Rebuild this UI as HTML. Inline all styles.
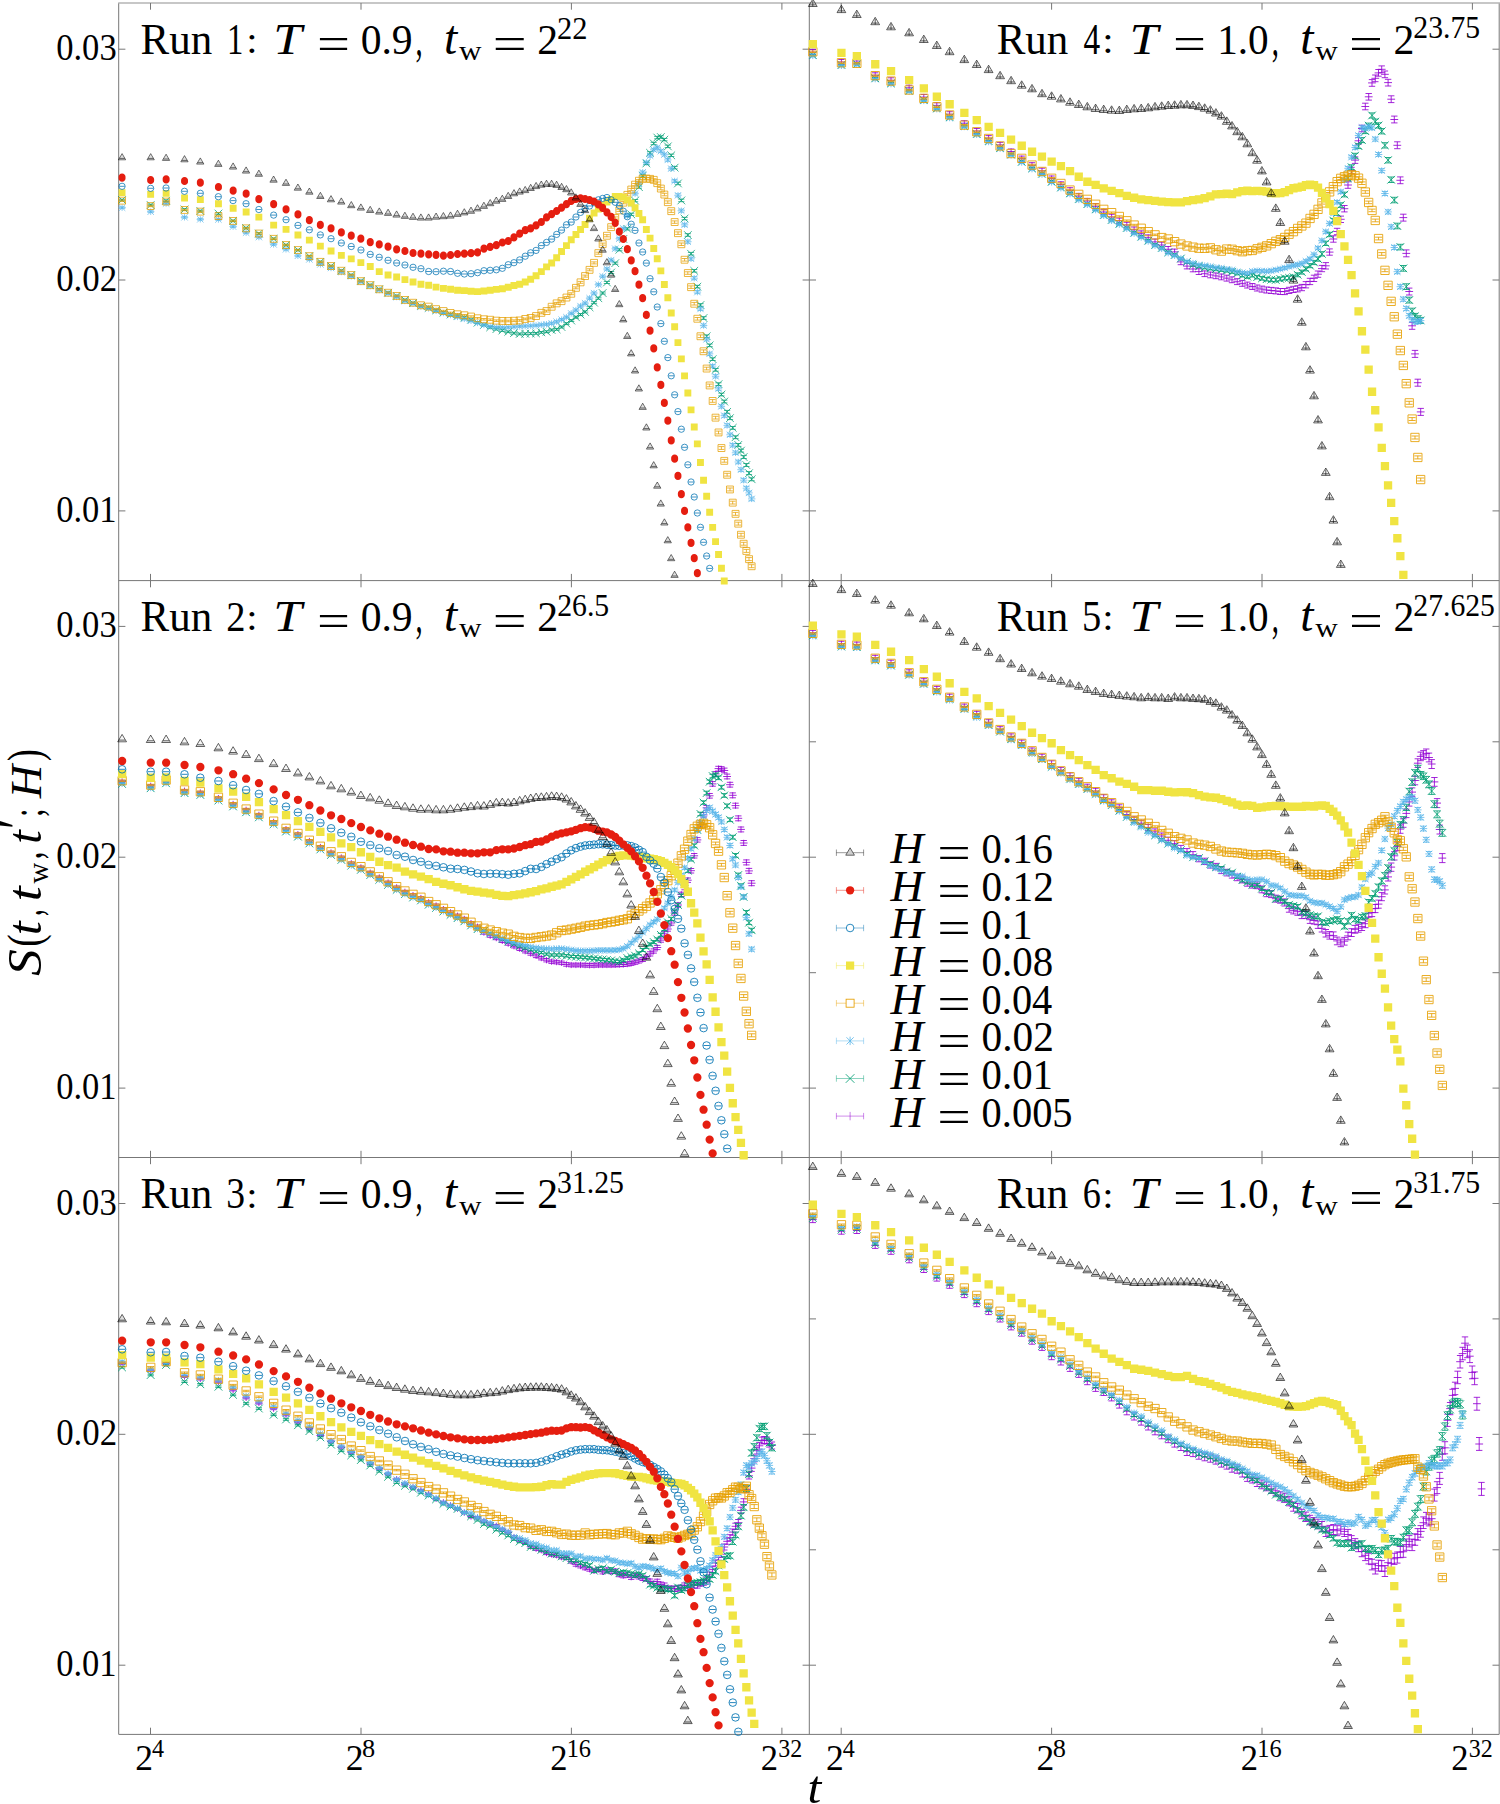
<!DOCTYPE html>
<html><head><meta charset="utf-8"><title>S(t,tw,t';H)</title>
<style>html,body{margin:0;padding:0;background:#fff}body{width:1500px;height:1804px;overflow:hidden}</style></head>
<body>
<svg width="1500" height="1804" viewBox="0 0 1500 1804" style="display:block" font-family="'Liberation Serif', serif" fill="#000">
<rect width="1500" height="1804" fill="#fff"/>
<g stroke="#777" stroke-width="1" fill="none">
<path d="M118.7 3.0V1734.4H1499.2V3.0M809.3 3.0V1734.4M118.7 580.6H1499.2M118.7 1157.5H1499.2"/>
<path d="M118.2 3.0H1500.0" stroke="#b4b4b4" stroke-width="1.7"/>
<path d="M150.5 3.0v6.7M150.5 573.9v13.4M150.5 1150.8v13.4M150.5 1734.4v-6.7M361.0 3.0v6.7M361.0 573.9v13.4M361.0 1150.8v13.4M361.0 1734.4v-6.7M571.4 3.0v6.7M571.4 573.9v13.4M571.4 1150.8v13.4M571.4 1734.4v-6.7M781.9 3.0v6.7M781.9 573.9v13.4M781.9 1150.8v13.4M781.9 1734.4v-6.7M841.2 3.0v6.7M841.2 573.9v13.4M841.2 1150.8v13.4M841.2 1734.4v-6.7M1051.6 3.0v6.7M1051.6 573.9v13.4M1051.6 1150.8v13.4M1051.6 1734.4v-6.7M1262.0 3.0v6.7M1262.0 573.9v13.4M1262.0 1150.8v13.4M1262.0 1734.4v-6.7M1472.4 3.0v6.7M1472.4 573.9v13.4M1472.4 1150.8v13.4M1472.4 1734.4v-6.7M118.7 49.2h6.7M802.5999999999999 49.2h13.4M1499.2 49.2h-6.7M118.7 280.0h6.7M802.5999999999999 280.0h13.4M1499.2 280.0h-6.7M118.7 510.9h6.7M802.5999999999999 510.9h13.4M1499.2 510.9h-6.7M118.7 626.4h6.7M802.5999999999999 626.4h13.4M1499.2 626.4h-6.7M118.7 857.2h6.7M802.5999999999999 857.2h13.4M1499.2 857.2h-6.7M118.7 1088.1h6.7M802.5999999999999 1088.1h13.4M1499.2 1088.1h-6.7M809.3 741.8h6.7M1499.2 741.8h-6.7M809.3 972.7h6.7M1499.2 972.7h-6.7M118.7 1203.5h6.7M802.5999999999999 1203.5h13.4M1499.2 1203.5h-6.7M118.7 1434.3h6.7M802.5999999999999 1434.3h13.4M1499.2 1434.3h-6.7M118.7 1665.2h6.7M802.5999999999999 1665.2h13.4M1499.2 1665.2h-6.7M809.3 1318.9h6.7M1499.2 1318.9h-6.7M809.3 1549.8h6.7M1499.2 1549.8h-6.7"/>
</g>
<g>
<path d="M118.2 196.2l7.7 7.7m0 -7.7l-7.7 7.7M122.1 199.2v1.6M119 199.2h6.2M119 200.8h6.2M146.8 201.2l7.7 7.7m0 -7.7l-7.7 7.7M150.7 204.2v1.6M147.6 204.2h6.2M147.6 205.8h6.2M162.2 196.9l7.7 7.7m0 -7.7l-7.7 7.7M166.1 199.9v1.6M163 199.9h6.2M163 201.5h6.2M180.7 205.6l7.7 7.7m0 -7.7l-7.7 7.7M184.5 208.7v1.6M181.4 208.7h6.2M181.4 210.3h6.2M196.5 207.2l7.7 7.7m0 -7.7l-7.7 7.7M200.3 210.2v1.6M197.2 210.2h6.2M197.2 211.8h6.2M214.6 209.7l7.7 7.7m0 -7.7l-7.7 7.7M218.4 212.7v1.6M215.3 212.7h6.2M215.3 214.3h6.2M229.2 217l7.7 7.7m0 -7.7l-7.7 7.7M233.1 220.1v1.6M230 220.1h6.2M230 221.7h6.2M242.2 224.2l7.7 7.7m0 -7.7l-7.7 7.7M246.1 227.2v1.6M243 227.2h6.2M243 228.8h6.2M255 229.7l7.7 7.7m0 -7.7l-7.7 7.7M258.9 232.7v1.6M255.8 232.7h6.2M255.8 234.3h6.2M269.8 235l7.7 7.7m0 -7.7l-7.7 7.7M273.6 238v1.6M270.5 238h6.2M270.5 239.6h6.2M282.2 241.2l7.7 7.7m0 -7.7l-7.7 7.7M286 244.2v1.6M282.9 244.2h6.2M282.9 245.8h6.2M294.1 246.2l7.7 7.7m0 -7.7l-7.7 7.7M297.9 249.3v1.6M294.8 249.3h6.2M294.8 250.9h6.2M305.5 252.3l7.7 7.7m0 -7.7l-7.7 7.7M309.4 255.4v1.6M306.3 255.4h6.2M306.3 257h6.2M316.5 258l7.7 7.7m0 -7.7l-7.7 7.7M320.4 261.1v1.6M317.3 261.1h6.2M317.3 262.7h6.2M327.2 262.2l7.7 7.7m0 -7.7l-7.7 7.7M331 265.2v1.6M327.9 265.2h6.2M327.9 266.8h6.2M337.5 266.9l7.7 7.7m0 -7.7l-7.7 7.7M341.3 269.9v1.6M338.2 269.9h6.2M338.2 271.5h6.2M347.4 271.2l7.7 7.7m0 -7.7l-7.7 7.7M351.3 274.3v1.6M348.2 274.3h6.2M348.2 275.9h6.2M357 277.1l7.7 7.7m0 -7.7l-7.7 7.7M360.9 280.1v1.6M357.8 280.1h6.2M357.8 281.7h6.2M366.4 281.3l7.7 7.7m0 -7.7l-7.7 7.7M370.2 284.3v1.6M367.1 284.3h6.2M367.1 285.9h6.2M375.4 285.4l7.7 7.7m0 -7.7l-7.7 7.7M379.3 288.5v1.6M376.2 288.5h6.2M376.2 290.1h6.2M384.2 288.9l7.7 7.7m0 -7.7l-7.7 7.7M388.1 291.9v1.6M385 291.9h6.2M385 293.5h6.2M392.8 292.1l7.7 7.7m0 -7.7l-7.7 7.7M396.6 295.2v1.6M393.5 295.2h6.2M393.5 296.8h6.2M401.1 296.1l7.7 7.7m0 -7.7l-7.7 7.7M404.9 299.2v1.6M401.8 299.2h6.2M401.8 300.8h6.2M409.2 299.2l7.7 7.7m0 -7.7l-7.7 7.7M413 302.2v1.6M409.9 302.2h6.2M409.9 303.8h6.2M417.1 302.1l7.7 7.7m0 -7.7l-7.7 7.7M420.9 305.2v1.6M417.8 305.2h6.2M417.8 306.8h6.2M424.8 304l7.7 7.7m0 -7.7l-7.7 7.7M428.6 307.1v1.6M425.5 307.1h6.2M425.5 308.7h6.2M432.2 306.5l7.7 7.7m0 -7.7l-7.7 7.7M436.1 309.5v1.6M433 309.5h6.2M433 311.1h6.2M439.6 308.7l7.7 7.7m0 -7.7l-7.7 7.7M443.4 311.7v1.6M440.3 311.7h6.2M440.3 313.3h6.2M446.7 310.6l7.7 7.7m0 -7.7l-7.7 7.7M450.5 313.7v1.6M447.4 313.7h6.2M447.4 315.3h6.2M453.7 312.1l7.7 7.7m0 -7.7l-7.7 7.7M457.5 315.2v1.6M454.4 315.2h6.2M454.4 316.8h6.2M460.5 313.7l7.7 7.7m0 -7.7l-7.7 7.7M464.3 316.8v1.6M461.2 316.8h6.2M461.2 318.4h6.2M467.2 315.9l7.7 7.7m0 -7.7l-7.7 7.7M471 318.9v1.6M467.9 318.9h6.2M467.9 320.5h6.2M473.7 318.8l7.7 7.7m0 -7.7l-7.7 7.7M477.5 321.8v1.6M474.4 321.8h6.2M474.4 323.4h6.2M480.1 321.1l7.7 7.7m0 -7.7l-7.7 7.7M483.9 324.2v1.6M480.8 324.2h6.2M480.8 325.8h6.2M486.3 323.5l7.7 7.7m0 -7.7l-7.7 7.7M490.2 326.6v1.6M487.1 326.6h6.2M487.1 328.2h6.2M492.5 325.3l7.7 7.7m0 -7.7l-7.7 7.7M496.3 328.4v1.6M493.2 328.4h6.2M493.2 330h6.2M498.5 326.7l7.7 7.7m0 -7.7l-7.7 7.7M502.3 329.7v1.6M499.2 329.7h6.2M499.2 331.4h6.2M504.4 328l7.7 7.7m0 -7.7l-7.7 7.7M508.2 331v1.6M505.1 331h6.2M505.1 332.6h6.2M510.1 329.3l7.7 7.7m0 -7.7l-7.7 7.7M514 332.3v1.7M510.9 332.3h6.2M510.9 334h6.2M515.8 330.1l7.7 7.7m0 -7.7l-7.7 7.7M519.7 333.1v1.7M516.6 333.1h6.2M516.6 334.8h6.2M521.4 329.9l7.7 7.7m0 -7.7l-7.7 7.7M525.2 332.9v1.7M522.1 332.9h6.2M522.1 334.6h6.2M526.8 329.7l7.7 7.7m0 -7.7l-7.7 7.7M530.7 332.7v1.7M527.6 332.7h6.2M527.6 334.4h6.2M532.2 329.5l7.7 7.7m0 -7.7l-7.7 7.7M536.1 332.5v1.8M533 332.5h6.2M533 334.2h6.2M537.5 328.5l7.7 7.7m0 -7.7l-7.7 7.7M541.3 331.5v1.8M538.2 331.5h6.2M538.2 333.2h6.2M542.7 327.9l7.7 7.7m0 -7.7l-7.7 7.7M546.5 330.8v1.8M543.4 330.8h6.2M543.4 332.6h6.2M547.8 326.2l7.7 7.7m0 -7.7l-7.7 7.7M551.6 329.1v1.8M548.5 329.1h6.2M548.5 330.9h6.2M552.8 325.5l7.7 7.7m0 -7.7l-7.7 7.7M556.6 328.4v1.8M553.5 328.4h6.2M553.5 330.2h6.2M557.7 323.2l7.7 7.7m0 -7.7l-7.7 7.7M561.6 326.1v1.9M558.5 326.1h6.2M558.5 328h6.2M562.6 319.8l7.7 7.7m0 -7.7l-7.7 7.7M566.4 322.7v1.9M563.3 322.7h6.2M563.3 324.6h6.2M567.4 316.7l7.7 7.7m0 -7.7l-7.7 7.7M571.2 319.6v1.9M568.1 319.6h6.2M568.1 321.5h6.2M572.1 313.4l7.7 7.7m0 -7.7l-7.7 7.7M575.9 316.2v1.9M572.8 316.2h6.2M572.8 318.2h6.2M576.7 310.7l7.7 7.7m0 -7.7l-7.7 7.7M580.5 313.6v2M577.4 313.6h6.2M577.4 315.6h6.2M581.2 308.1l7.7 7.7m0 -7.7l-7.7 7.7M585.1 310.9v2M582 310.9h6.2M582 312.9h6.2M585.7 303.5l7.7 7.7m0 -7.7l-7.7 7.7M589.6 306.3v2M586.5 306.3h6.2M586.5 308.3h6.2M590.2 298.8l7.7 7.7m0 -7.7l-7.7 7.7M594 301.7v2M590.9 301.7h6.2M590.9 303.7h6.2M594.5 294.4l7.7 7.7m0 -7.7l-7.7 7.7M598.4 297.2v2M595.3 297.2h6.2M595.3 299.2h6.2M598.8 289.2l7.7 7.7m0 -7.7l-7.7 7.7M602.7 292v2.1M599.6 292h6.2M599.6 294h6.2M603.1 278.6l7.7 7.7m0 -7.7l-7.7 7.7M606.9 281.4v2.1M603.8 281.4h6.2M603.8 283.5h6.2M607.3 268.7l7.7 7.7m0 -7.7l-7.7 7.7M611.1 271.5v2.1M608 271.5h6.2M608 273.6h6.2M611.4 259.3l7.7 7.7m0 -7.7l-7.7 7.7M615.2 262.1v2.1M612.1 262.1h6.2M612.1 264.2h6.2M615.5 245.9l7.7 7.7m0 -7.7l-7.7 7.7M619.3 248.7v2.2M616.2 248.7h6.2M616.2 250.8h6.2M619.5 235.1l7.7 7.7m0 -7.7l-7.7 7.7M623.3 237.8v2.2M620.2 237.8h6.2M620.2 240h6.2M623.5 225l7.7 7.7m0 -7.7l-7.7 7.7M627.3 227.8v2.2M624.2 227.8h6.2M624.2 230h6.2M627.4 210.5l7.7 7.7m0 -7.7l-7.7 7.7M631.2 213.2v2.2M628.1 213.2h6.2M628.1 215.4h6.2M631.2 196.8l7.7 7.7m0 -7.7l-7.7 7.7M635.1 199.5v2.2M632 199.5h6.2M632 201.8h6.2M635.1 183.3l7.7 7.7m0 -7.7l-7.7 7.7M638.9 186v2.3M635.8 186h6.2M635.8 188.2h6.2M638.8 172l7.7 7.7m0 -7.7l-7.7 7.7M642.7 174.7v2.3M639.6 174.7h6.2M639.6 177h6.2M642.5 159.6l7.7 7.7m0 -7.7l-7.7 7.7M646.4 162.3v2.3M643.3 162.3h6.2M643.3 164.6h6.2M646.2 149l7.7 7.7m0 -7.7l-7.7 7.7M650.1 151.7v2.3M647 151.7h6.2M647 154h6.2M649.9 139.6l7.7 7.7m0 -7.7l-7.7 7.7M653.7 142.3v2.4M650.6 142.3h6.2M650.6 144.7h6.2M653.4 133.7l7.7 7.7m0 -7.7l-7.7 7.7M657.3 136.4v2.4M654.2 136.4h6.2M654.2 138.8h6.2M657 133.2l7.7 7.7m0 -7.7l-7.7 7.7M660.8 135.8v2.4M657.7 135.8h6.2M657.7 138.2h6.2M660.5 135.8l7.7 7.7m0 -7.7l-7.7 7.7M664.4 138.4v2.4M661.3 138.4h6.2M661.3 140.8h6.2M664 142.5l7.7 7.7m0 -7.7l-7.7 7.7M667.8 145.1v2.4M664.7 145.1h6.2M664.7 147.6h6.2M667.4 151.5l7.7 7.7m0 -7.7l-7.7 7.7M671.2 154.1v2.5M668.1 154.1h6.2M668.1 156.5h6.2M670.8 163.8l7.7 7.7m0 -7.7l-7.7 7.7M674.6 166.4v2.5M671.5 166.4h6.2M671.5 168.9h6.2M674.1 179.6l7.7 7.7m0 -7.7l-7.7 7.7M678 182.2v2.5M674.9 182.2h6.2M674.9 184.7h6.2M677.5 196.6l7.7 7.7m0 -7.7l-7.7 7.7M681.3 199.1v2.5M678.2 199.1h6.2M678.2 201.7h6.2M680.7 214.7l7.7 7.7m0 -7.7l-7.7 7.7M684.6 217.3v2.5M681.5 217.3h6.2M681.5 219.8h6.2M684 231.2l7.7 7.7m0 -7.7l-7.7 7.7M687.8 233.7v2.6M684.7 233.7h6.2M684.7 236.3h6.2M687.2 249.9l7.7 7.7m0 -7.7l-7.7 7.7M691 252.4v2.6M687.9 252.4h6.2M687.9 255h6.2M690.4 267l7.7 7.7m0 -7.7l-7.7 7.7M694.2 269.5v2.6M691.1 269.5h6.2M691.1 272.1h6.2M693.5 282.8l7.7 7.7m0 -7.7l-7.7 7.7M697.4 285.3v2.6M694.3 285.3h6.2M694.3 287.9h6.2M696.6 301.2l7.7 7.7m0 -7.7l-7.7 7.7M700.5 303.7v2.6M697.4 303.7h6.2M697.4 306.3h6.2M699.7 314.2l7.7 7.7m0 -7.7l-7.7 7.7M703.6 316.7v2.7M700.5 316.7h6.2M700.5 319.4h6.2M702.8 332.4l7.7 7.7m0 -7.7l-7.7 7.7M706.6 334.9v2.7M703.5 334.9h6.2M703.5 337.6h6.2M705.8 341.5l7.7 7.7m0 -7.7l-7.7 7.7M709.6 344v2.7M706.5 344h6.2M706.5 346.7h6.2M708.8 355.3l7.7 7.7m0 -7.7l-7.7 7.7M712.6 357.8v2.7M709.5 357.8h6.2M709.5 360.5h6.2M711.7 366l7.7 7.7m0 -7.7l-7.7 7.7M715.6 368.5v2.7M712.5 368.5h6.2M712.5 371.2h6.2M714.7 380.3l7.7 7.7m0 -7.7l-7.7 7.7M718.5 382.8v2.8M715.4 382.8h6.2M715.4 385.5h6.2M717.6 390.7l7.7 7.7m0 -7.7l-7.7 7.7M721.4 393.1v2.8M718.3 393.1h6.2M718.3 395.9h6.2M720.4 397.7l7.7 7.7m0 -7.7l-7.7 7.7M724.3 400.1v2.8M721.2 400.1h6.2M721.2 402.9h6.2M723.3 408l7.7 7.7m0 -7.7l-7.7 7.7M727.1 410.4v2.8M724 410.4h6.2M724 413.3h6.2M726.1 414.3l7.7 7.7m0 -7.7l-7.7 7.7M730 416.8v2.8M726.9 416.8h6.2M726.9 419.6h6.2M728.9 424l7.7 7.7m0 -7.7l-7.7 7.7M732.7 426.5v2.9M729.6 426.5h6.2M729.6 429.3h6.2M731.7 433.4l7.7 7.7m0 -7.7l-7.7 7.7M735.5 435.8v2.9M732.4 435.8h6.2M732.4 438.7h6.2M734.4 441.1l7.7 7.7m0 -7.7l-7.7 7.7M738.3 443.5v2.9M735.2 443.5h6.2M735.2 446.4h6.2M737.1 446.8l7.7 7.7m0 -7.7l-7.7 7.7M741 449.2v2.9M737.9 449.2h6.2M737.9 452.1h6.2M739.8 453.2l7.7 7.7m0 -7.7l-7.7 7.7M743.7 455.6v2.9M740.6 455.6h6.2M740.6 458.5h6.2M742.5 461.2l7.7 7.7m0 -7.7l-7.7 7.7M746.4 463.5v3M743.3 463.5h6.2M743.3 466.5h6.2M745.2 469.3l7.7 7.7m0 -7.7l-7.7 7.7M749 471.6v3M745.9 471.6h6.2M745.9 474.6h6.2M747.8 475.4l7.7 7.7m0 -7.7l-7.7 7.7M751.6 477.8v3M748.5 477.8h6.2M748.5 480.8h6.2" fill="none" stroke="#009e73" stroke-width="0.75"/>
<path d="M118.9 204.5l6.4 6.4m0 -6.4l-6.4 6.4M118.4 207.7h7.4M122.1 204.5v6.4M119 206.8h6.2M119 208.6h6.2M147.5 208.5l6.4 6.4m0 -6.4l-6.4 6.4M147 211.7h7.4M150.7 208.5v6.4M147.6 210.8h6.2M147.6 212.6h6.2M162.9 200.3l6.4 6.4m0 -6.4l-6.4 6.4M162.4 203.5h7.4M166.1 200.3v6.4M163 202.6h6.2M163 204.4h6.2M181.3 214.1l6.4 6.4m0 -6.4l-6.4 6.4M180.8 217.3h7.4M184.5 214.1v6.4M181.4 216.4h6.2M181.4 218.2h6.2M197.1 216.1l6.4 6.4m0 -6.4l-6.4 6.4M196.6 219.3h7.4M200.3 216.1v6.4M197.2 218.4h6.2M197.2 220.2h6.2M215.2 216.3l6.4 6.4m0 -6.4l-6.4 6.4M214.7 219.5h7.4M218.4 216.3v6.4M215.3 218.6h6.2M215.3 220.4h6.2M229.9 223.4l6.4 6.4m0 -6.4l-6.4 6.4M229.4 226.6h7.4M233.1 223.4v6.4M230 225.7h6.2M230 227.5h6.2M242.9 229.5l6.4 6.4m0 -6.4l-6.4 6.4M242.4 232.7h7.4M246.1 229.5v6.4M243 231.8h6.2M243 233.6h6.2M255.7 233.9l6.4 6.4m0 -6.4l-6.4 6.4M255.2 237.1h7.4M258.9 233.9v6.4M255.8 236.2h6.2M255.8 238h6.2M270.4 241.2l6.4 6.4m0 -6.4l-6.4 6.4M269.9 244.4h7.4M273.6 241.2v6.4M270.5 243.5h6.2M270.5 245.3h6.2M282.8 246.1l6.4 6.4m0 -6.4l-6.4 6.4M282.3 249.3h7.4M286 246.1v6.4M282.9 248.4h6.2M282.9 250.2h6.2M294.7 252.6l6.4 6.4m0 -6.4l-6.4 6.4M294.2 255.8h7.4M297.9 252.6v6.4M294.8 254.9h6.2M294.8 256.7h6.2M306.2 256.2l6.4 6.4m0 -6.4l-6.4 6.4M305.7 259.4h7.4M309.4 256.2v6.4M306.3 258.5h6.2M306.3 260.3h6.2M317.2 261.2l6.4 6.4m0 -6.4l-6.4 6.4M316.7 264.4h7.4M320.4 261.2v6.4M317.3 263.5h6.2M317.3 265.3h6.2M327.8 264.8l6.4 6.4m0 -6.4l-6.4 6.4M327.4 268h7.4M331 264.8v6.4M327.9 267.1h6.2M327.9 268.9h6.2M338.1 268.8l6.4 6.4m0 -6.4l-6.4 6.4M337.6 272h7.4M341.3 268.8v6.4M338.2 271.1h6.2M338.2 272.9h6.2M348.1 273.1l6.4 6.4m0 -6.4l-6.4 6.4M347.6 276.3h7.4M351.3 273.1v6.4M348.2 275.4h6.2M348.2 277.2h6.2M357.7 278.7l6.4 6.4m0 -6.4l-6.4 6.4M357.2 281.9h7.4M360.9 278.7v6.4M357.8 281h6.2M357.8 282.8h6.2M367 282.9l6.4 6.4m0 -6.4l-6.4 6.4M366.6 286.1h7.4M370.2 282.9v6.4M367.1 285.2h6.2M367.1 287h6.2M376.1 286.8l6.4 6.4m0 -6.4l-6.4 6.4M375.6 290h7.4M379.3 286.8v6.4M376.2 289.1h6.2M376.2 290.9h6.2M384.9 290.3l6.4 6.4m0 -6.4l-6.4 6.4M384.4 293.5h7.4M388.1 290.3v6.4M385 292.6h6.2M385 294.4h6.2M393.4 293.8l6.4 6.4m0 -6.4l-6.4 6.4M393 297h7.4M396.6 293.8v6.4M393.5 296.1h6.2M393.5 297.9h6.2M401.7 297.8l6.4 6.4m0 -6.4l-6.4 6.4M401.3 301h7.4M404.9 297.8v6.4M401.8 300.1h6.2M401.8 301.9h6.2M409.8 300.5l6.4 6.4m0 -6.4l-6.4 6.4M409.4 303.7h7.4M413 300.5v6.4M409.9 302.8h6.2M409.9 304.6h6.2M417.7 303.3l6.4 6.4m0 -6.4l-6.4 6.4M417.2 306.5h7.4M420.9 303.3v6.4M417.8 305.6h6.2M417.8 307.4h6.2M425.4 305.2l6.4 6.4m0 -6.4l-6.4 6.4M424.9 308.4h7.4M428.6 305.2v6.4M425.5 307.5h6.2M425.5 309.3h6.2M432.9 307.6l6.4 6.4m0 -6.4l-6.4 6.4M432.4 310.8h7.4M436.1 307.6v6.4M433 309.9h6.2M433 311.7h6.2M440.2 309.8l6.4 6.4m0 -6.4l-6.4 6.4M439.7 313h7.4M443.4 309.8v6.4M440.3 312.1h6.2M440.3 313.9h6.2M447.3 311.8l6.4 6.4m0 -6.4l-6.4 6.4M446.9 315h7.4M450.5 311.8v6.4M447.4 314.1h6.2M447.4 315.9h6.2M454.3 313.7l6.4 6.4m0 -6.4l-6.4 6.4M453.8 316.9h7.4M457.5 313.7v6.4M454.4 316h6.2M454.4 317.8h6.2M461.1 315.7l6.4 6.4m0 -6.4l-6.4 6.4M460.7 318.9h7.4M464.3 315.7v6.4M461.2 318h6.2M461.2 319.8h6.2M467.8 317.6l6.4 6.4m0 -6.4l-6.4 6.4M467.3 320.8h7.4M471 317.6v6.4M467.9 319.9h6.2M467.9 321.7h6.2M474.3 319.7l6.4 6.4m0 -6.4l-6.4 6.4M473.9 322.9h7.4M477.5 319.7v6.4M474.4 322h6.2M474.4 323.8h6.2M480.7 321.8l6.4 6.4m0 -6.4l-6.4 6.4M480.2 325h7.4M483.9 321.8v6.4M480.8 324.1h6.2M480.8 325.9h6.2M487 323.3l6.4 6.4m0 -6.4l-6.4 6.4M486.5 326.5h7.4M490.2 323.3v6.4M487.1 325.6h6.2M487.1 327.4h6.2M493.1 324.1l6.4 6.4m0 -6.4l-6.4 6.4M492.6 327.3h7.4M496.3 324.1v6.4M493.2 326.4h6.2M493.2 328.2h6.2M499.1 324.3l6.4 6.4m0 -6.4l-6.4 6.4M498.6 327.5h7.4M502.3 324.3v6.4M499.2 326.6h6.2M499.2 328.4h6.2M505 324.1l6.4 6.4m0 -6.4l-6.4 6.4M504.5 327.3h7.4M508.2 324.1v6.4M505.1 326.4h6.2M505.1 328.3h6.2M510.8 323.6l6.4 6.4m0 -6.4l-6.4 6.4M510.3 326.8h7.4M514 323.6v6.4M510.9 325.9h6.2M510.9 327.7h6.2M516.5 323.2l6.4 6.4m0 -6.4l-6.4 6.4M516 326.4h7.4M519.7 323.2v6.4M516.6 325.4h6.2M516.6 327.3h6.2M522 322.8l6.4 6.4m0 -6.4l-6.4 6.4M521.5 326h7.4M525.2 322.8v6.4M522.1 325.1h6.2M522.1 327h6.2M527.5 322.6l6.4 6.4m0 -6.4l-6.4 6.4M527 325.8h7.4M530.7 322.6v6.4M527.6 324.8h6.2M527.6 326.7h6.2M532.9 322.2l6.4 6.4m0 -6.4l-6.4 6.4M532.4 325.4h7.4M536.1 322.2v6.4M533 324.4h6.2M533 326.3h6.2M538.1 321.6l6.4 6.4m0 -6.4l-6.4 6.4M537.7 324.8h7.4M541.3 321.6v6.4M538.2 323.8h6.2M538.2 325.8h6.2M543.3 321.1l6.4 6.4m0 -6.4l-6.4 6.4M542.8 324.3h7.4M546.5 321.1v6.4M543.4 323.3h6.2M543.4 325.3h6.2M548.4 320.1l6.4 6.4m0 -6.4l-6.4 6.4M547.9 323.3h7.4M551.6 320.1v6.4M548.5 322.3h6.2M548.5 324.4h6.2M553.4 318.5l6.4 6.4m0 -6.4l-6.4 6.4M553 321.7h7.4M556.6 318.5v6.4M553.5 320.7h6.2M553.5 322.8h6.2M558.4 316.4l6.4 6.4m0 -6.4l-6.4 6.4M557.9 319.6h7.4M561.6 316.4v6.4M558.5 318.5h6.2M558.5 320.6h6.2M563.2 314l6.4 6.4m0 -6.4l-6.4 6.4M562.7 317.2h7.4M566.4 314v6.4M563.3 316.1h6.2M563.3 318.2h6.2M568 310.2l6.4 6.4m0 -6.4l-6.4 6.4M567.5 313.4h7.4M571.2 310.2v6.4M568.1 312.3h6.2M568.1 314.4h6.2M572.7 306.9l6.4 6.4m0 -6.4l-6.4 6.4M572.2 310.1h7.4M575.9 306.9v6.4M572.8 309h6.2M572.8 311.2h6.2M577.3 302.9l6.4 6.4m0 -6.4l-6.4 6.4M576.9 306.1h7.4M580.5 302.9v6.4M577.4 305h6.2M577.4 307.2h6.2M581.9 300l6.4 6.4m0 -6.4l-6.4 6.4M581.4 303.2h7.4M585.1 300v6.4M582 302.1h6.2M582 304.4h6.2M586.4 295l6.4 6.4m0 -6.4l-6.4 6.4M585.9 298.2h7.4M589.6 295v6.4M586.5 297h6.2M586.5 299.3h6.2M590.8 289.9l6.4 6.4m0 -6.4l-6.4 6.4M590.3 293.1h7.4M594 289.9v6.4M590.9 292h6.2M590.9 294.3h6.2M595.2 281.4l6.4 6.4m0 -6.4l-6.4 6.4M594.7 284.6h7.4M598.4 281.4v6.4M595.3 283.4h6.2M595.3 285.8h6.2M599.5 273.2l6.4 6.4m0 -6.4l-6.4 6.4M599 276.4h7.4M602.7 273.2v6.4M599.6 275.2h6.2M599.6 277.6h6.2M603.7 265.8l6.4 6.4m0 -6.4l-6.4 6.4M603.3 269h7.4M606.9 265.8v6.4M603.8 267.8h6.2M603.8 270.2h6.2M607.9 256.9l6.4 6.4m0 -6.4l-6.4 6.4M607.4 260.1h7.4M611.1 256.9v6.4M608 258.9h6.2M608 261.3h6.2M612 245.5l6.4 6.4m0 -6.4l-6.4 6.4M611.6 248.7h7.4M615.2 245.5v6.4M612.1 247.4h6.2M612.1 249.9h6.2M616.1 235.5l6.4 6.4m0 -6.4l-6.4 6.4M615.6 238.7h7.4M619.3 235.5v6.4M616.2 237.5h6.2M616.2 240h6.2M620.1 225.3l6.4 6.4m0 -6.4l-6.4 6.4M619.7 228.5h7.4M623.3 225.3v6.4M620.2 227.3h6.2M620.2 229.8h6.2M624.1 212.4l6.4 6.4m0 -6.4l-6.4 6.4M623.6 215.6h7.4M627.3 212.4v6.4M624.2 214.3h6.2M624.2 216.9h6.2M628 200.9l6.4 6.4m0 -6.4l-6.4 6.4M627.5 204.1h7.4M631.2 200.9v6.4M628.1 202.8h6.2M628.1 205.4h6.2M631.9 190.4l6.4 6.4m0 -6.4l-6.4 6.4M631.4 193.6h7.4M635.1 190.4v6.4M632 192.3h6.2M632 194.9h6.2M635.7 180.4l6.4 6.4m0 -6.4l-6.4 6.4M635.2 183.6h7.4M638.9 180.4v6.4M635.8 182.3h6.2M635.8 184.9h6.2M639.5 169.1l6.4 6.4m0 -6.4l-6.4 6.4M639 172.3h7.4M642.7 169.1v6.4M639.6 171h6.2M639.6 173.7h6.2M643.2 159.2l6.4 6.4m0 -6.4l-6.4 6.4M642.7 162.4h7.4M646.4 159.2v6.4M643.3 161h6.2M643.3 163.7h6.2M646.9 152.5l6.4 6.4m0 -6.4l-6.4 6.4M646.4 155.7h7.4M650.1 152.5v6.4M647 154.3h6.2M647 157.1h6.2M650.5 146.5l6.4 6.4m0 -6.4l-6.4 6.4M650 149.7h7.4M653.7 146.5v6.4M650.6 148.4h6.2M650.6 151.1h6.2M654.1 144.4l6.4 6.4m0 -6.4l-6.4 6.4M653.6 147.6h7.4M657.3 144.4v6.4M654.2 146.2h6.2M654.2 149h6.2M657.6 148l6.4 6.4m0 -6.4l-6.4 6.4M657.2 151.2h7.4M660.8 148v6.4M657.7 149.8h6.2M657.7 152.6h6.2M661.2 151.4l6.4 6.4m0 -6.4l-6.4 6.4M660.7 154.6h7.4M664.4 151.4v6.4M661.3 153.2h6.2M661.3 156h6.2M664.6 156.7l6.4 6.4m0 -6.4l-6.4 6.4M664.1 159.9h7.4M667.8 156.7v6.4M664.7 158.4h6.2M664.7 161.3h6.2M668 165.4l6.4 6.4m0 -6.4l-6.4 6.4M667.6 168.6h7.4M671.2 165.4v6.4M668.1 167.1h6.2M668.1 170h6.2M671.4 177.8l6.4 6.4m0 -6.4l-6.4 6.4M671 181h7.4M674.6 177.8v6.4M671.5 179.6h6.2M671.5 182.5h6.2M674.8 192.1l6.4 6.4m0 -6.4l-6.4 6.4M674.3 195.3h7.4M678 192.1v6.4M674.9 193.8h6.2M674.9 196.8h6.2M678.1 207.5l6.4 6.4m0 -6.4l-6.4 6.4M677.6 210.7h7.4M681.3 207.5v6.4M678.2 209.2h6.2M678.2 212.2h6.2M681.4 221.6l6.4 6.4m0 -6.4l-6.4 6.4M680.9 224.8h7.4M684.6 221.6v6.4M681.5 223.3h6.2M681.5 226.3h6.2M684.6 238.5l6.4 6.4m0 -6.4l-6.4 6.4M684.2 241.7h7.4M687.8 238.5v6.4M684.7 240.1h6.2M684.7 243.2h6.2M687.8 255.6l6.4 6.4m0 -6.4l-6.4 6.4M687.4 258.8h7.4M691 255.6v6.4M687.9 257.3h6.2M687.9 260.3h6.2M691 275l6.4 6.4m0 -6.4l-6.4 6.4M690.5 278.2h7.4M694.2 275v6.4M691.1 276.6h6.2M691.1 279.7h6.2M694.2 288.9l6.4 6.4m0 -6.4l-6.4 6.4M693.7 292.1h7.4M697.4 288.9v6.4M694.3 290.5h6.2M694.3 293.6h6.2M697.3 305.8l6.4 6.4m0 -6.4l-6.4 6.4M696.8 309h7.4M700.5 305.8v6.4M697.4 307.4h6.2M697.4 310.5h6.2M700.4 322.3l6.4 6.4m0 -6.4l-6.4 6.4M699.9 325.5h7.4M703.6 322.3v6.4M700.5 323.9h6.2M700.5 327.1h6.2M703.4 336.1l6.4 6.4m0 -6.4l-6.4 6.4M702.9 339.3h7.4M706.6 336.1v6.4M703.5 337.7h6.2M703.5 340.9h6.2M706.4 350.6l6.4 6.4m0 -6.4l-6.4 6.4M705.9 353.8h7.4M709.6 350.6v6.4M706.5 352.2h6.2M706.5 355.4h6.2M709.4 362.9l6.4 6.4m0 -6.4l-6.4 6.4M708.9 366.1h7.4M712.6 362.9v6.4M709.5 364.5h6.2M709.5 367.7h6.2M712.4 373.1l6.4 6.4m0 -6.4l-6.4 6.4M711.9 376.3h7.4M715.6 373.1v6.4M712.5 374.6h6.2M712.5 377.9h6.2M715.3 385.6l6.4 6.4m0 -6.4l-6.4 6.4M714.8 388.8h7.4M718.5 385.6v6.4M715.4 387.1h6.2M715.4 390.4h6.2M718.2 403.2l6.4 6.4m0 -6.4l-6.4 6.4M717.7 406.4h7.4M721.4 403.2v6.4M718.3 404.8h6.2M718.3 408.1h6.2M721.1 412.4l6.4 6.4m0 -6.4l-6.4 6.4M720.6 415.6h7.4M724.3 412.4v6.4M721.2 414h6.2M721.2 417.3h6.2M723.9 422.2l6.4 6.4m0 -6.4l-6.4 6.4M723.5 425.4h7.4M727.1 422.2v6.4M724 423.7h6.2M724 427.1h6.2M726.8 431.6l6.4 6.4m0 -6.4l-6.4 6.4M726.3 434.8h7.4M730 431.6v6.4M726.9 433.1h6.2M726.9 436.5h6.2M729.5 442l6.4 6.4m0 -6.4l-6.4 6.4M729.1 445.2h7.4M732.7 442v6.4M729.6 443.5h6.2M729.6 446.9h6.2M732.3 449.6l6.4 6.4m0 -6.4l-6.4 6.4M731.8 452.8h7.4M735.5 449.6v6.4M732.4 451h6.2M732.4 454.5h6.2M735.1 458.8l6.4 6.4m0 -6.4l-6.4 6.4M734.6 462h7.4M738.3 458.8v6.4M735.2 460.2h6.2M735.2 463.7h6.2M737.8 466.5l6.4 6.4m0 -6.4l-6.4 6.4M737.3 469.7h7.4M741 466.5v6.4M737.9 467.9h6.2M737.9 471.4h6.2M740.5 477l6.4 6.4m0 -6.4l-6.4 6.4M740 480.2h7.4M743.7 477v6.4M740.6 478.4h6.2M740.6 482h6.2M743.2 485l6.4 6.4m0 -6.4l-6.4 6.4M742.7 488.2h7.4M746.4 485v6.4M743.3 486.4h6.2M743.3 490h6.2M745.8 489.7l6.4 6.4m0 -6.4l-6.4 6.4M745.3 492.9h7.4M749 489.7v6.4M745.9 491.1h6.2M745.9 494.7h6.2M748.4 495.7l6.4 6.4m0 -6.4l-6.4 6.4M748 498.9h7.4M751.6 495.7v6.4M748.5 497.1h6.2M748.5 500.7h6.2" fill="none" stroke="#56b4e9" stroke-width="0.68"/>
<path d="M118.6 197.2h6.9v6.9h-6.9zM119.2 200h5.8M119.2 201.4h5.8M122.1 200v1.4M147.2 202.6h6.9v6.9h-6.9zM147.8 205.3h5.8M147.8 206.7h5.8M150.7 205.3v1.4M162.7 198.1h6.9v6.9h-6.9zM163.2 200.8h5.8M163.2 202.2h5.8M166.1 200.8v1.4M181.1 206.5h6.9v6.9h-6.9zM181.6 209.3h5.8M181.6 210.7h5.8M184.5 209.3v1.4M196.9 208.2h6.9v6.9h-6.9zM197.4 211h5.8M197.4 212.4h5.8M200.3 211v1.4M215 212.6h6.9v6.9h-6.9zM215.5 215.3h5.8M215.5 216.7h5.8M218.4 215.3v1.4M229.7 217.5h6.9v6.9h-6.9zM230.2 220.2h5.8M230.2 221.6h5.8M233.1 220.2v1.4M242.7 224.9h6.9v6.9h-6.9zM243.2 227.6h5.8M243.2 229h5.8M246.1 227.6v1.4M255.4 230.1h6.9v6.9h-6.9zM256 232.8h5.8M256 234.2h5.8M258.9 232.8v1.4M270.2 235.4h6.9v6.9h-6.9zM270.7 238.1h5.8M270.7 239.5h5.8M273.6 238.1v1.4M282.6 241.6h6.9v6.9h-6.9zM283.1 244.3h5.8M283.1 245.7h5.8M286 244.3v1.4M294.5 246.6h6.9v6.9h-6.9zM295 249.4h5.8M295 250.8h5.8M297.9 249.4v1.4M305.9 252.7h6.9v6.9h-6.9zM306.5 255.5h5.8M306.5 256.9h5.8M309.4 255.5v1.4M316.9 258.4h6.9v6.9h-6.9zM317.5 261.2h5.8M317.5 262.6h5.8M320.4 261.2v1.4M327.6 262.6h6.9v6.9h-6.9zM328.1 265.3h5.8M328.1 266.7h5.8M331 265.3v1.4M337.9 267.3h6.9v6.9h-6.9zM338.4 270h5.8M338.4 271.4h5.8M341.3 270v1.4M347.8 271.6h6.9v6.9h-6.9zM348.4 274.4h5.8M348.4 275.8h5.8M351.3 274.4v1.4M357.4 277.7h6.9v6.9h-6.9zM358 280.4h5.8M358 281.8h5.8M360.9 280.4v1.4M366.8 281.7h6.9v6.9h-6.9zM367.3 284.4h5.8M367.3 285.8h5.8M370.2 284.4v1.4M375.8 285.8h6.9v6.9h-6.9zM376.4 288.6h5.8M376.4 290h5.8M379.3 288.6v1.4M384.6 289.3h6.9v6.9h-6.9zM385.2 292h5.8M385.2 293.4h5.8M388.1 292v1.4M393.2 292.5h6.9v6.9h-6.9zM393.7 295.3h5.8M393.7 296.7h5.8M396.6 295.3v1.4M401.5 296.5h6.9v6.9h-6.9zM402 299.3h5.8M402 300.7h5.8M404.9 299.3v1.4M409.6 299.3h6.9v6.9h-6.9zM410.1 302h5.8M410.1 303.4h5.8M413 302v1.4M417.5 301.8h6.9v6.9h-6.9zM418 304.6h5.8M418 306h5.8M420.9 304.6v1.4M425.2 303.2h6.9v6.9h-6.9zM425.7 305.9h5.8M425.7 307.3h5.8M428.6 305.9v1.4M432.6 305.7h6.9v6.9h-6.9zM433.2 308.4h5.8M433.2 309.8h5.8M436.1 308.4v1.4M440 307.6h6.9v6.9h-6.9zM440.5 310.3h5.8M440.5 311.7h5.8M443.4 310.3v1.4M447.1 309.5h6.9v6.9h-6.9zM447.6 312.2h5.8M447.6 313.7h5.8M450.5 312.2v1.4M454.1 310.8h6.9v6.9h-6.9zM454.6 313.5h5.8M454.6 315h5.8M457.5 313.5v1.5M460.9 311.8h6.9v6.9h-6.9zM461.4 314.5h5.8M461.4 316h5.8M464.3 314.5v1.5M467.6 313.1h6.9v6.9h-6.9zM468.1 315.8h5.8M468.1 317.3h5.8M471 315.8v1.5M474.1 314.8h6.9v6.9h-6.9zM474.6 317.5h5.8M474.6 319h5.8M477.5 317.5v1.5M480.5 315.8h6.9v6.9h-6.9zM481 318.5h5.8M481 320.1h5.8M483.9 318.5v1.5M486.7 316.3h6.9v6.9h-6.9zM487.3 318.9h5.8M487.3 320.5h5.8M490.2 318.9v1.6M492.9 317.2h6.9v6.9h-6.9zM493.4 319.9h5.8M493.4 321.5h5.8M496.3 319.9v1.6M498.9 317.5h6.9v6.9h-6.9zM499.4 320.2h5.8M499.4 321.8h5.8M502.3 320.2v1.6M504.8 317.6h6.9v6.9h-6.9zM505.3 320.2h5.8M505.3 321.8h5.8M508.2 320.2v1.6M510.5 317.3h6.9v6.9h-6.9zM511.1 319.9h5.8M511.1 321.6h5.8M514 319.9v1.7M516.2 317h6.9v6.9h-6.9zM516.8 319.6h5.8M516.8 321.2h5.8M519.7 319.6v1.7M521.8 315.5h6.9v6.9h-6.9zM522.3 318.1h5.8M522.3 319.8h5.8M525.2 318.1v1.7M527.2 314.5h6.9v6.9h-6.9zM527.8 317.1h5.8M527.8 318.8h5.8M530.7 317.1v1.7M532.6 312.6h6.9v6.9h-6.9zM533.2 315.1h5.8M533.2 316.9h5.8M536.1 315.1v1.8M537.9 309.4h6.9v6.9h-6.9zM538.4 312h5.8M538.4 313.8h5.8M541.3 312v1.8M543.1 307.6h6.9v6.9h-6.9zM543.6 310.2h5.8M543.6 312h5.8M546.5 310.2v1.8M548.2 303.3h6.9v6.9h-6.9zM548.7 305.9h5.8M548.7 307.7h5.8M551.6 305.9v1.8M553.2 299.9h6.9v6.9h-6.9zM553.7 302.4h5.8M553.7 304.3h5.8M556.6 302.4v1.8M558.1 297.7h6.9v6.9h-6.9zM558.7 300.2h5.8M558.7 302.1h5.8M561.6 300.2v1.9M563 294.1h6.9v6.9h-6.9zM563.5 296.6h5.8M563.5 298.5h5.8M566.4 296.6v1.9M567.8 290.3h6.9v6.9h-6.9zM568.3 292.8h5.8M568.3 294.7h5.8M571.2 292.8v1.9M572.5 284.4h6.9v6.9h-6.9zM573 286.9h5.8M573 288.8h5.8M575.9 286.9v1.9M577.1 278.9h6.9v6.9h-6.9zM577.6 281.4h5.8M577.6 283.3h5.8M580.5 281.4v2M581.6 272.6h6.9v6.9h-6.9zM582.2 275.1h5.8M582.2 277.1h5.8M585.1 275.1v2M586.1 266.4h6.9v6.9h-6.9zM586.7 268.8h5.8M586.7 270.8h5.8M589.6 268.8v2M590.6 259.4h6.9v6.9h-6.9zM591.1 261.9h5.8M591.1 263.9h5.8M594 261.9v2M594.9 249.7h6.9v6.9h-6.9zM595.5 252.2h5.8M595.5 254.2h5.8M598.4 252.2v2M599.2 240.7h6.9v6.9h-6.9zM599.8 243.1h5.8M599.8 245.2h5.8M602.7 243.1v2.1M603.5 232.3h6.9v6.9h-6.9zM604 234.7h5.8M604 236.8h5.8M606.9 234.7v2.1M607.7 223.7h6.9v6.9h-6.9zM608.2 226.1h5.8M608.2 228.2h5.8M611.1 226.1v2.1M611.8 214.6h6.9v6.9h-6.9zM612.3 216.9h5.8M612.3 219.1h5.8M615.2 216.9v2.1M615.9 206.9h6.9v6.9h-6.9zM616.4 209.3h5.8M616.4 211.4h5.8M619.3 209.3v2.2M619.9 199.2h6.9v6.9h-6.9zM620.4 201.6h5.8M620.4 203.8h5.8M623.3 201.6v2.2M623.9 191.4h6.9v6.9h-6.9zM624.4 193.7h5.8M624.4 195.9h5.8M627.3 193.7v2.2M627.8 186.1h6.9v6.9h-6.9zM628.3 188.4h5.8M628.3 190.7h5.8M631.2 188.4v2.2M631.6 181.2h6.9v6.9h-6.9zM632.2 183.5h5.8M632.2 185.8h5.8M635.1 183.5v2.2M635.5 177.3h6.9v6.9h-6.9zM636 179.6h5.8M636 181.9h5.8M638.9 179.6v2.3M639.2 175.3h6.9v6.9h-6.9zM639.8 177.6h5.8M639.8 179.9h5.8M642.7 177.6v2.3M642.9 175.1h6.9v6.9h-6.9zM643.5 177.4h5.8M643.5 179.7h5.8M646.4 177.4v2.3M646.6 175.4h6.9v6.9h-6.9zM647.2 177.7h5.8M647.2 180h5.8M650.1 177.7v2.3M650.3 176.4h6.9v6.9h-6.9zM650.8 178.7h5.8M650.8 181h5.8M653.7 178.7v2.4M653.8 179.7h6.9v6.9h-6.9zM654.4 182h5.8M654.4 184.4h5.8M657.3 182v2.4M657.4 185.1h6.9v6.9h-6.9zM657.9 187.4h5.8M657.9 189.8h5.8M660.8 187.4v2.4M660.9 191.1h6.9v6.9h-6.9zM661.5 193.3h5.8M661.5 195.8h5.8M664.4 193.3v2.4M664.4 198.7h6.9v6.9h-6.9zM664.9 200.9h5.8M664.9 203.3h5.8M667.8 200.9v2.4M667.8 207.7h6.9v6.9h-6.9zM668.3 209.9h5.8M668.3 212.4h5.8M671.2 209.9v2.5M671.2 218.6h6.9v6.9h-6.9zM671.7 220.9h5.8M671.7 223.3h5.8M674.6 220.9v2.5M674.5 229.7h6.9v6.9h-6.9zM675.1 231.9h5.8M675.1 234.4h5.8M678 231.9v2.5M677.9 240.8h6.9v6.9h-6.9zM678.4 243h5.8M678.4 245.5h5.8M681.3 243v2.5M681.1 256.3h6.9v6.9h-6.9zM681.7 258.5h5.8M681.7 261.1h5.8M684.6 258.5v2.5M684.4 269.6h6.9v6.9h-6.9zM684.9 271.8h5.8M684.9 274.3h5.8M687.8 271.8v2.6M687.6 283.7h6.9v6.9h-6.9zM688.1 285.9h5.8M688.1 288.4h5.8M691 285.9v2.6M690.8 300.3h6.9v6.9h-6.9zM691.3 302.4h5.8M691.3 305h5.8M694.2 302.4v2.6M693.9 315.3h6.9v6.9h-6.9zM694.5 317.5h5.8M694.5 320.1h5.8M697.4 317.5v2.6M697 332.8h6.9v6.9h-6.9zM697.6 334.9h5.8M697.6 337.6h5.8M700.5 334.9v2.6M700.1 347.8h6.9v6.9h-6.9zM700.7 349.9h5.8M700.7 352.6h5.8M703.6 349.9v2.7M703.2 365.1h6.9v6.9h-6.9zM703.7 367.2h5.8M703.7 369.9h5.8M706.6 367.2v2.7M706.2 382h6.9v6.9h-6.9zM706.7 384.1h5.8M706.7 386.8h5.8M709.6 384.1v2.7M709.2 397.5h6.9v6.9h-6.9zM709.7 399.6h5.8M709.7 402.3h5.8M712.6 399.6v2.7M712.1 414.2h6.9v6.9h-6.9zM712.7 416.3h5.8M712.7 419h5.8M715.6 416.3v2.7M715.1 429h6.9v6.9h-6.9zM715.6 431.1h5.8M715.6 433.9h5.8M718.5 431.1v2.8M718 444.6h6.9v6.9h-6.9zM718.5 446.6h5.8M718.5 449.4h5.8M721.4 446.6v2.8M720.8 457.4h6.9v6.9h-6.9zM721.4 459.4h5.8M721.4 462.2h5.8M724.3 459.4v2.8M723.7 471.3h6.9v6.9h-6.9zM724.2 473.3h5.8M724.2 476.1h5.8M727.1 473.3v2.8M726.5 486h6.9v6.9h-6.9zM727.1 488h5.8M727.1 490.9h5.8M730 488v2.8M729.3 499.2h6.9v6.9h-6.9zM729.8 501.2h5.8M729.8 504h5.8M732.7 501.2v2.9M732.1 510.4h6.9v6.9h-6.9zM732.6 512.4h5.8M732.6 515.3h5.8M735.5 512.4v2.9M734.8 520.2h6.9v6.9h-6.9zM735.4 522.2h5.8M735.4 525.1h5.8M738.3 522.2v2.9M737.5 531.3h6.9v6.9h-6.9zM738.1 533.3h5.8M738.1 536.2h5.8M741 533.3v2.9M740.2 540.3h6.9v6.9h-6.9zM740.8 542.3h5.8M740.8 545.2h5.8M743.7 542.3v2.9M742.9 547.5h6.9v6.9h-6.9zM743.5 549.4h5.8M743.5 552.4h5.8M746.4 549.4v3M745.6 555.7h6.9v6.9h-6.9zM746.1 557.6h5.8M746.1 560.6h5.8M749 557.6v3M748.2 562.8h6.9v6.9h-6.9zM748.7 564.7h5.8M748.7 567.7h5.8M751.6 564.7v3" fill="none" stroke="#e69f00" stroke-width="0.75"/>
<path d="M118.6 189.2h6.9v6.9h-6.9zM147.2 190.9h6.9v6.9h-6.9zM162.7 189.9h6.9v6.9h-6.9zM181.1 194.5h6.9v6.9h-6.9zM196.9 196.2h6.9v6.9h-6.9zM215 200.3h6.9v6.9h-6.9zM229.7 204.8h6.9v6.9h-6.9zM242.7 208.6h6.9v6.9h-6.9zM255.4 213.7h6.9v6.9h-6.9zM270.2 221.7h6.9v6.9h-6.9zM282.6 225.9h6.9v6.9h-6.9zM294.5 231.6h6.9v6.9h-6.9zM305.9 236.7h6.9v6.9h-6.9zM316.9 242.7h6.9v6.9h-6.9zM327.6 247.6h6.9v6.9h-6.9zM337.9 251.9h6.9v6.9h-6.9zM347.8 255.4h6.9v6.9h-6.9zM357.4 259.2h6.9v6.9h-6.9zM366.8 263h6.9v6.9h-6.9zM375.8 268.2h6.9v6.9h-6.9zM384.6 271.6h6.9v6.9h-6.9zM393.2 273.5h6.9v6.9h-6.9zM401.5 276.2h6.9v6.9h-6.9zM409.6 278.6h6.9v6.9h-6.9zM417.5 280.8h6.9v6.9h-6.9zM425.2 281.8h6.9v6.9h-6.9zM432.6 283.7h6.9v6.9h-6.9zM440 284.9h6.9v6.9h-6.9zM447.1 285.8h6.9v6.9h-6.9zM454.1 286.8h6.9v6.9h-6.9zM460.9 287.2h6.9v6.9h-6.9zM467.6 287.8h6.9v6.9h-6.9zM474.1 288.2h6.9v6.9h-6.9zM480.5 287.6h6.9v6.9h-6.9zM486.7 286.8h6.9v6.9h-6.9zM492.9 285.9h6.9v6.9h-6.9zM498.9 285.3h6.9v6.9h-6.9zM504.8 283.8h6.9v6.9h-6.9zM510.5 282.1h6.9v6.9h-6.9zM516.2 280.8h6.9v6.9h-6.9zM521.8 278.6h6.9v6.9h-6.9zM527.2 275.8h6.9v6.9h-6.9zM532.6 272.3h6.9v6.9h-6.9zM537.9 268.2h6.9v6.9h-6.9zM543.1 263.4h6.9v6.9h-6.9zM548.2 259.6h6.9v6.9h-6.9zM553.2 254.3h6.9v6.9h-6.9zM558.1 248h6.9v6.9h-6.9zM563 242.2h6.9v6.9h-6.9zM567.8 236.3h6.9v6.9h-6.9zM572.5 231.1h6.9v6.9h-6.9zM577.1 226h6.9v6.9h-6.9zM581.6 221h6.9v6.9h-6.9zM586.1 214.8h6.9v6.9h-6.9zM590.6 209.5h6.9v6.9h-6.9zM594.9 205.5h6.9v6.9h-6.9zM599.2 201.8h6.9v6.9h-6.9zM603.5 198.5h6.9v6.9h-6.9zM607.7 196h6.9v6.9h-6.9zM611.8 193.1h6.9v6.9h-6.9zM615.9 192.9h6.9v6.9h-6.9zM619.9 193.9h6.9v6.9h-6.9zM623.9 196.4h6.9v6.9h-6.9zM627.8 199.6h6.9v6.9h-6.9zM631.6 204.3h6.9v6.9h-6.9zM635.5 210.1h6.9v6.9h-6.9zM639.2 216.3h6.9v6.9h-6.9zM642.9 226h6.9v6.9h-6.9zM646.6 234.7h6.9v6.9h-6.9zM650.3 245.1h6.9v6.9h-6.9zM653.8 255.3h6.9v6.9h-6.9zM657.4 267.4h6.9v6.9h-6.9zM660.9 281h6.9v6.9h-6.9zM664.4 294.3h6.9v6.9h-6.9zM667.8 309.6h6.9v6.9h-6.9zM671.2 323.3h6.9v6.9h-6.9zM674.5 339.2h6.9v6.9h-6.9zM677.9 355.4h6.9v6.9h-6.9zM681.1 372.4h6.9v6.9h-6.9zM684.4 389.6h6.9v6.9h-6.9zM687.6 406.4h6.9v6.9h-6.9zM690.8 423.5h6.9v6.9h-6.9zM693.9 440.4h6.9v6.9h-6.9zM697 459h6.9v6.9h-6.9zM700.1 476.8h6.9v6.9h-6.9zM703.2 492.8h6.9v6.9h-6.9zM706.2 508.8h6.9v6.9h-6.9zM709.2 523.9h6.9v6.9h-6.9zM712.1 538.2h6.9v6.9h-6.9zM715.1 551h6.9v6.9h-6.9zM718 564.8h6.9v6.9h-6.9zM720.8 577.6h6.9v6.9h-6.9z" fill="#f0e442"/>
<path d="M118.9 186.3a3.1 3.1 0 1 0 6.3 0a3.1 3.1 0 1 0 -6.3 0zM119.4 186.3h5.4M147.5 188.3a3.1 3.1 0 1 0 6.3 0a3.1 3.1 0 1 0 -6.3 0zM148 188.3h5.4M162.9 188a3.1 3.1 0 1 0 6.3 0a3.1 3.1 0 1 0 -6.3 0zM163.4 188h5.4M181.3 191.3a3.1 3.1 0 1 0 6.3 0a3.1 3.1 0 1 0 -6.3 0zM181.8 191.3h5.4M197.2 193.3a3.1 3.1 0 1 0 6.3 0a3.1 3.1 0 1 0 -6.3 0zM197.6 193.3h5.4M215.2 196.7a3.1 3.1 0 1 0 6.3 0a3.1 3.1 0 1 0 -6.3 0zM215.7 196.7h5.4M229.9 200.6a3.1 3.1 0 1 0 6.3 0a3.1 3.1 0 1 0 -6.3 0zM230.4 200.6h5.4M242.9 203.7a3.1 3.1 0 1 0 6.3 0a3.1 3.1 0 1 0 -6.3 0zM243.4 203.7h5.4M255.7 209.5a3.1 3.1 0 1 0 6.3 0a3.1 3.1 0 1 0 -6.3 0zM256.2 209.5h5.4M270.5 215.1a3.1 3.1 0 1 0 6.3 0a3.1 3.1 0 1 0 -6.3 0zM270.9 215.1h5.4M282.9 219.7a3.1 3.1 0 1 0 6.3 0a3.1 3.1 0 1 0 -6.3 0zM283.3 219.7h5.4M294.8 225.4a3.1 3.1 0 1 0 6.3 0a3.1 3.1 0 1 0 -6.3 0zM295.2 225.4h5.4M306.2 229.8a3.1 3.1 0 1 0 6.3 0a3.1 3.1 0 1 0 -6.3 0zM306.7 229.8h5.4M317.2 234.9a3.1 3.1 0 1 0 6.3 0a3.1 3.1 0 1 0 -6.3 0zM317.7 234.9h5.4M327.9 238.7a3.1 3.1 0 1 0 6.3 0a3.1 3.1 0 1 0 -6.3 0zM328.4 238.7h5.4M338.2 243a3.1 3.1 0 1 0 6.3 0a3.1 3.1 0 1 0 -6.3 0zM338.6 243h5.4M348.1 246.5a3.1 3.1 0 1 0 6.3 0a3.1 3.1 0 1 0 -6.3 0zM348.6 246.5h5.4M357.8 250a3.1 3.1 0 1 0 6.3 0a3.1 3.1 0 1 0 -6.3 0zM358.2 250h5.4M367.1 254.4a3.1 3.1 0 1 0 6.3 0a3.1 3.1 0 1 0 -6.3 0zM367.6 254.4h5.4M376.1 257.3a3.1 3.1 0 1 0 6.3 0a3.1 3.1 0 1 0 -6.3 0zM376.6 257.3h5.4M384.9 260.3a3.1 3.1 0 1 0 6.3 0a3.1 3.1 0 1 0 -6.3 0zM385.4 260.3h5.4M393.5 263a3.1 3.1 0 1 0 6.3 0a3.1 3.1 0 1 0 -6.3 0zM394 263h5.4M401.8 265a3.1 3.1 0 1 0 6.3 0a3.1 3.1 0 1 0 -6.3 0zM402.3 265h5.4M409.9 267.3a3.1 3.1 0 1 0 6.3 0a3.1 3.1 0 1 0 -6.3 0zM410.4 267.3h5.4M417.8 268.7a3.1 3.1 0 1 0 6.3 0a3.1 3.1 0 1 0 -6.3 0zM418.2 268.7h5.4M425.5 271.5a3.1 3.1 0 1 0 6.3 0a3.1 3.1 0 1 0 -6.3 0zM425.9 271.5h5.4M432.9 271.7a3.1 3.1 0 1 0 6.3 0a3.1 3.1 0 1 0 -6.3 0zM433.4 271.7h5.4M440.3 271.2a3.1 3.1 0 1 0 6.3 0a3.1 3.1 0 1 0 -6.3 0zM440.7 271.2h5.4M447.4 271.5a3.1 3.1 0 1 0 6.3 0a3.1 3.1 0 1 0 -6.3 0zM447.9 271.5h5.4M454.4 273.3a3.1 3.1 0 1 0 6.3 0a3.1 3.1 0 1 0 -6.3 0zM454.8 273.3h5.4M461.2 274a3.1 3.1 0 1 0 6.3 0a3.1 3.1 0 1 0 -6.3 0zM461.7 274h5.4M467.9 273.7a3.1 3.1 0 1 0 6.3 0a3.1 3.1 0 1 0 -6.3 0zM468.3 273.7h5.4M474.4 272.7a3.1 3.1 0 1 0 6.3 0a3.1 3.1 0 1 0 -6.3 0zM474.9 272.7h5.4M480.8 270.7a3.1 3.1 0 1 0 6.3 0a3.1 3.1 0 1 0 -6.3 0zM481.2 270.7h5.4M487 270.3a3.1 3.1 0 1 0 6.3 0a3.1 3.1 0 1 0 -6.3 0zM487.5 270.3h5.4M493.2 269.8a3.1 3.1 0 1 0 6.3 0a3.1 3.1 0 1 0 -6.3 0zM493.6 269.8h5.4M499.2 268.3a3.1 3.1 0 1 0 6.3 0a3.1 3.1 0 1 0 -6.3 0zM499.6 268.3h5.4M505.1 264.7a3.1 3.1 0 1 0 6.3 0a3.1 3.1 0 1 0 -6.3 0zM505.5 264.7h5.4M510.8 262.7a3.1 3.1 0 1 0 6.3 0a3.1 3.1 0 1 0 -6.3 0zM511.3 262.7h5.4M516.5 259.9a3.1 3.1 0 1 0 6.3 0a3.1 3.1 0 1 0 -6.3 0zM517 259.9h5.4M522.1 256.2a3.1 3.1 0 1 0 6.3 0a3.1 3.1 0 1 0 -6.3 0zM522.5 256.2h5.4M527.5 252.8a3.1 3.1 0 1 0 6.3 0a3.1 3.1 0 1 0 -6.3 0zM528 252.8h5.4M532.9 250.4a3.1 3.1 0 1 0 6.3 0a3.1 3.1 0 1 0 -6.3 0zM533.4 250.4h5.4M538.2 245.6a3.1 3.1 0 1 0 6.3 0a3.1 3.1 0 1 0 -6.3 0zM538.7 245.6h5.4M543.4 242.4a3.1 3.1 0 1 0 6.3 0a3.1 3.1 0 1 0 -6.3 0zM543.8 242.4h5.4M548.5 239.1a3.1 3.1 0 1 0 6.3 0a3.1 3.1 0 1 0 -6.3 0zM548.9 239.1h5.4M553.5 234.4a3.1 3.1 0 1 0 6.3 0a3.1 3.1 0 1 0 -6.3 0zM554 234.4h5.4M558.4 230.1a3.1 3.1 0 1 0 6.3 0a3.1 3.1 0 1 0 -6.3 0zM558.9 230.1h5.4M563.3 224.8a3.1 3.1 0 1 0 6.3 0a3.1 3.1 0 1 0 -6.3 0zM563.7 224.8h5.4M568.1 222.1a3.1 3.1 0 1 0 6.3 0a3.1 3.1 0 1 0 -6.3 0zM568.5 222.1h5.4M572.8 217a3.1 3.1 0 1 0 6.3 0a3.1 3.1 0 1 0 -6.3 0zM573.2 217h5.4M577.4 212.4a3.1 3.1 0 1 0 6.3 0a3.1 3.1 0 1 0 -6.3 0zM577.9 212.4h5.4M581.9 208.4a3.1 3.1 0 1 0 6.3 0a3.1 3.1 0 1 0 -6.3 0zM582.4 208.4h5.4M586.4 206a3.1 3.1 0 1 0 6.3 0a3.1 3.1 0 1 0 -6.3 0zM586.9 206h5.4M590.9 202.8a3.1 3.1 0 1 0 6.3 0a3.1 3.1 0 1 0 -6.3 0zM591.3 202.8h5.4M595.2 199.8a3.1 3.1 0 1 0 6.3 0a3.1 3.1 0 1 0 -6.3 0zM595.7 199.8h5.4M599.5 198.4a3.1 3.1 0 1 0 6.3 0a3.1 3.1 0 1 0 -6.3 0zM600 198.4h5.4M603.8 197.5a3.1 3.1 0 1 0 6.3 0a3.1 3.1 0 1 0 -6.3 0zM604.3 197.5h5.4M608 199.8a3.1 3.1 0 1 0 6.3 0a3.1 3.1 0 1 0 -6.3 0zM608.4 199.8h5.4M612.1 202.3a3.1 3.1 0 1 0 6.3 0a3.1 3.1 0 1 0 -6.3 0zM612.6 202.3h5.4M616.2 205.6a3.1 3.1 0 1 0 6.3 0a3.1 3.1 0 1 0 -6.3 0zM616.6 205.6h5.4M620.2 211.2a3.1 3.1 0 1 0 6.3 0a3.1 3.1 0 1 0 -6.3 0zM620.7 211.2h5.4M624.2 216.7a3.1 3.1 0 1 0 6.3 0a3.1 3.1 0 1 0 -6.3 0zM624.6 216.7h5.4M628.1 224.2a3.1 3.1 0 1 0 6.3 0a3.1 3.1 0 1 0 -6.3 0zM628.5 224.2h5.4M631.9 230.4a3.1 3.1 0 1 0 6.3 0a3.1 3.1 0 1 0 -6.3 0zM632.4 230.4h5.4M635.8 243a3.1 3.1 0 1 0 6.3 0a3.1 3.1 0 1 0 -6.3 0zM636.2 243h5.4M639.5 252a3.1 3.1 0 1 0 6.3 0a3.1 3.1 0 1 0 -6.3 0zM640 252h5.4M643.2 263.1a3.1 3.1 0 1 0 6.3 0a3.1 3.1 0 1 0 -6.3 0zM643.7 263.1h5.4M646.9 278.7a3.1 3.1 0 1 0 6.3 0a3.1 3.1 0 1 0 -6.3 0zM647.4 278.7h5.4M650.6 291.8a3.1 3.1 0 1 0 6.3 0a3.1 3.1 0 1 0 -6.3 0zM651 291.8h5.4M654.1 307a3.1 3.1 0 1 0 6.3 0a3.1 3.1 0 1 0 -6.3 0zM654.6 307h5.4M657.7 323.6a3.1 3.1 0 1 0 6.3 0a3.1 3.1 0 1 0 -6.3 0zM658.2 323.6h5.4M661.2 341.3a3.1 3.1 0 1 0 6.3 0a3.1 3.1 0 1 0 -6.3 0zM661.7 341.3h5.4M664.7 357.6a3.1 3.1 0 1 0 6.3 0a3.1 3.1 0 1 0 -6.3 0zM665.1 357.6h5.4M668.1 375.8a3.1 3.1 0 1 0 6.3 0a3.1 3.1 0 1 0 -6.3 0zM668.6 375.8h5.4M671.5 394.8a3.1 3.1 0 1 0 6.3 0a3.1 3.1 0 1 0 -6.3 0zM672 394.8h5.4M674.8 411.6a3.1 3.1 0 1 0 6.3 0a3.1 3.1 0 1 0 -6.3 0zM675.3 411.6h5.4M678.2 429.2a3.1 3.1 0 1 0 6.3 0a3.1 3.1 0 1 0 -6.3 0zM678.6 429.2h5.4M681.4 447.3a3.1 3.1 0 1 0 6.3 0a3.1 3.1 0 1 0 -6.3 0zM681.9 447.3h5.4M684.7 464.8a3.1 3.1 0 1 0 6.3 0a3.1 3.1 0 1 0 -6.3 0zM685.2 464.8h5.4M687.9 482a3.1 3.1 0 1 0 6.3 0a3.1 3.1 0 1 0 -6.3 0zM688.4 482h5.4M691.1 497a3.1 3.1 0 1 0 6.3 0a3.1 3.1 0 1 0 -6.3 0zM691.5 497h5.4M694.2 513a3.1 3.1 0 1 0 6.3 0a3.1 3.1 0 1 0 -6.3 0zM694.7 513h5.4M697.3 527.3a3.1 3.1 0 1 0 6.3 0a3.1 3.1 0 1 0 -6.3 0zM697.8 527.3h5.4M700.4 542.3a3.1 3.1 0 1 0 6.3 0a3.1 3.1 0 1 0 -6.3 0zM700.9 542.3h5.4M703.5 556a3.1 3.1 0 1 0 6.3 0a3.1 3.1 0 1 0 -6.3 0zM703.9 556h5.4M706.5 568.4a3.1 3.1 0 1 0 6.3 0a3.1 3.1 0 1 0 -6.3 0zM706.9 568.4h5.4" fill="none" stroke="#0072b2" stroke-width="0.75"/>
<path d="M118.6 177.7a3.5 3.5 0 1 0 6.9 0a3.5 3.5 0 1 0 -6.9 0zM147.2 180a3.5 3.5 0 1 0 6.9 0a3.5 3.5 0 1 0 -6.9 0zM162.7 179.3a3.5 3.5 0 1 0 6.9 0a3.5 3.5 0 1 0 -6.9 0zM181.1 181a3.5 3.5 0 1 0 6.9 0a3.5 3.5 0 1 0 -6.9 0zM196.9 182.7a3.5 3.5 0 1 0 6.9 0a3.5 3.5 0 1 0 -6.9 0zM215 187a3.5 3.5 0 1 0 6.9 0a3.5 3.5 0 1 0 -6.9 0zM229.7 190.7a3.5 3.5 0 1 0 6.9 0a3.5 3.5 0 1 0 -6.9 0zM242.7 193.7a3.5 3.5 0 1 0 6.9 0a3.5 3.5 0 1 0 -6.9 0zM255.4 199.1a3.5 3.5 0 1 0 6.9 0a3.5 3.5 0 1 0 -6.9 0zM270.2 204.1a3.5 3.5 0 1 0 6.9 0a3.5 3.5 0 1 0 -6.9 0zM282.6 209.3a3.5 3.5 0 1 0 6.9 0a3.5 3.5 0 1 0 -6.9 0zM294.5 214.4a3.5 3.5 0 1 0 6.9 0a3.5 3.5 0 1 0 -6.9 0zM305.9 220.2a3.5 3.5 0 1 0 6.9 0a3.5 3.5 0 1 0 -6.9 0zM316.9 224.8a3.5 3.5 0 1 0 6.9 0a3.5 3.5 0 1 0 -6.9 0zM327.6 228.3a3.5 3.5 0 1 0 6.9 0a3.5 3.5 0 1 0 -6.9 0zM337.9 232.3a3.5 3.5 0 1 0 6.9 0a3.5 3.5 0 1 0 -6.9 0zM347.8 235.6a3.5 3.5 0 1 0 6.9 0a3.5 3.5 0 1 0 -6.9 0zM357.4 238.7a3.5 3.5 0 1 0 6.9 0a3.5 3.5 0 1 0 -6.9 0zM366.8 242.1a3.5 3.5 0 1 0 6.9 0a3.5 3.5 0 1 0 -6.9 0zM375.8 244.3a3.5 3.5 0 1 0 6.9 0a3.5 3.5 0 1 0 -6.9 0zM384.6 246.7a3.5 3.5 0 1 0 6.9 0a3.5 3.5 0 1 0 -6.9 0zM393.2 249.3a3.5 3.5 0 1 0 6.9 0a3.5 3.5 0 1 0 -6.9 0zM401.5 251a3.5 3.5 0 1 0 6.9 0a3.5 3.5 0 1 0 -6.9 0zM409.6 253a3.5 3.5 0 1 0 6.9 0a3.5 3.5 0 1 0 -6.9 0zM417.5 253.7a3.5 3.5 0 1 0 6.9 0a3.5 3.5 0 1 0 -6.9 0zM425.2 254.3a3.5 3.5 0 1 0 6.9 0a3.5 3.5 0 1 0 -6.9 0zM432.6 254.9a3.5 3.5 0 1 0 6.9 0a3.5 3.5 0 1 0 -6.9 0zM440 255.7a3.5 3.5 0 1 0 6.9 0a3.5 3.5 0 1 0 -6.9 0zM447.1 255a3.5 3.5 0 1 0 6.9 0a3.5 3.5 0 1 0 -6.9 0zM454.1 254a3.5 3.5 0 1 0 6.9 0a3.5 3.5 0 1 0 -6.9 0zM460.9 253.7a3.5 3.5 0 1 0 6.9 0a3.5 3.5 0 1 0 -6.9 0zM467.6 253.1a3.5 3.5 0 1 0 6.9 0a3.5 3.5 0 1 0 -6.9 0zM474.1 252.3a3.5 3.5 0 1 0 6.9 0a3.5 3.5 0 1 0 -6.9 0zM480.5 248.7a3.5 3.5 0 1 0 6.9 0a3.5 3.5 0 1 0 -6.9 0zM486.7 246.9a3.5 3.5 0 1 0 6.9 0a3.5 3.5 0 1 0 -6.9 0zM492.9 245.1a3.5 3.5 0 1 0 6.9 0a3.5 3.5 0 1 0 -6.9 0zM498.9 242.5a3.5 3.5 0 1 0 6.9 0a3.5 3.5 0 1 0 -6.9 0zM504.8 241a3.5 3.5 0 1 0 6.9 0a3.5 3.5 0 1 0 -6.9 0zM510.5 237.4a3.5 3.5 0 1 0 6.9 0a3.5 3.5 0 1 0 -6.9 0zM516.2 233.7a3.5 3.5 0 1 0 6.9 0a3.5 3.5 0 1 0 -6.9 0zM521.8 230.1a3.5 3.5 0 1 0 6.9 0a3.5 3.5 0 1 0 -6.9 0zM527.2 228.4a3.5 3.5 0 1 0 6.9 0a3.5 3.5 0 1 0 -6.9 0zM532.6 225.4a3.5 3.5 0 1 0 6.9 0a3.5 3.5 0 1 0 -6.9 0zM537.9 222a3.5 3.5 0 1 0 6.9 0a3.5 3.5 0 1 0 -6.9 0zM543.1 217.4a3.5 3.5 0 1 0 6.9 0a3.5 3.5 0 1 0 -6.9 0zM548.2 214.1a3.5 3.5 0 1 0 6.9 0a3.5 3.5 0 1 0 -6.9 0zM553.2 211a3.5 3.5 0 1 0 6.9 0a3.5 3.5 0 1 0 -6.9 0zM558.1 207.6a3.5 3.5 0 1 0 6.9 0a3.5 3.5 0 1 0 -6.9 0zM563 204.2a3.5 3.5 0 1 0 6.9 0a3.5 3.5 0 1 0 -6.9 0zM567.8 200.9a3.5 3.5 0 1 0 6.9 0a3.5 3.5 0 1 0 -6.9 0zM572.5 199a3.5 3.5 0 1 0 6.9 0a3.5 3.5 0 1 0 -6.9 0zM577.1 198.3a3.5 3.5 0 1 0 6.9 0a3.5 3.5 0 1 0 -6.9 0zM581.6 199a3.5 3.5 0 1 0 6.9 0a3.5 3.5 0 1 0 -6.9 0zM586.1 200a3.5 3.5 0 1 0 6.9 0a3.5 3.5 0 1 0 -6.9 0zM590.6 201.5a3.5 3.5 0 1 0 6.9 0a3.5 3.5 0 1 0 -6.9 0zM594.9 204.3a3.5 3.5 0 1 0 6.9 0a3.5 3.5 0 1 0 -6.9 0zM599.2 207.8a3.5 3.5 0 1 0 6.9 0a3.5 3.5 0 1 0 -6.9 0zM603.5 212.4a3.5 3.5 0 1 0 6.9 0a3.5 3.5 0 1 0 -6.9 0zM607.7 216.8a3.5 3.5 0 1 0 6.9 0a3.5 3.5 0 1 0 -6.9 0zM611.8 222.8a3.5 3.5 0 1 0 6.9 0a3.5 3.5 0 1 0 -6.9 0zM615.9 231.7a3.5 3.5 0 1 0 6.9 0a3.5 3.5 0 1 0 -6.9 0zM619.9 239a3.5 3.5 0 1 0 6.9 0a3.5 3.5 0 1 0 -6.9 0zM623.9 249.2a3.5 3.5 0 1 0 6.9 0a3.5 3.5 0 1 0 -6.9 0zM627.8 260.3a3.5 3.5 0 1 0 6.9 0a3.5 3.5 0 1 0 -6.9 0zM631.6 271.2a3.5 3.5 0 1 0 6.9 0a3.5 3.5 0 1 0 -6.9 0zM635.5 284.7a3.5 3.5 0 1 0 6.9 0a3.5 3.5 0 1 0 -6.9 0zM639.2 298.2a3.5 3.5 0 1 0 6.9 0a3.5 3.5 0 1 0 -6.9 0zM642.9 314.9a3.5 3.5 0 1 0 6.9 0a3.5 3.5 0 1 0 -6.9 0zM646.6 330.6a3.5 3.5 0 1 0 6.9 0a3.5 3.5 0 1 0 -6.9 0zM650.3 348.3a3.5 3.5 0 1 0 6.9 0a3.5 3.5 0 1 0 -6.9 0zM653.8 367.4a3.5 3.5 0 1 0 6.9 0a3.5 3.5 0 1 0 -6.9 0zM657.4 384.9a3.5 3.5 0 1 0 6.9 0a3.5 3.5 0 1 0 -6.9 0zM660.9 402.8a3.5 3.5 0 1 0 6.9 0a3.5 3.5 0 1 0 -6.9 0zM664.4 420.7a3.5 3.5 0 1 0 6.9 0a3.5 3.5 0 1 0 -6.9 0zM667.8 440.3a3.5 3.5 0 1 0 6.9 0a3.5 3.5 0 1 0 -6.9 0zM671.2 458.7a3.5 3.5 0 1 0 6.9 0a3.5 3.5 0 1 0 -6.9 0zM674.5 475.8a3.5 3.5 0 1 0 6.9 0a3.5 3.5 0 1 0 -6.9 0zM677.9 494.2a3.5 3.5 0 1 0 6.9 0a3.5 3.5 0 1 0 -6.9 0zM681.1 510.9a3.5 3.5 0 1 0 6.9 0a3.5 3.5 0 1 0 -6.9 0zM684.4 527.3a3.5 3.5 0 1 0 6.9 0a3.5 3.5 0 1 0 -6.9 0zM687.6 542.8a3.5 3.5 0 1 0 6.9 0a3.5 3.5 0 1 0 -6.9 0zM690.8 558.1a3.5 3.5 0 1 0 6.9 0a3.5 3.5 0 1 0 -6.9 0zM693.9 573.1a3.5 3.5 0 1 0 6.9 0a3.5 3.5 0 1 0 -6.9 0z" fill="#e51e10"/>
<path d="M122.1 153.6l3.6 6.2h-7.3zM150.7 153.6l3.6 6.2h-7.3zM166.1 154.2l3.6 6.2h-7.3zM184.5 155.6l3.6 6.2h-7.3zM200.3 157.9l3.6 6.2h-7.3zM218.4 160.2l3.6 6.2h-7.3zM233.1 162.9l3.6 6.2h-7.3zM246.1 166.9l3.6 6.2h-7.3zM258.9 170.1l3.6 6.2h-7.3zM273.6 176l3.6 6.2h-7.3zM286 179.2l3.6 6.2h-7.3zM297.9 184l3.6 6.2h-7.3zM309.4 188l3.6 6.2h-7.3zM320.4 192.3l3.6 6.2h-7.3zM331 195.6l3.6 6.2h-7.3zM341.3 197.9l3.6 6.2h-7.3zM351.3 201.5l3.6 6.2h-7.3zM360.9 203.9l3.6 6.2h-7.3zM370.2 206.3l3.6 6.2h-7.3zM379.3 207.9l3.6 6.2h-7.3zM388.1 209.2l3.6 6.2h-7.3zM396.6 210.9l3.6 6.2h-7.3zM404.9 212.2l3.6 6.2h-7.3zM413 213.2l3.6 6.2h-7.3zM420.9 213.9l3.6 6.2h-7.3zM428.6 213.9l3.6 6.2h-7.3zM436.1 213l3.6 6.2h-7.3zM443.4 212.5l3.6 6.2h-7.3zM450.5 211.9l3.6 6.2h-7.3zM457.5 210.2l3.6 6.2h-7.3zM464.3 208.7l3.6 6.2h-7.3zM471 207.1l3.6 6.2h-7.3zM477.5 204.7l3.6 6.2h-7.3zM483.9 202.2l3.6 6.2h-7.3zM490.2 199.5l3.6 6.2h-7.3zM496.3 197l3.6 6.2h-7.3zM502.3 195.2l3.6 6.2h-7.3zM508.2 192.3l3.6 6.2h-7.3zM514 189.6l3.6 6.2h-7.3zM519.7 187.9l3.6 6.2h-7.3zM525.2 186.4l3.6 6.2h-7.3zM530.7 184.3l3.6 6.2h-7.3zM536.1 182.4l3.6 6.2h-7.3zM541.3 181l3.6 6.2h-7.3zM546.5 180.2l3.6 6.2h-7.3zM551.6 180.2l3.6 6.2h-7.3zM556.6 181.2l3.6 6.2h-7.3zM561.6 183.3l3.6 6.2h-7.3zM566.4 185.5l3.6 6.2h-7.3zM571.2 188.8l3.6 6.2h-7.3zM575.9 193.8l3.6 6.2h-7.3zM580.5 200.2l3.6 6.2h-7.3zM585.1 206.4l3.6 6.2h-7.3zM589.6 215.6l3.6 6.2h-7.3zM594 224.4l3.6 6.2h-7.3zM598.4 234.8l3.6 6.2h-7.3zM602.7 246l3.6 6.2h-7.3zM606.9 258.6l3.6 6.2h-7.3zM611.1 271l3.6 6.2h-7.3zM615.2 285.3l3.6 6.2h-7.3zM619.3 300.5l3.6 6.2h-7.3zM623.3 315.7l3.6 6.2h-7.3zM627.3 332.3l3.6 6.2h-7.3zM631.2 349.7l3.6 6.2h-7.3zM635.1 366.8l3.6 6.2h-7.3zM638.9 384.8l3.6 6.2h-7.3zM642.7 403.2l3.6 6.2h-7.3zM646.4 423.8l3.6 6.2h-7.3zM650.1 442.9l3.6 6.2h-7.3zM653.7 461.6l3.6 6.2h-7.3zM657.3 482l3.6 6.2h-7.3zM660.8 499.9l3.6 6.2h-7.3zM664.4 518.8l3.6 6.2h-7.3zM667.8 536.6l3.6 6.2h-7.3zM671.2 554.5l3.6 6.2h-7.3zM674.6 571.2l3.6 6.2h-7.3z" fill="#000" fill-opacity=".13" stroke="#000" stroke-width="0.54"/>
<path d="M119.5 158.4h5.3M148.1 158.4h5.3M163.5 159h5.3M181.9 160.4h5.3M197.7 162.7h5.3M215.8 165h5.3M230.5 167.7h5.3M243.5 171.7h5.3M256.3 174.9h5.3M271 180.8h5.3M283.4 184h5.3M295.3 188.8h5.3M306.7 192.8h5.3M317.8 197.1h5.3M328.4 200.4h5.3M338.7 202.7h5.3M348.6 206.3h5.3M358.3 208.7h5.3M367.6 211.1h5.3M376.7 212.7h5.3M385.5 214h5.3M394 215.7h5.3M402.3 217h5.3M410.4 218h5.3M418.3 218.7h5.3M426 218.7h5.3M433.5 217.8h5.3M440.8 217.3h5.3M447.9 216.7h5.3M454.9 215h5.3M461.7 213.5h5.3M468.4 211.9h5.3M474.9 209.5h5.3M481.3 207h5.3M487.5 204.3h5.3M493.7 201.8h5.3M499.7 200h5.3M505.6 197.1h5.3M511.4 194.4h5.3M517 192.7h5.3M522.6 191.2h5.3M528.1 189.1h5.3M533.4 187.2h5.3M538.7 185.8h5.3M543.9 185h5.3M549 185h5.3M554 186h5.3M558.9 188.1h5.3M563.8 190.3h5.3M568.6 193.6h5.3M573.3 198.6h5.3M577.9 205h5.3M582.5 211.2h5.3M587 220.4h5.3M591.4 229.2h5.3M595.8 239.6h5.3M600.1 250.8h5.3M604.3 263.4h5.3M608.5 275.8h5.3M612.6 290.1h5.3M616.7 305.3h5.3M620.7 320.5h5.3M624.7 337.1h5.3M628.6 354.5h5.3M632.5 371.6h5.3M636.3 389.6h5.3M640 408h5.3M643.8 428.6h5.3M647.4 447.7h5.3M651.1 466.4h5.3M654.7 486.8h5.3M658.2 504.7h5.3M661.7 523.6h5.3M665.2 541.4h5.3M668.6 559.3h5.3M672 576h5.3" fill="none" stroke="#000" stroke-width="0.56"/>
</g>
<g>
<path d="M118.2 781.5h7.8M122.1 778.4v6.2M118.9 780.3h6.4M118.9 782.7h6.4M146.8 785.8h7.8M150.7 782.7v6.2M147.5 784.6h6.4M147.5 787h6.4M162.2 780.8h7.8M166.1 777.7v6.2M162.9 779.6h6.4M162.9 782h6.4M180.6 790.8h7.8M184.5 787.6v6.2M181.3 789.6h6.4M181.3 792h6.4M196.4 792.5h7.8M200.3 789.4v6.2M197.1 791.3h6.4M197.1 793.7h6.4M214.5 798.1h7.8M218.4 795v6.2M215.2 796.9h6.4M215.2 799.3h6.4M229.2 804h7.8M233.1 800.9v6.2M229.9 802.8h6.4M229.9 805.2h6.4M242.2 809.8h7.8M246.1 806.7v6.2M242.9 808.6h6.4M242.9 811.1h6.4M255 814.9h7.8M258.9 811.8v6.2M255.7 813.7h6.4M255.7 816.2h6.4M269.7 822h7.8M273.6 818.8v6.2M270.4 820.7h6.4M270.4 823.2h6.4M282.1 829.1h7.8M286 826v6.2M282.8 827.9h6.4M282.8 830.4h6.4M294 834.2h7.8M297.9 831.1v6.2M294.7 832.9h6.4M294.7 835.5h6.4M305.5 841h7.8M309.4 837.9v6.2M306.2 839.7h6.4M306.2 842.3h6.4M316.5 847h7.8M320.4 843.9v6.2M317.2 845.7h6.4M317.2 848.3h6.4M327.1 852.5h7.8M331 849.4v6.2M327.8 851.2h6.4M327.8 853.8h6.4M337.4 857.5h7.8M341.3 854.4v6.2M338.1 856.2h6.4M338.1 858.8h6.4M347.4 863.3h7.8M351.3 860.2v6.2M348.1 862h6.4M348.1 864.6h6.4M357 867.5h7.8M360.9 864.3v6.2M357.7 866.1h6.4M357.7 868.8h6.4M366.3 872.6h7.8M370.2 869.5v6.2M367 871.3h6.4M367 874h6.4M375.4 877.5h7.8M379.3 874.4v6.2M376.1 876.1h6.4M376.1 878.9h6.4M384.2 882.6h7.8M388.1 879.4v6.2M384.9 881.2h6.4M384.9 883.9h6.4M392.7 887.5h7.8M396.6 884.3v6.2M393.4 886.1h6.4M393.4 888.8h6.4M401 891.8h7.8M404.9 888.7v6.2M401.7 890.4h6.4M401.7 893.2h6.4M409.1 895.1h7.8M413 892v6.2M409.8 893.7h6.4M409.8 896.5h6.4M417 898.1h7.8M420.9 894.9v6.2M417.7 896.6h6.4M417.7 899.5h6.4M424.7 902.3h7.8M428.6 899.2v6.2M425.4 900.9h6.4M425.4 903.7h6.4M432.2 905.5h7.8M436.1 902.4v6.2M432.9 904.1h6.4M432.9 907h6.4M439.5 909.1h7.8M443.4 906v6.2M440.2 907.7h6.4M440.2 910.6h6.4M446.6 912.4h7.8M450.5 909.3v6.2M447.3 910.9h6.4M447.3 913.9h6.4M453.6 915.7h7.8M457.5 912.6v6.2M454.3 914.2h6.4M454.3 917.2h6.4M460.4 918.9h7.8M464.3 915.8v6.2M461.1 917.4h6.4M461.1 920.4h6.4M467.1 923.1h7.8M471 920v6.2M467.8 921.6h6.4M467.8 924.6h6.4M473.6 926.7h7.8M477.5 923.6v6.2M474.3 925.1h6.4M474.3 928.2h6.4M480 932.6h7.8M483.9 929.5v6.2M480.7 931.1h6.4M480.7 934.2h6.4M486.3 935.7h7.8M490.2 932.6v6.2M487 934.1h6.4M487 937.3h6.4M492.4 938.1h7.8M496.3 935v6.2M493.1 936.5h6.4M493.1 939.7h6.4M498.4 940.9h7.8M502.3 937.8v6.2M499.1 939.3h6.4M499.1 942.5h6.4M504.3 943.6h7.8M508.2 940.5v6.2M505 942h6.4M505 945.2h6.4M510.1 946.3h7.8M514 943.2v6.2M510.8 944.7h6.4M510.8 947.9h6.4M515.8 948.8h7.8M519.7 945.7v6.2M516.5 947.2h6.4M516.5 950.5h6.4M521.3 951.2h7.8M525.2 948.1v6.2M522 949.6h6.4M522 952.9h6.4M526.8 953.6h7.8M530.7 950.4v6.2M527.5 951.9h6.4M527.5 955.2h6.4M532.2 955.9h7.8M536.1 952.8v6.2M532.9 954.2h6.4M532.9 957.6h6.4M537.4 958.2h7.8M541.3 955v6.2M538.1 956.5h6.4M538.1 959.9h6.4M542.6 960.2h7.8M546.5 957.1v6.2M543.3 958.5h6.4M543.3 961.9h6.4M547.7 961.7h7.8M551.6 958.6v6.2M548.4 960h6.4M548.4 963.4h6.4M552.7 962.2h7.8M556.6 959v6.2M553.4 960.4h6.4M553.4 963.9h6.4M557.7 962.8h7.8M561.6 959.7v6.2M558.4 961.1h6.4M558.4 964.6h6.4M562.5 964.4h7.8M566.4 961.3v6.2M563.2 962.6h6.4M563.2 966.2h6.4M567.3 965h7.8M571.2 961.9v6.2M568 963.2h6.4M568 966.8h6.4M572 965h7.8M575.9 961.9v6.2M572.7 963.2h6.4M572.7 966.8h6.4M576.6 965h7.8M580.5 961.9v6.2M577.3 963.2h6.4M577.3 966.8h6.4M581.2 965.2h7.8M585.1 962v6.2M581.9 963.3h6.4M581.9 967h6.4M585.7 965.3h7.8M589.6 962.2v6.2M586.4 963.4h6.4M586.4 967.1h6.4M590.1 965.2h7.8M594 962.1v6.2M590.8 963.3h6.4M590.8 967.1h6.4M594.5 965h7.8M598.4 961.9v6.2M595.2 963.1h6.4M595.2 966.9h6.4M598.8 965h7.8M602.7 961.9v6.2M599.5 963.1h6.4M599.5 966.9h6.4M603 965h7.8M606.9 961.9v6.2M603.7 963.1h6.4M603.7 966.9h6.4M607.2 965h7.8M611.1 961.9v6.2M607.9 963.1h6.4M607.9 966.9h6.4M611.3 964.9h7.8M615.2 961.8v6.2M612 962.9h6.4M612 966.8h6.4M615.4 964.7h7.8M619.3 961.6v6.2M616.1 962.8h6.4M616.1 966.7h6.4M619.4 964.5h7.8M623.3 961.4v6.2M620.1 962.5h6.4M620.1 966.5h6.4M623.4 964.1h7.8M627.3 961v6.2M624.1 962.1h6.4M624.1 966.1h6.4M627.3 963.4h7.8M631.2 960.3v6.2M628 961.4h6.4M628 965.4h6.4M631.2 962.3h7.8M635.1 959.1v6.2M631.9 960.2h6.4M631.9 964.3h6.4M635 961h7.8M638.9 957.9v6.2M635.7 959h6.4M635.7 963h6.4M638.8 959.5h7.8M642.7 956.4v6.2M639.5 957.5h6.4M639.5 961.5h6.4M642.5 956.9h7.8M646.4 953.8v6.2M643.2 954.9h6.4M643.2 959h6.4M646.2 953.9h7.8M650.1 950.8v6.2M646.9 951.8h6.4M646.9 956h6.4M649.8 951h7.8M653.7 947.9v6.2M650.5 948.9h6.4M650.5 953.1h6.4M653.4 947.5h7.8M657.3 944.4v6.2M654.1 945.4h6.4M654.1 949.6h6.4M656.9 940.1h7.8M660.8 937v6.2M657.6 938h6.4M657.6 942.2h6.4M660.5 933.8h7.8M664.4 930.7v6.2M661.2 931.7h6.4M661.2 936h6.4M663.9 929h7.8M667.8 925.9v6.2M664.6 926.9h6.4M664.6 931.2h6.4M667.3 923h7.8M671.2 919.9v6.2M668 920.9h6.4M668 925.2h6.4M670.7 913h7.8M674.6 909.9v6.2M671.4 910.9h6.4M671.4 915.2h6.4M674.1 905h7.8M678 901.9v6.2M674.8 902.8h6.4M674.8 907.2h6.4M677.4 894.4h7.8M681.3 891.2v6.2M678.1 892.2h6.4M678.1 896.5h6.4M680.7 887.6h7.8M684.6 884.4v6.2M681.4 885.4h6.4M681.4 889.8h6.4M683.9 880.2h7.8M687.8 877.1v6.2M684.6 878h6.4M684.6 882.4h6.4M687.1 870.7h7.8M691 867.6v6.2M687.8 868.5h6.4M687.8 873h6.4M690.3 855.8h7.8M694.2 852.7v6.2M691 853.5h6.4M691 858h6.4M693.5 839.9h7.8M697.4 836.7v6.2M694.2 837.6h6.4M694.2 842.1h6.4M696.6 824.6h7.8M700.5 821.5v6.2M697.3 822.3h6.4M697.3 826.9h6.4M699.7 814.9h7.8M703.6 811.7v6.2M700.4 812.6h6.4M700.4 817.1h6.4M702.7 807.8h7.8M706.6 804.7v6.2M703.4 805.5h6.4M703.4 810.1h6.4M705.7 795.8h7.8M709.6 792.7v6.2M706.4 793.5h6.4M706.4 798.1h6.4M708.7 783.9h7.8M712.6 780.8v6.2M709.4 781.6h6.4M709.4 786.2h6.4M711.7 773.9h7.8M715.6 770.8v6.2M712.4 771.6h6.4M712.4 776.3h6.4M714.6 768.6h7.8M718.5 765.5v6.2M715.3 766.3h6.4M715.3 771h6.4M717.5 769.1h7.8M721.4 765.9v6.2M718.2 766.7h6.4M718.2 771.4h6.4M720.4 770.5h7.8M724.3 767.3v6.2M721.1 768.1h6.4M721.1 772.8h6.4M723.2 776.5h7.8M727.1 773.4v6.2M723.9 774.1h6.4M723.9 778.9h6.4M726.1 784.7h7.8M730 781.5v6.2M726.8 782.3h6.4M726.8 787.1h6.4M728.8 795.3h7.8M732.7 792.2v6.2M729.5 792.9h6.4M729.5 797.8h6.4M731.6 805.6h7.8M735.5 802.5v6.2M732.3 803.2h6.4M732.3 808h6.4M734.4 818.3h7.8M738.3 815.2v6.2M735.1 815.9h6.4M735.1 820.8h6.4M737.1 829.4h7.8M741 826.3v6.2M737.8 827h6.4M737.8 831.9h6.4M739.8 843h7.8M743.7 839.8v6.2M740.5 840.5h6.4M740.5 845.4h6.4M742.5 862.4h7.8M746.4 859.3v6.2M743.2 859.9h6.4M743.2 864.9h6.4M745.1 870.9h7.8M749 867.7v6.2M745.8 868.4h6.4M745.8 873.3h6.4M747.7 883.2h7.8M751.6 880.1v6.2M748.4 880.7h6.4M748.4 885.7h6.4" fill="none" stroke="#9400d3" stroke-width="0.85"/>
<path d="M118.2 780.1l7.7 7.7m0 -7.7l-7.7 7.7M122.1 783.1v1.6M119 783.1h6.2M119 784.7h6.2M146.8 784.4l7.7 7.7m0 -7.7l-7.7 7.7M150.7 787.4v1.6M147.6 787.4h6.2M147.6 789h6.2M162.2 779.4l7.7 7.7m0 -7.7l-7.7 7.7M166.1 782.4v1.6M163 782.4h6.2M163 784h6.2M180.7 789.3l7.7 7.7m0 -7.7l-7.7 7.7M184.5 792.4v1.6M181.4 792.4h6.2M181.4 794h6.2M196.5 791.1l7.7 7.7m0 -7.7l-7.7 7.7M200.3 794.1v1.6M197.2 794.1h6.2M197.2 795.7h6.2M214.6 796.7l7.7 7.7m0 -7.7l-7.7 7.7M218.4 799.7v1.6M215.3 799.7h6.2M215.3 801.3h6.2M229.2 802.6l7.7 7.7m0 -7.7l-7.7 7.7M233.1 805.6v1.6M230 805.6h6.2M230 807.2h6.2M242.2 808.4l7.7 7.7m0 -7.7l-7.7 7.7M246.1 811.4v1.6M243 811.4h6.2M243 813h6.2M255 813.5l7.7 7.7m0 -7.7l-7.7 7.7M258.9 816.5v1.6M255.8 816.5h6.2M255.8 818.1h6.2M269.8 820.5l7.7 7.7m0 -7.7l-7.7 7.7M273.6 823.6v1.6M270.5 823.6h6.2M270.5 825.2h6.2M282.2 827.7l7.7 7.7m0 -7.7l-7.7 7.7M286 830.7v1.6M282.9 830.7h6.2M282.9 832.3h6.2M294.1 832.8l7.7 7.7m0 -7.7l-7.7 7.7M297.9 835.8v1.6M294.8 835.8h6.2M294.8 837.4h6.2M305.5 839.6l7.7 7.7m0 -7.7l-7.7 7.7M309.4 842.6v1.6M306.3 842.6h6.2M306.3 844.2h6.2M316.5 845.6l7.7 7.7m0 -7.7l-7.7 7.7M320.4 848.6v1.6M317.3 848.6h6.2M317.3 850.2h6.2M327.2 851.1l7.7 7.7m0 -7.7l-7.7 7.7M331 854.1v1.6M327.9 854.1h6.2M327.9 855.7h6.2M337.5 856.1l7.7 7.7m0 -7.7l-7.7 7.7M341.3 859.1v1.6M338.2 859.1h6.2M338.2 860.7h6.2M347.4 861.8l7.7 7.7m0 -7.7l-7.7 7.7M351.3 864.9v1.6M348.2 864.9h6.2M348.2 866.5h6.2M357 866l7.7 7.7m0 -7.7l-7.7 7.7M360.9 869.1v1.6M357.8 869.1h6.2M357.8 870.7h6.2M366.4 871.2l7.7 7.7m0 -7.7l-7.7 7.7M370.2 874.2v1.6M367.1 874.2h6.2M367.1 875.8h6.2M375.4 876l7.7 7.7m0 -7.7l-7.7 7.7M379.3 879.1v1.6M376.2 879.1h6.2M376.2 880.7h6.2M384.2 881.1l7.7 7.7m0 -7.7l-7.7 7.7M388.1 884.2v1.6M385 884.2h6.2M385 885.8h6.2M392.8 886l7.7 7.7m0 -7.7l-7.7 7.7M396.6 889.1v1.6M393.5 889.1h6.2M393.5 890.7h6.2M401.1 890.3l7.7 7.7m0 -7.7l-7.7 7.7M404.9 893.4v1.6M401.8 893.4h6.2M401.8 895h6.2M409.2 893.7l7.7 7.7m0 -7.7l-7.7 7.7M413 896.7v1.6M409.9 896.7h6.2M409.9 898.3h6.2M417.1 896.6l7.7 7.7m0 -7.7l-7.7 7.7M420.9 899.7v1.6M417.8 899.7h6.2M417.8 901.3h6.2M424.8 900.9l7.7 7.7m0 -7.7l-7.7 7.7M428.6 903.9v1.6M425.5 903.9h6.2M425.5 905.5h6.2M432.2 904.1l7.7 7.7m0 -7.7l-7.7 7.7M436.1 907.1v1.6M433 907.1h6.2M433 908.7h6.2M439.6 907.7l7.7 7.7m0 -7.7l-7.7 7.7M443.4 910.7v1.6M440.3 910.7h6.2M440.3 912.4h6.2M446.7 911l7.7 7.7m0 -7.7l-7.7 7.7M450.5 914v1.6M447.4 914h6.2M447.4 915.7h6.2M453.7 914.3l7.7 7.7m0 -7.7l-7.7 7.7M457.5 917.3v1.7M454.4 917.3h6.2M454.4 919h6.2M460.5 917.5l7.7 7.7m0 -7.7l-7.7 7.7M464.3 920.4v1.7M461.2 920.4h6.2M461.2 922.2h6.2M467.2 921.6l7.7 7.7m0 -7.7l-7.7 7.7M471 924.6v1.8M467.9 924.6h6.2M467.9 926.4h6.2M473.7 925.3l7.7 7.7m0 -7.7l-7.7 7.7M477.5 928.2v1.8M474.4 928.2h6.2M474.4 930h6.2M480.1 927.1l7.7 7.7m0 -7.7l-7.7 7.7M483.9 930.1v1.8M480.8 930.1h6.2M480.8 931.9h6.2M486.3 929.7l7.7 7.7m0 -7.7l-7.7 7.7M490.2 932.6v1.9M487.1 932.6h6.2M487.1 934.4h6.2M492.5 932.5l7.7 7.7m0 -7.7l-7.7 7.7M496.3 935.4v1.9M493.2 935.4h6.2M493.2 937.3h6.2M498.5 935.2l7.7 7.7m0 -7.7l-7.7 7.7M502.3 938.1v1.9M499.2 938.1h6.2M499.2 940h6.2M504.4 937.8l7.7 7.7m0 -7.7l-7.7 7.7M508.2 940.7v2M505.1 940.7h6.2M505.1 942.6h6.2M510.1 940.2l7.7 7.7m0 -7.7l-7.7 7.7M514 943v2M510.9 943h6.2M510.9 945h6.2M515.8 942.3l7.7 7.7m0 -7.7l-7.7 7.7M519.7 945.1v2M516.6 945.1h6.2M516.6 947.1h6.2M521.4 944.2l7.7 7.7m0 -7.7l-7.7 7.7M525.2 947v2.1M522.1 947h6.2M522.1 949h6.2M526.8 945.9l7.7 7.7m0 -7.7l-7.7 7.7M530.7 948.7v2.1M527.6 948.7h6.2M527.6 950.7h6.2M532.2 947.4l7.7 7.7m0 -7.7l-7.7 7.7M536.1 950.2v2.1M533 950.2h6.2M533 952.3h6.2M537.5 948.8l7.7 7.7m0 -7.7l-7.7 7.7M541.3 951.5v2.2M538.2 951.5h6.2M538.2 953.7h6.2M542.7 950.3l7.7 7.7m0 -7.7l-7.7 7.7M546.5 953v2.2M543.4 953h6.2M543.4 955.2h6.2M547.8 951.1l7.7 7.7m0 -7.7l-7.7 7.7M551.6 953.9v2.2M548.5 953.9h6.2M548.5 956.1h6.2M552.8 951.1l7.7 7.7m0 -7.7l-7.7 7.7M556.6 953.9v2.3M553.5 953.9h6.2M553.5 956.1h6.2M557.7 951.2l7.7 7.7m0 -7.7l-7.7 7.7M561.6 953.9v2.3M558.5 953.9h6.2M558.5 956.2h6.2M562.6 951.9l7.7 7.7m0 -7.7l-7.7 7.7M566.4 954.6v2.3M563.3 954.6h6.2M563.3 957h6.2M567.4 952.6l7.7 7.7m0 -7.7l-7.7 7.7M571.2 955.2v2.4M568.1 955.2h6.2M568.1 957.6h6.2M572.1 952.9l7.7 7.7m0 -7.7l-7.7 7.7M575.9 955.5v2.4M572.8 955.5h6.2M572.8 957.9h6.2M576.7 953.2l7.7 7.7m0 -7.7l-7.7 7.7M580.5 955.8v2.4M577.4 955.8h6.2M577.4 958.3h6.2M581.2 953.6l7.7 7.7m0 -7.7l-7.7 7.7M585.1 956.2v2.5M582 956.2h6.2M582 958.7h6.2M585.7 954.1l7.7 7.7m0 -7.7l-7.7 7.7M589.6 956.7v2.5M586.5 956.7h6.2M586.5 959.2h6.2M590.2 954.6l7.7 7.7m0 -7.7l-7.7 7.7M594 957.2v2.5M590.9 957.2h6.2M590.9 959.7h6.2M594.5 955.2l7.7 7.7m0 -7.7l-7.7 7.7M598.4 957.7v2.6M595.3 957.7h6.2M595.3 960.3h6.2M598.8 955.6l7.7 7.7m0 -7.7l-7.7 7.7M602.7 958.2v2.6M599.6 958.2h6.2M599.6 960.8h6.2M603.1 956.1l7.7 7.7m0 -7.7l-7.7 7.7M606.9 958.6v2.6M603.8 958.6h6.2M603.8 961.3h6.2M607.3 956.6l7.7 7.7m0 -7.7l-7.7 7.7M611.1 959.1v2.7M608 959.1h6.2M608 961.8h6.2M611.4 957.4l7.7 7.7m0 -7.7l-7.7 7.7M615.2 959.9v2.7M612.1 959.9h6.2M612.1 962.6h6.2M615.5 957.8l7.7 7.7m0 -7.7l-7.7 7.7M619.3 960.3v2.7M616.2 960.3h6.2M616.2 963.1h6.2M619.5 956.3l7.7 7.7m0 -7.7l-7.7 7.7M623.3 958.8v2.8M620.2 958.8h6.2M620.2 961.6h6.2M623.5 954.2l7.7 7.7m0 -7.7l-7.7 7.7M627.3 956.7v2.8M624.2 956.7h6.2M624.2 959.5h6.2M627.4 953l7.7 7.7m0 -7.7l-7.7 7.7M631.2 955.4v2.8M628.1 955.4h6.2M628.1 958.3h6.2M631.2 951.8l7.7 7.7m0 -7.7l-7.7 7.7M635.1 954.2v2.9M632 954.2h6.2M632 957.1h6.2M635.1 949.5l7.7 7.7m0 -7.7l-7.7 7.7M638.9 951.9v2.9M635.8 951.9h6.2M635.8 954.8h6.2M638.8 946.1l7.7 7.7m0 -7.7l-7.7 7.7M642.7 948.5v2.9M639.6 948.5h6.2M639.6 951.5h6.2M642.5 943.1l7.7 7.7m0 -7.7l-7.7 7.7M646.4 945.4v3M643.3 945.4h6.2M643.3 948.4h6.2M646.2 940.5l7.7 7.7m0 -7.7l-7.7 7.7M650.1 942.9v3M647 942.9h6.2M647 945.9h6.2M649.9 938.2l7.7 7.7m0 -7.7l-7.7 7.7M653.7 940.6v3M650.6 940.6h6.2M650.6 943.6h6.2M653.4 935.6l7.7 7.7m0 -7.7l-7.7 7.7M657.3 937.9v3.1M654.2 937.9h6.2M654.2 941h6.2M657 931l7.7 7.7m0 -7.7l-7.7 7.7M660.8 933.3v3.1M657.7 933.3h6.2M657.7 936.4h6.2M660.5 925.1l7.7 7.7m0 -7.7l-7.7 7.7M664.4 927.4v3.1M661.3 927.4h6.2M661.3 930.5h6.2M664 918.5l7.7 7.7m0 -7.7l-7.7 7.7M667.8 920.8v3.2M664.7 920.8h6.2M664.7 924h6.2M667.4 915l7.7 7.7m0 -7.7l-7.7 7.7M671.2 917.3v3.2M668.1 917.3h6.2M668.1 920.5h6.2M670.8 907.8l7.7 7.7m0 -7.7l-7.7 7.7M674.6 910v3.2M671.5 910h6.2M671.5 913.2h6.2M674.1 901.1l7.7 7.7m0 -7.7l-7.7 7.7M678 903.3v3.3M674.9 903.3h6.2M674.9 906.5h6.2M677.5 891.7l7.7 7.7m0 -7.7l-7.7 7.7M681.3 893.9v3.3M678.2 893.9h6.2M678.2 897.2h6.2M680.7 877.8l7.7 7.7m0 -7.7l-7.7 7.7M684.6 880v3.3M681.5 880h6.2M681.5 883.3h6.2M684 866.9l7.7 7.7m0 -7.7l-7.7 7.7M687.8 869.1v3.3M684.7 869.1h6.2M684.7 872.4h6.2M687.2 855.5l7.7 7.7m0 -7.7l-7.7 7.7M691 857.6v3.4M687.9 857.6h6.2M687.9 861h6.2M690.4 841.7l7.7 7.7m0 -7.7l-7.7 7.7M694.2 843.9v3.4M691.1 843.9h6.2M691.1 847.3h6.2M693.5 826.1l7.7 7.7m0 -7.7l-7.7 7.7M697.4 828.2v3.4M694.3 828.2h6.2M694.3 831.7h6.2M696.6 810.1l7.7 7.7m0 -7.7l-7.7 7.7M700.5 812.2v3.5M697.4 812.2h6.2M697.4 815.7h6.2M699.7 798.7l7.7 7.7m0 -7.7l-7.7 7.7M703.6 800.8v3.5M700.5 800.8h6.2M700.5 804.3h6.2M702.8 789.2l7.7 7.7m0 -7.7l-7.7 7.7M706.6 791.2v3.5M703.5 791.2h6.2M703.5 794.8h6.2M705.8 777.9l7.7 7.7m0 -7.7l-7.7 7.7M709.6 780v3.6M706.5 780h6.2M706.5 783.6h6.2M708.8 772.2l7.7 7.7m0 -7.7l-7.7 7.7M712.6 774.3v3.6M709.5 774.3h6.2M709.5 777.9h6.2M711.7 771.2l7.7 7.7m0 -7.7l-7.7 7.7M715.6 773.2v3.6M712.5 773.2h6.2M712.5 776.8h6.2M714.7 773.9l7.7 7.7m0 -7.7l-7.7 7.7M718.5 776v3.6M715.4 776h6.2M715.4 779.6h6.2M717.6 783.4l7.7 7.7m0 -7.7l-7.7 7.7M721.4 785.4v3.7M718.3 785.4h6.2M718.3 789.1h6.2M720.4 791.6l7.7 7.7m0 -7.7l-7.7 7.7M724.3 793.6v3.7M721.2 793.6h6.2M721.2 797.3h6.2M723.3 802.1l7.7 7.7m0 -7.7l-7.7 7.7M727.1 804v3.7M724 804h6.2M724 807.8h6.2M726.1 815.9l7.7 7.7m0 -7.7l-7.7 7.7M730 817.9v3.8M726.9 817.9h6.2M726.9 821.6h6.2M728.9 833.3l7.7 7.7m0 -7.7l-7.7 7.7M732.7 835.3v3.8M729.6 835.3h6.2M729.6 839.1h6.2M731.7 851.6l7.7 7.7m0 -7.7l-7.7 7.7M735.5 853.5v3.8M732.4 853.5h6.2M732.4 857.3h6.2M734.4 871.2l7.7 7.7m0 -7.7l-7.7 7.7M738.3 873.1v3.9M735.2 873.1h6.2M735.2 877h6.2M737.1 881.9l7.7 7.7m0 -7.7l-7.7 7.7M741 883.8v3.9M737.9 883.8h6.2M737.9 887.7h6.2M739.8 893.1l7.7 7.7m0 -7.7l-7.7 7.7M743.7 895v3.9M740.6 895h6.2M740.6 898.9h6.2M742.5 908.6l7.7 7.7m0 -7.7l-7.7 7.7M746.4 910.5v3.9M743.3 910.5h6.2M743.3 914.5h6.2M745.2 918.8l7.7 7.7m0 -7.7l-7.7 7.7M749 920.7v4M745.9 920.7h6.2M745.9 924.6h6.2M747.8 926.4l7.7 7.7m0 -7.7l-7.7 7.7M751.6 928.3v4M748.5 928.3h6.2M748.5 932.3h6.2" fill="none" stroke="#009e73" stroke-width="0.85"/>
<path d="M118.9 780.5l6.4 6.4m0 -6.4l-6.4 6.4M118.4 783.7h7.4M122.1 780.5v6.4M119 782.8h6.2M119 784.6h6.2M147.5 784.8l6.4 6.4m0 -6.4l-6.4 6.4M147 788h7.4M150.7 784.8v6.4M147.6 787.1h6.2M147.6 788.9h6.2M162.9 779.8l6.4 6.4m0 -6.4l-6.4 6.4M162.4 783h7.4M166.1 779.8v6.4M163 782.1h6.2M163 783.9h6.2M181.3 789.8l6.4 6.4m0 -6.4l-6.4 6.4M180.8 793h7.4M184.5 789.8v6.4M181.4 792.1h6.2M181.4 793.9h6.2M197.1 791.5l6.4 6.4m0 -6.4l-6.4 6.4M196.6 794.7h7.4M200.3 791.5v6.4M197.2 793.8h6.2M197.2 795.6h6.2M215.2 797.1l6.4 6.4m0 -6.4l-6.4 6.4M214.7 800.3h7.4M218.4 797.1v6.4M215.3 799.4h6.2M215.3 801.2h6.2M229.9 803l6.4 6.4m0 -6.4l-6.4 6.4M229.4 806.2h7.4M233.1 803v6.4M230 805.3h6.2M230 807.1h6.2M242.9 808.8l6.4 6.4m0 -6.4l-6.4 6.4M242.4 812h7.4M246.1 808.8v6.4M243 811.1h6.2M243 812.9h6.2M255.7 813.9l6.4 6.4m0 -6.4l-6.4 6.4M255.2 817.1h7.4M258.9 813.9v6.4M255.8 816.2h6.2M255.8 818h6.2M270.4 821l6.4 6.4m0 -6.4l-6.4 6.4M269.9 824.2h7.4M273.6 821v6.4M270.5 823.3h6.2M270.5 825.1h6.2M282.8 828.1l6.4 6.4m0 -6.4l-6.4 6.4M282.3 831.3h7.4M286 828.1v6.4M282.9 830.4h6.2M282.9 832.2h6.2M294.7 833.2l6.4 6.4m0 -6.4l-6.4 6.4M294.2 836.4h7.4M297.9 833.2v6.4M294.8 835.5h6.2M294.8 837.3h6.2M306.2 840l6.4 6.4m0 -6.4l-6.4 6.4M305.7 843.2h7.4M309.4 840v6.4M306.3 842.3h6.2M306.3 844.1h6.2M317.2 846l6.4 6.4m0 -6.4l-6.4 6.4M316.7 849.2h7.4M320.4 846v6.4M317.3 848.3h6.2M317.3 850.1h6.2M327.8 851.5l6.4 6.4m0 -6.4l-6.4 6.4M327.4 854.7h7.4M331 851.5v6.4M327.9 853.8h6.2M327.9 855.6h6.2M338.1 856.5l6.4 6.4m0 -6.4l-6.4 6.4M337.6 859.7h7.4M341.3 856.5v6.4M338.2 858.8h6.2M338.2 860.6h6.2M348.1 862.3l6.4 6.4m0 -6.4l-6.4 6.4M347.6 865.5h7.4M351.3 862.3v6.4M348.2 864.6h6.2M348.2 866.4h6.2M357.7 866.5l6.4 6.4m0 -6.4l-6.4 6.4M357.2 869.7h7.4M360.9 866.5v6.4M357.8 868.8h6.2M357.8 870.6h6.2M367 871.6l6.4 6.4m0 -6.4l-6.4 6.4M366.6 874.8h7.4M370.2 871.6v6.4M367.1 873.9h6.2M367.1 875.7h6.2M376.1 876.5l6.4 6.4m0 -6.4l-6.4 6.4M375.6 879.7h7.4M379.3 876.5v6.4M376.2 878.8h6.2M376.2 880.6h6.2M384.9 881.6l6.4 6.4m0 -6.4l-6.4 6.4M384.4 884.8h7.4M388.1 881.6v6.4M385 883.9h6.2M385 885.7h6.2M393.4 886.5l6.4 6.4m0 -6.4l-6.4 6.4M393 889.7h7.4M396.6 886.5v6.4M393.5 888.8h6.2M393.5 890.6h6.2M401.7 890.8l6.4 6.4m0 -6.4l-6.4 6.4M401.3 894h7.4M404.9 890.8v6.4M401.8 893.1h6.2M401.8 894.9h6.2M409.8 894.1l6.4 6.4m0 -6.4l-6.4 6.4M409.4 897.3h7.4M413 894.1v6.4M409.9 896.4h6.2M409.9 898.2h6.2M417.7 897.1l6.4 6.4m0 -6.4l-6.4 6.4M417.2 900.3h7.4M420.9 897.1v6.4M417.8 899.4h6.2M417.8 901.2h6.2M425.4 901.3l6.4 6.4m0 -6.4l-6.4 6.4M424.9 904.5h7.4M428.6 901.3v6.4M425.5 903.6h6.2M425.5 905.4h6.2M432.9 904.5l6.4 6.4m0 -6.4l-6.4 6.4M432.4 907.7h7.4M436.1 904.5v6.4M433 906.8h6.2M433 908.6h6.2M440.2 908.1l6.4 6.4m0 -6.4l-6.4 6.4M439.7 911.3h7.4M443.4 908.1v6.4M440.3 910.4h6.2M440.3 912.2h6.2M447.3 911.4l6.4 6.4m0 -6.4l-6.4 6.4M446.9 914.6h7.4M450.5 911.4v6.4M447.4 913.7h6.2M447.4 915.5h6.2M454.3 914.7l6.4 6.4m0 -6.4l-6.4 6.4M453.8 917.9h7.4M457.5 914.7v6.4M454.4 917h6.2M454.4 918.8h6.2M461.1 917.9l6.4 6.4m0 -6.4l-6.4 6.4M460.7 921.1h7.4M464.3 917.9v6.4M461.2 920.2h6.2M461.2 922h6.2M467.8 922.1l6.4 6.4m0 -6.4l-6.4 6.4M467.3 925.3h7.4M471 922.1v6.4M467.9 924.4h6.2M467.9 926.2h6.2M474.3 925.7l6.4 6.4m0 -6.4l-6.4 6.4M473.9 928.9h7.4M477.5 925.7v6.4M474.4 928h6.2M474.4 929.8h6.2M480.7 928.3l6.4 6.4m0 -6.4l-6.4 6.4M480.2 931.5h7.4M483.9 928.3v6.4M480.8 930.6h6.2M480.8 932.4h6.2M487 930.5l6.4 6.4m0 -6.4l-6.4 6.4M486.5 933.7h7.4M490.2 930.5v6.4M487.1 932.8h6.2M487.1 934.6h6.2M493.1 932.7l6.4 6.4m0 -6.4l-6.4 6.4M492.6 935.9h7.4M496.3 932.7v6.4M493.2 934.9h6.2M493.2 936.8h6.2M499.1 935.1l6.4 6.4m0 -6.4l-6.4 6.4M498.6 938.3h7.4M502.3 935.1v6.4M499.2 937.4h6.2M499.2 939.3h6.2M505 937.5l6.4 6.4m0 -6.4l-6.4 6.4M504.5 940.7h7.4M508.2 937.5v6.4M505.1 939.7h6.2M505.1 941.7h6.2M510.8 939.3l6.4 6.4m0 -6.4l-6.4 6.4M510.3 942.5h7.4M514 939.3v6.4M510.9 941.5h6.2M510.9 943.5h6.2M516.5 940.8l6.4 6.4m0 -6.4l-6.4 6.4M516 944h7.4M519.7 940.8v6.4M516.6 943h6.2M516.6 945h6.2M522 942.3l6.4 6.4m0 -6.4l-6.4 6.4M521.5 945.5h7.4M525.2 942.3v6.4M522.1 944.5h6.2M522.1 946.5h6.2M527.5 943.6l6.4 6.4m0 -6.4l-6.4 6.4M527 946.8h7.4M530.7 943.6v6.4M527.6 945.8h6.2M527.6 947.9h6.2M532.9 944.5l6.4 6.4m0 -6.4l-6.4 6.4M532.4 947.7h7.4M536.1 944.5v6.4M533 946.6h6.2M533 948.7h6.2M538.1 945.1l6.4 6.4m0 -6.4l-6.4 6.4M537.7 948.3h7.4M541.3 945.1v6.4M538.2 947.2h6.2M538.2 949.3h6.2M543.3 945.5l6.4 6.4m0 -6.4l-6.4 6.4M542.8 948.7h7.4M546.5 945.5v6.4M543.4 947.7h6.2M543.4 949.8h6.2M548.4 945.8l6.4 6.4m0 -6.4l-6.4 6.4M547.9 949h7.4M551.6 945.8v6.4M548.5 947.9h6.2M548.5 950.1h6.2M553.4 945.5l6.4 6.4m0 -6.4l-6.4 6.4M553 948.7h7.4M556.6 945.5v6.4M553.5 947.5h6.2M553.5 949.8h6.2M558.4 945.4l6.4 6.4m0 -6.4l-6.4 6.4M557.9 948.6h7.4M561.6 945.4v6.4M558.5 947.4h6.2M558.5 949.7h6.2M563.2 946l6.4 6.4m0 -6.4l-6.4 6.4M562.7 949.2h7.4M566.4 946v6.4M563.3 948h6.2M563.3 950.3h6.2M568 946.7l6.4 6.4m0 -6.4l-6.4 6.4M567.5 949.9h7.4M571.2 946.7v6.4M568.1 948.7h6.2M568.1 951h6.2M572.7 947.3l6.4 6.4m0 -6.4l-6.4 6.4M572.2 950.5h7.4M575.9 947.3v6.4M572.8 949.3h6.2M572.8 951.7h6.2M577.3 947.6l6.4 6.4m0 -6.4l-6.4 6.4M576.9 950.8h7.4M580.5 947.6v6.4M577.4 949.6h6.2M577.4 952h6.2M581.9 947.6l6.4 6.4m0 -6.4l-6.4 6.4M581.4 950.8h7.4M585.1 947.6v6.4M582 949.6h6.2M582 952h6.2M586.4 947.6l6.4 6.4m0 -6.4l-6.4 6.4M585.9 950.8h7.4M589.6 947.6v6.4M586.5 949.5h6.2M586.5 952.1h6.2M590.8 947.4l6.4 6.4m0 -6.4l-6.4 6.4M590.3 950.6h7.4M594 947.4v6.4M590.9 949.4h6.2M590.9 951.9h6.2M595.2 947.1l6.4 6.4m0 -6.4l-6.4 6.4M594.7 950.3h7.4M598.4 947.1v6.4M595.3 949h6.2M595.3 951.6h6.2M599.5 947.1l6.4 6.4m0 -6.4l-6.4 6.4M599 950.3h7.4M602.7 947.1v6.4M599.6 949h6.2M599.6 951.6h6.2M603.7 947.1l6.4 6.4m0 -6.4l-6.4 6.4M603.3 950.3h7.4M606.9 947.1v6.4M603.8 949h6.2M603.8 951.6h6.2M607.9 947.1l6.4 6.4m0 -6.4l-6.4 6.4M607.4 950.3h7.4M611.1 947.1v6.4M608 949h6.2M608 951.6h6.2M612 946.9l6.4 6.4m0 -6.4l-6.4 6.4M611.6 950.1h7.4M615.2 946.9v6.4M612.1 948.7h6.2M612.1 951.5h6.2M616.1 946.5l6.4 6.4m0 -6.4l-6.4 6.4M615.6 949.7h7.4M619.3 946.5v6.4M616.2 948.4h6.2M616.2 951.1h6.2M620.1 945.3l6.4 6.4m0 -6.4l-6.4 6.4M619.7 948.5h7.4M623.3 945.3v6.4M620.2 947.1h6.2M620.2 949.9h6.2M624.1 943.1l6.4 6.4m0 -6.4l-6.4 6.4M623.6 946.3h7.4M627.3 943.1v6.4M624.2 944.9h6.2M624.2 947.7h6.2M628 939.7l6.4 6.4m0 -6.4l-6.4 6.4M627.5 942.9h7.4M631.2 939.7v6.4M628.1 941.5h6.2M628.1 944.3h6.2M631.9 936.5l6.4 6.4m0 -6.4l-6.4 6.4M631.4 939.7h7.4M635.1 936.5v6.4M632 938.3h6.2M632 941.1h6.2M635.7 933l6.4 6.4m0 -6.4l-6.4 6.4M635.2 936.2h7.4M638.9 933v6.4M635.8 934.7h6.2M635.8 937.6h6.2M639.5 929.1l6.4 6.4m0 -6.4l-6.4 6.4M639 932.3h7.4M642.7 929.1v6.4M639.6 930.9h6.2M639.6 933.8h6.2M643.2 925.4l6.4 6.4m0 -6.4l-6.4 6.4M642.7 928.6h7.4M646.4 925.4v6.4M643.3 927.1h6.2M643.3 930.1h6.2M646.9 921.6l6.4 6.4m0 -6.4l-6.4 6.4M646.4 924.8h7.4M650.1 921.6v6.4M647 923.3h6.2M647 926.3h6.2M650.5 918.8l6.4 6.4m0 -6.4l-6.4 6.4M650 922h7.4M653.7 918.8v6.4M650.6 920.5h6.2M650.6 923.5h6.2M654.1 916.2l6.4 6.4m0 -6.4l-6.4 6.4M653.6 919.4h7.4M657.3 916.2v6.4M654.2 917.9h6.2M654.2 920.9h6.2M657.6 910.8l6.4 6.4m0 -6.4l-6.4 6.4M657.2 914h7.4M660.8 910.8v6.4M657.7 912.5h6.2M657.7 915.6h6.2M661.2 904.9l6.4 6.4m0 -6.4l-6.4 6.4M660.7 908.1h7.4M664.4 904.9v6.4M661.3 906.5h6.2M661.3 909.6h6.2M664.6 900l6.4 6.4m0 -6.4l-6.4 6.4M664.1 903.2h7.4M667.8 900v6.4M664.7 901.7h6.2M664.7 904.8h6.2M668 893.5l6.4 6.4m0 -6.4l-6.4 6.4M667.6 896.7h7.4M671.2 893.5v6.4M668.1 895.1h6.2M668.1 898.3h6.2M671.4 886.8l6.4 6.4m0 -6.4l-6.4 6.4M671 890h7.4M674.6 886.8v6.4M671.5 888.4h6.2M671.5 891.6h6.2M674.8 879.2l6.4 6.4m0 -6.4l-6.4 6.4M674.3 882.4h7.4M678 879.2v6.4M674.9 880.8h6.2M674.9 884h6.2M678.1 871.9l6.4 6.4m0 -6.4l-6.4 6.4M677.6 875.1h7.4M681.3 871.9v6.4M678.2 873.4h6.2M678.2 876.7h6.2M681.4 864.5l6.4 6.4m0 -6.4l-6.4 6.4M680.9 867.7h7.4M684.6 864.5v6.4M681.5 866.1h6.2M681.5 869.4h6.2M684.6 854.9l6.4 6.4m0 -6.4l-6.4 6.4M684.2 858.1h7.4M687.8 854.9v6.4M684.7 856.5h6.2M684.7 859.8h6.2M687.8 845.5l6.4 6.4m0 -6.4l-6.4 6.4M687.4 848.7h7.4M691 845.5v6.4M687.9 847h6.2M687.9 850.3h6.2M691 835.7l6.4 6.4m0 -6.4l-6.4 6.4M690.5 838.9h7.4M694.2 835.7v6.4M691.1 837.2h6.2M691.1 840.6h6.2M694.2 826.8l6.4 6.4m0 -6.4l-6.4 6.4M693.7 830h7.4M697.4 826.8v6.4M694.3 828.2h6.2M694.3 831.7h6.2M697.3 819.2l6.4 6.4m0 -6.4l-6.4 6.4M696.8 822.4h7.4M700.5 819.2v6.4M697.4 820.7h6.2M697.4 824.1h6.2M700.4 813.1l6.4 6.4m0 -6.4l-6.4 6.4M699.9 816.3h7.4M703.6 813.1v6.4M700.5 814.5h6.2M700.5 818h6.2M703.4 807.3l6.4 6.4m0 -6.4l-6.4 6.4M702.9 810.5h7.4M706.6 807.3v6.4M703.5 808.7h6.2M703.5 812.3h6.2M706.4 804.4l6.4 6.4m0 -6.4l-6.4 6.4M705.9 807.6h7.4M709.6 804.4v6.4M706.5 805.8h6.2M706.5 809.3h6.2M709.4 808l6.4 6.4m0 -6.4l-6.4 6.4M708.9 811.2h7.4M712.6 808v6.4M709.5 809.4h6.2M709.5 813h6.2M712.4 811.2l6.4 6.4m0 -6.4l-6.4 6.4M711.9 814.4h7.4M715.6 811.2v6.4M712.5 812.5h6.2M712.5 816.2h6.2M715.3 814.2l6.4 6.4m0 -6.4l-6.4 6.4M714.8 817.4h7.4M718.5 814.2v6.4M715.4 815.6h6.2M715.4 819.3h6.2M718.2 818.7l6.4 6.4m0 -6.4l-6.4 6.4M717.7 821.9h7.4M721.4 818.7v6.4M718.3 820.1h6.2M718.3 823.7h6.2M721.1 826.4l6.4 6.4m0 -6.4l-6.4 6.4M720.6 829.6h7.4M724.3 826.4v6.4M721.2 827.8h6.2M721.2 831.5h6.2M723.9 834.1l6.4 6.4m0 -6.4l-6.4 6.4M723.5 837.3h7.4M727.1 834.1v6.4M724 835.4h6.2M724 839.1h6.2M726.8 842.3l6.4 6.4m0 -6.4l-6.4 6.4M726.3 845.5h7.4M730 842.3v6.4M726.9 843.6h6.2M726.9 847.4h6.2M729.5 855.6l6.4 6.4m0 -6.4l-6.4 6.4M729.1 858.8h7.4M732.7 855.6v6.4M729.6 856.9h6.2M729.6 860.7h6.2M732.3 861.9l6.4 6.4m0 -6.4l-6.4 6.4M731.8 865.1h7.4M735.5 861.9v6.4M732.4 863.1h6.2M732.4 867h6.2M735.1 874.3l6.4 6.4m0 -6.4l-6.4 6.4M734.6 877.5h7.4M738.3 874.3v6.4M735.2 875.5h6.2M735.2 879.4h6.2M737.8 883.7l6.4 6.4m0 -6.4l-6.4 6.4M737.3 886.9h7.4M741 883.7v6.4M737.9 884.9h6.2M737.9 888.8h6.2M740.5 893.7l6.4 6.4m0 -6.4l-6.4 6.4M740 896.9h7.4M743.7 893.7v6.4M740.6 894.9h6.2M740.6 898.8h6.2M743.2 914.2l6.4 6.4m0 -6.4l-6.4 6.4M742.7 917.4h7.4M746.4 914.2v6.4M743.3 915.4h6.2M743.3 919.3h6.2M745.8 930.6l6.4 6.4m0 -6.4l-6.4 6.4M745.3 933.8h7.4M749 930.6v6.4M745.9 931.9h6.2M745.9 935.8h6.2M748.4 946l6.4 6.4m0 -6.4l-6.4 6.4M748 949.2h7.4M751.6 946v6.4M748.5 947.2h6.2M748.5 951.2h6.2" fill="none" stroke="#56b4e9" stroke-width="0.77"/>
<path d="M118 776.6h8.3v8.3h-8.3zM118.6 780h7M118.6 781.4h7M122.1 780v1.4M146.6 780.9h8.3v8.3h-8.3zM147.2 784.3h7M147.2 785.7h7M150.7 784.3v1.4M162 775.9h8.3v8.3h-8.3zM162.6 779.3h7M162.6 780.7h7M166.1 779.3v1.4M180.4 785.8h8.3v8.3h-8.3zM181 789.3h7M181 790.7h7M184.5 789.3v1.4M196.2 787.6h8.3v8.3h-8.3zM196.8 791h7M196.8 792.4h7M200.3 791v1.4M214.3 793.2h8.3v8.3h-8.3zM214.9 796.6h7M214.9 798h7M218.4 796.6v1.4M229 799.1h8.3v8.3h-8.3zM229.6 802.5h7M229.6 803.9h7M233.1 802.5v1.4M242 804.9h8.3v8.3h-8.3zM242.6 808.3h7M242.6 809.7h7M246.1 808.3v1.4M254.8 810h8.3v8.3h-8.3zM255.4 813.4h7M255.4 814.8h7M258.9 813.4v1.4M269.5 817h8.3v8.3h-8.3zM270.1 820.5h7M270.1 821.9h7M273.6 820.5v1.4M281.9 824.2h8.3v8.3h-8.3zM282.5 827.6h7M282.5 829h7M286 827.6v1.4M293.8 829.3h8.3v8.3h-8.3zM294.4 832.7h7M294.4 834.1h7M297.9 832.7v1.4M305.2 836.1h8.3v8.3h-8.3zM305.9 839.5h7M305.9 840.9h7M309.4 839.5v1.4M316.2 842.1h8.3v8.3h-8.3zM316.9 845.5h7M316.9 846.9h7M320.4 845.5v1.4M326.9 847.6h8.3v8.3h-8.3zM327.6 851h7M327.6 852.4h7M331 851v1.4M337.2 852.6h8.3v8.3h-8.3zM337.8 856h7M337.8 857.4h7M341.3 856v1.4M347.1 858.3h8.3v8.3h-8.3zM347.8 861.8h7M347.8 863.2h7M351.3 861.8v1.4M356.8 862.5h8.3v8.3h-8.3zM357.4 866h7M357.4 867.4h7M360.9 866v1.4M366.1 867.7h8.3v8.3h-8.3zM366.8 871.1h7M366.8 872.5h7M370.2 871.1v1.4M375.2 872.6h8.3v8.3h-8.3zM375.8 876h7M375.8 877.4h7M379.3 876v1.4M383.9 877.6h8.3v8.3h-8.3zM384.6 881.1h7M384.6 882.5h7M388.1 881.1v1.4M392.5 882.5h8.3v8.3h-8.3zM393.2 886h7M393.2 887.4h7M396.6 886v1.4M400.8 886.8h8.3v8.3h-8.3zM401.5 890.3h7M401.5 891.7h7M404.9 890.3v1.4M408.9 890.2h8.3v8.3h-8.3zM409.6 893.6h7M409.6 895h7M413 893.6v1.4M416.8 893.1h8.3v8.3h-8.3zM417.4 896.6h7M417.4 898h7M420.9 896.6v1.4M424.5 897.4h8.3v8.3h-8.3zM425.1 900.8h7M425.1 902.2h7M428.6 900.8v1.4M432 900.6h8.3v8.3h-8.3zM432.6 904h7M432.6 905.4h7M436.1 904v1.4M439.3 904.2h8.3v8.3h-8.3zM439.9 907.6h7M439.9 909.1h7M443.4 907.6v1.4M446.4 907.5h8.3v8.3h-8.3zM447.1 910.9h7M447.1 912.3h7M450.5 910.9v1.4M453.4 910.8h8.3v8.3h-8.3zM454 914.2h7M454 915.6h7M457.5 914.2v1.5M460.2 914h8.3v8.3h-8.3zM460.9 917.4h7M460.9 918.8h7M464.3 917.4v1.5M466.9 918.1h8.3v8.3h-8.3zM467.5 921.5h7M467.5 923h7M471 921.5v1.5M473.4 921.8h8.3v8.3h-8.3zM474.1 925.2h7M474.1 926.7h7M477.5 925.2v1.5M479.8 924.1h8.3v8.3h-8.3zM480.4 927.5h7M480.4 929h7M483.9 927.5v1.5M486 925.9h8.3v8.3h-8.3zM486.7 929.3h7M486.7 930.8h7M490.2 929.3v1.6M492.2 927.5h8.3v8.3h-8.3zM492.8 930.8h7M492.8 932.4h7M496.3 930.8v1.6M498.2 929h8.3v8.3h-8.3zM498.8 932.3h7M498.8 934h7M502.3 932.3v1.6M504.1 930h8.3v8.3h-8.3zM504.7 933.3h7M504.7 934.9h7M508.2 933.3v1.6M509.8 932.2h8.3v8.3h-8.3zM510.5 935.5h7M510.5 937.2h7M514 935.5v1.7M515.5 933.4h8.3v8.3h-8.3zM516.2 936.7h7M516.2 938.4h7M519.7 936.7v1.7M521.1 934.1h8.3v8.3h-8.3zM521.7 937.4h7M521.7 939.1h7M525.2 937.4v1.7M526.5 934.2h8.3v8.3h-8.3zM527.2 937.4h7M527.2 939.2h7M530.7 937.4v1.7M531.9 933.3h8.3v8.3h-8.3zM532.6 936.5h7M532.6 938.3h7M536.1 936.5v1.8M537.2 932.6h8.3v8.3h-8.3zM537.9 935.9h7M537.9 937.6h7M541.3 935.9v1.8M542.4 931.9h8.3v8.3h-8.3zM543 935.1h7M543 936.9h7M546.5 935.1v1.8M547.5 930.9h8.3v8.3h-8.3zM548.1 934.1h7M548.1 935.9h7M551.6 934.1v1.8M552.5 928.6h8.3v8.3h-8.3zM553.2 931.8h7M553.2 933.7h7M556.6 931.8v1.8M557.4 926.4h8.3v8.3h-8.3zM558.1 929.6h7M558.1 931.5h7M561.6 929.6v1.9M562.3 925.9h8.3v8.3h-8.3zM562.9 929.1h7M562.9 931h7M566.4 929.1v1.9M567.1 925h8.3v8.3h-8.3zM567.7 928.2h7M567.7 930.1h7M571.2 928.2v1.9M571.8 924.1h8.3v8.3h-8.3zM572.4 927.3h7M572.4 929.2h7M575.9 927.3v1.9M576.4 923.2h8.3v8.3h-8.3zM577.1 926.4h7M577.1 928.4h7M580.5 926.4v2M581 922h8.3v8.3h-8.3zM581.6 925.1h7M581.6 927.1h7M585.1 925.1v2M585.5 921.3h8.3v8.3h-8.3zM586.1 924.4h7M586.1 926.4h7M589.6 924.4v2M589.9 920.8h8.3v8.3h-8.3zM590.5 923.9h7M590.5 925.9h7M594 923.9v2M594.2 920.3h8.3v8.3h-8.3zM594.9 923.4h7M594.9 925.5h7M598.4 923.4v2M598.6 919.5h8.3v8.3h-8.3zM599.2 922.6h7M599.2 924.6h7M602.7 922.6v2.1M602.8 918.4h8.3v8.3h-8.3zM603.5 921.5h7M603.5 923.6h7M606.9 921.5v2.1M607 917.9h8.3v8.3h-8.3zM607.6 920.9h7M607.6 923.1h7M611.1 920.9v2.1M611.1 917.2h8.3v8.3h-8.3zM611.8 920.2h7M611.8 922.4h7M615.2 920.2v2.1M615.2 916.2h8.3v8.3h-8.3zM615.8 919.3h7M615.8 921.4h7M619.3 919.3v2.2M619.2 915.6h8.3v8.3h-8.3zM619.9 918.6h7M619.9 920.8h7M623.3 918.6v2.2M623.2 914.6h8.3v8.3h-8.3zM623.8 917.6h7M623.8 919.8h7M627.3 917.6v2.2M627.1 911.2h8.3v8.3h-8.3zM627.7 914.2h7M627.7 916.4h7M631.2 914.2v2.2M630.9 909.4h8.3v8.3h-8.3zM631.6 912.4h7M631.6 914.6h7M635.1 912.4v2.2M634.8 906.9h8.3v8.3h-8.3zM635.4 909.9h7M635.4 912.2h7M638.9 909.9v2.3M638.5 904.5h8.3v8.3h-8.3zM639.2 907.5h7M639.2 909.8h7M642.7 907.5v2.3M642.3 902.1h8.3v8.3h-8.3zM642.9 905.1h7M642.9 907.4h7M646.4 905.1v2.3M645.9 898.8h8.3v8.3h-8.3zM646.6 901.7h7M646.6 904.1h7M650.1 901.7v2.3M649.6 895.6h8.3v8.3h-8.3zM650.2 898.6h7M650.2 900.9h7M653.7 898.6v2.4M653.2 889.8h8.3v8.3h-8.3zM653.8 892.7h7M653.8 895.1h7M657.3 892.7v2.4M656.7 885.6h8.3v8.3h-8.3zM657.4 888.6h7M657.4 891h7M660.8 888.6v2.4M660.2 880.5h8.3v8.3h-8.3zM660.9 883.5h7M660.9 885.9h7M664.4 883.5v2.4M663.7 876.5h8.3v8.3h-8.3zM664.3 879.4h7M664.3 881.8h7M667.8 879.4v2.4M667.1 871.6h8.3v8.3h-8.3zM667.8 874.5h7M667.8 877h7M671.2 874.5v2.5M670.5 864.9h8.3v8.3h-8.3zM671.2 867.8h7M671.2 870.2h7M674.6 867.8v2.5M673.8 859h8.3v8.3h-8.3zM674.5 861.8h7M674.5 864.3h7M678 861.8v2.5M677.2 851.7h8.3v8.3h-8.3zM677.8 854.6h7M677.8 857.1h7M681.3 854.6v2.5M680.4 845.1h8.3v8.3h-8.3zM681.1 847.9h7M681.1 850.5h7M684.6 847.9v2.5M683.7 837h8.3v8.3h-8.3zM684.4 839.8h7M684.4 842.4h7M687.8 839.8v2.6M686.9 830.4h8.3v8.3h-8.3zM687.6 833.2h7M687.6 835.8h7M691 833.2v2.6M690.1 824.7h8.3v8.3h-8.3zM690.7 827.6h7M690.7 830.2h7M694.2 827.6v2.6M693.2 822.1h8.3v8.3h-8.3zM693.9 824.9h7M693.9 827.5h7M697.4 824.9v2.6M696.3 820.2h8.3v8.3h-8.3zM697 823h7M697 825.7h7M700.5 823v2.6M699.4 819.2h8.3v8.3h-8.3zM700.1 822h7M700.1 824.6h7M703.6 822v2.7M702.5 820.6h8.3v8.3h-8.3zM703.1 823.4h7M703.1 826.1h7M706.6 823.4v2.7M705.5 823.6h8.3v8.3h-8.3zM706.1 826.4h7M706.1 829.1h7M709.6 826.4v2.7M708.5 830.6h8.3v8.3h-8.3zM709.1 833.4h7M709.1 836.1h7M712.6 833.4v2.7M711.4 839.3h8.3v8.3h-8.3zM712.1 842.1h7M712.1 844.8h7M715.6 842.1v2.7M714.4 847h8.3v8.3h-8.3zM715 849.7h7M715 852.5h7M718.5 849.7v2.8M717.3 860.7h8.3v8.3h-8.3zM717.9 863.4h7M717.9 866.2h7M721.4 863.4v2.8M720.1 873.4h8.3v8.3h-8.3zM720.8 876.2h7M720.8 879h7M724.3 876.2v2.8M723 891.5h8.3v8.3h-8.3zM723.7 894.2h7M723.7 897h7M727.1 894.2v2.8M725.8 908.6h8.3v8.3h-8.3zM726.5 911.3h7M726.5 914.1h7M730 911.3v2.8M728.6 924h8.3v8.3h-8.3zM729.3 926.7h7M729.3 929.5h7M732.7 926.7v2.9M731.4 941.4h8.3v8.3h-8.3zM732 944.1h7M732 947h7M735.5 944.1v2.9M734.1 959.3h8.3v8.3h-8.3zM734.8 962h7M734.8 964.9h7M738.3 962v2.9M736.8 974.3h8.3v8.3h-8.3zM737.5 977h7M737.5 979.9h7M741 977v2.9M739.5 991.9h8.3v8.3h-8.3zM740.2 994.6h7M740.2 997.5h7M743.7 994.6v2.9M742.2 1007.2h8.3v8.3h-8.3zM742.9 1009.9h7M742.9 1012.9h7M746.4 1009.9v3M744.9 1019.6h8.3v8.3h-8.3zM745.5 1022.2h7M745.5 1025.2h7M749 1022.2v3M747.5 1031.2h8.3v8.3h-8.3zM748.2 1033.8h7M748.2 1036.8h7M751.6 1033.8v3" fill="none" stroke="#e69f00" stroke-width="0.85"/>
<path d="M118 769.9h8.3v8.3h-8.3zM146.6 773.6h8.3v8.3h-8.3zM162 773.2h8.3v8.3h-8.3zM180.4 776.8h8.3v8.3h-8.3zM196.2 778.4h8.3v8.3h-8.3zM214.3 784.2h8.3v8.3h-8.3zM229 787.5h8.3v8.3h-8.3zM242 792.6h8.3v8.3h-8.3zM254.8 798h8.3v8.3h-8.3zM269.5 805h8.3v8.3h-8.3zM281.9 810.9h8.3v8.3h-8.3zM293.8 817h8.3v8.3h-8.3zM305.2 822.7h8.3v8.3h-8.3zM316.2 827.7h8.3v8.3h-8.3zM326.9 833.2h8.3v8.3h-8.3zM337.2 839.2h8.3v8.3h-8.3zM347.1 843h8.3v8.3h-8.3zM356.8 848.1h8.3v8.3h-8.3zM366.1 852.7h8.3v8.3h-8.3zM375.2 857.6h8.3v8.3h-8.3zM383.9 860.9h8.3v8.3h-8.3zM392.5 863.5h8.3v8.3h-8.3zM400.8 867.5h8.3v8.3h-8.3zM408.9 870.2h8.3v8.3h-8.3zM416.8 872.5h8.3v8.3h-8.3zM424.5 875h8.3v8.3h-8.3zM432 877.7h8.3v8.3h-8.3zM439.3 879.6h8.3v8.3h-8.3zM446.4 881.1h8.3v8.3h-8.3zM453.4 883.1h8.3v8.3h-8.3zM460.2 885.1h8.3v8.3h-8.3zM466.9 886.7h8.3v8.3h-8.3zM473.4 887.5h8.3v8.3h-8.3zM479.8 888.5h8.3v8.3h-8.3zM486 889.2h8.3v8.3h-8.3zM492.2 890.8h8.3v8.3h-8.3zM498.2 891.8h8.3v8.3h-8.3zM504.1 891.9h8.3v8.3h-8.3zM509.8 891h8.3v8.3h-8.3zM515.5 890.3h8.3v8.3h-8.3zM521.1 889.3h8.3v8.3h-8.3zM526.5 888.1h8.3v8.3h-8.3zM531.9 887h8.3v8.3h-8.3zM537.2 885.3h8.3v8.3h-8.3zM542.4 884.2h8.3v8.3h-8.3zM547.5 882.6h8.3v8.3h-8.3zM552.5 881.4h8.3v8.3h-8.3zM557.4 880.3h8.3v8.3h-8.3zM562.3 877.7h8.3v8.3h-8.3zM567.1 875.3h8.3v8.3h-8.3zM571.8 872.8h8.3v8.3h-8.3zM576.4 870.3h8.3v8.3h-8.3zM581 867.6h8.3v8.3h-8.3zM585.5 865.2h8.3v8.3h-8.3zM589.9 863h8.3v8.3h-8.3zM594.2 860.5h8.3v8.3h-8.3zM598.6 858.1h8.3v8.3h-8.3zM602.8 856h8.3v8.3h-8.3zM607 854.2h8.3v8.3h-8.3zM611.1 852.7h8.3v8.3h-8.3zM615.2 851.7h8.3v8.3h-8.3zM619.2 851.3h8.3v8.3h-8.3zM623.2 851.2h8.3v8.3h-8.3zM627.1 851.4h8.3v8.3h-8.3zM630.9 851.9h8.3v8.3h-8.3zM634.8 852.5h8.3v8.3h-8.3zM638.5 853.3h8.3v8.3h-8.3zM642.3 854.1h8.3v8.3h-8.3zM645.9 854.6h8.3v8.3h-8.3zM649.6 855.1h8.3v8.3h-8.3zM653.2 855.9h8.3v8.3h-8.3zM656.7 857h8.3v8.3h-8.3zM660.2 858.7h8.3v8.3h-8.3zM663.7 860.7h8.3v8.3h-8.3zM667.1 863h8.3v8.3h-8.3zM670.5 866.1h8.3v8.3h-8.3zM673.8 870h8.3v8.3h-8.3zM677.2 874.9h8.3v8.3h-8.3zM680.4 879.9h8.3v8.3h-8.3zM683.7 887.6h8.3v8.3h-8.3zM686.9 899.1h8.3v8.3h-8.3zM690.1 908.5h8.3v8.3h-8.3zM693.2 919.2h8.3v8.3h-8.3zM696.3 933.5h8.3v8.3h-8.3zM699.4 947.3h8.3v8.3h-8.3zM702.5 960.3h8.3v8.3h-8.3zM705.5 975.8h8.3v8.3h-8.3zM708.5 993.2h8.3v8.3h-8.3zM711.4 1007.6h8.3v8.3h-8.3zM714.4 1023.3h8.3v8.3h-8.3zM717.3 1037.9h8.3v8.3h-8.3zM720.1 1051.4h8.3v8.3h-8.3zM723 1067.5h8.3v8.3h-8.3zM725.8 1083.7h8.3v8.3h-8.3zM728.6 1099.1h8.3v8.3h-8.3zM731.4 1112.9h8.3v8.3h-8.3zM734.1 1125.7h8.3v8.3h-8.3zM736.8 1138.8h8.3v8.3h-8.3zM739.5 1151.1h8.3v8.3h-8.3z" fill="#f0e442"/>
<path d="M118.3 769.3a3.8 3.8 0 1 0 7.6 0a3.8 3.8 0 1 0 -7.6 0zM118.9 769.3h6.4M146.9 771.7a3.8 3.8 0 1 0 7.6 0a3.8 3.8 0 1 0 -7.6 0zM147.5 771.7h6.4M162.3 771.7a3.8 3.8 0 1 0 7.6 0a3.8 3.8 0 1 0 -7.6 0zM162.9 771.7h6.4M180.7 774.3a3.8 3.8 0 1 0 7.6 0a3.8 3.8 0 1 0 -7.6 0zM181.3 774.3h6.4M196.5 777.7a3.8 3.8 0 1 0 7.6 0a3.8 3.8 0 1 0 -7.6 0zM197.1 777.7h6.4M214.6 781a3.8 3.8 0 1 0 7.6 0a3.8 3.8 0 1 0 -7.6 0zM215.2 781h6.4M229.3 785.2a3.8 3.8 0 1 0 7.6 0a3.8 3.8 0 1 0 -7.6 0zM229.9 785.2h6.4M242.3 790a3.8 3.8 0 1 0 7.6 0a3.8 3.8 0 1 0 -7.6 0zM242.9 790h6.4M255.1 793.9a3.8 3.8 0 1 0 7.6 0a3.8 3.8 0 1 0 -7.6 0zM255.7 793.9h6.4M269.8 801.1a3.8 3.8 0 1 0 7.6 0a3.8 3.8 0 1 0 -7.6 0zM270.4 801.1h6.4M282.2 806.7a3.8 3.8 0 1 0 7.6 0a3.8 3.8 0 1 0 -7.6 0zM282.8 806.7h6.4M294.1 812.4a3.8 3.8 0 1 0 7.6 0a3.8 3.8 0 1 0 -7.6 0zM294.7 812.4h6.4M305.6 817.9a3.8 3.8 0 1 0 7.6 0a3.8 3.8 0 1 0 -7.6 0zM306.1 817.9h6.4M316.6 822.9a3.8 3.8 0 1 0 7.6 0a3.8 3.8 0 1 0 -7.6 0zM317.2 822.9h6.4M327.3 828.3a3.8 3.8 0 1 0 7.6 0a3.8 3.8 0 1 0 -7.6 0zM327.8 828.3h6.4M337.5 832.7a3.8 3.8 0 1 0 7.6 0a3.8 3.8 0 1 0 -7.6 0zM338.1 832.7h6.4M347.5 836.8a3.8 3.8 0 1 0 7.6 0a3.8 3.8 0 1 0 -7.6 0zM348.1 836.8h6.4M357.1 841.7a3.8 3.8 0 1 0 7.6 0a3.8 3.8 0 1 0 -7.6 0zM357.7 841.7h6.4M366.5 845.1a3.8 3.8 0 1 0 7.6 0a3.8 3.8 0 1 0 -7.6 0zM367 845.1h6.4M375.5 848.3a3.8 3.8 0 1 0 7.6 0a3.8 3.8 0 1 0 -7.6 0zM376.1 848.3h6.4M384.3 851a3.8 3.8 0 1 0 7.6 0a3.8 3.8 0 1 0 -7.6 0zM384.9 851h6.4M392.9 855a3.8 3.8 0 1 0 7.6 0a3.8 3.8 0 1 0 -7.6 0zM393.4 855h6.4M401.2 856.7a3.8 3.8 0 1 0 7.6 0a3.8 3.8 0 1 0 -7.6 0zM401.7 856.7h6.4M409.3 860a3.8 3.8 0 1 0 7.6 0a3.8 3.8 0 1 0 -7.6 0zM409.8 860h6.4M417.1 861.7a3.8 3.8 0 1 0 7.6 0a3.8 3.8 0 1 0 -7.6 0zM417.7 861.7h6.4M424.8 864.9a3.8 3.8 0 1 0 7.6 0a3.8 3.8 0 1 0 -7.6 0zM425.4 864.9h6.4M432.3 865.9a3.8 3.8 0 1 0 7.6 0a3.8 3.8 0 1 0 -7.6 0zM432.9 865.9h6.4M439.6 867.3a3.8 3.8 0 1 0 7.6 0a3.8 3.8 0 1 0 -7.6 0zM440.2 867.3h6.4M446.8 868.7a3.8 3.8 0 1 0 7.6 0a3.8 3.8 0 1 0 -7.6 0zM447.3 868.7h6.4M453.7 869a3.8 3.8 0 1 0 7.6 0a3.8 3.8 0 1 0 -7.6 0zM454.3 869h6.4M460.6 869.9a3.8 3.8 0 1 0 7.6 0a3.8 3.8 0 1 0 -7.6 0zM461.1 869.9h6.4M467.2 871.5a3.8 3.8 0 1 0 7.6 0a3.8 3.8 0 1 0 -7.6 0zM467.8 871.5h6.4M473.8 873.3a3.8 3.8 0 1 0 7.6 0a3.8 3.8 0 1 0 -7.6 0zM474.3 873.3h6.4M480.1 874a3.8 3.8 0 1 0 7.6 0a3.8 3.8 0 1 0 -7.6 0zM480.7 874h6.4M486.4 873.7a3.8 3.8 0 1 0 7.6 0a3.8 3.8 0 1 0 -7.6 0zM487 873.7h6.4M492.5 873.7a3.8 3.8 0 1 0 7.6 0a3.8 3.8 0 1 0 -7.6 0zM493.1 873.7h6.4M498.5 874.2a3.8 3.8 0 1 0 7.6 0a3.8 3.8 0 1 0 -7.6 0zM499.1 874.2h6.4M504.4 874.7a3.8 3.8 0 1 0 7.6 0a3.8 3.8 0 1 0 -7.6 0zM505 874.7h6.4M510.2 873.8a3.8 3.8 0 1 0 7.6 0a3.8 3.8 0 1 0 -7.6 0zM510.8 873.8h6.4M515.9 873.4a3.8 3.8 0 1 0 7.6 0a3.8 3.8 0 1 0 -7.6 0zM516.4 873.4h6.4M521.4 871.1a3.8 3.8 0 1 0 7.6 0a3.8 3.8 0 1 0 -7.6 0zM522 871.1h6.4M526.9 868.8a3.8 3.8 0 1 0 7.6 0a3.8 3.8 0 1 0 -7.6 0zM527.5 868.8h6.4M532.3 869a3.8 3.8 0 1 0 7.6 0a3.8 3.8 0 1 0 -7.6 0zM532.8 869h6.4M537.6 866.9a3.8 3.8 0 1 0 7.6 0a3.8 3.8 0 1 0 -7.6 0zM538.1 866.9h6.4M542.7 864.1a3.8 3.8 0 1 0 7.6 0a3.8 3.8 0 1 0 -7.6 0zM543.3 864.1h6.4M547.8 861.7a3.8 3.8 0 1 0 7.6 0a3.8 3.8 0 1 0 -7.6 0zM548.4 861.7h6.4M552.9 859a3.8 3.8 0 1 0 7.6 0a3.8 3.8 0 1 0 -7.6 0zM553.4 859h6.4M557.8 857.2a3.8 3.8 0 1 0 7.6 0a3.8 3.8 0 1 0 -7.6 0zM558.4 857.2h6.4M562.6 853.5a3.8 3.8 0 1 0 7.6 0a3.8 3.8 0 1 0 -7.6 0zM563.2 853.5h6.4M567.4 850.3a3.8 3.8 0 1 0 7.6 0a3.8 3.8 0 1 0 -7.6 0zM568 850.3h6.4M572.1 848.1a3.8 3.8 0 1 0 7.6 0a3.8 3.8 0 1 0 -7.6 0zM572.7 848.1h6.4M576.8 846.6a3.8 3.8 0 1 0 7.6 0a3.8 3.8 0 1 0 -7.6 0zM577.3 846.6h6.4M581.3 845.5a3.8 3.8 0 1 0 7.6 0a3.8 3.8 0 1 0 -7.6 0zM581.9 845.5h6.4M585.8 845a3.8 3.8 0 1 0 7.6 0a3.8 3.8 0 1 0 -7.6 0zM586.4 845h6.4M590.2 844.6a3.8 3.8 0 1 0 7.6 0a3.8 3.8 0 1 0 -7.6 0zM590.8 844.6h6.4M594.6 844.2a3.8 3.8 0 1 0 7.6 0a3.8 3.8 0 1 0 -7.6 0zM595.2 844.2h6.4M598.9 844.3a3.8 3.8 0 1 0 7.6 0a3.8 3.8 0 1 0 -7.6 0zM599.5 844.3h6.4M603.2 844.7a3.8 3.8 0 1 0 7.6 0a3.8 3.8 0 1 0 -7.6 0zM603.7 844.7h6.4M607.3 845.1a3.8 3.8 0 1 0 7.6 0a3.8 3.8 0 1 0 -7.6 0zM607.9 845.1h6.4M611.5 845.5a3.8 3.8 0 1 0 7.6 0a3.8 3.8 0 1 0 -7.6 0zM612 845.5h6.4M615.5 845.8a3.8 3.8 0 1 0 7.6 0a3.8 3.8 0 1 0 -7.6 0zM616.1 845.8h6.4M619.6 845.5a3.8 3.8 0 1 0 7.6 0a3.8 3.8 0 1 0 -7.6 0zM620.1 845.5h6.4M623.5 845.3a3.8 3.8 0 1 0 7.6 0a3.8 3.8 0 1 0 -7.6 0zM624.1 845.3h6.4M627.4 846.1a3.8 3.8 0 1 0 7.6 0a3.8 3.8 0 1 0 -7.6 0zM628 846.1h6.4M631.3 847.5a3.8 3.8 0 1 0 7.6 0a3.8 3.8 0 1 0 -7.6 0zM631.9 847.5h6.4M635.1 849.8a3.8 3.8 0 1 0 7.6 0a3.8 3.8 0 1 0 -7.6 0zM635.7 849.8h6.4M638.9 852.1a3.8 3.8 0 1 0 7.6 0a3.8 3.8 0 1 0 -7.6 0zM639.5 852.1h6.4M642.6 856.8a3.8 3.8 0 1 0 7.6 0a3.8 3.8 0 1 0 -7.6 0zM643.2 856.8h6.4M646.3 860.4a3.8 3.8 0 1 0 7.6 0a3.8 3.8 0 1 0 -7.6 0zM646.9 860.4h6.4M649.9 863.7a3.8 3.8 0 1 0 7.6 0a3.8 3.8 0 1 0 -7.6 0zM650.5 863.7h6.4M653.5 868.5a3.8 3.8 0 1 0 7.6 0a3.8 3.8 0 1 0 -7.6 0zM654.1 868.5h6.4M657.1 877a3.8 3.8 0 1 0 7.6 0a3.8 3.8 0 1 0 -7.6 0zM657.6 877h6.4M660.6 882.6a3.8 3.8 0 1 0 7.6 0a3.8 3.8 0 1 0 -7.6 0zM661.1 882.6h6.4M664 892a3.8 3.8 0 1 0 7.6 0a3.8 3.8 0 1 0 -7.6 0zM664.6 892h6.4M667.5 900.2a3.8 3.8 0 1 0 7.6 0a3.8 3.8 0 1 0 -7.6 0zM668 900.2h6.4M670.9 909a3.8 3.8 0 1 0 7.6 0a3.8 3.8 0 1 0 -7.6 0zM671.4 909h6.4M674.2 918.8a3.8 3.8 0 1 0 7.6 0a3.8 3.8 0 1 0 -7.6 0zM674.8 918.8h6.4M677.5 928.6a3.8 3.8 0 1 0 7.6 0a3.8 3.8 0 1 0 -7.6 0zM678.1 928.6h6.4M680.8 943.3a3.8 3.8 0 1 0 7.6 0a3.8 3.8 0 1 0 -7.6 0zM681.4 943.3h6.4M684.1 954.9a3.8 3.8 0 1 0 7.6 0a3.8 3.8 0 1 0 -7.6 0zM684.6 954.9h6.4M687.3 968.4a3.8 3.8 0 1 0 7.6 0a3.8 3.8 0 1 0 -7.6 0zM687.8 968.4h6.4M690.4 982a3.8 3.8 0 1 0 7.6 0a3.8 3.8 0 1 0 -7.6 0zM691 982h6.4M693.6 997.8a3.8 3.8 0 1 0 7.6 0a3.8 3.8 0 1 0 -7.6 0zM694.1 997.8h6.4M696.7 1012.5a3.8 3.8 0 1 0 7.6 0a3.8 3.8 0 1 0 -7.6 0zM697.3 1012.5h6.4M699.8 1028.1a3.8 3.8 0 1 0 7.6 0a3.8 3.8 0 1 0 -7.6 0zM700.3 1028.1h6.4M702.8 1045.5a3.8 3.8 0 1 0 7.6 0a3.8 3.8 0 1 0 -7.6 0zM703.4 1045.5h6.4M705.8 1059.8a3.8 3.8 0 1 0 7.6 0a3.8 3.8 0 1 0 -7.6 0zM706.4 1059.8h6.4M708.8 1075.8a3.8 3.8 0 1 0 7.6 0a3.8 3.8 0 1 0 -7.6 0zM709.4 1075.8h6.4M711.8 1090.8a3.8 3.8 0 1 0 7.6 0a3.8 3.8 0 1 0 -7.6 0zM712.4 1090.8h6.4M714.7 1105.9a3.8 3.8 0 1 0 7.6 0a3.8 3.8 0 1 0 -7.6 0zM715.3 1105.9h6.4M717.6 1120.3a3.8 3.8 0 1 0 7.6 0a3.8 3.8 0 1 0 -7.6 0zM718.2 1120.3h6.4M720.5 1134.2a3.8 3.8 0 1 0 7.6 0a3.8 3.8 0 1 0 -7.6 0zM721.1 1134.2h6.4M723.4 1148.6a3.8 3.8 0 1 0 7.6 0a3.8 3.8 0 1 0 -7.6 0zM723.9 1148.6h6.4" fill="none" stroke="#0072b2" stroke-width="0.85"/>
<path d="M118 761a4.1 4.1 0 1 0 8.3 0a4.1 4.1 0 1 0 -8.3 0zM146.6 762.7a4.1 4.1 0 1 0 8.3 0a4.1 4.1 0 1 0 -8.3 0zM162 762.7a4.1 4.1 0 1 0 8.3 0a4.1 4.1 0 1 0 -8.3 0zM180.4 765a4.1 4.1 0 1 0 8.3 0a4.1 4.1 0 1 0 -8.3 0zM196.2 767a4.1 4.1 0 1 0 8.3 0a4.1 4.1 0 1 0 -8.3 0zM214.3 770.3a4.1 4.1 0 1 0 8.3 0a4.1 4.1 0 1 0 -8.3 0zM229 774.2a4.1 4.1 0 1 0 8.3 0a4.1 4.1 0 1 0 -8.3 0zM242 778.7a4.1 4.1 0 1 0 8.3 0a4.1 4.1 0 1 0 -8.3 0zM254.8 783.1a4.1 4.1 0 1 0 8.3 0a4.1 4.1 0 1 0 -8.3 0zM269.5 789.4a4.1 4.1 0 1 0 8.3 0a4.1 4.1 0 1 0 -8.3 0zM281.9 795a4.1 4.1 0 1 0 8.3 0a4.1 4.1 0 1 0 -8.3 0zM293.8 799.8a4.1 4.1 0 1 0 8.3 0a4.1 4.1 0 1 0 -8.3 0zM305.2 805.2a4.1 4.1 0 1 0 8.3 0a4.1 4.1 0 1 0 -8.3 0zM316.2 810.5a4.1 4.1 0 1 0 8.3 0a4.1 4.1 0 1 0 -8.3 0zM326.9 815.3a4.1 4.1 0 1 0 8.3 0a4.1 4.1 0 1 0 -8.3 0zM337.2 819a4.1 4.1 0 1 0 8.3 0a4.1 4.1 0 1 0 -8.3 0zM347.1 823.1a4.1 4.1 0 1 0 8.3 0a4.1 4.1 0 1 0 -8.3 0zM356.8 827a4.1 4.1 0 1 0 8.3 0a4.1 4.1 0 1 0 -8.3 0zM366.1 830.4a4.1 4.1 0 1 0 8.3 0a4.1 4.1 0 1 0 -8.3 0zM375.2 833.7a4.1 4.1 0 1 0 8.3 0a4.1 4.1 0 1 0 -8.3 0zM383.9 836.7a4.1 4.1 0 1 0 8.3 0a4.1 4.1 0 1 0 -8.3 0zM392.5 839.7a4.1 4.1 0 1 0 8.3 0a4.1 4.1 0 1 0 -8.3 0zM400.8 842.7a4.1 4.1 0 1 0 8.3 0a4.1 4.1 0 1 0 -8.3 0zM408.9 845a4.1 4.1 0 1 0 8.3 0a4.1 4.1 0 1 0 -8.3 0zM416.8 846.7a4.1 4.1 0 1 0 8.3 0a4.1 4.1 0 1 0 -8.3 0zM424.5 849a4.1 4.1 0 1 0 8.3 0a4.1 4.1 0 1 0 -8.3 0zM432 849.4a4.1 4.1 0 1 0 8.3 0a4.1 4.1 0 1 0 -8.3 0zM439.3 851.3a4.1 4.1 0 1 0 8.3 0a4.1 4.1 0 1 0 -8.3 0zM446.4 851.7a4.1 4.1 0 1 0 8.3 0a4.1 4.1 0 1 0 -8.3 0zM453.4 852.7a4.1 4.1 0 1 0 8.3 0a4.1 4.1 0 1 0 -8.3 0zM460.2 852.7a4.1 4.1 0 1 0 8.3 0a4.1 4.1 0 1 0 -8.3 0zM466.9 853.3a4.1 4.1 0 1 0 8.3 0a4.1 4.1 0 1 0 -8.3 0zM473.4 853.3a4.1 4.1 0 1 0 8.3 0a4.1 4.1 0 1 0 -8.3 0zM479.8 852.3a4.1 4.1 0 1 0 8.3 0a4.1 4.1 0 1 0 -8.3 0zM486 852.3a4.1 4.1 0 1 0 8.3 0a4.1 4.1 0 1 0 -8.3 0zM492.2 850.1a4.1 4.1 0 1 0 8.3 0a4.1 4.1 0 1 0 -8.3 0zM498.2 849.3a4.1 4.1 0 1 0 8.3 0a4.1 4.1 0 1 0 -8.3 0zM504.1 849.3a4.1 4.1 0 1 0 8.3 0a4.1 4.1 0 1 0 -8.3 0zM509.8 848.5a4.1 4.1 0 1 0 8.3 0a4.1 4.1 0 1 0 -8.3 0zM515.5 847a4.1 4.1 0 1 0 8.3 0a4.1 4.1 0 1 0 -8.3 0zM521.1 845.2a4.1 4.1 0 1 0 8.3 0a4.1 4.1 0 1 0 -8.3 0zM526.5 844.2a4.1 4.1 0 1 0 8.3 0a4.1 4.1 0 1 0 -8.3 0zM531.9 841.8a4.1 4.1 0 1 0 8.3 0a4.1 4.1 0 1 0 -8.3 0zM537.2 841.5a4.1 4.1 0 1 0 8.3 0a4.1 4.1 0 1 0 -8.3 0zM542.4 839.4a4.1 4.1 0 1 0 8.3 0a4.1 4.1 0 1 0 -8.3 0zM547.5 836.7a4.1 4.1 0 1 0 8.3 0a4.1 4.1 0 1 0 -8.3 0zM552.5 834.7a4.1 4.1 0 1 0 8.3 0a4.1 4.1 0 1 0 -8.3 0zM557.4 833.3a4.1 4.1 0 1 0 8.3 0a4.1 4.1 0 1 0 -8.3 0zM562.3 832.4a4.1 4.1 0 1 0 8.3 0a4.1 4.1 0 1 0 -8.3 0zM567.1 831.3a4.1 4.1 0 1 0 8.3 0a4.1 4.1 0 1 0 -8.3 0zM571.8 829.8a4.1 4.1 0 1 0 8.3 0a4.1 4.1 0 1 0 -8.3 0zM576.4 828.2a4.1 4.1 0 1 0 8.3 0a4.1 4.1 0 1 0 -8.3 0zM581 827.1a4.1 4.1 0 1 0 8.3 0a4.1 4.1 0 1 0 -8.3 0zM585.5 827.5a4.1 4.1 0 1 0 8.3 0a4.1 4.1 0 1 0 -8.3 0zM589.9 828.9a4.1 4.1 0 1 0 8.3 0a4.1 4.1 0 1 0 -8.3 0zM594.2 830.7a4.1 4.1 0 1 0 8.3 0a4.1 4.1 0 1 0 -8.3 0zM598.6 831.6a4.1 4.1 0 1 0 8.3 0a4.1 4.1 0 1 0 -8.3 0zM602.8 832.4a4.1 4.1 0 1 0 8.3 0a4.1 4.1 0 1 0 -8.3 0zM607 834.5a4.1 4.1 0 1 0 8.3 0a4.1 4.1 0 1 0 -8.3 0zM611.1 837a4.1 4.1 0 1 0 8.3 0a4.1 4.1 0 1 0 -8.3 0zM615.2 840.6a4.1 4.1 0 1 0 8.3 0a4.1 4.1 0 1 0 -8.3 0zM619.2 844.4a4.1 4.1 0 1 0 8.3 0a4.1 4.1 0 1 0 -8.3 0zM623.2 847.8a4.1 4.1 0 1 0 8.3 0a4.1 4.1 0 1 0 -8.3 0zM627.1 851.4a4.1 4.1 0 1 0 8.3 0a4.1 4.1 0 1 0 -8.3 0zM630.9 856.2a4.1 4.1 0 1 0 8.3 0a4.1 4.1 0 1 0 -8.3 0zM634.8 861.4a4.1 4.1 0 1 0 8.3 0a4.1 4.1 0 1 0 -8.3 0zM638.5 867.8a4.1 4.1 0 1 0 8.3 0a4.1 4.1 0 1 0 -8.3 0zM642.3 875.7a4.1 4.1 0 1 0 8.3 0a4.1 4.1 0 1 0 -8.3 0zM645.9 883.3a4.1 4.1 0 1 0 8.3 0a4.1 4.1 0 1 0 -8.3 0zM649.6 892a4.1 4.1 0 1 0 8.3 0a4.1 4.1 0 1 0 -8.3 0zM653.2 901.8a4.1 4.1 0 1 0 8.3 0a4.1 4.1 0 1 0 -8.3 0zM656.7 913.5a4.1 4.1 0 1 0 8.3 0a4.1 4.1 0 1 0 -8.3 0zM660.2 925.1a4.1 4.1 0 1 0 8.3 0a4.1 4.1 0 1 0 -8.3 0zM663.7 938.1a4.1 4.1 0 1 0 8.3 0a4.1 4.1 0 1 0 -8.3 0zM667.1 951.2a4.1 4.1 0 1 0 8.3 0a4.1 4.1 0 1 0 -8.3 0zM670.5 964.7a4.1 4.1 0 1 0 8.3 0a4.1 4.1 0 1 0 -8.3 0zM673.8 982.1a4.1 4.1 0 1 0 8.3 0a4.1 4.1 0 1 0 -8.3 0zM677.2 997.8a4.1 4.1 0 1 0 8.3 0a4.1 4.1 0 1 0 -8.3 0zM680.4 1012.5a4.1 4.1 0 1 0 8.3 0a4.1 4.1 0 1 0 -8.3 0zM683.7 1028.5a4.1 4.1 0 1 0 8.3 0a4.1 4.1 0 1 0 -8.3 0zM686.9 1045a4.1 4.1 0 1 0 8.3 0a4.1 4.1 0 1 0 -8.3 0zM690.1 1060.3a4.1 4.1 0 1 0 8.3 0a4.1 4.1 0 1 0 -8.3 0zM693.2 1077.5a4.1 4.1 0 1 0 8.3 0a4.1 4.1 0 1 0 -8.3 0zM696.3 1094.9a4.1 4.1 0 1 0 8.3 0a4.1 4.1 0 1 0 -8.3 0zM699.4 1109.7a4.1 4.1 0 1 0 8.3 0a4.1 4.1 0 1 0 -8.3 0zM702.5 1124.7a4.1 4.1 0 1 0 8.3 0a4.1 4.1 0 1 0 -8.3 0zM705.5 1139.6a4.1 4.1 0 1 0 8.3 0a4.1 4.1 0 1 0 -8.3 0zM708.5 1153.4a4.1 4.1 0 1 0 8.3 0a4.1 4.1 0 1 0 -8.3 0z" fill="#e51e10"/>
<path d="M122.1 734.4l4.4 7.4h-8.8zM150.7 735.1l4.4 7.4h-8.8zM166.1 735.1l4.4 7.4h-8.8zM184.5 737.4l4.4 7.4h-8.8zM200.3 739.1l4.4 7.4h-8.8zM218.4 743.4l4.4 7.4h-8.8zM233.1 746.7l4.4 7.4h-8.8zM246.1 750.1l4.4 7.4h-8.8zM258.9 754.2l4.4 7.4h-8.8zM273.6 759.2l4.4 7.4h-8.8zM286 764.1l4.4 7.4h-8.8zM297.9 768.5l4.4 7.4h-8.8zM309.4 772.5l4.4 7.4h-8.8zM320.4 776.5l4.4 7.4h-8.8zM331 781.4l4.4 7.4h-8.8zM341.3 784.4l4.4 7.4h-8.8zM351.3 787.6l4.4 7.4h-8.8zM360.9 791.1l4.4 7.4h-8.8zM370.2 793.4l4.4 7.4h-8.8zM379.3 795.8l4.4 7.4h-8.8zM388.1 798.8l4.4 7.4h-8.8zM396.6 801.1l4.4 7.4h-8.8zM404.9 802.4l4.4 7.4h-8.8zM413 803.8l4.4 7.4h-8.8zM420.9 804.8l4.4 7.4h-8.8zM428.6 804.6l4.4 7.4h-8.8zM436.1 805.4l4.4 7.4h-8.8zM443.4 805.4l4.4 7.4h-8.8zM450.5 804.8l4.4 7.4h-8.8zM457.5 803.8l4.4 7.4h-8.8zM464.3 802.8l4.4 7.4h-8.8zM471 802.2l4.4 7.4h-8.8zM477.5 801.4l4.4 7.4h-8.8zM483.9 801.6l4.4 7.4h-8.8zM490.2 800l4.4 7.4h-8.8zM496.3 798.4l4.4 7.4h-8.8zM502.3 798.1l4.4 7.4h-8.8zM508.2 798.6l4.4 7.4h-8.8zM514 798l4.4 7.4h-8.8zM519.7 796.4l4.4 7.4h-8.8zM525.2 795.2l4.4 7.4h-8.8zM530.7 794l4.4 7.4h-8.8zM536.1 793.1l4.4 7.4h-8.8zM541.3 792.8l4.4 7.4h-8.8zM546.5 792.4l4.4 7.4h-8.8zM551.6 791.8l4.4 7.4h-8.8zM556.6 792.1l4.4 7.4h-8.8zM561.6 792.8l4.4 7.4h-8.8zM566.4 794.6l4.4 7.4h-8.8zM571.2 797.5l4.4 7.4h-8.8zM575.9 801.5l4.4 7.4h-8.8zM580.5 804.9l4.4 7.4h-8.8zM585.1 808.6l4.4 7.4h-8.8zM589.6 813l4.4 7.4h-8.8zM594 817.7l4.4 7.4h-8.8zM598.4 825.3l4.4 7.4h-8.8zM602.7 832.1l4.4 7.4h-8.8zM606.9 839.1l4.4 7.4h-8.8zM611.1 848l4.4 7.4h-8.8zM615.2 857.5l4.4 7.4h-8.8zM619.3 867.4l4.4 7.4h-8.8zM623.3 877.4l4.4 7.4h-8.8zM627.3 889.5l4.4 7.4h-8.8zM631.2 900.6l4.4 7.4h-8.8zM635.1 912l4.4 7.4h-8.8zM638.9 926.1l4.4 7.4h-8.8zM642.7 939l4.4 7.4h-8.8zM646.4 952.8l4.4 7.4h-8.8zM650.1 970.5l4.4 7.4h-8.8zM653.7 987l4.4 7.4h-8.8zM657.3 1004.3l4.4 7.4h-8.8zM660.8 1022.1l4.4 7.4h-8.8zM664.4 1041.2l4.4 7.4h-8.8zM667.8 1059.2l4.4 7.4h-8.8zM671.2 1078.8l4.4 7.4h-8.8zM674.6 1097l4.4 7.4h-8.8zM678 1114l4.4 7.4h-8.8zM681.3 1131.7l4.4 7.4h-8.8zM684.6 1149.1l4.4 7.4h-8.8z" fill="#000" fill-opacity=".03" stroke="#000" stroke-width="0.61"/>
<path d="M118.9 740.1h6.3M147.5 740.8h6.3M162.9 740.8h6.3M181.3 743.1h6.3M197.1 744.8h6.3M215.2 749.2h6.3M229.9 752.5h6.3M242.9 755.9h6.3M255.7 760h6.3M270.5 765h6.3M282.8 769.8h6.3M294.7 774.2h6.3M306.2 778.3h6.3M317.2 782.3h6.3M327.9 787.2h6.3M338.2 790.1h6.3M348.1 793.4h6.3M357.7 796.8h6.3M367.1 799.2h6.3M376.1 801.5h6.3M384.9 804.6h6.3M393.5 806.8h6.3M401.8 808.1h6.3M409.9 809.5h6.3M417.8 810.5h6.3M425.4 810.3h6.3M432.9 811.1h6.3M440.3 811.1h6.3M447.4 810.6h6.3M454.4 809.6h6.3M461.2 808.6h6.3M467.9 807.9h6.3M474.4 807.1h6.3M480.8 807.3h6.3M487 805.8h6.3M493.1 804.2h6.3M499.2 803.8h6.3M505 804.3h6.3M510.8 803.7h6.3M516.5 802.1h6.3M522.1 801h6.3M527.5 799.7h6.3M532.9 798.9h6.3M538.2 798.6h6.3M543.4 798.2h6.3M548.5 797.5h6.3M553.5 797.8h6.3M558.4 798.5h6.3M563.3 800.4h6.3M568 803.3h6.3M572.8 807.3h6.3M577.4 810.6h6.3M581.9 814.4h6.3M586.4 818.7h6.3M590.9 823.5h6.3M595.2 831.1h6.3M599.5 837.8h6.3M603.8 844.9h6.3M608 853.8h6.3M612.1 863.2h6.3M616.2 873.2h6.3M620.2 883.2h6.3M624.2 895.3h6.3M628.1 906.3h6.3M631.9 917.8h6.3M635.7 931.9h6.3M639.5 944.8h6.3M643.2 958.6h6.3M646.9 976.3h6.3M650.6 992.8h6.3M654.1 1010h6.3M657.7 1027.8h6.3M661.2 1046.9h6.3M664.7 1064.9h6.3M668.1 1084.6h6.3M671.5 1102.7h6.3M674.8 1119.8h6.3M678.2 1137.4h6.3M681.4 1154.9h6.3" fill="none" stroke="#000" stroke-width="0.64"/>
</g>
<g>
<path d="M118.2 1363.3h7.8M122.1 1360.2v6.2M118.9 1362.3h6.4M118.9 1364.3h6.4M146.8 1370.7h7.8M150.7 1367.5v6.2M147.5 1369.7h6.4M147.5 1371.7h6.4M162.2 1363.7h7.8M166.1 1360.6v6.2M162.9 1362.7h6.4M162.9 1364.7h6.4M180.6 1376.5h7.8M184.5 1373.4v6.2M181.3 1375.5h6.4M181.3 1377.5h6.4M196.4 1379h7.8M200.3 1375.9v6.2M197.1 1378h6.4M197.1 1380h6.4M214.5 1382h7.8M218.4 1378.9v6.2M215.2 1381h6.4M215.2 1383h6.4M229.2 1389.9h7.8M233.1 1386.8v6.2M229.9 1388.9h6.4M229.9 1390.9h6.4M242.2 1397.9h7.8M246.1 1394.8v6.2M242.9 1396.9h6.4M242.9 1398.9h6.4M255 1403.1h7.8M258.9 1400v6.2M255.7 1402.1h6.4M255.7 1404.1h6.4M269.7 1408.7h7.8M273.6 1405.6v6.2M270.4 1407.7h6.4M270.4 1409.7h6.4M282.1 1414.8h7.8M286 1411.7v6.2M282.8 1413.8h6.4M282.8 1415.8h6.4M294 1422h7.8M297.9 1418.9v6.2M294.7 1421h6.4M294.7 1423h6.4M305.5 1428.6h7.8M309.4 1425.5v6.2M306.2 1427.6h6.4M306.2 1429.6h6.4M316.5 1435.5h7.8M320.4 1432.3v6.2M317.2 1434.5h6.4M317.2 1436.5h6.4M327.1 1441.3h7.8M331 1438.2v6.2M327.8 1440.3h6.4M327.8 1442.3h6.4M337.4 1447.2h7.8M341.3 1444.1v6.2M338.1 1446.2h6.4M338.1 1448.2h6.4M347.4 1452.3h7.8M351.3 1449.2v6.2M348.1 1451.3h6.4M348.1 1453.3h6.4M357 1457h7.8M360.9 1453.9v6.2M357.7 1456h6.4M357.7 1458h6.4M366.3 1463.9h7.8M370.2 1460.8v6.2M367 1462.9h6.4M367 1464.9h6.4M375.4 1468.8h7.8M379.3 1465.7v6.2M376.1 1467.8h6.4M376.1 1469.8h6.4M384.2 1474h7.8M388.1 1470.9v6.2M384.9 1473h6.4M384.9 1475h6.4M392.7 1479.2h7.8M396.6 1476.1v6.2M393.4 1478.2h6.4M393.4 1480.2h6.4M401 1484.2h7.8M404.9 1481.1v6.2M401.7 1483.2h6.4M401.7 1485.2h6.4M409.1 1487.5h7.8M413 1484.4v6.2M409.8 1486.5h6.4M409.8 1488.5h6.4M417 1490.4h7.8M420.9 1487.3v6.2M417.7 1489.4h6.4M417.7 1491.4h6.4M424.7 1494.1h7.8M428.6 1491v6.2M425.4 1493.1h6.4M425.4 1495.1h6.4M432.2 1498.8h7.8M436.1 1495.7v6.2M432.9 1497.8h6.4M432.9 1499.9h6.4M439.5 1502.3h7.8M443.4 1499.2v6.2M440.2 1501.2h6.4M440.2 1503.4h6.4M446.6 1505.3h7.8M450.5 1502.2v6.2M447.3 1504.2h6.4M447.3 1506.4h6.4M453.6 1508.8h7.8M457.5 1505.7v6.2M454.3 1507.6h6.4M454.3 1509.9h6.4M460.4 1512.6h7.8M464.3 1509.5v6.2M461.1 1511.4h6.4M461.1 1513.8h6.4M467.1 1516.6h7.8M471 1513.4v6.2M467.8 1515.4h6.4M467.8 1517.8h6.4M473.6 1517.7h7.8M477.5 1514.6v6.2M474.3 1516.5h6.4M474.3 1519h6.4M480 1521.2h7.8M483.9 1518.1v6.2M480.7 1520h6.4M480.7 1522.5h6.4M486.3 1524.1h7.8M490.2 1520.9v6.2M487 1522.8h6.4M487 1525.4h6.4M492.4 1525.9h7.8M496.3 1522.7v6.2M493.1 1524.5h6.4M493.1 1527.2h6.4M498.4 1529.7h7.8M502.3 1526.6v6.2M499.1 1528.3h6.4M499.1 1531.1h6.4M504.3 1532.5h7.8M508.2 1529.4v6.2M505 1531.1h6.4M505 1533.9h6.4M510.1 1537.4h7.8M514 1534.3v6.2M510.8 1535.9h6.4M510.8 1538.8h6.4M515.8 1540h7.8M519.7 1536.8v6.2M516.5 1538.5h6.4M516.5 1541.4h6.4M521.3 1542h7.8M525.2 1538.9v6.2M522 1540.5h6.4M522 1543.5h6.4M526.8 1546.6h7.8M530.7 1543.5v6.2M527.5 1545.1h6.4M527.5 1548.1h6.4M532.2 1548.7h7.8M536.1 1545.6v6.2M532.9 1547.2h6.4M532.9 1550.3h6.4M537.4 1550.2h7.8M541.3 1547.1v6.2M538.1 1548.6h6.4M538.1 1551.8h6.4M542.6 1553h7.8M546.5 1549.9v6.2M543.3 1551.4h6.4M543.3 1554.6h6.4M547.7 1554.5h7.8M551.6 1551.4v6.2M548.4 1552.9h6.4M548.4 1556.2h6.4M552.7 1555.3h7.8M556.6 1552.2v6.2M553.4 1553.6h6.4M553.4 1557h6.4M557.7 1557.2h7.8M561.6 1554.1v6.2M558.4 1555.5h6.4M558.4 1558.9h6.4M562.5 1557.5h7.8M566.4 1554.3v6.2M563.2 1555.7h6.4M563.2 1559.2h6.4M567.3 1561.4h7.8M571.2 1558.3v6.2M568 1559.6h6.4M568 1563.1h6.4M572 1564.4h7.8M575.9 1561.3v6.2M572.7 1562.6h6.4M572.7 1566.2h6.4M576.6 1566.1h7.8M580.5 1563v6.2M577.3 1564.3h6.4M577.3 1567.9h6.4M581.2 1567.9h7.8M585.1 1564.8v6.2M581.9 1566.1h6.4M581.9 1569.8h6.4M585.7 1569.3h7.8M589.6 1566.2v6.2M586.4 1567.4h6.4M586.4 1571.2h6.4M590.1 1570.8h7.8M594 1567.7v6.2M590.8 1568.9h6.4M590.8 1572.7h6.4M594.5 1569.5h7.8M598.4 1566.4v6.2M595.2 1567.6h6.4M595.2 1571.5h6.4M598.8 1571.9h7.8M602.7 1568.8v6.2M599.5 1570h6.4M599.5 1573.9h6.4M603 1570.1h7.8M606.9 1567v6.2M603.7 1568h6.4M603.7 1572.1h6.4M607.2 1571.7h7.8M611.1 1568.5v6.2M607.9 1569.6h6.4M607.9 1573.7h6.4M611.3 1571.1h7.8M615.2 1568v6.2M612 1569h6.4M612 1573.2h6.4M615.4 1574.6h7.8M619.3 1571.4v6.2M616.1 1572.4h6.4M616.1 1576.7h6.4M619.4 1575.6h7.8M623.3 1572.5v6.2M620.1 1573.5h6.4M620.1 1577.8h6.4M623.4 1574.9h7.8M627.3 1571.8v6.2M624.1 1572.7h6.4M624.1 1577.1h6.4M627.3 1577.2h7.8M631.2 1574.1v6.2M628 1575h6.4M628 1579.4h6.4M631.2 1575.4h7.8M635.1 1572.2v6.2M631.9 1573.1h6.4M631.9 1577.6h6.4M635 1576.8h7.8M638.9 1573.6v6.2M635.7 1574.5h6.4M635.7 1579h6.4M638.8 1578.2h7.8M642.7 1575.1v6.2M639.5 1575.9h6.4M639.5 1580.5h6.4M642.5 1578.9h7.8M646.4 1575.8v6.2M643.2 1576.5h6.4M643.2 1581.2h6.4M646.2 1581.4h7.8M650.1 1578.2v6.2M646.9 1579h6.4M646.9 1583.7h6.4M649.8 1583.7h7.8M653.7 1580.6v6.2M650.5 1581.3h6.4M650.5 1586.1h6.4M653.4 1581.6h7.8M657.3 1578.5v6.2M654.1 1579.2h6.4M654.1 1584h6.4M656.9 1584.5h7.8M660.8 1581.4v6.2M657.6 1582.1h6.4M657.6 1587h6.4M660.5 1585.4h7.8M664.4 1582.3v6.2M661.2 1583h6.4M661.2 1587.9h6.4M663.9 1588.8h7.8M667.8 1585.7v6.2M664.6 1586.3h6.4M664.6 1591.3h6.4M667.3 1588.6h7.8M671.2 1585.4v6.2M668 1586h6.4M668 1591.1h6.4M670.7 1588.9h7.8M674.6 1585.8v6.2M671.4 1586.4h6.4M671.4 1591.5h6.4M674.1 1588.4h7.8M678 1585.3v6.2M674.8 1585.9h6.4M674.8 1591h6.4M677.4 1587.6h7.8M681.3 1584.5v6.2M678.1 1585h6.4M678.1 1590.2h6.4M680.7 1585.5h7.8M684.6 1582.4v6.2M681.4 1582.9h6.4M681.4 1588.2h6.4M683.9 1587.9h7.8M687.8 1584.8v6.2M684.6 1585.3h6.4M684.6 1590.6h6.4M687.1 1584.3h7.8M691 1581.2v6.2M687.8 1581.6h6.4M687.8 1587.1h6.4M690.3 1585.3h7.8M694.2 1582.2v6.2M691 1582.6h6.4M691 1588.1h6.4M693.5 1585.3h7.8M697.4 1582.2v6.2M694.2 1582.6h6.4M694.2 1588.1h6.4M696.6 1583.4h7.8M700.5 1580.3v6.2M697.3 1580.6h6.4M697.3 1586.2h6.4M699.7 1582.5h7.8M703.6 1579.3v6.2M700.4 1579.6h6.4M700.4 1585.3h6.4M702.7 1580h7.8M706.6 1576.9v6.2M703.4 1577.2h6.4M703.4 1582.9h6.4M705.7 1574.9h7.8M709.6 1571.8v6.2M706.4 1572h6.4M706.4 1577.8h6.4M708.7 1569.6h7.8M712.6 1566.5v6.2M709.4 1566.7h6.4M709.4 1572.5h6.4M711.7 1563h7.8M715.6 1559.9v6.2M712.4 1560.1h6.4M712.4 1565.9h6.4M714.6 1560.2h7.8M718.5 1557.1v6.2M715.3 1557.3h6.4M715.3 1563.2h6.4M717.5 1554.2h7.8M721.4 1551.1v6.2M718.2 1551.2h6.4M718.2 1557.2h6.4M720.4 1547h7.8M724.3 1543.9v6.2M721.1 1544h6.4M721.1 1550h6.4M723.2 1541.3h7.8M727.1 1538.2v6.2M723.9 1538.2h6.4M723.9 1544.3h6.4M726.1 1537.7h7.8M730 1534.6v6.2M726.8 1534.7h6.4M726.8 1540.8h6.4M728.8 1532.1h7.8M732.7 1528.9v6.2M729.5 1529h6.4M729.5 1535.2h6.4M731.6 1526.3h7.8M735.5 1523.2v6.3M732.3 1523.2h6.4M732.3 1529.5h6.4M734.4 1522.7h7.8M738.3 1519.5v6.3M735.1 1519.5h6.4M735.1 1525.8h6.4M737.1 1510.4h7.8M741 1507.2v6.4M737.8 1507.2h6.4M737.8 1513.6h6.4M739.8 1501.9h7.8M743.7 1498.7v6.4M740.5 1498.7h6.4M740.5 1505.2h6.4M742.5 1489.4h7.8M746.4 1486.2v6.5M743.2 1486.2h6.4M743.2 1492.6h6.4M745.1 1475.8h7.8M749 1472.5v6.5M745.8 1472.5h6.4M745.8 1479h6.4M747.7 1468.1h7.8M751.6 1464.8v6.6M748.4 1464.8h6.4M748.4 1471.4h6.4M750.3 1458.6h7.8M754.2 1455.3v6.6M751 1455.3h6.4M751 1461.9h6.4M752.9 1450.7h7.8M756.8 1447.3v6.7M753.6 1447.3h6.4M753.6 1454h6.4M755.5 1445.8h7.8M759.4 1442.4v6.7M756.2 1442.4h6.4M756.2 1449.2h6.4M758 1440.5h7.8M761.9 1437.1v6.8M758.7 1437.1h6.4M758.7 1443.9h6.4M760.5 1440h7.8M764.4 1436.5v6.8M761.2 1436.5h6.4M761.2 1443.4h6.4M763 1440.6h7.8M766.9 1437.1v6.9M763.7 1437.1h6.4M763.7 1444h6.4M765.5 1443.6h7.8M769.4 1440.2v6.9M766.2 1440.2h6.4M766.2 1447.1h6.4M768 1445.5h7.8M771.9 1442v7M768.7 1442h6.4M768.7 1449h6.4" fill="none" stroke="#9400d3" stroke-width="0.85"/>
<path d="M118.2 1363.5l7.7 7.7m0 -7.7l-7.7 7.7M122.1 1366.5v1.6M119 1366.5h6.2M119 1368.1h6.2M146.8 1371.2l7.7 7.7m0 -7.7l-7.7 7.7M150.7 1374.2v1.6M147.6 1374.2h6.2M147.6 1375.8h6.2M162.2 1361.1l7.7 7.7m0 -7.7l-7.7 7.7M166.1 1364.2v1.6M163 1364.2h6.2M163 1365.8h6.2M180.7 1377.8l7.7 7.7m0 -7.7l-7.7 7.7M184.5 1380.9v1.6M181.4 1380.9h6.2M181.4 1382.5h6.2M196.5 1380.4l7.7 7.7m0 -7.7l-7.7 7.7M200.3 1383.5v1.6M197.2 1383.5h6.2M197.2 1385.1h6.2M214.6 1382.9l7.7 7.7m0 -7.7l-7.7 7.7M218.4 1386v1.6M215.3 1386h6.2M215.3 1387.6h6.2M229.2 1391l7.7 7.7m0 -7.7l-7.7 7.7M233.1 1394.1v1.6M230 1394.1h6.2M230 1395.7h6.2M242.2 1399.6l7.7 7.7m0 -7.7l-7.7 7.7M246.1 1402.7v1.6M243 1402.7h6.2M243 1404.3h6.2M255 1404.7l7.7 7.7m0 -7.7l-7.7 7.7M258.9 1407.8v1.6M255.8 1407.8h6.2M255.8 1409.4h6.2M269.8 1410.9l7.7 7.7m0 -7.7l-7.7 7.7M273.6 1414v1.6M270.5 1414h6.2M270.5 1415.6h6.2M282.2 1415.6l7.7 7.7m0 -7.7l-7.7 7.7M286 1418.7v1.6M282.9 1418.7h6.2M282.9 1420.3h6.2M294.1 1421.4l7.7 7.7m0 -7.7l-7.7 7.7M297.9 1424.4v1.6M294.8 1424.4h6.2M294.8 1426h6.2M305.5 1427.3l7.7 7.7m0 -7.7l-7.7 7.7M309.4 1430.3v1.6M306.3 1430.3h6.2M306.3 1431.9h6.2M316.5 1433.5l7.7 7.7m0 -7.7l-7.7 7.7M320.4 1436.5v1.6M317.3 1436.5h6.2M317.3 1438.1h6.2M327.2 1440.8l7.7 7.7m0 -7.7l-7.7 7.7M331 1443.8v1.6M327.9 1443.8h6.2M327.9 1445.4h6.2M337.5 1446.9l7.7 7.7m0 -7.7l-7.7 7.7M341.3 1450v1.6M338.2 1450h6.2M338.2 1451.6h6.2M347.4 1451.5l7.7 7.7m0 -7.7l-7.7 7.7M351.3 1454.5v1.6M348.2 1454.5h6.2M348.2 1456.1h6.2M357 1456.2l7.7 7.7m0 -7.7l-7.7 7.7M360.9 1459.3v1.6M357.8 1459.3h6.2M357.8 1460.9h6.2M366.4 1461.6l7.7 7.7m0 -7.7l-7.7 7.7M370.2 1464.7v1.6M367.1 1464.7h6.2M367.1 1466.3h6.2M375.4 1467.5l7.7 7.7m0 -7.7l-7.7 7.7M379.3 1470.5v1.6M376.2 1470.5h6.2M376.2 1472.1h6.2M384.2 1473l7.7 7.7m0 -7.7l-7.7 7.7M388.1 1476.1v1.6M385 1476.1h6.2M385 1477.7h6.2M392.8 1478.7l7.7 7.7m0 -7.7l-7.7 7.7M396.6 1481.7v1.7M393.5 1481.7h6.2M393.5 1483.4h6.2M401.1 1482l7.7 7.7m0 -7.7l-7.7 7.7M404.9 1485v1.7M401.8 1485h6.2M401.8 1486.7h6.2M409.2 1484.9l7.7 7.7m0 -7.7l-7.7 7.7M413 1487.9v1.8M409.9 1487.9h6.2M409.9 1489.6h6.2M417.1 1488.8l7.7 7.7m0 -7.7l-7.7 7.7M420.9 1491.8v1.8M417.8 1491.8h6.2M417.8 1493.6h6.2M424.8 1491.7l7.7 7.7m0 -7.7l-7.7 7.7M428.6 1494.6v1.9M425.5 1494.6h6.2M425.5 1496.5h6.2M432.2 1495.5l7.7 7.7m0 -7.7l-7.7 7.7M436.1 1498.4v1.9M433 1498.4h6.2M433 1500.3h6.2M439.6 1500l7.7 7.7m0 -7.7l-7.7 7.7M443.4 1502.9v2M440.3 1502.9h6.2M440.3 1504.8h6.2M446.7 1502.6l7.7 7.7m0 -7.7l-7.7 7.7M450.5 1505.4v2M447.4 1505.4h6.2M447.4 1507.4h6.2M453.7 1505.1l7.7 7.7m0 -7.7l-7.7 7.7M457.5 1507.9v2.1M454.4 1507.9h6.2M454.4 1510h6.2M460.5 1508.7l7.7 7.7m0 -7.7l-7.7 7.7M464.3 1511.5v2.1M461.2 1511.5h6.2M461.2 1513.6h6.2M467.2 1512.5l7.7 7.7m0 -7.7l-7.7 7.7M471 1515.3v2.2M467.9 1515.3h6.2M467.9 1517.5h6.2M473.7 1516.1l7.7 7.7m0 -7.7l-7.7 7.7M477.5 1518.8v2.2M474.4 1518.8h6.2M474.4 1521h6.2M480.1 1520.2l7.7 7.7m0 -7.7l-7.7 7.7M483.9 1523v2.3M480.8 1523h6.2M480.8 1525.2h6.2M486.3 1521.9l7.7 7.7m0 -7.7l-7.7 7.7M490.2 1524.6v2.3M487.1 1524.6h6.2M487.1 1526.9h6.2M492.5 1525.8l7.7 7.7m0 -7.7l-7.7 7.7M496.3 1528.4v2.4M493.2 1528.4h6.2M493.2 1530.8h6.2M498.5 1528.8l7.7 7.7m0 -7.7l-7.7 7.7M502.3 1531.4v2.4M499.2 1531.4h6.2M499.2 1533.9h6.2M504.4 1531.6l7.7 7.7m0 -7.7l-7.7 7.7M508.2 1534.2v2.5M505.1 1534.2h6.2M505.1 1536.7h6.2M510.1 1535.2l7.7 7.7m0 -7.7l-7.7 7.7M514 1537.8v2.5M510.9 1537.8h6.2M510.9 1540.3h6.2M515.8 1537.7l7.7 7.7m0 -7.7l-7.7 7.7M519.7 1540.2v2.6M516.6 1540.2h6.2M516.6 1542.8h6.2M521.4 1539.3l7.7 7.7m0 -7.7l-7.7 7.7M525.2 1541.9v2.6M522.1 1541.9h6.2M522.1 1544.5h6.2M526.8 1543.2l7.7 7.7m0 -7.7l-7.7 7.7M530.7 1545.7v2.7M527.6 1545.7h6.2M527.6 1548.4h6.2M532.2 1543.4l7.7 7.7m0 -7.7l-7.7 7.7M536.1 1545.9v2.7M533 1545.9h6.2M533 1548.7h6.2M537.5 1546.1l7.7 7.7m0 -7.7l-7.7 7.7M541.3 1548.5v2.8M538.2 1548.5h6.2M538.2 1551.3h6.2M542.7 1547.8l7.7 7.7m0 -7.7l-7.7 7.7M546.5 1550.2v2.9M543.4 1550.2h6.2M543.4 1553.1h6.2M547.8 1549.8l7.7 7.7m0 -7.7l-7.7 7.7M551.6 1552.2v2.9M548.5 1552.2h6.2M548.5 1555.1h6.2M552.8 1550.4l7.7 7.7m0 -7.7l-7.7 7.7M556.6 1552.7v3M553.5 1552.7h6.2M553.5 1555.7h6.2M557.7 1552.5l7.7 7.7m0 -7.7l-7.7 7.7M561.6 1554.8v3M558.5 1554.8h6.2M558.5 1557.8h6.2M562.6 1554.3l7.7 7.7m0 -7.7l-7.7 7.7M566.4 1556.6v3.1M563.3 1556.6h6.2M563.3 1559.6h6.2M567.4 1556.4l7.7 7.7m0 -7.7l-7.7 7.7M571.2 1558.7v3.1M568.1 1558.7h6.2M568.1 1561.8h6.2M572.1 1556.4l7.7 7.7m0 -7.7l-7.7 7.7M575.9 1558.7v3.2M572.8 1558.7h6.2M572.8 1561.8h6.2M576.7 1558.9l7.7 7.7m0 -7.7l-7.7 7.7M580.5 1561.1v3.2M577.4 1561.1h6.2M577.4 1564.4h6.2M581.2 1560.3l7.7 7.7m0 -7.7l-7.7 7.7M585.1 1562.5v3.3M582 1562.5h6.2M582 1565.8h6.2M585.7 1561.6l7.7 7.7m0 -7.7l-7.7 7.7M589.6 1563.8v3.3M586.5 1563.8h6.2M586.5 1567.1h6.2M590.2 1566.9l7.7 7.7m0 -7.7l-7.7 7.7M594 1569v3.4M590.9 1569h6.2M590.9 1572.4h6.2M594.5 1565.1l7.7 7.7m0 -7.7l-7.7 7.7M598.4 1567.2v3.4M595.3 1567.2h6.2M595.3 1570.7h6.2M598.8 1564.4l7.7 7.7m0 -7.7l-7.7 7.7M602.7 1566.5v3.5M599.6 1566.5h6.2M599.6 1569.9h6.2M603.1 1567.3l7.7 7.7m0 -7.7l-7.7 7.7M606.9 1569.4v3.5M603.8 1569.4h6.2M603.8 1573h6.2M607.3 1565.7l7.7 7.7m0 -7.7l-7.7 7.7M611.1 1567.7v3.6M608 1567.7h6.2M608 1571.3h6.2M611.4 1567.8l7.7 7.7m0 -7.7l-7.7 7.7M615.2 1569.8v3.6M612.1 1569.8h6.2M612.1 1573.4h6.2M615.5 1569.4l7.7 7.7m0 -7.7l-7.7 7.7M619.3 1571.4v3.7M616.2 1571.4h6.2M616.2 1575.1h6.2M619.5 1568.5l7.7 7.7m0 -7.7l-7.7 7.7M623.3 1570.5v3.7M620.2 1570.5h6.2M620.2 1574.2h6.2M623.5 1569.2l7.7 7.7m0 -7.7l-7.7 7.7M627.3 1571.1v3.8M624.2 1571.1h6.2M624.2 1574.9h6.2M627.4 1570.1l7.7 7.7m0 -7.7l-7.7 7.7M631.2 1572.1v3.8M628.1 1572.1h6.2M628.1 1575.9h6.2M631.2 1571.3l7.7 7.7m0 -7.7l-7.7 7.7M635.1 1573.2v3.9M632 1573.2h6.2M632 1577.1h6.2M635.1 1570.3l7.7 7.7m0 -7.7l-7.7 7.7M638.9 1572.2v3.9M635.8 1572.2h6.2M635.8 1576.2h6.2M638.8 1571.9l7.7 7.7m0 -7.7l-7.7 7.7M642.7 1573.7v4M639.6 1573.7h6.2M639.6 1577.7h6.2M642.5 1575l7.7 7.7m0 -7.7l-7.7 7.7M646.4 1576.8v4M643.3 1576.8h6.2M643.3 1580.9h6.2M646.2 1580.8l7.7 7.7m0 -7.7l-7.7 7.7M650.1 1582.6v4.1M647 1582.6h6.2M647 1586.7h6.2M649.9 1581.8l7.7 7.7m0 -7.7l-7.7 7.7M653.7 1583.6v4.1M650.6 1583.6h6.2M650.6 1587.8h6.2M653.4 1583.9l7.7 7.7m0 -7.7l-7.7 7.7M657.3 1585.6v4.2M654.2 1585.6h6.2M654.2 1589.8h6.2M657 1584.8l7.7 7.7m0 -7.7l-7.7 7.7M660.8 1586.6v4.2M657.7 1586.6h6.2M657.7 1590.8h6.2M660.5 1584.4l7.7 7.7m0 -7.7l-7.7 7.7M664.4 1586.1v4.3M661.3 1586.1h6.2M661.3 1590.4h6.2M664 1585.6l7.7 7.7m0 -7.7l-7.7 7.7M667.8 1587.3v4.3M664.7 1587.3h6.2M664.7 1591.6h6.2M667.4 1585.5l7.7 7.7m0 -7.7l-7.7 7.7M671.2 1587.1v4.4M668.1 1587.1h6.2M668.1 1591.5h6.2M670.8 1591.7l7.7 7.7m0 -7.7l-7.7 7.7M674.6 1593.4v4.4M671.5 1593.4h6.2M671.5 1597.8h6.2M674.1 1583.6l7.7 7.7m0 -7.7l-7.7 7.7M678 1585.2v4.5M674.9 1585.2h6.2M674.9 1589.7h6.2M677.5 1586.4l7.7 7.7m0 -7.7l-7.7 7.7M681.3 1587.9v4.5M678.2 1587.9h6.2M678.2 1592.5h6.2M680.7 1584.6l7.7 7.7m0 -7.7l-7.7 7.7M684.6 1586.2v4.6M681.5 1586.2h6.2M681.5 1590.8h6.2M684 1581.5l7.7 7.7m0 -7.7l-7.7 7.7M687.8 1583.1v4.6M684.7 1583.1h6.2M684.7 1587.7h6.2M687.2 1580.7l7.7 7.7m0 -7.7l-7.7 7.7M691 1582.2v4.7M687.9 1582.2h6.2M687.9 1586.9h6.2M690.4 1578.9l7.7 7.7m0 -7.7l-7.7 7.7M694.2 1580.4v4.7M691.1 1580.4h6.2M691.1 1585.1h6.2M693.5 1578.8l7.7 7.7m0 -7.7l-7.7 7.7M697.4 1580.3v4.8M694.3 1580.3h6.2M694.3 1585h6.2M696.6 1578.2l7.7 7.7m0 -7.7l-7.7 7.7M700.5 1579.7v4.8M697.4 1579.7h6.2M697.4 1584.5h6.2M699.7 1576.8l7.7 7.7m0 -7.7l-7.7 7.7M703.6 1578.2v4.9M700.5 1578.2h6.2M700.5 1583.1h6.2M702.8 1573.8l7.7 7.7m0 -7.7l-7.7 7.7M706.6 1575.2v4.9M703.5 1575.2h6.2M703.5 1580.1h6.2M705.8 1575.3l7.7 7.7m0 -7.7l-7.7 7.7M709.6 1576.6v5M706.5 1576.6h6.2M706.5 1581.6h6.2M708.8 1571.1l7.7 7.7m0 -7.7l-7.7 7.7M712.6 1572.5v5M709.5 1572.5h6.2M709.5 1577.5h6.2M711.7 1567.5l7.7 7.7m0 -7.7l-7.7 7.7M715.6 1568.8v5.1M712.5 1568.8h6.2M712.5 1573.8h6.2M714.7 1561.6l7.7 7.7m0 -7.7l-7.7 7.7M718.5 1562.9v5.1M715.4 1562.9h6.2M715.4 1568h6.2M717.6 1559.3l7.7 7.7m0 -7.7l-7.7 7.7M721.4 1560.6v5.1M718.3 1560.6h6.2M718.3 1565.8h6.2M720.4 1555.2l7.7 7.7m0 -7.7l-7.7 7.7M724.3 1556.4v5.2M721.2 1556.4h6.2M721.2 1561.6h6.2M723.3 1552.1l7.7 7.7m0 -7.7l-7.7 7.7M727.1 1553.3v5.2M724 1553.3h6.2M724 1558.6h6.2M726.1 1551.9l7.7 7.7m0 -7.7l-7.7 7.7M730 1553.1v5.3M726.9 1553.1h6.2M726.9 1558.3h6.2M728.9 1537.9l7.7 7.7m0 -7.7l-7.7 7.7M732.7 1539.1v5.3M729.6 1539.1h6.2M729.6 1544.5h6.2M731.7 1531l7.7 7.7m0 -7.7l-7.7 7.7M735.5 1532.1v5.4M732.4 1532.1h6.2M732.4 1537.5h6.2M734.4 1522.6l7.7 7.7m0 -7.7l-7.7 7.7M738.3 1523.7v5.4M735.2 1523.7h6.2M735.2 1529.1h6.2M737.1 1511.8l7.7 7.7m0 -7.7l-7.7 7.7M741 1512.9v5.5M737.9 1512.9h6.2M737.9 1518.4h6.2M739.8 1503.4l7.7 7.7m0 -7.7l-7.7 7.7M743.7 1504.5v5.5M740.6 1504.5h6.2M740.6 1510h6.2M742.5 1484.7l7.7 7.7m0 -7.7l-7.7 7.7M746.4 1485.8v5.6M743.3 1485.8h6.2M743.3 1491.4h6.2M745.2 1470.2l7.7 7.7m0 -7.7l-7.7 7.7M749 1471.2v5.6M745.9 1471.2h6.2M745.9 1476.8h6.2M747.8 1449.1l7.7 7.7m0 -7.7l-7.7 7.7M751.6 1450.1v5.6M748.5 1450.1h6.2M748.5 1455.8h6.2M750.4 1442.7l7.7 7.7m0 -7.7l-7.7 7.7M754.2 1443.7v5.7M751.1 1443.7h6.2M751.1 1449.4h6.2M753 1433.9l7.7 7.7m0 -7.7l-7.7 7.7M756.8 1434.9v5.7M753.7 1434.9h6.2M753.7 1440.6h6.2M755.5 1424.8l7.7 7.7m0 -7.7l-7.7 7.7M759.4 1425.8v5.8M756.3 1425.8h6.2M756.3 1431.6h6.2M758.1 1422.6l7.7 7.7m0 -7.7l-7.7 7.7M761.9 1423.6v5.8M758.8 1423.6h6.2M758.8 1429.4h6.2M760.6 1422.5l7.7 7.7m0 -7.7l-7.7 7.7M764.4 1423.4v5.9M761.3 1423.4h6.2M761.3 1429.3h6.2M763.1 1431.8l7.7 7.7m0 -7.7l-7.7 7.7M766.9 1432.7v5.9M763.8 1432.7h6.2M763.8 1438.6h6.2M765.6 1438.7l7.7 7.7m0 -7.7l-7.7 7.7M769.4 1439.6v6M766.3 1439.6h6.2M766.3 1445.6h6.2M768 1444l7.7 7.7m0 -7.7l-7.7 7.7M771.9 1444.8v6M768.8 1444.8h6.2M768.8 1450.8h6.2" fill="none" stroke="#009e73" stroke-width="0.85"/>
<path d="M118.9 1358.5l6.4 6.4m0 -6.4l-6.4 6.4M118.4 1361.7h7.4M122.1 1358.5v6.4M119 1360.8h6.2M119 1362.6h6.2M147.5 1366.1l6.4 6.4m0 -6.4l-6.4 6.4M147 1369.3h7.4M150.7 1366.1v6.4M147.6 1368.4h6.2M147.6 1370.2h6.2M162.9 1359.5l6.4 6.4m0 -6.4l-6.4 6.4M162.4 1362.7h7.4M166.1 1359.5v6.4M163 1361.8h6.2M163 1363.6h6.2M181.3 1371.9l6.4 6.4m0 -6.4l-6.4 6.4M180.8 1375.1h7.4M184.5 1371.9v6.4M181.4 1374.2h6.2M181.4 1376h6.2M197.1 1374.1l6.4 6.4m0 -6.4l-6.4 6.4M196.6 1377.3h7.4M200.3 1374.1v6.4M197.2 1376.4h6.2M197.2 1378.2h6.2M215.2 1377l6.4 6.4m0 -6.4l-6.4 6.4M214.7 1380.2h7.4M218.4 1377v6.4M215.3 1379.3h6.2M215.3 1381.1h6.2M229.9 1384.2l6.4 6.4m0 -6.4l-6.4 6.4M229.4 1387.4h7.4M233.1 1384.2v6.4M230 1386.5h6.2M230 1388.3h6.2M242.9 1392.8l6.4 6.4m0 -6.4l-6.4 6.4M242.4 1396h7.4M246.1 1392.8v6.4M243 1395.1h6.2M243 1396.9h6.2M255.7 1398l6.4 6.4m0 -6.4l-6.4 6.4M255.2 1401.2h7.4M258.9 1398v6.4M255.8 1400.3h6.2M255.8 1402.1h6.2M270.4 1403.5l6.4 6.4m0 -6.4l-6.4 6.4M269.9 1406.7h7.4M273.6 1403.5v6.4M270.5 1405.8h6.2M270.5 1407.6h6.2M282.8 1410.4l6.4 6.4m0 -6.4l-6.4 6.4M282.3 1413.6h7.4M286 1410.4v6.4M282.9 1412.7h6.2M282.9 1414.5h6.2M294.7 1417.1l6.4 6.4m0 -6.4l-6.4 6.4M294.2 1420.3h7.4M297.9 1417.1v6.4M294.8 1419.4h6.2M294.8 1421.2h6.2M306.2 1423.6l6.4 6.4m0 -6.4l-6.4 6.4M305.7 1426.8h7.4M309.4 1423.6v6.4M306.3 1425.9h6.2M306.3 1427.7h6.2M317.2 1430.5l6.4 6.4m0 -6.4l-6.4 6.4M316.7 1433.7h7.4M320.4 1430.5v6.4M317.3 1432.8h6.2M317.3 1434.6h6.2M327.8 1437.8l6.4 6.4m0 -6.4l-6.4 6.4M327.4 1441h7.4M331 1437.8v6.4M327.9 1440.1h6.2M327.9 1441.9h6.2M338.1 1442.9l6.4 6.4m0 -6.4l-6.4 6.4M337.6 1446.1h7.4M341.3 1442.9v6.4M338.2 1445.2h6.2M338.2 1447h6.2M348.1 1448.3l6.4 6.4m0 -6.4l-6.4 6.4M347.6 1451.5h7.4M351.3 1448.3v6.4M348.2 1450.6h6.2M348.2 1452.4h6.2M357.7 1453.2l6.4 6.4m0 -6.4l-6.4 6.4M357.2 1456.4h7.4M360.9 1453.2v6.4M357.8 1455.5h6.2M357.8 1457.3h6.2M367 1459.4l6.4 6.4m0 -6.4l-6.4 6.4M366.6 1462.6h7.4M370.2 1459.4v6.4M367.1 1461.7h6.2M367.1 1463.5h6.2M376.1 1464.6l6.4 6.4m0 -6.4l-6.4 6.4M375.6 1467.8h7.4M379.3 1464.6v6.4M376.2 1466.9h6.2M376.2 1468.7h6.2M384.9 1470.2l6.4 6.4m0 -6.4l-6.4 6.4M384.4 1473.4h7.4M388.1 1470.2v6.4M385 1472.5h6.2M385 1474.3h6.2M393.4 1476.3l6.4 6.4m0 -6.4l-6.4 6.4M393 1479.5h7.4M396.6 1476.3v6.4M393.5 1478.6h6.2M393.5 1480.4h6.2M401.7 1480l6.4 6.4m0 -6.4l-6.4 6.4M401.3 1483.2h7.4M404.9 1480v6.4M401.8 1482.3h6.2M401.8 1484.1h6.2M409.8 1483.8l6.4 6.4m0 -6.4l-6.4 6.4M409.4 1487h7.4M413 1483.8v6.4M409.9 1486.1h6.2M409.9 1487.9h6.2M417.7 1487.7l6.4 6.4m0 -6.4l-6.4 6.4M417.2 1490.9h7.4M420.9 1487.7v6.4M417.8 1490h6.2M417.8 1491.8h6.2M425.4 1491.6l6.4 6.4m0 -6.4l-6.4 6.4M424.9 1494.8h7.4M428.6 1491.6v6.4M425.5 1493.9h6.2M425.5 1495.7h6.2M432.9 1494.9l6.4 6.4m0 -6.4l-6.4 6.4M432.4 1498.1h7.4M436.1 1494.9v6.4M433 1497.2h6.2M433 1499h6.2M440.2 1499.7l6.4 6.4m0 -6.4l-6.4 6.4M439.7 1502.9h7.4M443.4 1499.7v6.4M440.3 1502h6.2M440.3 1503.8h6.2M447.3 1502.5l6.4 6.4m0 -6.4l-6.4 6.4M446.9 1505.7h7.4M450.5 1502.5v6.4M447.4 1504.8h6.2M447.4 1506.6h6.2M454.3 1505.1l6.4 6.4m0 -6.4l-6.4 6.4M453.8 1508.3h7.4M457.5 1505.1v6.4M454.4 1507.4h6.2M454.4 1509.3h6.2M461.1 1509.3l6.4 6.4m0 -6.4l-6.4 6.4M460.7 1512.5h7.4M464.3 1509.3v6.4M461.2 1511.6h6.2M461.2 1513.5h6.2M467.8 1510l6.4 6.4m0 -6.4l-6.4 6.4M467.3 1513.2h7.4M471 1510v6.4M467.9 1512.2h6.2M467.9 1514.2h6.2M474.3 1514.1l6.4 6.4m0 -6.4l-6.4 6.4M473.9 1517.3h7.4M477.5 1514.1v6.4M474.4 1516.3h6.2M474.4 1518.3h6.2M480.7 1517.6l6.4 6.4m0 -6.4l-6.4 6.4M480.2 1520.8h7.4M483.9 1517.6v6.4M480.8 1519.8h6.2M480.8 1521.8h6.2M487 1519.8l6.4 6.4m0 -6.4l-6.4 6.4M486.5 1523h7.4M490.2 1519.8v6.4M487.1 1521.9h6.2M487.1 1524h6.2M493.1 1523.2l6.4 6.4m0 -6.4l-6.4 6.4M492.6 1526.4h7.4M496.3 1523.2v6.4M493.2 1525.3h6.2M493.2 1527.4h6.2M499.1 1525.8l6.4 6.4m0 -6.4l-6.4 6.4M498.6 1529h7.4M502.3 1525.8v6.4M499.2 1527.9h6.2M499.2 1530h6.2M505 1528.6l6.4 6.4m0 -6.4l-6.4 6.4M504.5 1531.8h7.4M508.2 1528.6v6.4M505.1 1530.7h6.2M505.1 1532.9h6.2M510.8 1533.8l6.4 6.4m0 -6.4l-6.4 6.4M510.3 1537h7.4M514 1533.8v6.4M510.9 1535.9h6.2M510.9 1538.2h6.2M516.5 1535.1l6.4 6.4m0 -6.4l-6.4 6.4M516 1538.3h7.4M519.7 1535.1v6.4M516.6 1537.2h6.2M516.6 1539.5h6.2M522 1537l6.4 6.4m0 -6.4l-6.4 6.4M521.5 1540.2h7.4M525.2 1537v6.4M522.1 1539h6.2M522.1 1541.3h6.2M527.5 1540.1l6.4 6.4m0 -6.4l-6.4 6.4M527 1543.3h7.4M530.7 1540.1v6.4M527.6 1542.1h6.2M527.6 1544.4h6.2M532.9 1540.8l6.4 6.4m0 -6.4l-6.4 6.4M532.4 1544h7.4M536.1 1540.8v6.4M533 1542.8h6.2M533 1545.2h6.2M538.1 1543.4l6.4 6.4m0 -6.4l-6.4 6.4M537.7 1546.6h7.4M541.3 1543.4v6.4M538.2 1545.3h6.2M538.2 1547.8h6.2M543.3 1544.5l6.4 6.4m0 -6.4l-6.4 6.4M542.8 1547.7h7.4M546.5 1544.5v6.4M543.4 1546.4h6.2M543.4 1548.9h6.2M548.4 1547l6.4 6.4m0 -6.4l-6.4 6.4M547.9 1550.2h7.4M551.6 1547v6.4M548.5 1549h6.2M548.5 1551.5h6.2M553.4 1547l6.4 6.4m0 -6.4l-6.4 6.4M553 1550.2h7.4M556.6 1547v6.4M553.5 1548.9h6.2M553.5 1551.5h6.2M558.4 1550.1l6.4 6.4m0 -6.4l-6.4 6.4M557.9 1553.3h7.4M561.6 1550.1v6.4M558.5 1552h6.2M558.5 1554.6h6.2M563.2 1550.2l6.4 6.4m0 -6.4l-6.4 6.4M562.7 1553.4h7.4M566.4 1550.2v6.4M563.3 1552h6.2M563.3 1554.7h6.2M568 1550.3l6.4 6.4m0 -6.4l-6.4 6.4M567.5 1553.5h7.4M571.2 1550.3v6.4M568.1 1552.1h6.2M568.1 1554.8h6.2M572.7 1553.4l6.4 6.4m0 -6.4l-6.4 6.4M572.2 1556.6h7.4M575.9 1553.4v6.4M572.8 1555.2h6.2M572.8 1558h6.2M577.3 1552.9l6.4 6.4m0 -6.4l-6.4 6.4M576.9 1556.1h7.4M580.5 1552.9v6.4M577.4 1554.7h6.2M577.4 1557.4h6.2M581.9 1555.5l6.4 6.4m0 -6.4l-6.4 6.4M581.4 1558.7h7.4M585.1 1555.5v6.4M582 1557.3h6.2M582 1560.1h6.2M586.4 1555.1l6.4 6.4m0 -6.4l-6.4 6.4M585.9 1558.3h7.4M589.6 1555.1v6.4M586.5 1556.8h6.2M586.5 1559.7h6.2M590.8 1555.8l6.4 6.4m0 -6.4l-6.4 6.4M590.3 1559h7.4M594 1555.8v6.4M590.9 1557.5h6.2M590.9 1560.4h6.2M595.2 1555.9l6.4 6.4m0 -6.4l-6.4 6.4M594.7 1559.1h7.4M598.4 1555.9v6.4M595.3 1557.6h6.2M595.3 1560.6h6.2M599.5 1557l6.4 6.4m0 -6.4l-6.4 6.4M599 1560.2h7.4M602.7 1557v6.4M599.6 1558.7h6.2M599.6 1561.7h6.2M603.7 1554.8l6.4 6.4m0 -6.4l-6.4 6.4M603.3 1558h7.4M606.9 1554.8v6.4M603.8 1556.5h6.2M603.8 1559.5h6.2M607.9 1557.2l6.4 6.4m0 -6.4l-6.4 6.4M607.4 1560.4h7.4M611.1 1557.2v6.4M608 1558.9h6.2M608 1561.9h6.2M612 1557.6l6.4 6.4m0 -6.4l-6.4 6.4M611.6 1560.8h7.4M615.2 1557.6v6.4M612.1 1559.2h6.2M612.1 1562.3h6.2M616.1 1559.5l6.4 6.4m0 -6.4l-6.4 6.4M615.6 1562.7h7.4M619.3 1559.5v6.4M616.2 1561.1h6.2M616.2 1564.3h6.2M620.1 1559.7l6.4 6.4m0 -6.4l-6.4 6.4M619.7 1562.9h7.4M623.3 1559.7v6.4M620.2 1561.3h6.2M620.2 1564.5h6.2M624.1 1560.7l6.4 6.4m0 -6.4l-6.4 6.4M623.6 1563.9h7.4M627.3 1560.7v6.4M624.2 1562.3h6.2M624.2 1565.6h6.2M628 1559.9l6.4 6.4m0 -6.4l-6.4 6.4M627.5 1563.1h7.4M631.2 1559.9v6.4M628.1 1561.5h6.2M628.1 1564.7h6.2M631.9 1563.2l6.4 6.4m0 -6.4l-6.4 6.4M631.4 1566.4h7.4M635.1 1563.2v6.4M632 1564.7h6.2M632 1568h6.2M635.7 1564.7l6.4 6.4m0 -6.4l-6.4 6.4M635.2 1567.9h7.4M638.9 1564.7v6.4M635.8 1566.2h6.2M635.8 1569.6h6.2M639.5 1562.9l6.4 6.4m0 -6.4l-6.4 6.4M639 1566.1h7.4M642.7 1562.9v6.4M639.6 1564.4h6.2M639.6 1567.8h6.2M643.2 1563.4l6.4 6.4m0 -6.4l-6.4 6.4M642.7 1566.6h7.4M646.4 1563.4v6.4M643.3 1564.9h6.2M643.3 1568.4h6.2M646.9 1564.2l6.4 6.4m0 -6.4l-6.4 6.4M646.4 1567.4h7.4M650.1 1564.2v6.4M647 1565.6h6.2M647 1569.1h6.2M650.5 1565.6l6.4 6.4m0 -6.4l-6.4 6.4M650 1568.8h7.4M653.7 1565.6v6.4M650.6 1567h6.2M650.6 1570.6h6.2M654.1 1567l6.4 6.4m0 -6.4l-6.4 6.4M653.6 1570.2h7.4M657.3 1567v6.4M654.2 1568.4h6.2M654.2 1572h6.2M657.6 1565.2l6.4 6.4m0 -6.4l-6.4 6.4M657.2 1568.4h7.4M660.8 1565.2v6.4M657.7 1566.6h6.2M657.7 1570.2h6.2M661.2 1568.2l6.4 6.4m0 -6.4l-6.4 6.4M660.7 1571.4h7.4M664.4 1568.2v6.4M661.3 1569.5h6.2M661.3 1573.2h6.2M664.6 1569.4l6.4 6.4m0 -6.4l-6.4 6.4M664.1 1572.6h7.4M667.8 1569.4v6.4M664.7 1570.8h6.2M664.7 1574.5h6.2M668 1570.3l6.4 6.4m0 -6.4l-6.4 6.4M667.6 1573.5h7.4M671.2 1570.3v6.4M668.1 1571.6h6.2M668.1 1575.3h6.2M671.4 1570.4l6.4 6.4m0 -6.4l-6.4 6.4M671 1573.6h7.4M674.6 1570.4v6.4M671.5 1571.7h6.2M671.5 1575.5h6.2M674.8 1573l6.4 6.4m0 -6.4l-6.4 6.4M674.3 1576.2h7.4M678 1573v6.4M674.9 1574.3h6.2M674.9 1578.1h6.2M678.1 1564.6l6.4 6.4m0 -6.4l-6.4 6.4M677.6 1567.8h7.4M681.3 1564.6v6.4M678.2 1565.9h6.2M678.2 1569.7h6.2M681.4 1569.9l6.4 6.4m0 -6.4l-6.4 6.4M680.9 1573.1h7.4M684.6 1569.9v6.4M681.5 1571.2h6.2M681.5 1575.1h6.2M684.6 1568.7l6.4 6.4m0 -6.4l-6.4 6.4M684.2 1571.9h7.4M687.8 1568.7v6.4M684.7 1569.9h6.2M684.7 1573.8h6.2M687.8 1565.6l6.4 6.4m0 -6.4l-6.4 6.4M687.4 1568.8h7.4M691 1565.6v6.4M687.9 1566.8h6.2M687.9 1570.8h6.2M691 1565l6.4 6.4m0 -6.4l-6.4 6.4M690.5 1568.2h7.4M694.2 1565v6.4M691.1 1566.2h6.2M691.1 1570.2h6.2M694.2 1564.5l6.4 6.4m0 -6.4l-6.4 6.4M693.7 1567.7h7.4M697.4 1564.5v6.4M694.3 1565.7h6.2M694.3 1569.7h6.2M697.3 1567.4l6.4 6.4m0 -6.4l-6.4 6.4M696.8 1570.6h7.4M700.5 1567.4v6.4M697.4 1568.5h6.2M697.4 1572.6h6.2M700.4 1566.7l6.4 6.4m0 -6.4l-6.4 6.4M699.9 1569.9h7.4M703.6 1566.7v6.4M700.5 1567.8h6.2M700.5 1571.9h6.2M703.4 1565.4l6.4 6.4m0 -6.4l-6.4 6.4M702.9 1568.6h7.4M706.6 1565.4v6.4M703.5 1566.5h6.2M703.5 1570.6h6.2M706.4 1562.5l6.4 6.4m0 -6.4l-6.4 6.4M705.9 1565.7h7.4M709.6 1562.5v6.4M706.5 1563.6h6.2M706.5 1567.7h6.2M709.4 1557.1l6.4 6.4m0 -6.4l-6.4 6.4M708.9 1560.3h7.4M712.6 1557.1v6.4M709.5 1558.2h6.2M709.5 1562.4h6.2M712.4 1551.9l6.4 6.4m0 -6.4l-6.4 6.4M711.9 1555.1h7.4M715.6 1551.9v6.4M712.5 1553h6.2M712.5 1557.3h6.2M715.3 1549.8l6.4 6.4m0 -6.4l-6.4 6.4M714.8 1553h7.4M718.5 1549.8v6.4M715.4 1550.8h6.2M715.4 1555.1h6.2M718.2 1543.5l6.4 6.4m0 -6.4l-6.4 6.4M717.7 1546.7h7.4M721.4 1543.5v6.4M718.3 1544.5h6.2M718.3 1548.9h6.2M721.1 1533.6l6.4 6.4m0 -6.4l-6.4 6.4M720.6 1536.8h7.4M724.3 1533.6v6.4M721.2 1534.7h6.2M721.2 1539h6.2M723.9 1525.2l6.4 6.4m0 -6.4l-6.4 6.4M723.5 1528.4h7.4M727.1 1525.2v6.4M724 1526.2h6.2M724 1530.6h6.2M726.8 1513.9l6.4 6.4m0 -6.4l-6.4 6.4M726.3 1517.1h7.4M730 1513.9v6.4M726.9 1514.9h6.2M726.9 1519.3h6.2M729.5 1504.7l6.4 6.4m0 -6.4l-6.4 6.4M729.1 1507.9h7.4M732.7 1504.7v6.4M729.6 1505.7h6.2M729.6 1510.2h6.2M732.3 1496.7l6.4 6.4m0 -6.4l-6.4 6.4M731.8 1499.9h7.4M735.5 1496.7v6.4M732.4 1497.6h6.2M732.4 1502.1h6.2M735.1 1488.9l6.4 6.4m0 -6.4l-6.4 6.4M734.6 1492.1h7.4M738.3 1488.9v6.4M735.2 1489.8h6.2M735.2 1494.4h6.2M737.8 1481.3l6.4 6.4m0 -6.4l-6.4 6.4M737.3 1484.5h7.4M741 1481.3v6.4M737.9 1482.2h6.2M737.9 1486.8h6.2M740.5 1469.4l6.4 6.4m0 -6.4l-6.4 6.4M740 1472.6h7.4M743.7 1469.4v6.4M740.6 1470.3h6.2M740.6 1474.9h6.2M743.2 1462.2l6.4 6.4m0 -6.4l-6.4 6.4M742.7 1465.4h7.4M746.4 1462.2v6.4M743.3 1463h6.2M743.3 1467.7h6.2M745.8 1463.7l6.4 6.4m0 -6.4l-6.4 6.4M745.3 1466.9h7.4M749 1463.7v6.4M745.9 1464.6h6.2M745.9 1469.3h6.2M748.4 1460.1l6.4 6.4m0 -6.4l-6.4 6.4M748 1463.3h7.4M751.6 1460.1v6.4M748.5 1460.9h6.2M748.5 1465.6h6.2M751 1458.3l6.4 6.4m0 -6.4l-6.4 6.4M750.6 1461.5h7.4M754.2 1458.3v6.4M751.1 1459.1h6.2M751.1 1463.9h6.2M753.6 1455.3l6.4 6.4m0 -6.4l-6.4 6.4M753.1 1458.5h7.4M756.8 1455.3v6.4M753.7 1456.1h6.2M753.7 1460.9h6.2M756.2 1450.6l6.4 6.4m0 -6.4l-6.4 6.4M755.7 1453.8h7.4M759.4 1450.6v6.4M756.3 1451.3h6.2M756.3 1456.2h6.2M758.7 1448.4l6.4 6.4m0 -6.4l-6.4 6.4M758.2 1451.6h7.4M761.9 1448.4v6.4M758.8 1449.1h6.2M758.8 1454h6.2M761.2 1452.4l6.4 6.4m0 -6.4l-6.4 6.4M760.8 1455.6h7.4M764.4 1452.4v6.4M761.3 1453.1h6.2M761.3 1458h6.2M763.7 1457.6l6.4 6.4m0 -6.4l-6.4 6.4M763.3 1460.8h7.4M766.9 1457.6v6.4M763.8 1458.3h6.2M763.8 1463.3h6.2M766.2 1462.2l6.4 6.4m0 -6.4l-6.4 6.4M765.7 1465.4h7.4M769.4 1462.2v6.4M766.3 1463h6.2M766.3 1467.9h6.2M768.7 1468.3l6.4 6.4m0 -6.4l-6.4 6.4M768.2 1471.5h7.4M771.9 1468.3v6.4M768.8 1469h6.2M768.8 1474h6.2" fill="none" stroke="#56b4e9" stroke-width="0.77"/>
<path d="M118 1358.5h8.3v8.3h-8.3zM118.6 1362h7M118.6 1363.4h7M122.1 1362v1.4M146.6 1363.2h8.3v8.3h-8.3zM147.2 1366.6h7M147.2 1368h7M150.7 1366.6v1.4M162 1357.5h8.3v8.3h-8.3zM162.6 1361h7M162.6 1362.4h7M166.1 1361v1.4M180.4 1368.6h8.3v8.3h-8.3zM181 1372h7M181 1373.4h7M184.5 1372v1.4M196.2 1370.8h8.3v8.3h-8.3zM196.8 1374.3h7M196.8 1375.7h7M200.3 1374.3v1.4M214.3 1375h8.3v8.3h-8.3zM214.9 1378.4h7M214.9 1379.8h7M218.4 1378.4v1.4M229 1381h8.3v8.3h-8.3zM229.6 1384.4h7M229.6 1385.8h7M233.1 1384.4v1.4M242 1386.8h8.3v8.3h-8.3zM242.6 1390.3h7M242.6 1391.7h7M246.1 1390.3v1.4M254.8 1392.6h8.3v8.3h-8.3zM255.4 1396h7M255.4 1397.4h7M258.9 1396v1.4M269.5 1399.2h8.3v8.3h-8.3zM270.1 1402.6h7M270.1 1404h7M273.6 1402.6v1.4M281.9 1406h8.3v8.3h-8.3zM282.5 1409.5h7M282.5 1410.9h7M286 1409.5v1.4M293.8 1412.1h8.3v8.3h-8.3zM294.4 1415.5h7M294.4 1416.9h7M297.9 1415.5v1.4M305.2 1418.8h8.3v8.3h-8.3zM305.9 1422.3h7M305.9 1423.7h7M309.4 1422.3v1.4M316.2 1424.8h8.3v8.3h-8.3zM316.9 1428.3h7M316.9 1429.7h7M320.4 1428.3v1.4M326.9 1430.5h8.3v8.3h-8.3zM327.6 1434h7M327.6 1435.4h7M331 1434v1.4M337.2 1435.4h8.3v8.3h-8.3zM337.8 1438.8h7M337.8 1440.2h7M341.3 1438.8v1.4M347.1 1441.9h8.3v8.3h-8.3zM347.8 1445.4h7M347.8 1446.8h7M351.3 1445.4v1.4M356.8 1446.5h8.3v8.3h-8.3zM357.4 1449.9h7M357.4 1451.3h7M360.9 1449.9v1.4M366.1 1452.4h8.3v8.3h-8.3zM366.8 1455.9h7M366.8 1457.3h7M370.2 1455.9v1.4M375.2 1456.8h8.3v8.3h-8.3zM375.8 1460.3h7M375.8 1461.7h7M379.3 1460.3v1.4M383.9 1461h8.3v8.3h-8.3zM384.6 1464.5h7M384.6 1465.9h7M388.1 1464.5v1.4M392.5 1466h8.3v8.3h-8.3zM393.2 1469.4h7M393.2 1470.8h7M396.6 1469.4v1.4M400.8 1470.1h8.3v8.3h-8.3zM401.5 1473.6h7M401.5 1475h7M404.9 1473.6v1.4M408.9 1474.6h8.3v8.3h-8.3zM409.6 1478h7M409.6 1479.5h7M413 1478v1.5M416.8 1478.4h8.3v8.3h-8.3zM417.4 1481.8h7M417.4 1483.3h7M420.9 1481.8v1.5M424.5 1482.4h8.3v8.3h-8.3zM425.1 1485.8h7M425.1 1487.3h7M428.6 1485.8v1.5M432 1485h8.3v8.3h-8.3zM432.6 1488.4h7M432.6 1489.9h7M436.1 1488.4v1.5M439.3 1488.7h8.3v8.3h-8.3zM439.9 1492h7M439.9 1493.6h7M443.4 1492v1.6M446.4 1492h8.3v8.3h-8.3zM447.1 1495.4h7M447.1 1497h7M450.5 1495.4v1.6M453.4 1495.3h8.3v8.3h-8.3zM454 1498.6h7M454 1500.2h7M457.5 1498.6v1.6M460.2 1497.8h8.3v8.3h-8.3zM460.9 1501.1h7M460.9 1502.8h7M464.3 1501.1v1.7M466.9 1501.3h8.3v8.3h-8.3zM467.5 1504.6h7M467.5 1506.3h7M471 1504.6v1.7M473.4 1503.6h8.3v8.3h-8.3zM474.1 1506.8h7M474.1 1508.6h7M477.5 1506.8v1.7M479.8 1507.4h8.3v8.3h-8.3zM480.4 1510.6h7M480.4 1512.4h7M483.9 1510.6v1.8M486 1510.2h8.3v8.3h-8.3zM486.7 1513.4h7M486.7 1515.2h7M490.2 1513.4v1.8M492.2 1512.2h8.3v8.3h-8.3zM492.8 1515.5h7M492.8 1517.3h7M496.3 1515.5v1.8M498.2 1515.5h8.3v8.3h-8.3zM498.8 1518.7h7M498.8 1520.5h7M502.3 1518.7v1.9M504.1 1517.6h8.3v8.3h-8.3zM504.7 1520.8h7M504.7 1522.6h7M508.2 1520.8v1.9M509.8 1520.8h8.3v8.3h-8.3zM510.5 1523.9h7M510.5 1525.9h7M514 1523.9v1.9M515.5 1521.4h8.3v8.3h-8.3zM516.2 1524.6h7M516.2 1526.5h7M519.7 1524.6v2M521.1 1523.5h8.3v8.3h-8.3zM521.7 1526.7h7M521.7 1528.7h7M525.2 1526.7v2M526.5 1524h8.3v8.3h-8.3zM527.2 1527.1h7M527.2 1529.1h7M530.7 1527.1v2M531.9 1526.2h8.3v8.3h-8.3zM532.6 1529.3h7M532.6 1531.4h7M536.1 1529.3v2M537.2 1525.6h8.3v8.3h-8.3zM537.9 1528.7h7M537.9 1530.8h7M541.3 1528.7v2.1M542.4 1527.3h8.3v8.3h-8.3zM543 1530.4h7M543 1532.5h7M546.5 1530.4v2.1M547.5 1527.2h8.3v8.3h-8.3zM548.1 1530.3h7M548.1 1532.4h7M551.6 1530.3v2.1M552.5 1528.6h8.3v8.3h-8.3zM553.2 1531.6h7M553.2 1533.8h7M556.6 1531.6v2.2M557.4 1530.3h8.3v8.3h-8.3zM558.1 1533.4h7M558.1 1535.6h7M561.6 1533.4v2.2M562.3 1530h8.3v8.3h-8.3zM562.9 1533.1h7M562.9 1535.3h7M566.4 1533.1v2.2M567.1 1531.1h8.3v8.3h-8.3zM567.7 1534.1h7M567.7 1536.3h7M571.2 1534.1v2.3M571.8 1531.1h8.3v8.3h-8.3zM572.4 1534.1h7M572.4 1536.4h7M575.9 1534.1v2.3M576.4 1531h8.3v8.3h-8.3zM577.1 1533.9h7M577.1 1536.3h7M580.5 1533.9v2.3M581 1528.8h8.3v8.3h-8.3zM581.6 1531.8h7M581.6 1534.1h7M585.1 1531.8v2.4M585.5 1530.6h8.3v8.3h-8.3zM586.1 1533.5h7M586.1 1535.9h7M589.6 1533.5v2.4M589.9 1530.2h8.3v8.3h-8.3zM590.5 1533.2h7M590.5 1535.6h7M594 1533.2v2.4M594.2 1529.9h8.3v8.3h-8.3zM594.9 1532.8h7M594.9 1535.3h7M598.4 1532.8v2.5M598.6 1529.7h8.3v8.3h-8.3zM599.2 1532.6h7M599.2 1535.1h7M602.7 1532.6v2.5M602.8 1529.4h8.3v8.3h-8.3zM603.5 1532.3h7M603.5 1534.8h7M606.9 1532.3v2.5M607 1530.4h8.3v8.3h-8.3zM607.6 1533.3h7M607.6 1535.9h7M611.1 1533.3v2.6M611.1 1530.6h8.3v8.3h-8.3zM611.8 1533.5h7M611.8 1536.1h7M615.2 1533.5v2.6M615.2 1528.8h8.3v8.3h-8.3zM615.8 1531.7h7M615.8 1534.3h7M619.3 1531.7v2.6M619.2 1528.8h8.3v8.3h-8.3zM619.9 1531.6h7M619.9 1534.2h7M623.3 1531.6v2.6M623.2 1527.2h8.3v8.3h-8.3zM623.8 1530h7M623.8 1532.6h7M627.3 1530v2.7M627.1 1529.7h8.3v8.3h-8.3zM627.7 1532.5h7M627.7 1535.2h7M631.2 1532.5v2.7M630.9 1531.2h8.3v8.3h-8.3zM631.6 1534h7M631.6 1536.7h7M635.1 1534v2.7M634.8 1533.3h8.3v8.3h-8.3zM635.4 1536.1h7M635.4 1538.8h7M638.9 1536.1v2.8M638.5 1535h8.3v8.3h-8.3zM639.2 1537.7h7M639.2 1540.5h7M642.7 1537.7v2.8M642.3 1534.6h8.3v8.3h-8.3zM642.9 1537.4h7M642.9 1540.2h7M646.4 1537.4v2.8M645.9 1535.1h8.3v8.3h-8.3zM646.6 1537.8h7M646.6 1540.7h7M650.1 1537.8v2.9M649.6 1534.8h8.3v8.3h-8.3zM650.2 1537.5h7M650.2 1540.4h7M653.7 1537.5v2.9M653.2 1535.4h8.3v8.3h-8.3zM653.8 1538.1h7M653.8 1541h7M657.3 1538.1v2.9M656.7 1535.5h8.3v8.3h-8.3zM657.4 1538.2h7M657.4 1541.1h7M660.8 1538.2v2.9M660.2 1534.2h8.3v8.3h-8.3zM660.9 1536.9h7M660.9 1539.9h7M664.4 1536.9v3M663.7 1531.8h8.3v8.3h-8.3zM664.3 1534.5h7M664.3 1537.5h7M667.8 1534.5v3M667.1 1532.8h8.3v8.3h-8.3zM667.8 1535.4h7M667.8 1538.4h7M671.2 1535.4v3M670.5 1533.2h8.3v8.3h-8.3zM671.2 1535.9h7M671.2 1538.9h7M674.6 1535.9v3.1M673.8 1534.1h8.3v8.3h-8.3zM674.5 1536.7h7M674.5 1539.8h7M678 1536.7v3.1M677.2 1532.7h8.3v8.3h-8.3zM677.8 1535.3h7M677.8 1538.4h7M681.3 1535.3v3.1M680.4 1531.3h8.3v8.3h-8.3zM681.1 1533.9h7M681.1 1537h7M684.6 1533.9v3.2M683.7 1530.2h8.3v8.3h-8.3zM684.4 1532.8h7M684.4 1536h7M687.8 1532.8v3.2M686.9 1529.2h8.3v8.3h-8.3zM687.6 1531.8h7M687.6 1535h7M691 1531.8v3.2M690.1 1525.9h8.3v8.3h-8.3zM690.7 1528.4h7M690.7 1531.7h7M694.2 1528.4v3.2M693.2 1522.6h8.3v8.3h-8.3zM693.9 1525.1h7M693.9 1528.4h7M697.4 1525.1v3.3M696.3 1517.4h8.3v8.3h-8.3zM697 1519.9h7M697 1523.2h7M700.5 1519.9v3.3M699.4 1511.9h8.3v8.3h-8.3zM700.1 1514.4h7M700.1 1517.7h7M703.6 1514.4v3.3M702.5 1507.6h8.3v8.3h-8.3zM703.1 1510.1h7M703.1 1513.4h7M706.6 1510.1v3.3M705.5 1500.3h8.3v8.3h-8.3zM706.1 1502.8h7M706.1 1506.1h7M709.6 1502.8v3.4M708.5 1496.6h8.3v8.3h-8.3zM709.1 1499h7M709.1 1502.4h7M712.6 1499v3.4M711.4 1494h8.3v8.3h-8.3zM712.1 1496.5h7M712.1 1499.9h7M715.6 1496.5v3.4M714.4 1493.6h8.3v8.3h-8.3zM715 1496h7M715 1499.5h7M718.5 1496v3.5M717.3 1493.8h8.3v8.3h-8.3zM717.9 1496.2h7M717.9 1499.7h7M721.4 1496.2v3.5M720.1 1491.8h8.3v8.3h-8.3zM720.8 1494.2h7M720.8 1497.7h7M724.3 1494.2v3.5M723 1488.6h8.3v8.3h-8.3zM723.7 1490.9h7M723.7 1494.5h7M727.1 1490.9v3.5M725.8 1488.4h8.3v8.3h-8.3zM726.5 1490.7h7M726.5 1494.3h7M730 1490.7v3.6M728.6 1485.6h8.3v8.3h-8.3zM729.3 1487.9h7M729.3 1491.5h7M732.7 1487.9v3.6M731.4 1483h8.3v8.3h-8.3zM732 1485.3h7M732 1488.9h7M735.5 1485.3v3.6M734.1 1483.2h8.3v8.3h-8.3zM734.8 1485.5h7M734.8 1489.1h7M738.3 1485.5v3.7M736.8 1484.4h8.3v8.3h-8.3zM737.5 1486.7h7M737.5 1490.4h7M741 1486.7v3.7M739.5 1484.6h8.3v8.3h-8.3zM740.2 1486.9h7M740.2 1490.6h7M743.7 1486.9v3.7M742.2 1482.1h8.3v8.3h-8.3zM742.9 1484.4h7M742.9 1488.1h7M746.4 1484.4v3.7M744.9 1490.6h8.3v8.3h-8.3zM745.5 1492.8h7M745.5 1496.6h7M749 1492.8v3.8M747.5 1494.4h8.3v8.3h-8.3zM748.2 1496.6h7M748.2 1500.4h7M751.6 1496.6v3.8M750.1 1502.4h8.3v8.3h-8.3zM750.8 1504.6h7M750.8 1508.5h7M754.2 1504.6v3.8M752.7 1515.6h8.3v8.3h-8.3zM753.3 1517.9h7M753.3 1521.7h7M756.8 1517.9v3.8M755.2 1524h8.3v8.3h-8.3zM755.9 1526.2h7M755.9 1530.1h7M759.4 1526.2v3.9M757.8 1531.6h8.3v8.3h-8.3zM758.4 1533.8h7M758.4 1537.7h7M761.9 1533.8v3.9M760.3 1540.1h8.3v8.3h-8.3zM761 1542.2h7M761 1546.2h7M764.4 1542.2v3.9M762.8 1552.5h8.3v8.3h-8.3zM763.5 1554.7h7M763.5 1558.6h7M766.9 1554.7v3.9M765.3 1561.8h8.3v8.3h-8.3zM765.9 1563.9h7M765.9 1567.9h7M769.4 1563.9v4M767.7 1570.8h8.3v8.3h-8.3zM768.4 1572.9h7M768.4 1576.9h7M771.9 1572.9v4" fill="none" stroke="#e69f00" stroke-width="0.85"/>
<path d="M118 1350.9h8.3v8.3h-8.3zM146.6 1353.5h8.3v8.3h-8.3zM162 1353.5h8.3v8.3h-8.3zM180.4 1358.2h8.3v8.3h-8.3zM196.2 1359.9h8.3v8.3h-8.3zM214.3 1365.2h8.3v8.3h-8.3zM229 1369.7h8.3v8.3h-8.3zM242 1374.2h8.3v8.3h-8.3zM254.8 1380.2h8.3v8.3h-8.3zM269.5 1387.7h8.3v8.3h-8.3zM281.9 1393.5h8.3v8.3h-8.3zM293.8 1399.3h8.3v8.3h-8.3zM305.2 1405.7h8.3v8.3h-8.3zM316.2 1412.1h8.3v8.3h-8.3zM326.9 1417.9h8.3v8.3h-8.3zM337.2 1423.2h8.3v8.3h-8.3zM347.1 1427.7h8.3v8.3h-8.3zM356.8 1431.8h8.3v8.3h-8.3zM366.1 1435.9h8.3v8.3h-8.3zM375.2 1439.9h8.3v8.3h-8.3zM383.9 1443.8h8.3v8.3h-8.3zM392.5 1447.5h8.3v8.3h-8.3zM400.8 1450.6h8.3v8.3h-8.3zM408.9 1453.5h8.3v8.3h-8.3zM416.8 1456.4h8.3v8.3h-8.3zM424.5 1459.1h8.3v8.3h-8.3zM432 1461.7h8.3v8.3h-8.3zM439.3 1464.2h8.3v8.3h-8.3zM446.4 1466.7h8.3v8.3h-8.3zM453.4 1469.1h8.3v8.3h-8.3zM460.2 1471.3h8.3v8.3h-8.3zM466.9 1473.3h8.3v8.3h-8.3zM473.4 1475h8.3v8.3h-8.3zM479.8 1476.5h8.3v8.3h-8.3zM486 1477.8h8.3v8.3h-8.3zM492.2 1479.1h8.3v8.3h-8.3zM498.2 1480.5h8.3v8.3h-8.3zM504.1 1481.7h8.3v8.3h-8.3zM509.8 1482.6h8.3v8.3h-8.3zM515.5 1483.2h8.3v8.3h-8.3zM521.1 1483.2h8.3v8.3h-8.3zM526.5 1483.2h8.3v8.3h-8.3zM531.9 1483h8.3v8.3h-8.3zM537.2 1482.6h8.3v8.3h-8.3zM542.4 1481.1h8.3v8.3h-8.3zM547.5 1479.9h8.3v8.3h-8.3zM552.5 1480.5h8.3v8.3h-8.3zM557.4 1480.5h8.3v8.3h-8.3zM562.3 1477.7h8.3v8.3h-8.3zM567.1 1475.8h8.3v8.3h-8.3zM571.8 1474.4h8.3v8.3h-8.3zM576.4 1473.2h8.3v8.3h-8.3zM581 1471.6h8.3v8.3h-8.3zM585.5 1470.6h8.3v8.3h-8.3zM589.9 1469.9h8.3v8.3h-8.3zM594.2 1469.3h8.3v8.3h-8.3zM598.6 1469h8.3v8.3h-8.3zM602.8 1468.9h8.3v8.3h-8.3zM607 1468.9h8.3v8.3h-8.3zM611.1 1469.1h8.3v8.3h-8.3zM615.2 1470h8.3v8.3h-8.3zM619.2 1471h8.3v8.3h-8.3zM623.2 1471.8h8.3v8.3h-8.3zM627.1 1472.4h8.3v8.3h-8.3zM630.9 1472.7h8.3v8.3h-8.3zM634.8 1472.8h8.3v8.3h-8.3zM638.5 1473.3h8.3v8.3h-8.3zM642.3 1474.1h8.3v8.3h-8.3zM645.9 1475.1h8.3v8.3h-8.3zM649.6 1475.9h8.3v8.3h-8.3zM653.2 1476.4h8.3v8.3h-8.3zM656.7 1476.8h8.3v8.3h-8.3zM660.2 1477.2h8.3v8.3h-8.3zM663.7 1477.8h8.3v8.3h-8.3zM667.1 1478.5h8.3v8.3h-8.3zM670.5 1479h8.3v8.3h-8.3zM673.8 1479.3h8.3v8.3h-8.3zM677.2 1479.8h8.3v8.3h-8.3zM680.4 1481.1h8.3v8.3h-8.3zM683.7 1483.8h8.3v8.3h-8.3zM686.9 1486.1h8.3v8.3h-8.3zM690.1 1489.5h8.3v8.3h-8.3zM693.2 1493.3h8.3v8.3h-8.3zM696.3 1498.6h8.3v8.3h-8.3zM699.4 1503.7h8.3v8.3h-8.3zM702.5 1510h8.3v8.3h-8.3zM705.5 1517.3h8.3v8.3h-8.3zM708.5 1526.3h8.3v8.3h-8.3zM711.4 1537.3h8.3v8.3h-8.3zM714.4 1546.7h8.3v8.3h-8.3zM717.3 1560.3h8.3v8.3h-8.3zM720.1 1571h8.3v8.3h-8.3zM723 1583.3h8.3v8.3h-8.3zM725.8 1597.1h8.3v8.3h-8.3zM728.6 1611.5h8.3v8.3h-8.3zM731.4 1625.7h8.3v8.3h-8.3zM734.1 1639.3h8.3v8.3h-8.3zM736.8 1654.8h8.3v8.3h-8.3zM739.5 1669.2h8.3v8.3h-8.3zM742.2 1683.1h8.3v8.3h-8.3zM744.9 1696.2h8.3v8.3h-8.3zM747.5 1708.5h8.3v8.3h-8.3zM750.1 1719.8h8.3v8.3h-8.3z" fill="#f0e442"/>
<path d="M118.3 1349.3a3.8 3.8 0 1 0 7.6 0a3.8 3.8 0 1 0 -7.6 0zM118.9 1349.3h6.4M146.9 1352.3a3.8 3.8 0 1 0 7.6 0a3.8 3.8 0 1 0 -7.6 0zM147.5 1352.3h6.4M162.3 1352a3.8 3.8 0 1 0 7.6 0a3.8 3.8 0 1 0 -7.6 0zM162.9 1352h6.4M180.7 1356a3.8 3.8 0 1 0 7.6 0a3.8 3.8 0 1 0 -7.6 0zM181.3 1356h6.4M196.5 1357.7a3.8 3.8 0 1 0 7.6 0a3.8 3.8 0 1 0 -7.6 0zM197.1 1357.7h6.4M214.6 1361.7a3.8 3.8 0 1 0 7.6 0a3.8 3.8 0 1 0 -7.6 0zM215.2 1361.7h6.4M229.3 1366.2a3.8 3.8 0 1 0 7.6 0a3.8 3.8 0 1 0 -7.6 0zM229.9 1366.2h6.4M242.3 1370.7a3.8 3.8 0 1 0 7.6 0a3.8 3.8 0 1 0 -7.6 0zM242.9 1370.7h6.4M255.1 1375.4a3.8 3.8 0 1 0 7.6 0a3.8 3.8 0 1 0 -7.6 0zM255.7 1375.4h6.4M269.8 1381.1a3.8 3.8 0 1 0 7.6 0a3.8 3.8 0 1 0 -7.6 0zM270.4 1381.1h6.4M282.2 1386.3a3.8 3.8 0 1 0 7.6 0a3.8 3.8 0 1 0 -7.6 0zM282.8 1386.3h6.4M294.1 1391.8a3.8 3.8 0 1 0 7.6 0a3.8 3.8 0 1 0 -7.6 0zM294.7 1391.8h6.4M305.6 1397.8a3.8 3.8 0 1 0 7.6 0a3.8 3.8 0 1 0 -7.6 0zM306.1 1397.8h6.4M316.6 1403.5a3.8 3.8 0 1 0 7.6 0a3.8 3.8 0 1 0 -7.6 0zM317.2 1403.5h6.4M327.3 1408.2a3.8 3.8 0 1 0 7.6 0a3.8 3.8 0 1 0 -7.6 0zM327.8 1408.2h6.4M337.5 1412.7a3.8 3.8 0 1 0 7.6 0a3.8 3.8 0 1 0 -7.6 0zM338.1 1412.7h6.4M347.5 1417.6a3.8 3.8 0 1 0 7.6 0a3.8 3.8 0 1 0 -7.6 0zM348.1 1417.6h6.4M357.1 1422.3a3.8 3.8 0 1 0 7.6 0a3.8 3.8 0 1 0 -7.6 0zM357.7 1422.3h6.4M366.5 1426.3a3.8 3.8 0 1 0 7.6 0a3.8 3.8 0 1 0 -7.6 0zM367 1426.3h6.4M375.5 1430a3.8 3.8 0 1 0 7.6 0a3.8 3.8 0 1 0 -7.6 0zM376.1 1430h6.4M384.3 1433.7a3.8 3.8 0 1 0 7.6 0a3.8 3.8 0 1 0 -7.6 0zM384.9 1433.7h6.4M392.9 1437.3a3.8 3.8 0 1 0 7.6 0a3.8 3.8 0 1 0 -7.6 0zM393.4 1437.3h6.4M401.2 1441a3.8 3.8 0 1 0 7.6 0a3.8 3.8 0 1 0 -7.6 0zM401.7 1441h6.4M409.3 1444.3a3.8 3.8 0 1 0 7.6 0a3.8 3.8 0 1 0 -7.6 0zM409.8 1444.3h6.4M417.1 1446.9a3.8 3.8 0 1 0 7.6 0a3.8 3.8 0 1 0 -7.6 0zM417.7 1446.9h6.4M424.8 1449.2a3.8 3.8 0 1 0 7.6 0a3.8 3.8 0 1 0 -7.6 0zM425.4 1449.2h6.4M432.3 1451.8a3.8 3.8 0 1 0 7.6 0a3.8 3.8 0 1 0 -7.6 0zM432.9 1451.8h6.4M439.6 1454a3.8 3.8 0 1 0 7.6 0a3.8 3.8 0 1 0 -7.6 0zM440.2 1454h6.4M446.8 1455.4a3.8 3.8 0 1 0 7.6 0a3.8 3.8 0 1 0 -7.6 0zM447.3 1455.4h6.4M453.7 1456.6a3.8 3.8 0 1 0 7.6 0a3.8 3.8 0 1 0 -7.6 0zM454.3 1456.6h6.4M460.6 1458a3.8 3.8 0 1 0 7.6 0a3.8 3.8 0 1 0 -7.6 0zM461.1 1458h6.4M467.2 1459.2a3.8 3.8 0 1 0 7.6 0a3.8 3.8 0 1 0 -7.6 0zM467.8 1459.2h6.4M473.8 1460.2a3.8 3.8 0 1 0 7.6 0a3.8 3.8 0 1 0 -7.6 0zM474.3 1460.2h6.4M480.1 1461a3.8 3.8 0 1 0 7.6 0a3.8 3.8 0 1 0 -7.6 0zM480.7 1461h6.4M486.4 1461.7a3.8 3.8 0 1 0 7.6 0a3.8 3.8 0 1 0 -7.6 0zM487 1461.7h6.4M492.5 1462.3a3.8 3.8 0 1 0 7.6 0a3.8 3.8 0 1 0 -7.6 0zM493.1 1462.3h6.4M498.5 1462.9a3.8 3.8 0 1 0 7.6 0a3.8 3.8 0 1 0 -7.6 0zM499.1 1462.9h6.4M504.4 1463.3a3.8 3.8 0 1 0 7.6 0a3.8 3.8 0 1 0 -7.6 0zM505 1463.3h6.4M510.2 1463.3a3.8 3.8 0 1 0 7.6 0a3.8 3.8 0 1 0 -7.6 0zM510.8 1463.3h6.4M515.9 1463.3a3.8 3.8 0 1 0 7.6 0a3.8 3.8 0 1 0 -7.6 0zM516.4 1463.3h6.4M521.4 1463.3a3.8 3.8 0 1 0 7.6 0a3.8 3.8 0 1 0 -7.6 0zM522 1463.3h6.4M526.9 1463.3a3.8 3.8 0 1 0 7.6 0a3.8 3.8 0 1 0 -7.6 0zM527.5 1463.3h6.4M532.3 1462.9a3.8 3.8 0 1 0 7.6 0a3.8 3.8 0 1 0 -7.6 0zM532.8 1462.9h6.4M537.6 1461.7a3.8 3.8 0 1 0 7.6 0a3.8 3.8 0 1 0 -7.6 0zM538.1 1461.7h6.4M542.7 1460.2a3.8 3.8 0 1 0 7.6 0a3.8 3.8 0 1 0 -7.6 0zM543.3 1460.2h6.4M547.8 1458.4a3.8 3.8 0 1 0 7.6 0a3.8 3.8 0 1 0 -7.6 0zM548.4 1458.4h6.4M552.9 1456.3a3.8 3.8 0 1 0 7.6 0a3.8 3.8 0 1 0 -7.6 0zM553.4 1456.3h6.4M557.8 1454.6a3.8 3.8 0 1 0 7.6 0a3.8 3.8 0 1 0 -7.6 0zM558.4 1454.6h6.4M562.6 1453.4a3.8 3.8 0 1 0 7.6 0a3.8 3.8 0 1 0 -7.6 0zM563.2 1453.4h6.4M567.4 1451.5a3.8 3.8 0 1 0 7.6 0a3.8 3.8 0 1 0 -7.6 0zM568 1451.5h6.4M572.1 1450.3a3.8 3.8 0 1 0 7.6 0a3.8 3.8 0 1 0 -7.6 0zM572.7 1450.3h6.4M576.8 1449.6a3.8 3.8 0 1 0 7.6 0a3.8 3.8 0 1 0 -7.6 0zM577.3 1449.6h6.4M581.3 1449.2a3.8 3.8 0 1 0 7.6 0a3.8 3.8 0 1 0 -7.6 0zM581.9 1449.2h6.4M585.8 1449.2a3.8 3.8 0 1 0 7.6 0a3.8 3.8 0 1 0 -7.6 0zM586.4 1449.2h6.4M590.2 1449.2a3.8 3.8 0 1 0 7.6 0a3.8 3.8 0 1 0 -7.6 0zM590.8 1449.2h6.4M594.6 1449.8a3.8 3.8 0 1 0 7.6 0a3.8 3.8 0 1 0 -7.6 0zM595.2 1449.8h6.4M598.9 1450.1a3.8 3.8 0 1 0 7.6 0a3.8 3.8 0 1 0 -7.6 0zM599.5 1450.1h6.4M603.2 1450.3a3.8 3.8 0 1 0 7.6 0a3.8 3.8 0 1 0 -7.6 0zM603.7 1450.3h6.4M607.3 1450.9a3.8 3.8 0 1 0 7.6 0a3.8 3.8 0 1 0 -7.6 0zM607.9 1450.9h6.4M611.5 1451.7a3.8 3.8 0 1 0 7.6 0a3.8 3.8 0 1 0 -7.6 0zM612 1451.7h6.4M615.5 1452.5a3.8 3.8 0 1 0 7.6 0a3.8 3.8 0 1 0 -7.6 0zM616.1 1452.5h6.4M619.6 1453.3a3.8 3.8 0 1 0 7.6 0a3.8 3.8 0 1 0 -7.6 0zM620.1 1453.3h6.4M623.5 1454.4a3.8 3.8 0 1 0 7.6 0a3.8 3.8 0 1 0 -7.6 0zM624.1 1454.4h6.4M627.4 1456.4a3.8 3.8 0 1 0 7.6 0a3.8 3.8 0 1 0 -7.6 0zM628 1456.4h6.4M631.3 1458.5a3.8 3.8 0 1 0 7.6 0a3.8 3.8 0 1 0 -7.6 0zM631.9 1458.5h6.4M635.1 1460.6a3.8 3.8 0 1 0 7.6 0a3.8 3.8 0 1 0 -7.6 0zM635.7 1460.6h6.4M638.9 1462a3.8 3.8 0 1 0 7.6 0a3.8 3.8 0 1 0 -7.6 0zM639.5 1462h6.4M642.6 1463.2a3.8 3.8 0 1 0 7.6 0a3.8 3.8 0 1 0 -7.6 0zM643.2 1463.2h6.4M646.3 1464.9a3.8 3.8 0 1 0 7.6 0a3.8 3.8 0 1 0 -7.6 0zM646.9 1464.9h6.4M649.9 1466.9a3.8 3.8 0 1 0 7.6 0a3.8 3.8 0 1 0 -7.6 0zM650.5 1466.9h6.4M653.5 1469a3.8 3.8 0 1 0 7.6 0a3.8 3.8 0 1 0 -7.6 0zM654.1 1469h6.4M657.1 1471.4a3.8 3.8 0 1 0 7.6 0a3.8 3.8 0 1 0 -7.6 0zM657.6 1471.4h6.4M660.6 1474.6a3.8 3.8 0 1 0 7.6 0a3.8 3.8 0 1 0 -7.6 0zM661.1 1474.6h6.4M664 1478.2a3.8 3.8 0 1 0 7.6 0a3.8 3.8 0 1 0 -7.6 0zM664.6 1478.2h6.4M667.5 1482.3a3.8 3.8 0 1 0 7.6 0a3.8 3.8 0 1 0 -7.6 0zM668 1482.3h6.4M670.9 1489.2a3.8 3.8 0 1 0 7.6 0a3.8 3.8 0 1 0 -7.6 0zM671.4 1489.2h6.4M674.2 1496a3.8 3.8 0 1 0 7.6 0a3.8 3.8 0 1 0 -7.6 0zM674.8 1496h6.4M677.5 1503.4a3.8 3.8 0 1 0 7.6 0a3.8 3.8 0 1 0 -7.6 0zM678.1 1503.4h6.4M680.8 1509.8a3.8 3.8 0 1 0 7.6 0a3.8 3.8 0 1 0 -7.6 0zM681.4 1509.8h6.4M684.1 1520.2a3.8 3.8 0 1 0 7.6 0a3.8 3.8 0 1 0 -7.6 0zM684.6 1520.2h6.4M687.3 1529.7a3.8 3.8 0 1 0 7.6 0a3.8 3.8 0 1 0 -7.6 0zM687.8 1529.7h6.4M690.4 1539.8a3.8 3.8 0 1 0 7.6 0a3.8 3.8 0 1 0 -7.6 0zM691 1539.8h6.4M693.6 1549.6a3.8 3.8 0 1 0 7.6 0a3.8 3.8 0 1 0 -7.6 0zM694.1 1549.6h6.4M696.7 1561.3a3.8 3.8 0 1 0 7.6 0a3.8 3.8 0 1 0 -7.6 0zM697.3 1561.3h6.4M699.8 1572.4a3.8 3.8 0 1 0 7.6 0a3.8 3.8 0 1 0 -7.6 0zM700.3 1572.4h6.4M702.8 1584.2a3.8 3.8 0 1 0 7.6 0a3.8 3.8 0 1 0 -7.6 0zM703.4 1584.2h6.4M705.8 1597.6a3.8 3.8 0 1 0 7.6 0a3.8 3.8 0 1 0 -7.6 0zM706.4 1597.6h6.4M708.8 1609.5a3.8 3.8 0 1 0 7.6 0a3.8 3.8 0 1 0 -7.6 0zM709.4 1609.5h6.4M711.8 1621.5a3.8 3.8 0 1 0 7.6 0a3.8 3.8 0 1 0 -7.6 0zM712.4 1621.5h6.4M714.7 1633.8a3.8 3.8 0 1 0 7.6 0a3.8 3.8 0 1 0 -7.6 0zM715.3 1633.8h6.4M717.6 1647.9a3.8 3.8 0 1 0 7.6 0a3.8 3.8 0 1 0 -7.6 0zM718.2 1647.9h6.4M720.5 1661.3a3.8 3.8 0 1 0 7.6 0a3.8 3.8 0 1 0 -7.6 0zM721.1 1661.3h6.4M723.4 1674.9a3.8 3.8 0 1 0 7.6 0a3.8 3.8 0 1 0 -7.6 0zM723.9 1674.9h6.4M726.2 1689.3a3.8 3.8 0 1 0 7.6 0a3.8 3.8 0 1 0 -7.6 0zM726.7 1689.3h6.4M729 1702.6a3.8 3.8 0 1 0 7.6 0a3.8 3.8 0 1 0 -7.6 0zM729.5 1702.6h6.4M731.7 1717.4a3.8 3.8 0 1 0 7.6 0a3.8 3.8 0 1 0 -7.6 0zM732.3 1717.4h6.4M734.5 1731.8a3.8 3.8 0 1 0 7.6 0a3.8 3.8 0 1 0 -7.6 0zM735.1 1731.8h6.4" fill="none" stroke="#0072b2" stroke-width="0.85"/>
<path d="M118 1340.7a4.1 4.1 0 1 0 8.3 0a4.1 4.1 0 1 0 -8.3 0zM146.6 1342.3a4.1 4.1 0 1 0 8.3 0a4.1 4.1 0 1 0 -8.3 0zM162 1342.3a4.1 4.1 0 1 0 8.3 0a4.1 4.1 0 1 0 -8.3 0zM180.4 1345a4.1 4.1 0 1 0 8.3 0a4.1 4.1 0 1 0 -8.3 0zM196.2 1347.3a4.1 4.1 0 1 0 8.3 0a4.1 4.1 0 1 0 -8.3 0zM214.3 1351.7a4.1 4.1 0 1 0 8.3 0a4.1 4.1 0 1 0 -8.3 0zM229 1355.5a4.1 4.1 0 1 0 8.3 0a4.1 4.1 0 1 0 -8.3 0zM242 1359.4a4.1 4.1 0 1 0 8.3 0a4.1 4.1 0 1 0 -8.3 0zM254.8 1364.5a4.1 4.1 0 1 0 8.3 0a4.1 4.1 0 1 0 -8.3 0zM269.5 1371.1a4.1 4.1 0 1 0 8.3 0a4.1 4.1 0 1 0 -8.3 0zM281.9 1376.4a4.1 4.1 0 1 0 8.3 0a4.1 4.1 0 1 0 -8.3 0zM293.8 1381.8a4.1 4.1 0 1 0 8.3 0a4.1 4.1 0 1 0 -8.3 0zM305.2 1387.7a4.1 4.1 0 1 0 8.3 0a4.1 4.1 0 1 0 -8.3 0zM316.2 1393.5a4.1 4.1 0 1 0 8.3 0a4.1 4.1 0 1 0 -8.3 0zM326.9 1398.7a4.1 4.1 0 1 0 8.3 0a4.1 4.1 0 1 0 -8.3 0zM337.2 1403.3a4.1 4.1 0 1 0 8.3 0a4.1 4.1 0 1 0 -8.3 0zM347.1 1407.3a4.1 4.1 0 1 0 8.3 0a4.1 4.1 0 1 0 -8.3 0zM356.8 1411a4.1 4.1 0 1 0 8.3 0a4.1 4.1 0 1 0 -8.3 0zM366.1 1414.8a4.1 4.1 0 1 0 8.3 0a4.1 4.1 0 1 0 -8.3 0zM375.2 1418.3a4.1 4.1 0 1 0 8.3 0a4.1 4.1 0 1 0 -8.3 0zM383.9 1421.5a4.1 4.1 0 1 0 8.3 0a4.1 4.1 0 1 0 -8.3 0zM392.5 1424.3a4.1 4.1 0 1 0 8.3 0a4.1 4.1 0 1 0 -8.3 0zM400.8 1426.4a4.1 4.1 0 1 0 8.3 0a4.1 4.1 0 1 0 -8.3 0zM408.9 1428.3a4.1 4.1 0 1 0 8.3 0a4.1 4.1 0 1 0 -8.3 0zM416.8 1430.5a4.1 4.1 0 1 0 8.3 0a4.1 4.1 0 1 0 -8.3 0zM424.5 1432.6a4.1 4.1 0 1 0 8.3 0a4.1 4.1 0 1 0 -8.3 0zM432 1434.4a4.1 4.1 0 1 0 8.3 0a4.1 4.1 0 1 0 -8.3 0zM439.3 1436a4.1 4.1 0 1 0 8.3 0a4.1 4.1 0 1 0 -8.3 0zM446.4 1437.3a4.1 4.1 0 1 0 8.3 0a4.1 4.1 0 1 0 -8.3 0zM453.4 1438.3a4.1 4.1 0 1 0 8.3 0a4.1 4.1 0 1 0 -8.3 0zM460.2 1439.4a4.1 4.1 0 1 0 8.3 0a4.1 4.1 0 1 0 -8.3 0zM466.9 1440a4.1 4.1 0 1 0 8.3 0a4.1 4.1 0 1 0 -8.3 0zM473.4 1440a4.1 4.1 0 1 0 8.3 0a4.1 4.1 0 1 0 -8.3 0zM479.8 1440a4.1 4.1 0 1 0 8.3 0a4.1 4.1 0 1 0 -8.3 0zM486 1439.7a4.1 4.1 0 1 0 8.3 0a4.1 4.1 0 1 0 -8.3 0zM492.2 1439a4.1 4.1 0 1 0 8.3 0a4.1 4.1 0 1 0 -8.3 0zM498.2 1438.3a4.1 4.1 0 1 0 8.3 0a4.1 4.1 0 1 0 -8.3 0zM504.1 1437.4a4.1 4.1 0 1 0 8.3 0a4.1 4.1 0 1 0 -8.3 0zM509.8 1436.6a4.1 4.1 0 1 0 8.3 0a4.1 4.1 0 1 0 -8.3 0zM515.5 1435.8a4.1 4.1 0 1 0 8.3 0a4.1 4.1 0 1 0 -8.3 0zM521.1 1435a4.1 4.1 0 1 0 8.3 0a4.1 4.1 0 1 0 -8.3 0zM526.5 1434.1a4.1 4.1 0 1 0 8.3 0a4.1 4.1 0 1 0 -8.3 0zM531.9 1433.4a4.1 4.1 0 1 0 8.3 0a4.1 4.1 0 1 0 -8.3 0zM537.2 1432.7a4.1 4.1 0 1 0 8.3 0a4.1 4.1 0 1 0 -8.3 0zM542.4 1431.5a4.1 4.1 0 1 0 8.3 0a4.1 4.1 0 1 0 -8.3 0zM547.5 1430.7a4.1 4.1 0 1 0 8.3 0a4.1 4.1 0 1 0 -8.3 0zM552.5 1430.8a4.1 4.1 0 1 0 8.3 0a4.1 4.1 0 1 0 -8.3 0zM557.4 1430.5a4.1 4.1 0 1 0 8.3 0a4.1 4.1 0 1 0 -8.3 0zM562.3 1428.4a4.1 4.1 0 1 0 8.3 0a4.1 4.1 0 1 0 -8.3 0zM567.1 1427.2a4.1 4.1 0 1 0 8.3 0a4.1 4.1 0 1 0 -8.3 0zM571.8 1427.2a4.1 4.1 0 1 0 8.3 0a4.1 4.1 0 1 0 -8.3 0zM576.4 1427.5a4.1 4.1 0 1 0 8.3 0a4.1 4.1 0 1 0 -8.3 0zM581 1427.1a4.1 4.1 0 1 0 8.3 0a4.1 4.1 0 1 0 -8.3 0zM585.5 1427.9a4.1 4.1 0 1 0 8.3 0a4.1 4.1 0 1 0 -8.3 0zM589.9 1430.3a4.1 4.1 0 1 0 8.3 0a4.1 4.1 0 1 0 -8.3 0zM594.2 1432.5a4.1 4.1 0 1 0 8.3 0a4.1 4.1 0 1 0 -8.3 0zM598.6 1434.8a4.1 4.1 0 1 0 8.3 0a4.1 4.1 0 1 0 -8.3 0zM602.8 1437.3a4.1 4.1 0 1 0 8.3 0a4.1 4.1 0 1 0 -8.3 0zM607 1439.4a4.1 4.1 0 1 0 8.3 0a4.1 4.1 0 1 0 -8.3 0zM611.1 1441a4.1 4.1 0 1 0 8.3 0a4.1 4.1 0 1 0 -8.3 0zM615.2 1442.4a4.1 4.1 0 1 0 8.3 0a4.1 4.1 0 1 0 -8.3 0zM619.2 1444.2a4.1 4.1 0 1 0 8.3 0a4.1 4.1 0 1 0 -8.3 0zM623.2 1446.1a4.1 4.1 0 1 0 8.3 0a4.1 4.1 0 1 0 -8.3 0zM627.1 1448a4.1 4.1 0 1 0 8.3 0a4.1 4.1 0 1 0 -8.3 0zM630.9 1450.5a4.1 4.1 0 1 0 8.3 0a4.1 4.1 0 1 0 -8.3 0zM634.8 1453.8a4.1 4.1 0 1 0 8.3 0a4.1 4.1 0 1 0 -8.3 0zM638.5 1457.6a4.1 4.1 0 1 0 8.3 0a4.1 4.1 0 1 0 -8.3 0zM642.3 1461.8a4.1 4.1 0 1 0 8.3 0a4.1 4.1 0 1 0 -8.3 0zM645.9 1466.9a4.1 4.1 0 1 0 8.3 0a4.1 4.1 0 1 0 -8.3 0zM649.6 1471.7a4.1 4.1 0 1 0 8.3 0a4.1 4.1 0 1 0 -8.3 0zM653.2 1478.3a4.1 4.1 0 1 0 8.3 0a4.1 4.1 0 1 0 -8.3 0zM656.7 1486.9a4.1 4.1 0 1 0 8.3 0a4.1 4.1 0 1 0 -8.3 0zM660.2 1494.2a4.1 4.1 0 1 0 8.3 0a4.1 4.1 0 1 0 -8.3 0zM663.7 1503.5a4.1 4.1 0 1 0 8.3 0a4.1 4.1 0 1 0 -8.3 0zM667.1 1514.7a4.1 4.1 0 1 0 8.3 0a4.1 4.1 0 1 0 -8.3 0zM670.5 1526.7a4.1 4.1 0 1 0 8.3 0a4.1 4.1 0 1 0 -8.3 0zM673.8 1538.8a4.1 4.1 0 1 0 8.3 0a4.1 4.1 0 1 0 -8.3 0zM677.2 1551.4a4.1 4.1 0 1 0 8.3 0a4.1 4.1 0 1 0 -8.3 0zM680.4 1565a4.1 4.1 0 1 0 8.3 0a4.1 4.1 0 1 0 -8.3 0zM683.7 1578.5a4.1 4.1 0 1 0 8.3 0a4.1 4.1 0 1 0 -8.3 0zM686.9 1592.1a4.1 4.1 0 1 0 8.3 0a4.1 4.1 0 1 0 -8.3 0zM690.1 1606.2a4.1 4.1 0 1 0 8.3 0a4.1 4.1 0 1 0 -8.3 0zM693.2 1623.2a4.1 4.1 0 1 0 8.3 0a4.1 4.1 0 1 0 -8.3 0zM696.3 1638.9a4.1 4.1 0 1 0 8.3 0a4.1 4.1 0 1 0 -8.3 0zM699.4 1652.2a4.1 4.1 0 1 0 8.3 0a4.1 4.1 0 1 0 -8.3 0zM702.5 1667.9a4.1 4.1 0 1 0 8.3 0a4.1 4.1 0 1 0 -8.3 0zM705.5 1683.1a4.1 4.1 0 1 0 8.3 0a4.1 4.1 0 1 0 -8.3 0zM708.5 1697.4a4.1 4.1 0 1 0 8.3 0a4.1 4.1 0 1 0 -8.3 0zM711.4 1712.2a4.1 4.1 0 1 0 8.3 0a4.1 4.1 0 1 0 -8.3 0zM714.4 1725.4a4.1 4.1 0 1 0 8.3 0a4.1 4.1 0 1 0 -8.3 0z" fill="#e51e10"/>
<path d="M122.1 1314.4l4.4 7.4h-8.8zM150.7 1316.7l4.4 7.4h-8.8zM166.1 1317.4l4.4 7.4h-8.8zM184.5 1319.1l4.4 7.4h-8.8zM200.3 1320.7l4.4 7.4h-8.8zM218.4 1323.4l4.4 7.4h-8.8zM233.1 1327.5l4.4 7.4h-8.8zM246.1 1331.8l4.4 7.4h-8.8zM258.9 1335.6l4.4 7.4h-8.8zM273.6 1340.2l4.4 7.4h-8.8zM286 1344.7l4.4 7.4h-8.8zM297.9 1349.5l4.4 7.4h-8.8zM309.4 1354.5l4.4 7.4h-8.8zM320.4 1359.2l4.4 7.4h-8.8zM331 1362.9l4.4 7.4h-8.8zM341.3 1366.4l4.4 7.4h-8.8zM351.3 1370.4l4.4 7.4h-8.8zM360.9 1374l4.4 7.4h-8.8zM370.2 1376.8l4.4 7.4h-8.8zM379.3 1379.1l4.4 7.4h-8.8zM388.1 1381.2l4.4 7.4h-8.8zM396.6 1383.1l4.4 7.4h-8.8zM404.9 1384.8l4.4 7.4h-8.8zM413 1386.1l4.4 7.4h-8.8zM420.9 1386.8l4.4 7.4h-8.8zM428.6 1387.4l4.4 7.4h-8.8zM436.1 1388.2l4.4 7.4h-8.8zM443.4 1389.1l4.4 7.4h-8.8zM450.5 1389.9l4.4 7.4h-8.8zM457.5 1390.4l4.4 7.4h-8.8zM464.3 1390.4l4.4 7.4h-8.8zM471 1390.4l4.4 7.4h-8.8zM477.5 1389.8l4.4 7.4h-8.8zM483.9 1388.8l4.4 7.4h-8.8zM490.2 1388.3l4.4 7.4h-8.8zM496.3 1387.8l4.4 7.4h-8.8zM502.3 1386.6l4.4 7.4h-8.8zM508.2 1385.2l4.4 7.4h-8.8zM514 1384.3l4.4 7.4h-8.8zM519.7 1383.5l4.4 7.4h-8.8zM525.2 1383l4.4 7.4h-8.8zM530.7 1382.8l4.4 7.4h-8.8zM536.1 1382.7l4.4 7.4h-8.8zM541.3 1382.7l4.4 7.4h-8.8zM546.5 1383l4.4 7.4h-8.8zM551.6 1383.4l4.4 7.4h-8.8zM556.6 1383.9l4.4 7.4h-8.8zM561.6 1384.7l4.4 7.4h-8.8zM566.4 1387.4l4.4 7.4h-8.8zM571.2 1390.8l4.4 7.4h-8.8zM575.9 1393.6l4.4 7.4h-8.8zM580.5 1397.3l4.4 7.4h-8.8zM585.1 1402.4l4.4 7.4h-8.8zM589.6 1407.2l4.4 7.4h-8.8zM594 1411.7l4.4 7.4h-8.8zM598.4 1417.2l4.4 7.4h-8.8zM602.7 1421.5l4.4 7.4h-8.8zM606.9 1425.5l4.4 7.4h-8.8zM611.1 1431.5l4.4 7.4h-8.8zM615.2 1438.8l4.4 7.4h-8.8zM619.3 1445.6l4.4 7.4h-8.8zM623.3 1451.9l4.4 7.4h-8.8zM627.3 1461.3l4.4 7.4h-8.8zM631.2 1471.4l4.4 7.4h-8.8zM635.1 1481.4l4.4 7.4h-8.8zM638.9 1494.5l4.4 7.4h-8.8zM642.7 1507l4.4 7.4h-8.8zM646.4 1520l4.4 7.4h-8.8zM650.1 1535.6l4.4 7.4h-8.8zM653.7 1552.5l4.4 7.4h-8.8zM657.3 1569l4.4 7.4h-8.8zM660.8 1586.1l4.4 7.4h-8.8zM664.4 1603.9l4.4 7.4h-8.8zM667.8 1619.4l4.4 7.4h-8.8zM671.2 1636.1l4.4 7.4h-8.8zM674.6 1653.3l4.4 7.4h-8.8zM678 1669.6l4.4 7.4h-8.8zM681.3 1685.5l4.4 7.4h-8.8zM684.6 1701.4l4.4 7.4h-8.8zM687.8 1716.2l4.4 7.4h-8.8z" fill="#000" fill-opacity=".13" stroke="#000" stroke-width="0.61"/>
<path d="M118.9 1320.2h6.3M147.5 1322.5h6.3M162.9 1323.2h6.3M181.3 1324.8h6.3M197.1 1326.5h6.3M215.2 1329.2h6.3M229.9 1333.3h6.3M242.9 1337.5h6.3M255.7 1341.3h6.3M270.5 1345.9h6.3M282.8 1350.5h6.3M294.7 1355.3h6.3M306.2 1360.3h6.3M317.2 1365h6.3M327.9 1368.7h6.3M338.2 1372.2h6.3M348.1 1376.2h6.3M357.7 1379.8h6.3M367.1 1382.5h6.3M376.1 1384.8h6.3M384.9 1387h6.3M393.5 1388.8h6.3M401.8 1390.5h6.3M409.9 1391.8h6.3M417.8 1392.5h6.3M425.4 1393.1h6.3M432.9 1394h6.3M440.3 1394.9h6.3M447.4 1395.7h6.3M454.4 1396.2h6.3M461.2 1396.2h6.3M467.9 1396.2h6.3M474.4 1395.5h6.3M480.8 1394.5h6.3M487 1394h6.3M493.1 1393.6h6.3M499.2 1392.4h6.3M505 1391h6.3M510.8 1390h6.3M516.5 1389.3h6.3M522.1 1388.8h6.3M527.5 1388.5h6.3M532.9 1388.5h6.3M538.2 1388.5h6.3M543.4 1388.7h6.3M548.5 1389.2h6.3M553.5 1389.7h6.3M558.4 1390.5h6.3M563.3 1393.2h6.3M568 1396.6h6.3M572.8 1399.3h6.3M577.4 1403.1h6.3M581.9 1408.1h6.3M586.4 1412.9h6.3M590.9 1417.5h6.3M595.2 1423h6.3M599.5 1427.2h6.3M603.8 1431.2h6.3M608 1437.2h6.3M612.1 1444.6h6.3M616.2 1451.3h6.3M620.2 1457.7h6.3M624.2 1467.1h6.3M628.1 1477.1h6.3M631.9 1487.1h6.3M635.7 1500.3h6.3M639.5 1512.7h6.3M643.2 1525.7h6.3M646.9 1541.4h6.3M650.6 1558.2h6.3M654.1 1574.7h6.3M657.7 1591.9h6.3M661.2 1609.6h6.3M664.7 1625.1h6.3M668.1 1641.9h6.3M671.5 1659h6.3M674.8 1675.3h6.3M678.2 1691.2h6.3M681.4 1707.2h6.3M684.7 1722h6.3" fill="none" stroke="#000" stroke-width="0.64"/>
</g>
<g>
<path d="M808.9 52.1h7.8M812.8 48.9v6.2M809.6 49.6h6.4M809.6 54.6h6.4M837.5 62h7.8M841.4 58.9v6.2M838.2 59.5h6.4M838.2 64.5h6.4M852.9 61h7.8M856.8 57.9v6.2M853.6 58.5h6.4M853.6 63.5h6.4M871.3 75.3h7.8M875.2 72.1v6.2M872 72.8h6.4M872 77.8h6.4M887.1 80.3h7.8M891 77.2v6.2M887.8 77.8h6.4M887.8 82.8h6.4M905.2 87.8h7.8M909.1 84.6v6.2M905.9 85.2h6.4M905.9 90.3h6.4M919.9 97.1h7.8M923.8 93.9v6.2M920.6 94.5h6.4M920.6 99.6h6.4M932.9 105.4h7.8M936.8 102.2v6.2M933.6 102.8h6.4M933.6 107.9h6.4M945.7 114.2h7.8M949.6 111.1v6.2M946.4 111.7h6.4M946.4 116.8h6.4M960.4 123.2h7.8M964.3 120.1v6.2M961.1 120.7h6.4M961.1 125.7h6.4M972.8 131h7.8M976.7 127.9v6.2M973.5 128.5h6.4M973.5 133.5h6.4M984.7 138.2h7.8M988.6 135.1v6.2M985.4 135.6h6.4M985.4 140.7h6.4M996.2 144.9h7.8M1000.1 141.8v6.2M996.9 142.4h6.4M996.9 147.5h6.4M1007.2 151.5h7.8M1011.1 148.4v6.2M1007.9 149h6.4M1007.9 154.1h6.4M1017.8 158.7h7.8M1021.7 155.6v6.2M1018.5 156.1h6.4M1018.5 161.3h6.4M1028.1 165.3h7.8M1032 162.2v6.2M1028.8 162.7h6.4M1028.8 167.9h6.4M1038.1 170.8h7.8M1042 167.7v6.2M1038.8 168.2h6.4M1038.8 173.4h6.4M1047.7 178.6h7.8M1051.6 175.5v6.2M1048.4 176h6.4M1048.4 181.2h6.4M1057 184.4h7.8M1060.9 181.3v6.2M1057.7 181.8h6.4M1057.7 187.1h6.4M1066.1 190.3h7.8M1070 187.2v6.2M1066.8 187.7h6.4M1066.8 192.9h6.4M1074.9 196.1h7.8M1078.8 192.9v6.2M1075.6 193.4h6.4M1075.6 198.7h6.4M1083.4 201h7.8M1087.3 197.9v6.2M1084.1 198.4h6.4M1084.1 203.7h6.4M1091.7 206.3h7.8M1095.6 203.1v6.2M1092.4 203.6h6.4M1092.4 208.9h6.4M1099.8 212h7.8M1103.7 208.9v6.2M1100.5 209.4h6.4M1100.5 214.7h6.4M1107.7 217h7.8M1111.6 213.8v6.2M1108.4 214.3h6.4M1108.4 219.6h6.4M1115.4 220.8h7.8M1119.3 217.7v6.2M1116.1 218.1h6.4M1116.1 223.5h6.4M1122.9 225h7.8M1126.8 221.9v6.2M1123.6 222.3h6.4M1123.6 227.7h6.4M1130.2 229.8h7.8M1134.1 226.6v6.2M1130.9 227h6.4M1130.9 232.5h6.4M1137.3 233.7h7.8M1141.2 230.5v6.2M1138 230.9h6.4M1138 236.4h6.4M1144.3 237.7h7.8M1148.2 234.5v6.2M1145 234.9h6.4M1145 240.4h6.4M1151.1 241.9h7.8M1155 238.7v6.2M1151.8 239.1h6.4M1151.8 244.6h6.4M1157.8 245h7.8M1161.7 241.9v6.2M1158.5 242.2h6.4M1158.5 247.8h6.4M1164.3 249.3h7.8M1168.2 246.1v6.2M1165 246.5h6.4M1165 252h6.4M1170.7 251.9h7.8M1174.6 248.8v6.2M1171.4 249.1h6.4M1171.4 254.7h6.4M1177 261.9h7.8M1180.9 258.7v6.2M1177.7 259h6.4M1177.7 264.7h6.4M1183.1 266.1h7.8M1187 263v6.2M1183.8 263.3h6.4M1183.8 268.9h6.4M1189.1 269h7.8M1193 265.9v6.2M1189.8 266.1h6.4M1189.8 271.8h6.4M1195 271.6h7.8M1198.9 268.5v6.2M1195.7 268.8h6.4M1195.7 274.5h6.4M1200.8 273.7h7.8M1204.7 270.6v6.2M1201.5 270.9h6.4M1201.5 276.6h6.4M1206.5 274.9h7.8M1210.4 271.8v6.2M1207.2 272.1h6.4M1207.2 277.8h6.4M1212 275.9h7.8M1215.9 272.7v6.2M1212.7 273h6.4M1212.7 278.7h6.4M1217.5 276.9h7.8M1221.4 273.8v6.2M1218.2 274h6.4M1218.2 279.8h6.4M1222.9 278.2h7.8M1226.8 275v6.2M1223.6 275.2h6.4M1223.6 281.1h6.4M1228.1 279.8h7.8M1232 276.7v6.2M1228.8 276.9h6.4M1228.8 282.7h6.4M1233.3 281.7h7.8M1237.2 278.6v6.2M1234 278.7h6.4M1234 284.6h6.4M1238.4 283.4h7.8M1242.3 280.3v6.2M1239.1 280.4h6.4M1239.1 286.3h6.4M1243.4 285h7.8M1247.3 281.9v6.2M1244.1 282.1h6.4M1244.1 288h6.4M1248.4 286.5h7.8M1252.3 283.4v6.2M1249.1 283.5h6.4M1249.1 289.5h6.4M1253.2 288h7.8M1257.1 284.9v6.2M1253.9 285h6.4M1253.9 291h6.4M1258 289.1h7.8M1261.9 286v6.2M1258.7 286.1h6.4M1258.7 292.1h6.4M1262.7 290h7.8M1266.6 286.9v6.2M1263.4 287h6.4M1263.4 293h6.4M1267.3 290.5h7.8M1271.2 287.3v6.2M1268 287.4h6.4M1268 293.5h6.4M1271.9 290.9h7.8M1275.8 287.8v6.2M1272.6 287.9h6.4M1272.6 293.9h6.4M1276.4 291.5h7.8M1280.3 288.4v6.2M1277.1 288.5h6.4M1277.1 294.5h6.4M1280.8 291.6h7.8M1284.7 288.5v6.2M1281.5 288.5h6.4M1281.5 294.6h6.4M1285.2 290.4h7.8M1289.1 287.3v6.2M1285.9 287.3h6.4M1285.9 293.5h6.4M1289.5 289.4h7.8M1293.4 286.3v6.2M1290.2 286.3h6.4M1290.2 292.5h6.4M1293.7 288.8h7.8M1297.6 285.7v6.2M1294.4 285.7h6.4M1294.4 291.9h6.4M1297.9 287.6h7.8M1301.8 284.4v6.2M1298.6 284.4h6.4M1298.6 290.7h6.4M1302 284.7h7.8M1305.9 281.6v6.2M1302.7 281.6h6.4M1302.7 287.9h6.4M1306.1 281.4h7.8M1310 278.3v6.3M1306.8 278.3h6.4M1306.8 284.6h6.4M1310.1 278.3h7.8M1314 275.2v6.3M1310.8 275.2h6.4M1310.8 281.5h6.4M1314.1 274.2h7.8M1318 271v6.3M1314.8 271h6.4M1314.8 277.3h6.4M1318 268.6h7.8M1321.9 265.4v6.3M1318.7 265.4h6.4M1318.7 271.7h6.4M1321.9 265.8h7.8M1325.8 262.6v6.3M1322.6 262.6h6.4M1322.6 269h6.4M1325.7 252.1h7.8M1329.6 248.9v6.4M1326.4 248.9h6.4M1326.4 255.2h6.4M1329.5 239h7.8M1333.4 235.8v6.4M1330.2 235.8h6.4M1330.2 242.2h6.4M1333.2 231.5h7.8M1337.1 228.3v6.4M1333.9 228.3h6.4M1333.9 234.7h6.4M1336.9 219.3h7.8M1340.8 216.1v6.4M1337.6 216.1h6.4M1337.6 222.5h6.4M1340.5 208.7h7.8M1344.4 205.5v6.5M1341.2 205.5h6.4M1341.2 211.9h6.4M1344.1 185h7.8M1348 181.8v6.5M1344.8 181.8h6.4M1344.8 188.3h6.4M1347.6 170.5h7.8M1351.5 167.3v6.5M1348.3 167.3h6.4M1348.3 173.8h6.4M1351.2 160.1h7.8M1355.1 156.9v6.5M1351.9 156.9h6.4M1351.9 163.4h6.4M1354.6 140.8h7.8M1358.5 137.6v6.6M1355.3 137.6h6.4M1355.3 144.1h6.4M1358 128.5h7.8M1361.9 125.2v6.6M1358.7 125.2h6.4M1358.7 131.8h6.4M1361.4 106.5h7.8M1365.3 103.2v6.6M1362.1 103.2h6.4M1362.1 109.8h6.4M1364.8 96.8h7.8M1368.7 93.5v6.6M1365.5 93.5h6.4M1365.5 100.1h6.4M1368.1 82.9h7.8M1372 79.6v6.6M1368.8 79.6h6.4M1368.8 86.3h6.4M1371.4 78.3h7.8M1375.3 75v6.7M1372.1 75h6.4M1372.1 81.7h6.4M1374.6 72.9h7.8M1378.5 69.5v6.7M1375.3 69.5h6.4M1375.3 76.2h6.4M1377.8 69.3h7.8M1381.7 65.9v6.7M1378.5 65.9h6.4M1378.5 72.7h6.4M1381 74.3h7.8M1384.9 71v6.7M1381.7 71h6.4M1381.7 77.7h6.4M1384.2 82.6h7.8M1388.1 79.3v6.8M1384.9 79.3h6.4M1384.9 86h6.4M1387.3 99.2h7.8M1391.2 95.8v6.8M1388 95.8h6.4M1388 102.6h6.4M1390.4 119.5h7.8M1394.3 116.1v6.8M1391.1 116.1h6.4M1391.1 122.9h6.4M1393.4 145.3h7.8M1397.3 141.8v6.8M1394.1 141.8h6.4M1394.1 148.7h6.4M1396.4 180.3h7.8M1400.3 176.9v6.8M1397.1 176.9h6.4M1397.1 183.7h6.4M1399.4 217.6h7.8M1403.3 214.2v6.9M1400.1 214.2h6.4M1400.1 221.1h6.4M1402.4 253.4h7.8M1406.3 249.9v6.9M1403.1 249.9h6.4M1403.1 256.8h6.4M1405.3 291.5h7.8M1409.2 288.1v6.9M1406 288.1h6.4M1406 295h6.4M1408.2 325.8h7.8M1412.1 322.3v6.9M1408.9 322.3h6.4M1408.9 329.3h6.4M1411.1 353.9h7.8M1415 350.4v7M1411.8 350.4h6.4M1411.8 357.4h6.4M1413.9 382.7h7.8M1417.8 379.2v7M1414.6 379.2h6.4M1414.6 386.2h6.4M1416.8 411.9h7.8M1420.7 408.4v7M1417.5 408.4h6.4M1417.5 415.4h6.4" fill="none" stroke="#9400d3" stroke-width="0.85"/>
<path d="M809 51.2l7.7 7.7m0 -7.7l-7.7 7.7M812.8 54.3v1.6M809.7 54.3h6.2M809.7 55.9h6.2M837.6 61.1l7.7 7.7m0 -7.7l-7.7 7.7M841.4 64.2v1.6M838.3 64.2h6.2M838.3 65.8h6.2M853 60.2l7.7 7.7m0 -7.7l-7.7 7.7M856.8 63.2v1.6M853.7 63.2h6.2M853.7 64.8h6.2M871.4 74.4l7.7 7.7m0 -7.7l-7.7 7.7M875.2 77.5v1.6M872.1 77.5h6.2M872.1 79.1h6.2M887.1 79.5l7.7 7.7m0 -7.7l-7.7 7.7M891 82.5v1.6M887.9 82.5h6.2M887.9 84.1h6.2M905.2 86.9l7.7 7.7m0 -7.7l-7.7 7.7M909.1 90v1.6M906 90h6.2M906 91.6h6.2M920 96.2l7.7 7.7m0 -7.7l-7.7 7.7M923.8 99.3v1.6M920.7 99.3h6.2M920.7 100.9h6.2M933 104.5l7.7 7.7m0 -7.7l-7.7 7.7M936.8 107.6v1.6M933.7 107.6h6.2M933.7 109.2h6.2M945.8 113.4l7.7 7.7m0 -7.7l-7.7 7.7M949.6 116.4v1.6M946.5 116.4h6.2M946.5 118h6.2M960.5 122.3l7.7 7.7m0 -7.7l-7.7 7.7M964.3 125.4v1.6M961.2 125.4h6.2M961.2 127h6.2M972.9 130.2l7.7 7.7m0 -7.7l-7.7 7.7M976.7 133.2v1.6M973.6 133.2h6.2M973.6 134.8h6.2M984.8 137.3l7.7 7.7m0 -7.7l-7.7 7.7M988.6 140.4v1.6M985.5 140.4h6.2M985.5 142h6.2M996.2 144.1l7.7 7.7m0 -7.7l-7.7 7.7M1000.1 147.1v1.6M997 147.1h6.2M997 148.7h6.2M1007.2 150.7l7.7 7.7m0 -7.7l-7.7 7.7M1011.1 153.7v1.6M1008 153.7h6.2M1008 155.3h6.2M1017.9 157.9l7.7 7.7m0 -7.7l-7.7 7.7M1021.7 160.9v1.6M1018.6 160.9h6.2M1018.6 162.5h6.2M1028.2 164.5l7.7 7.7m0 -7.7l-7.7 7.7M1032 167.5v1.6M1028.9 167.5h6.2M1028.9 169.1h6.2M1038.1 169.9l7.7 7.7m0 -7.7l-7.7 7.7M1042 173v1.6M1038.9 173h6.2M1038.9 174.6h6.2M1047.8 177.8l7.7 7.7m0 -7.7l-7.7 7.7M1051.6 180.8v1.6M1048.5 180.8h6.2M1048.5 182.4h6.2M1057.1 183.6l7.7 7.7m0 -7.7l-7.7 7.7M1060.9 186.6v1.6M1057.8 186.6h6.2M1057.8 188.2h6.2M1066.1 189.4l7.7 7.7m0 -7.7l-7.7 7.7M1070 192.5v1.6M1066.9 192.5h6.2M1066.9 194.1h6.2M1074.9 195.2l7.7 7.7m0 -7.7l-7.7 7.7M1078.8 198.2v1.7M1075.7 198.2h6.2M1075.7 199.9h6.2M1083.5 200.2l7.7 7.7m0 -7.7l-7.7 7.7M1087.3 203.1v1.8M1084.2 203.1h6.2M1084.2 204.9h6.2M1091.8 205.4l7.7 7.7m0 -7.7l-7.7 7.7M1095.6 208.4v1.8M1092.5 208.4h6.2M1092.5 210.2h6.2M1099.9 211.2l7.7 7.7m0 -7.7l-7.7 7.7M1103.7 214.1v1.9M1100.6 214.1h6.2M1100.6 216h6.2M1107.8 216.1l7.7 7.7m0 -7.7l-7.7 7.7M1111.6 219v1.9M1108.5 219h6.2M1108.5 220.9h6.2M1115.5 219.9l7.7 7.7m0 -7.7l-7.7 7.7M1119.3 222.8v2M1116.2 222.8h6.2M1116.2 224.8h6.2M1122.9 224.1l7.7 7.7m0 -7.7l-7.7 7.7M1126.8 227v2.1M1123.7 227h6.2M1123.7 229h6.2M1130.3 228.9l7.7 7.7m0 -7.7l-7.7 7.7M1134.1 231.7v2.1M1131 231.7h6.2M1131 233.8h6.2M1137.4 232.8l7.7 7.7m0 -7.7l-7.7 7.7M1141.2 235.6v2.2M1138.1 235.6h6.2M1138.1 237.8h6.2M1144.4 236.8l7.7 7.7m0 -7.7l-7.7 7.7M1148.2 239.5v2.2M1145.1 239.5h6.2M1145.1 241.8h6.2M1151.2 241l7.7 7.7m0 -7.7l-7.7 7.7M1155 243.7v2.3M1151.9 243.7h6.2M1151.9 246h6.2M1157.9 244.1l7.7 7.7m0 -7.7l-7.7 7.7M1161.7 246.8v2.4M1158.6 246.8h6.2M1158.6 249.2h6.2M1164.4 248.4l7.7 7.7m0 -7.7l-7.7 7.7M1168.2 251.1v2.4M1165.1 251.1h6.2M1165.1 253.5h6.2M1170.8 251.1l7.7 7.7m0 -7.7l-7.7 7.7M1174.6 253.7v2.5M1171.5 253.7h6.2M1171.5 256.2h6.2M1177 254.7l7.7 7.7m0 -7.7l-7.7 7.7M1180.9 257.3v2.5M1177.8 257.3h6.2M1177.8 259.9h6.2M1183.2 258l7.7 7.7m0 -7.7l-7.7 7.7M1187 260.5v2.6M1183.9 260.5h6.2M1183.9 263.2h6.2M1189.2 260.9l7.7 7.7m0 -7.7l-7.7 7.7M1193 263.4v2.7M1189.9 263.4h6.2M1189.9 266.1h6.2M1195.1 262.5l7.7 7.7m0 -7.7l-7.7 7.7M1198.9 265v2.7M1195.8 265h6.2M1195.8 267.7h6.2M1200.8 263.7l7.7 7.7m0 -7.7l-7.7 7.7M1204.7 266.1v2.8M1201.6 266.1h6.2M1201.6 268.9h6.2M1206.5 264.6l7.7 7.7m0 -7.7l-7.7 7.7M1210.4 267v2.9M1207.3 267h6.2M1207.3 269.9h6.2M1212.1 265.3l7.7 7.7m0 -7.7l-7.7 7.7M1215.9 267.7v2.9M1212.8 267.7h6.2M1212.8 270.7h6.2M1217.5 266l7.7 7.7m0 -7.7l-7.7 7.7M1221.4 268.4v3M1218.3 268.4h6.2M1218.3 271.4h6.2M1222.9 266.8l7.7 7.7m0 -7.7l-7.7 7.7M1226.8 269.1v3M1223.7 269.1h6.2M1223.7 272.1h6.2M1228.2 267.9l7.7 7.7m0 -7.7l-7.7 7.7M1232 270.2v3.1M1228.9 270.2h6.2M1228.9 273.3h6.2M1233.4 269.4l7.7 7.7m0 -7.7l-7.7 7.7M1237.2 271.7v3.2M1234.1 271.7h6.2M1234.1 274.9h6.2M1238.5 271.5l7.7 7.7m0 -7.7l-7.7 7.7M1242.3 273.8v3.2M1239.2 273.8h6.2M1239.2 277h6.2M1243.5 272.8l7.7 7.7m0 -7.7l-7.7 7.7M1247.3 275.1v3.3M1244.2 275.1h6.2M1244.2 278.3h6.2M1248.4 271.5l7.7 7.7m0 -7.7l-7.7 7.7M1252.3 273.7v3.3M1249.2 273.7h6.2M1249.2 277h6.2M1253.3 273.3l7.7 7.7m0 -7.7l-7.7 7.7M1257.1 275.4v3.4M1254 275.4h6.2M1254 278.9h6.2M1258.1 274.5l7.7 7.7m0 -7.7l-7.7 7.7M1261.9 276.6v3.5M1258.8 276.6h6.2M1258.8 280.1h6.2M1262.8 275.3l7.7 7.7m0 -7.7l-7.7 7.7M1266.6 277.4v3.5M1263.5 277.4h6.2M1263.5 281h6.2M1267.4 275.9l7.7 7.7m0 -7.7l-7.7 7.7M1271.2 278v3.6M1268.1 278h6.2M1268.1 281.6h6.2M1271.9 276.1l7.7 7.7m0 -7.7l-7.7 7.7M1275.8 278.1v3.7M1272.7 278.1h6.2M1272.7 281.8h6.2M1276.4 275.1l7.7 7.7m0 -7.7l-7.7 7.7M1280.3 277.1v3.7M1277.2 277.1h6.2M1277.2 280.8h6.2M1280.9 274.3l7.7 7.7m0 -7.7l-7.7 7.7M1284.7 276.3v3.8M1281.6 276.3h6.2M1281.6 280h6.2M1285.2 274l7.7 7.7m0 -7.7l-7.7 7.7M1289.1 275.9v3.8M1286 275.9h6.2M1286 279.7h6.2M1289.5 273.2l7.7 7.7m0 -7.7l-7.7 7.7M1293.4 275.1v3.9M1290.3 275.1h6.2M1290.3 279h6.2M1293.8 270.9l7.7 7.7m0 -7.7l-7.7 7.7M1297.6 272.8v4M1294.5 272.8h6.2M1294.5 276.8h6.2M1298 268.2l7.7 7.7m0 -7.7l-7.7 7.7M1301.8 270.1v4M1298.7 270.1h6.2M1298.7 274.1h6.2M1302.1 265l7.7 7.7m0 -7.7l-7.7 7.7M1305.9 266.9v4.1M1302.8 266.9h6.2M1302.8 270.9h6.2M1306.2 261.8l7.7 7.7m0 -7.7l-7.7 7.7M1310 263.6v4.1M1306.9 263.6h6.2M1306.9 267.7h6.2M1310.2 258.6l7.7 7.7m0 -7.7l-7.7 7.7M1314 260.4v4.2M1310.9 260.4h6.2M1310.9 264.6h6.2M1314.2 255.2l7.7 7.7m0 -7.7l-7.7 7.7M1318 256.9v4.3M1314.9 256.9h6.2M1314.9 261.2h6.2M1318.1 250l7.7 7.7m0 -7.7l-7.7 7.7M1321.9 251.7v4.3M1318.8 251.7h6.2M1318.8 256h6.2M1321.9 239.5l7.7 7.7m0 -7.7l-7.7 7.7M1325.8 241.2v4.4M1322.7 241.2h6.2M1322.7 245.5h6.2M1325.8 230.6l7.7 7.7m0 -7.7l-7.7 7.7M1329.6 232.3v4.4M1326.5 232.3h6.2M1326.5 236.7h6.2M1329.5 216.8l7.7 7.7m0 -7.7l-7.7 7.7M1333.4 218.4v4.5M1330.3 218.4h6.2M1330.3 222.9h6.2M1333.2 209.3l7.7 7.7m0 -7.7l-7.7 7.7M1337.1 210.8v4.5M1334 210.8h6.2M1334 215.4h6.2M1336.9 201.2l7.7 7.7m0 -7.7l-7.7 7.7M1340.8 202.8v4.6M1337.7 202.8h6.2M1337.7 207.4h6.2M1340.6 190.7l7.7 7.7m0 -7.7l-7.7 7.7M1344.4 192.2v4.7M1341.3 192.2h6.2M1341.3 196.9h6.2M1344.1 174.5l7.7 7.7m0 -7.7l-7.7 7.7M1348 176v4.7M1344.9 176h6.2M1344.9 180.7h6.2M1347.7 163.3l7.7 7.7m0 -7.7l-7.7 7.7M1351.5 164.8v4.8M1348.4 164.8h6.2M1348.4 169.6h6.2M1351.2 151.9l7.7 7.7m0 -7.7l-7.7 7.7M1355.1 153.3v4.8M1352 153.3h6.2M1352 158.2h6.2M1354.7 142.3l7.7 7.7m0 -7.7l-7.7 7.7M1358.5 143.7v4.9M1355.4 143.7h6.2M1355.4 148.6h6.2M1358.1 136.3l7.7 7.7m0 -7.7l-7.7 7.7M1361.9 137.6v5M1358.8 137.6h6.2M1358.8 142.6h6.2M1361.5 127.3l7.7 7.7m0 -7.7l-7.7 7.7M1365.3 128.6v5M1362.2 128.6h6.2M1362.2 133.6h6.2M1364.8 121.8l7.7 7.7m0 -7.7l-7.7 7.7M1368.7 123.1v5.1M1365.6 123.1h6.2M1365.6 128.2h6.2M1368.2 111.6l7.7 7.7m0 -7.7l-7.7 7.7M1372 112.9v5.1M1368.9 112.9h6.2M1368.9 118h6.2M1371.4 117.8l7.7 7.7m0 -7.7l-7.7 7.7M1375.3 119.1v5.2M1372.2 119.1h6.2M1372.2 124.3h6.2M1374.7 121.6l7.7 7.7m0 -7.7l-7.7 7.7M1378.5 122.8v5.2M1375.4 122.8h6.2M1375.4 128h6.2M1377.9 127.4l7.7 7.7m0 -7.7l-7.7 7.7M1381.7 128.6v5.3M1378.6 128.6h6.2M1378.6 133.9h6.2M1381.1 141.5l7.7 7.7m0 -7.7l-7.7 7.7M1384.9 142.7v5.3M1381.8 142.7h6.2M1381.8 148h6.2M1384.2 156.3l7.7 7.7m0 -7.7l-7.7 7.7M1388.1 157.5v5.4M1385 157.5h6.2M1385 162.9h6.2M1387.3 175.9l7.7 7.7m0 -7.7l-7.7 7.7M1391.2 177v5.5M1388.1 177h6.2M1388.1 182.5h6.2M1390.4 196.2l7.7 7.7m0 -7.7l-7.7 7.7M1394.3 197.3v5.5M1391.2 197.3h6.2M1391.2 202.8h6.2M1393.5 222.2l7.7 7.7m0 -7.7l-7.7 7.7M1397.3 223.2v5.6M1394.2 223.2h6.2M1394.2 228.8h6.2M1396.5 243.2l7.7 7.7m0 -7.7l-7.7 7.7M1400.3 244.3v5.6M1397.2 244.3h6.2M1397.2 249.9h6.2M1399.5 264.5l7.7 7.7m0 -7.7l-7.7 7.7M1403.3 265.5v5.7M1400.2 265.5h6.2M1400.2 271.2h6.2M1402.4 282.8l7.7 7.7m0 -7.7l-7.7 7.7M1406.3 283.8v5.7M1403.2 283.8h6.2M1403.2 289.5h6.2M1405.4 296.2l7.7 7.7m0 -7.7l-7.7 7.7M1409.2 297.2v5.8M1406.1 297.2h6.2M1406.1 303h6.2M1408.3 307.2l7.7 7.7m0 -7.7l-7.7 7.7M1412.1 308.2v5.8M1409 308.2h6.2M1409 314h6.2M1411.1 312.5l7.7 7.7m0 -7.7l-7.7 7.7M1415 313.4v5.9M1411.9 313.4h6.2M1411.9 319.3h6.2M1414 314.9l7.7 7.7m0 -7.7l-7.7 7.7M1417.8 315.8v5.9M1414.7 315.8h6.2M1414.7 321.7h6.2M1416.8 316.6l7.7 7.7m0 -7.7l-7.7 7.7M1420.7 317.4v6M1417.6 317.4h6.2M1417.6 323.4h6.2" fill="none" stroke="#009e73" stroke-width="0.85"/>
<path d="M809.6 52.7l6.4 6.4m0 -6.4l-6.4 6.4M809.1 55.9h7.4M812.8 52.7v6.4M809.7 55h6.2M809.7 56.8h6.2M838.2 62.6l6.4 6.4m0 -6.4l-6.4 6.4M837.7 65.8h7.4M841.4 62.6v6.4M838.3 64.9h6.2M838.3 66.7h6.2M853.6 61.6l6.4 6.4m0 -6.4l-6.4 6.4M853.1 64.8h7.4M856.8 61.6v6.4M853.7 63.9h6.2M853.7 65.7h6.2M872 75.9l6.4 6.4m0 -6.4l-6.4 6.4M871.5 79.1h7.4M875.2 75.9v6.4M872.1 78.2h6.2M872.1 80h6.2M887.8 80.9l6.4 6.4m0 -6.4l-6.4 6.4M887.3 84.1h7.4M891 80.9v6.4M887.9 83.2h6.2M887.9 85h6.2M905.9 88.4l6.4 6.4m0 -6.4l-6.4 6.4M905.4 91.6h7.4M909.1 88.4v6.4M906 90.7h6.2M906 92.5h6.2M920.6 97.7l6.4 6.4m0 -6.4l-6.4 6.4M920.1 100.9h7.4M923.8 97.7v6.4M920.7 100h6.2M920.7 101.8h6.2M933.6 106l6.4 6.4m0 -6.4l-6.4 6.4M933.1 109.2h7.4M936.8 106v6.4M933.7 108.3h6.2M933.7 110.1h6.2M946.4 114.8l6.4 6.4m0 -6.4l-6.4 6.4M945.9 118h7.4M949.6 114.8v6.4M946.5 117.1h6.2M946.5 118.9h6.2M961.1 123.8l6.4 6.4m0 -6.4l-6.4 6.4M960.6 127h7.4M964.3 123.8v6.4M961.2 126.1h6.2M961.2 127.9h6.2M973.5 131.6l6.4 6.4m0 -6.4l-6.4 6.4M973 134.8h7.4M976.7 131.6v6.4M973.6 133.9h6.2M973.6 135.7h6.2M985.4 138.8l6.4 6.4m0 -6.4l-6.4 6.4M984.9 142h7.4M988.6 138.8v6.4M985.5 141.1h6.2M985.5 142.9h6.2M996.9 145.5l6.4 6.4m0 -6.4l-6.4 6.4M996.4 148.7h7.4M1000.1 145.5v6.4M997 147.8h6.2M997 149.6h6.2M1007.9 152.1l6.4 6.4m0 -6.4l-6.4 6.4M1007.4 155.3h7.4M1011.1 152.1v6.4M1008 154.4h6.2M1008 156.2h6.2M1018.5 159.3l6.4 6.4m0 -6.4l-6.4 6.4M1018.1 162.5h7.4M1021.7 159.3v6.4M1018.6 161.6h6.2M1018.6 163.4h6.2M1028.8 165.9l6.4 6.4m0 -6.4l-6.4 6.4M1028.3 169.1h7.4M1032 165.9v6.4M1028.9 168.2h6.2M1028.9 170h6.2M1038.8 171.4l6.4 6.4m0 -6.4l-6.4 6.4M1038.3 174.6h7.4M1042 171.4v6.4M1038.9 173.7h6.2M1038.9 175.5h6.2M1048.4 179.2l6.4 6.4m0 -6.4l-6.4 6.4M1047.9 182.4h7.4M1051.6 179.2v6.4M1048.5 181.5h6.2M1048.5 183.3h6.2M1057.7 185l6.4 6.4m0 -6.4l-6.4 6.4M1057.3 188.2h7.4M1060.9 185v6.4M1057.8 187.3h6.2M1057.8 189.1h6.2M1066.8 190.9l6.4 6.4m0 -6.4l-6.4 6.4M1066.3 194.1h7.4M1070 190.9v6.4M1066.9 193.2h6.2M1066.9 195h6.2M1075.6 196.7l6.4 6.4m0 -6.4l-6.4 6.4M1075.1 199.9h7.4M1078.8 196.7v6.4M1075.7 199h6.2M1075.7 200.8h6.2M1084.1 201.6l6.4 6.4m0 -6.4l-6.4 6.4M1083.7 204.8h7.4M1087.3 201.6v6.4M1084.2 203.9h6.2M1084.2 205.7h6.2M1092.4 206.9l6.4 6.4m0 -6.4l-6.4 6.4M1092 210.1h7.4M1095.6 206.9v6.4M1092.5 209.2h6.2M1092.5 211h6.2M1100.5 212.6l6.4 6.4m0 -6.4l-6.4 6.4M1100.1 215.8h7.4M1103.7 212.6v6.4M1100.6 214.9h6.2M1100.6 216.7h6.2M1108.4 217.6l6.4 6.4m0 -6.4l-6.4 6.4M1107.9 220.8h7.4M1111.6 217.6v6.4M1108.5 219.9h6.2M1108.5 221.7h6.2M1116.1 221.4l6.4 6.4m0 -6.4l-6.4 6.4M1115.6 224.6h7.4M1119.3 221.4v6.4M1116.2 223.7h6.2M1116.2 225.5h6.2M1123.6 225.6l6.4 6.4m0 -6.4l-6.4 6.4M1123.1 228.8h7.4M1126.8 225.6v6.4M1123.7 227.9h6.2M1123.7 229.7h6.2M1130.9 230.4l6.4 6.4m0 -6.4l-6.4 6.4M1130.4 233.6h7.4M1134.1 230.4v6.4M1131 232.7h6.2M1131 234.5h6.2M1138 234.3l6.4 6.4m0 -6.4l-6.4 6.4M1137.6 237.5h7.4M1141.2 234.3v6.4M1138.1 236.6h6.2M1138.1 238.4h6.2M1145 238.3l6.4 6.4m0 -6.4l-6.4 6.4M1144.5 241.5h7.4M1148.2 238.3v6.4M1145.1 240.5h6.2M1145.1 242.4h6.2M1151.8 242.5l6.4 6.4m0 -6.4l-6.4 6.4M1151.4 245.7h7.4M1155 242.5v6.4M1151.9 244.7h6.2M1151.9 246.6h6.2M1158.5 245.6l6.4 6.4m0 -6.4l-6.4 6.4M1158 248.8h7.4M1161.7 245.6v6.4M1158.6 247.8h6.2M1158.6 249.7h6.2M1165 249.9l6.4 6.4m0 -6.4l-6.4 6.4M1164.6 253.1h7.4M1168.2 249.9v6.4M1165.1 252.1h6.2M1165.1 254h6.2M1171.4 252.6l6.4 6.4m0 -6.4l-6.4 6.4M1170.9 255.8h7.4M1174.6 252.6v6.4M1171.5 254.8h6.2M1171.5 256.8h6.2M1177.7 255.2l6.4 6.4m0 -6.4l-6.4 6.4M1177.2 258.4h7.4M1180.9 255.2v6.4M1177.8 257.4h6.2M1177.8 259.4h6.2M1183.8 258.4l6.4 6.4m0 -6.4l-6.4 6.4M1183.3 261.6h7.4M1187 258.4v6.4M1183.9 260.5h6.2M1183.9 262.6h6.2M1189.8 259.9l6.4 6.4m0 -6.4l-6.4 6.4M1189.3 263.1h7.4M1193 259.9v6.4M1189.9 262.1h6.2M1189.9 264.2h6.2M1195.7 261.6l6.4 6.4m0 -6.4l-6.4 6.4M1195.2 264.8h7.4M1198.9 261.6v6.4M1195.8 263.8h6.2M1195.8 265.9h6.2M1201.5 262.4l6.4 6.4m0 -6.4l-6.4 6.4M1201 265.6h7.4M1204.7 262.4v6.4M1201.6 264.5h6.2M1201.6 266.7h6.2M1207.2 263.3l6.4 6.4m0 -6.4l-6.4 6.4M1206.7 266.5h7.4M1210.4 263.3v6.4M1207.3 265.4h6.2M1207.3 267.7h6.2M1212.7 264.4l6.4 6.4m0 -6.4l-6.4 6.4M1212.2 267.6h7.4M1215.9 264.4v6.4M1212.8 266.4h6.2M1212.8 268.7h6.2M1218.2 265l6.4 6.4m0 -6.4l-6.4 6.4M1217.7 268.2h7.4M1221.4 265v6.4M1218.3 267h6.2M1218.3 269.4h6.2M1223.6 266l6.4 6.4m0 -6.4l-6.4 6.4M1223.1 269.2h7.4M1226.8 266v6.4M1223.7 268h6.2M1223.7 270.4h6.2M1228.8 266.7l6.4 6.4m0 -6.4l-6.4 6.4M1228.4 269.9h7.4M1232 266.7v6.4M1228.9 268.7h6.2M1228.9 271.2h6.2M1234 268.5l6.4 6.4m0 -6.4l-6.4 6.4M1233.5 271.7h7.4M1237.2 268.5v6.4M1234.1 270.4h6.2M1234.1 272.9h6.2M1239.1 269.5l6.4 6.4m0 -6.4l-6.4 6.4M1238.6 272.7h7.4M1242.3 269.5v6.4M1239.2 271.4h6.2M1239.2 274h6.2M1244.1 270.1l6.4 6.4m0 -6.4l-6.4 6.4M1243.7 273.3h7.4M1247.3 270.1v6.4M1244.2 272h6.2M1244.2 274.6h6.2M1249.1 268.1l6.4 6.4m0 -6.4l-6.4 6.4M1248.6 271.3h7.4M1252.3 268.1v6.4M1249.2 270h6.2M1249.2 272.6h6.2M1253.9 267.6l6.4 6.4m0 -6.4l-6.4 6.4M1253.4 270.8h7.4M1257.1 267.6v6.4M1254 269.5h6.2M1254 272.1h6.2M1258.7 267.8l6.4 6.4m0 -6.4l-6.4 6.4M1258.2 271h7.4M1261.9 267.8v6.4M1258.8 269.7h6.2M1258.8 272.3h6.2M1263.4 268.1l6.4 6.4m0 -6.4l-6.4 6.4M1262.9 271.3h7.4M1266.6 268.1v6.4M1263.5 269.9h6.2M1263.5 272.7h6.2M1268 267.6l6.4 6.4m0 -6.4l-6.4 6.4M1267.6 270.8h7.4M1271.2 267.6v6.4M1268.1 269.4h6.2M1268.1 272.1h6.2M1272.6 266.7l6.4 6.4m0 -6.4l-6.4 6.4M1272.1 269.9h7.4M1275.8 266.7v6.4M1272.7 268.5h6.2M1272.7 271.3h6.2M1277.1 265.8l6.4 6.4m0 -6.4l-6.4 6.4M1276.6 269h7.4M1280.3 265.8v6.4M1277.2 267.6h6.2M1277.2 270.4h6.2M1281.5 264.7l6.4 6.4m0 -6.4l-6.4 6.4M1281 267.9h7.4M1284.7 264.7v6.4M1281.6 266.5h6.2M1281.6 269.4h6.2M1285.9 263.3l6.4 6.4m0 -6.4l-6.4 6.4M1285.4 266.5h7.4M1289.1 263.3v6.4M1286 265.1h6.2M1286 268h6.2M1290.2 262.3l6.4 6.4m0 -6.4l-6.4 6.4M1289.7 265.5h7.4M1293.4 262.3v6.4M1290.3 264h6.2M1290.3 266.9h6.2M1294.4 261.5l6.4 6.4m0 -6.4l-6.4 6.4M1294 264.7h7.4M1297.6 261.5v6.4M1294.5 263.2h6.2M1294.5 266.3h6.2M1298.6 260.3l6.4 6.4m0 -6.4l-6.4 6.4M1298.1 263.5h7.4M1301.8 260.3v6.4M1298.7 262h6.2M1298.7 265h6.2M1302.7 258l6.4 6.4m0 -6.4l-6.4 6.4M1302.3 261.2h7.4M1305.9 258v6.4M1302.8 259.7h6.2M1302.8 262.8h6.2M1306.8 255.7l6.4 6.4m0 -6.4l-6.4 6.4M1306.3 258.9h7.4M1310 255.7v6.4M1306.9 257.3h6.2M1306.9 260.4h6.2M1310.8 251.4l6.4 6.4m0 -6.4l-6.4 6.4M1310.4 254.6h7.4M1314 251.4v6.4M1310.9 253.1h6.2M1310.9 256.2h6.2M1314.8 244.8l6.4 6.4m0 -6.4l-6.4 6.4M1314.3 248h7.4M1318 244.8v6.4M1314.9 246.4h6.2M1314.9 249.6h6.2M1318.7 237.4l6.4 6.4m0 -6.4l-6.4 6.4M1318.2 240.6h7.4M1321.9 237.4v6.4M1318.8 239h6.2M1318.8 242.2h6.2M1322.6 228.5l6.4 6.4m0 -6.4l-6.4 6.4M1322.1 231.7h7.4M1325.8 228.5v6.4M1322.7 230.1h6.2M1322.7 233.4h6.2M1326.4 220.3l6.4 6.4m0 -6.4l-6.4 6.4M1325.9 223.5h7.4M1329.6 220.3v6.4M1326.5 221.9h6.2M1326.5 225.2h6.2M1330.2 209.9l6.4 6.4m0 -6.4l-6.4 6.4M1329.7 213.1h7.4M1333.4 209.9v6.4M1330.3 211.4h6.2M1330.3 214.8h6.2M1333.9 199l6.4 6.4m0 -6.4l-6.4 6.4M1333.4 202.2h7.4M1337.1 199v6.4M1334 200.5h6.2M1334 203.9h6.2M1337.6 188.6l6.4 6.4m0 -6.4l-6.4 6.4M1337.1 191.8h7.4M1340.8 188.6v6.4M1337.7 190.1h6.2M1337.7 193.5h6.2M1341.2 177.1l6.4 6.4m0 -6.4l-6.4 6.4M1340.7 180.3h7.4M1344.4 177.1v6.4M1341.3 178.6h6.2M1341.3 182.1h6.2M1344.8 165.1l6.4 6.4m0 -6.4l-6.4 6.4M1344.3 168.3h7.4M1348 165.1v6.4M1344.9 166.6h6.2M1344.9 170.1h6.2M1348.3 154l6.4 6.4m0 -6.4l-6.4 6.4M1347.9 157.2h7.4M1351.5 154v6.4M1348.4 155.4h6.2M1348.4 158.9h6.2M1351.9 144.3l6.4 6.4m0 -6.4l-6.4 6.4M1351.4 147.5h7.4M1355.1 144.3v6.4M1352 145.6h6.2M1352 149.3h6.2M1355.3 132.3l6.4 6.4m0 -6.4l-6.4 6.4M1354.8 135.5h7.4M1358.5 132.3v6.4M1355.4 133.7h6.2M1355.4 137.3h6.2M1358.7 124.3l6.4 6.4m0 -6.4l-6.4 6.4M1358.3 127.5h7.4M1361.9 124.3v6.4M1358.8 125.7h6.2M1358.8 129.3h6.2M1362.1 125.1l6.4 6.4m0 -6.4l-6.4 6.4M1361.7 128.3h7.4M1365.3 125.1v6.4M1362.2 126.4h6.2M1362.2 130.2h6.2M1365.5 123.5l6.4 6.4m0 -6.4l-6.4 6.4M1365 126.7h7.4M1368.7 123.5v6.4M1365.6 124.9h6.2M1365.6 128.6h6.2M1368.8 124.7l6.4 6.4m0 -6.4l-6.4 6.4M1368.3 127.9h7.4M1372 124.7v6.4M1368.9 126h6.2M1368.9 129.8h6.2M1372.1 135.9l6.4 6.4m0 -6.4l-6.4 6.4M1371.6 139.1h7.4M1375.3 135.9v6.4M1372.2 137.2h6.2M1372.2 141.1h6.2M1375.3 151.3l6.4 6.4m0 -6.4l-6.4 6.4M1374.9 154.5h7.4M1378.5 151.3v6.4M1375.4 152.5h6.2M1375.4 156.4h6.2M1378.5 167.4l6.4 6.4m0 -6.4l-6.4 6.4M1378.1 170.6h7.4M1381.7 167.4v6.4M1378.6 168.7h6.2M1378.6 172.6h6.2M1381.7 190.3l6.4 6.4m0 -6.4l-6.4 6.4M1381.2 193.5h7.4M1384.9 190.3v6.4M1381.8 191.5h6.2M1381.8 195.5h6.2M1384.9 208.7l6.4 6.4m0 -6.4l-6.4 6.4M1384.4 211.9h7.4M1388.1 208.7v6.4M1385 209.9h6.2M1385 213.9h6.2M1388 223.6l6.4 6.4m0 -6.4l-6.4 6.4M1387.5 226.8h7.4M1391.2 223.6v6.4M1388.1 224.8h6.2M1388.1 228.9h6.2M1391.1 244.3l6.4 6.4m0 -6.4l-6.4 6.4M1390.6 247.5h7.4M1394.3 244.3v6.4M1391.2 245.4h6.2M1391.2 249.5h6.2M1394.1 268.5l6.4 6.4m0 -6.4l-6.4 6.4M1393.6 271.7h7.4M1397.3 268.5v6.4M1394.2 269.6h6.2M1394.2 273.7h6.2M1397.1 283.5l6.4 6.4m0 -6.4l-6.4 6.4M1396.6 286.7h7.4M1400.3 283.5v6.4M1397.2 284.6h6.2M1397.2 288.8h6.2M1400.1 296l6.4 6.4m0 -6.4l-6.4 6.4M1399.6 299.2h7.4M1403.3 296v6.4M1400.2 297.1h6.2M1400.2 301.3h6.2M1403.1 305.3l6.4 6.4m0 -6.4l-6.4 6.4M1402.6 308.5h7.4M1406.3 305.3v6.4M1403.2 306.4h6.2M1403.2 310.6h6.2M1406 312.5l6.4 6.4m0 -6.4l-6.4 6.4M1405.5 315.7h7.4M1409.2 312.5v6.4M1406.1 313.6h6.2M1406.1 317.9h6.2M1408.9 316.5l6.4 6.4m0 -6.4l-6.4 6.4M1408.4 319.7h7.4M1412.1 316.5v6.4M1409 317.5h6.2M1409 321.8h6.2M1411.8 318.5l6.4 6.4m0 -6.4l-6.4 6.4M1411.3 321.7h7.4M1415 318.5v6.4M1411.9 319.5h6.2M1411.9 323.9h6.2M1414.6 318.4l6.4 6.4m0 -6.4l-6.4 6.4M1414.2 321.6h7.4M1417.8 318.4v6.4M1414.7 319.4h6.2M1414.7 323.8h6.2M1417.5 317.4l6.4 6.4m0 -6.4l-6.4 6.4M1417 320.6h7.4M1420.7 317.4v6.4M1417.6 318.4h6.2M1417.6 322.8h6.2" fill="none" stroke="#56b4e9" stroke-width="0.77"/>
<path d="M808.7 47.6h8.3v8.3h-8.3zM809.3 51.1h7M809.3 52.5h7M812.8 51.1v1.4M837.3 58.6h8.3v8.3h-8.3zM837.9 62h7M837.9 63.4h7M841.4 62v1.4M852.7 59.2h8.3v8.3h-8.3zM853.3 62.6h7M853.3 64h7M856.8 62.6v1.4M871.1 71.5h8.3v8.3h-8.3zM871.7 75h7M871.7 76.4h7M875.2 75v1.4M886.9 76.9h8.3v8.3h-8.3zM887.5 80.3h7M887.5 81.7h7M891 80.3v1.4M905 85.9h8.3v8.3h-8.3zM905.6 89.4h7M905.6 90.8h7M909.1 89.4v1.4M919.7 94.2h8.3v8.3h-8.3zM920.3 97.7h7M920.3 99.1h7M923.8 97.7v1.4M932.7 102.6h8.3v8.3h-8.3zM933.3 106.1h7M933.3 107.5h7M936.8 106.1v1.4M945.5 110.8h8.3v8.3h-8.3zM946.1 114.2h7M946.1 115.6h7M949.6 114.2v1.4M960.2 121h8.3v8.3h-8.3zM960.8 124.5h7M960.8 125.9h7M964.3 124.5v1.4M972.6 127.6h8.3v8.3h-8.3zM973.2 131h7M973.2 132.4h7M976.7 131v1.4M984.5 134.3h8.3v8.3h-8.3zM985.1 137.8h7M985.1 139.2h7M988.6 137.8v1.4M995.9 141.8h8.3v8.3h-8.3zM996.6 145.2h7M996.6 146.6h7M1000.1 145.2v1.4M1006.9 149.4h8.3v8.3h-8.3zM1007.6 152.8h7M1007.6 154.2h7M1011.1 152.8v1.4M1017.6 154.2h8.3v8.3h-8.3zM1018.3 157.6h7M1018.3 159h7M1021.7 157.6v1.4M1027.9 160.9h8.3v8.3h-8.3zM1028.5 164.3h7M1028.5 165.7h7M1032 164.3v1.4M1037.8 167.3h8.3v8.3h-8.3zM1038.5 170.8h7M1038.5 172.2h7M1042 170.8v1.4M1047.5 174.1h8.3v8.3h-8.3zM1048.1 177.5h7M1048.1 178.9h7M1051.6 177.5v1.4M1056.8 179.3h8.3v8.3h-8.3zM1057.5 182.7h7M1057.5 184.1h7M1060.9 182.7v1.4M1065.9 185.9h8.3v8.3h-8.3zM1066.5 189.3h7M1066.5 190.7h7M1070 189.3v1.4M1074.6 190.2h8.3v8.3h-8.3zM1075.3 193.6h7M1075.3 195h7M1078.8 193.6v1.4M1083.2 195.2h8.3v8.3h-8.3zM1083.9 198.6h7M1083.9 200h7M1087.3 198.6v1.4M1091.5 200.1h8.3v8.3h-8.3zM1092.2 203.6h7M1092.2 205h7M1095.6 203.6v1.4M1099.6 205.2h8.3v8.3h-8.3zM1100.3 208.6h7M1100.3 210h7M1103.7 208.6v1.4M1107.5 208.5h8.3v8.3h-8.3zM1108.1 212h7M1108.1 213.4h7M1111.6 212v1.4M1115.2 212.3h8.3v8.3h-8.3zM1115.8 215.8h7M1115.8 217.2h7M1119.3 215.8v1.4M1122.7 216.6h8.3v8.3h-8.3zM1123.3 220h7M1123.3 221.4h7M1126.8 220v1.4M1130 220.9h8.3v8.3h-8.3zM1130.6 224.3h7M1130.6 225.8h7M1134.1 224.3v1.4M1137.1 224.1h8.3v8.3h-8.3zM1137.8 227.5h7M1137.8 229h7M1141.2 227.5v1.5M1144.1 227.5h8.3v8.3h-8.3zM1144.7 230.9h7M1144.7 232.4h7M1148.2 230.9v1.5M1150.9 230.7h8.3v8.3h-8.3zM1151.6 234.1h7M1151.6 235.6h7M1155 234.1v1.5M1157.6 233.4h8.3v8.3h-8.3zM1158.2 236.8h7M1158.2 238.3h7M1161.7 236.8v1.5M1164.1 234.8h8.3v8.3h-8.3zM1164.8 238.2h7M1164.8 239.8h7M1168.2 238.2v1.6M1170.5 237.5h8.3v8.3h-8.3zM1171.1 240.9h7M1171.1 242.5h7M1174.6 240.9v1.6M1176.7 239.9h8.3v8.3h-8.3zM1177.4 243.3h7M1177.4 244.9h7M1180.9 243.3v1.6M1182.9 241.8h8.3v8.3h-8.3zM1183.5 245.1h7M1183.5 246.7h7M1187 245.1v1.6M1188.9 243h8.3v8.3h-8.3zM1189.5 246.3h7M1189.5 248h7M1193 246.3v1.7M1194.8 244.1h8.3v8.3h-8.3zM1195.4 247.4h7M1195.4 249.1h7M1198.9 247.4v1.7M1200.5 244.2h8.3v8.3h-8.3zM1201.2 247.4h7M1201.2 249.2h7M1204.7 247.4v1.7M1206.2 243.7h8.3v8.3h-8.3zM1206.9 247h7M1206.9 248.7h7M1210.4 247v1.7M1211.8 245.6h8.3v8.3h-8.3zM1212.4 248.8h7M1212.4 250.6h7M1215.9 248.8v1.8M1217.2 247h8.3v8.3h-8.3zM1217.9 250.3h7M1217.9 252h7M1221.4 250.3v1.8M1222.6 244.9h8.3v8.3h-8.3zM1223.3 248.2h7M1223.3 250h7M1226.8 248.2v1.8M1227.9 245.1h8.3v8.3h-8.3zM1228.6 248.4h7M1228.6 250.2h7M1232 248.4v1.8M1233.1 246.5h8.3v8.3h-8.3zM1233.7 249.7h7M1233.7 251.6h7M1237.2 249.7v1.9M1238.2 247.6h8.3v8.3h-8.3zM1238.8 250.8h7M1238.8 252.6h7M1242.3 250.8v1.9M1243.2 246.6h8.3v8.3h-8.3zM1243.9 249.7h7M1243.9 251.7h7M1247.3 249.7v1.9M1248.1 246.3h8.3v8.3h-8.3zM1248.8 249.5h7M1248.8 251.4h7M1252.3 249.5v1.9M1253 244.6h8.3v8.3h-8.3zM1253.6 247.7h7M1253.6 249.7h7M1257.1 247.7v2M1257.8 243.2h8.3v8.3h-8.3zM1258.4 246.3h7M1258.4 248.3h7M1261.9 246.3v2M1262.5 241.7h8.3v8.3h-8.3zM1263.1 244.8h7M1263.1 246.8h7M1266.6 244.8v2M1267.1 239.5h8.3v8.3h-8.3zM1267.8 242.6h7M1267.8 244.6h7M1271.2 242.6v2M1271.7 237.2h8.3v8.3h-8.3zM1272.3 240.3h7M1272.3 242.4h7M1275.8 240.3v2.1M1276.2 235.5h8.3v8.3h-8.3zM1276.8 238.6h7M1276.8 240.7h7M1280.3 238.6v2.1M1280.6 233.3h8.3v8.3h-8.3zM1281.2 236.4h7M1281.2 238.5h7M1284.7 236.4v2.1M1284.9 230.1h8.3v8.3h-8.3zM1285.6 233.2h7M1285.6 235.3h7M1289.1 233.2v2.1M1289.3 227.5h8.3v8.3h-8.3zM1289.9 230.6h7M1289.9 232.7h7M1293.4 230.6v2.2M1293.5 224.3h8.3v8.3h-8.3zM1294.2 227.3h7M1294.2 229.5h7M1297.6 227.3v2.2M1297.7 221.8h8.3v8.3h-8.3zM1298.3 224.8h7M1298.3 227h7M1301.8 224.8v2.2M1301.8 219h8.3v8.3h-8.3zM1302.5 222h7M1302.5 224.3h7M1305.9 222v2.2M1305.9 214.3h8.3v8.3h-8.3zM1306.5 217.3h7M1306.5 219.6h7M1310 217.3v2.3M1309.9 210.2h8.3v8.3h-8.3zM1310.6 213.2h7M1310.6 215.5h7M1314 213.2v2.3M1313.9 205.2h8.3v8.3h-8.3zM1314.5 208.2h7M1314.5 210.5h7M1318 208.2v2.3M1317.8 198.8h8.3v8.3h-8.3zM1318.4 201.8h7M1318.4 204.1h7M1321.9 201.8v2.3M1321.6 192.6h8.3v8.3h-8.3zM1322.3 195.5h7M1322.3 197.9h7M1325.8 195.5v2.3M1325.5 187.7h8.3v8.3h-8.3zM1326.1 190.6h7M1326.1 193h7M1329.6 190.6v2.4M1329.2 182.5h8.3v8.3h-8.3zM1329.9 185.4h7M1329.9 187.8h7M1333.4 185.4v2.4M1333 177.5h8.3v8.3h-8.3zM1333.6 180.4h7M1333.6 182.8h7M1337.1 180.4v2.4M1336.6 174.2h8.3v8.3h-8.3zM1337.3 177.1h7M1337.3 179.5h7M1340.8 177.1v2.4M1340.3 172.6h8.3v8.3h-8.3zM1340.9 175.5h7M1340.9 178h7M1344.4 175.5v2.5M1343.9 171.2h8.3v8.3h-8.3zM1344.5 174.1h7M1344.5 176.5h7M1348 174.1v2.5M1347.4 170.6h8.3v8.3h-8.3zM1348.1 173.4h7M1348.1 176h7M1351.5 173.4v2.5M1350.9 171.6h8.3v8.3h-8.3zM1351.6 174.4h7M1351.6 177h7M1355.1 174.4v2.5M1354.4 174h8.3v8.3h-8.3zM1355 176.8h7M1355 179.4h7M1358.5 176.8v2.6M1357.8 179.1h8.3v8.3h-8.3zM1358.5 181.9h7M1358.5 184.5h7M1361.9 181.9v2.6M1361.2 187.9h8.3v8.3h-8.3zM1361.9 190.7h7M1361.9 193.3h7M1365.3 190.7v2.6M1364.5 198.3h8.3v8.3h-8.3zM1365.2 201.1h7M1365.2 203.7h7M1368.7 201.1v2.6M1367.9 206.3h8.3v8.3h-8.3zM1368.5 209.1h7M1368.5 211.7h7M1372 209.1v2.6M1371.1 216.3h8.3v8.3h-8.3zM1371.8 219.1h7M1371.8 221.8h7M1375.3 219.1v2.7M1374.4 234.4h8.3v8.3h-8.3zM1375.1 237.2h7M1375.1 239.9h7M1378.5 237.2v2.7M1377.6 249.8h8.3v8.3h-8.3zM1378.3 252.6h7M1378.3 255.3h7M1381.7 252.6v2.7M1380.8 266.2h8.3v8.3h-8.3zM1381.4 269h7M1381.4 271.7h7M1384.9 269v2.7M1383.9 281.2h8.3v8.3h-8.3zM1384.6 284h7M1384.6 286.7h7M1388.1 284v2.8M1387 297.2h8.3v8.3h-8.3zM1387.7 299.9h7M1387.7 302.7h7M1391.2 299.9v2.8M1390.1 312.6h8.3v8.3h-8.3zM1390.8 315.3h7M1390.8 318.1h7M1394.3 315.3v2.8M1393.2 330h8.3v8.3h-8.3zM1393.8 332.7h7M1393.8 335.5h7M1397.3 332.7v2.8M1396.2 346.4h8.3v8.3h-8.3zM1396.8 349.1h7M1396.8 352h7M1400.3 349.1v2.8M1399.2 361.3h8.3v8.3h-8.3zM1399.8 364h7M1399.8 366.9h7M1403.3 364v2.9M1402.1 379.5h8.3v8.3h-8.3zM1402.8 382.2h7M1402.8 385.1h7M1406.3 382.2v2.9M1405.1 398.7h8.3v8.3h-8.3zM1405.7 401.3h7M1405.7 404.3h7M1409.2 401.3v2.9M1408 414.9h8.3v8.3h-8.3zM1408.6 417.6h7M1408.6 420.5h7M1412.1 417.6v2.9M1410.8 433.3h8.3v8.3h-8.3zM1411.5 436h7M1411.5 439h7M1415 436v3M1413.7 453.3h8.3v8.3h-8.3zM1414.4 455.9h7M1414.4 458.9h7M1417.8 455.9v3M1416.5 475.4h8.3v8.3h-8.3zM1417.2 478h7M1417.2 481h7M1420.7 478v3" fill="none" stroke="#e69f00" stroke-width="0.85"/>
<path d="M808.7 39.9h8.3v8.3h-8.3zM837.3 48.7h8.3v8.3h-8.3zM852.7 51.9h8.3v8.3h-8.3zM871.1 60.1h8.3v8.3h-8.3zM886.9 66.9h8.3v8.3h-8.3zM905 75.9h8.3v8.3h-8.3zM919.7 84.2h8.3v8.3h-8.3zM932.7 92.6h8.3v8.3h-8.3zM945.5 100.1h8.3v8.3h-8.3zM960.2 108.7h8.3v8.3h-8.3zM972.6 115.9h8.3v8.3h-8.3zM984.5 122.7h8.3v8.3h-8.3zM995.9 128.8h8.3v8.3h-8.3zM1006.9 135.4h8.3v8.3h-8.3zM1017.6 141.6h8.3v8.3h-8.3zM1027.9 147.6h8.3v8.3h-8.3zM1037.8 152.4h8.3v8.3h-8.3zM1047.5 157.5h8.3v8.3h-8.3zM1056.8 162h8.3v8.3h-8.3zM1065.9 166.9h8.3v8.3h-8.3zM1074.6 172.6h8.3v8.3h-8.3zM1083.2 177.6h8.3v8.3h-8.3zM1091.5 180.8h8.3v8.3h-8.3zM1099.6 184.2h8.3v8.3h-8.3zM1107.5 186.8h8.3v8.3h-8.3zM1115.2 189h8.3v8.3h-8.3zM1122.7 191.7h8.3v8.3h-8.3zM1130 193.6h8.3v8.3h-8.3zM1137.1 195.2h8.3v8.3h-8.3zM1144.1 195.9h8.3v8.3h-8.3zM1150.9 196.8h8.3v8.3h-8.3zM1157.6 197.5h8.3v8.3h-8.3zM1164.1 197.9h8.3v8.3h-8.3zM1170.5 198.2h8.3v8.3h-8.3zM1176.7 198.2h8.3v8.3h-8.3zM1182.9 196.9h8.3v8.3h-8.3zM1188.9 196h8.3v8.3h-8.3zM1194.8 195.3h8.3v8.3h-8.3zM1200.5 193.9h8.3v8.3h-8.3zM1206.2 192.2h8.3v8.3h-8.3zM1211.8 190.3h8.3v8.3h-8.3zM1217.2 189.9h8.3v8.3h-8.3zM1222.6 189.6h8.3v8.3h-8.3zM1227.9 189.9h8.3v8.3h-8.3zM1233.1 188.2h8.3v8.3h-8.3zM1238.2 186.9h8.3v8.3h-8.3zM1243.2 186.6h8.3v8.3h-8.3zM1248.1 186.9h8.3v8.3h-8.3zM1253 186.7h8.3v8.3h-8.3zM1257.8 186.9h8.3v8.3h-8.3zM1262.5 187.5h8.3v8.3h-8.3zM1267.1 188.9h8.3v8.3h-8.3zM1271.7 189.1h8.3v8.3h-8.3zM1276.2 188.9h8.3v8.3h-8.3zM1280.6 187.9h8.3v8.3h-8.3zM1284.9 185.9h8.3v8.3h-8.3zM1289.3 184.1h8.3v8.3h-8.3zM1293.5 183.4h8.3v8.3h-8.3zM1297.7 182.6h8.3v8.3h-8.3zM1301.8 181h8.3v8.3h-8.3zM1305.9 180.6h8.3v8.3h-8.3zM1309.9 180.9h8.3v8.3h-8.3zM1313.9 183.4h8.3v8.3h-8.3zM1317.8 188.8h8.3v8.3h-8.3zM1321.6 194.1h8.3v8.3h-8.3zM1325.5 199.9h8.3v8.3h-8.3zM1329.2 206.8h8.3v8.3h-8.3zM1333 216.9h8.3v8.3h-8.3zM1336.6 230h8.3v8.3h-8.3zM1340.3 242.2h8.3v8.3h-8.3zM1343.9 255.8h8.3v8.3h-8.3zM1347.4 270.9h8.3v8.3h-8.3zM1350.9 289.2h8.3v8.3h-8.3zM1354.4 307.3h8.3v8.3h-8.3zM1357.8 327.1h8.3v8.3h-8.3zM1361.2 345.4h8.3v8.3h-8.3zM1364.5 365.5h8.3v8.3h-8.3zM1367.9 387.6h8.3v8.3h-8.3zM1371.1 406.1h8.3v8.3h-8.3zM1374.4 423.3h8.3v8.3h-8.3zM1377.6 443.7h8.3v8.3h-8.3zM1380.8 461.9h8.3v8.3h-8.3zM1383.9 481.2h8.3v8.3h-8.3zM1387 498.8h8.3v8.3h-8.3zM1390.1 516.9h8.3v8.3h-8.3zM1393.2 534.1h8.3v8.3h-8.3zM1396.2 552h8.3v8.3h-8.3zM1399.2 570.7h8.3v8.3h-8.3z" fill="#f0e442"/>
<path d="M812.8 -0.9l4.4 7.4h-8.8zM841.4 5.2l4.4 7.4h-8.8zM856.8 10.1l4.4 7.4h-8.8zM875.2 17.3l4.4 7.4h-8.8zM891 22.4l4.4 7.4h-8.8zM909.1 28.4l4.4 7.4h-8.8zM923.8 35.1l4.4 7.4h-8.8zM936.8 41.1l4.4 7.4h-8.8zM949.6 47.3l4.4 7.4h-8.8zM964.3 55.2l4.4 7.4h-8.8zM976.7 60.1l4.4 7.4h-8.8zM988.6 65.2l4.4 7.4h-8.8zM1000.1 71.3l4.4 7.4h-8.8zM1011.1 76.3l4.4 7.4h-8.8zM1021.7 80.8l4.4 7.4h-8.8zM1032 84.4l4.4 7.4h-8.8zM1042 89.3l4.4 7.4h-8.8zM1051.6 91.8l4.4 7.4h-8.8zM1060.9 94.5l4.4 7.4h-8.8zM1070 97.8l4.4 7.4h-8.8zM1078.8 100.1l4.4 7.4h-8.8zM1087.3 102.4l4.4 7.4h-8.8zM1095.6 104.1l4.4 7.4h-8.8zM1103.7 105.1l4.4 7.4h-8.8zM1111.6 105.8l4.4 7.4h-8.8zM1119.3 106.1l4.4 7.4h-8.8zM1126.8 105.1l4.4 7.4h-8.8zM1134.1 104.4l4.4 7.4h-8.8zM1141.2 104.1l4.4 7.4h-8.8zM1148.2 103.4l4.4 7.4h-8.8zM1155 102.4l4.4 7.4h-8.8zM1161.7 101.8l4.4 7.4h-8.8zM1168.2 101.1l4.4 7.4h-8.8zM1174.6 100.8l4.4 7.4h-8.8zM1180.9 100.4l4.4 7.4h-8.8zM1187 100.4l4.4 7.4h-8.8zM1193 101l4.4 7.4h-8.8zM1198.9 102.2l4.4 7.4h-8.8zM1204.7 103.8l4.4 7.4h-8.8zM1210.4 105.7l4.4 7.4h-8.8zM1215.9 108.6l4.4 7.4h-8.8zM1221.4 111.7l4.4 7.4h-8.8zM1226.8 116.9l4.4 7.4h-8.8zM1232 121.5l4.4 7.4h-8.8zM1237.2 127.3l4.4 7.4h-8.8zM1242.3 132.4l4.4 7.4h-8.8zM1247.3 139.4l4.4 7.4h-8.8zM1252.3 148.3l4.4 7.4h-8.8zM1257.1 155.8l4.4 7.4h-8.8zM1261.9 166.5l4.4 7.4h-8.8zM1266.6 177.5l4.4 7.4h-8.8zM1271.2 188.7l4.4 7.4h-8.8zM1275.8 203.9l4.4 7.4h-8.8zM1280.3 218.1l4.4 7.4h-8.8zM1284.7 236.8l4.4 7.4h-8.8zM1289.1 255.2l4.4 7.4h-8.8zM1293.4 275.7l4.4 7.4h-8.8zM1297.6 294.8l4.4 7.4h-8.8zM1301.8 317.8l4.4 7.4h-8.8zM1305.9 342.4l4.4 7.4h-8.8zM1310 365.7l4.4 7.4h-8.8zM1314 391.4l4.4 7.4h-8.8zM1318 415.5l4.4 7.4h-8.8zM1321.9 441.5l4.4 7.4h-8.8zM1325.8 468l4.4 7.4h-8.8zM1329.6 492.3l4.4 7.4h-8.8zM1333.4 515.7l4.4 7.4h-8.8zM1337.1 537.4l4.4 7.4h-8.8zM1340.8 560l4.4 7.4h-8.8z" fill="#000" fill-opacity=".03" stroke="#000" stroke-width="0.61"/>
<path d="M809.6 4.9h6.3M838.2 10.9h6.3M853.6 15.9h6.3M872 23.1h6.3M887.8 28.1h6.3M905.9 34.2h6.3M920.6 40.9h6.3M933.6 46.9h6.3M946.4 53.1h6.3M961.2 61h6.3M973.5 65.8h6.3M985.4 71h6.3M996.9 77h6.3M1007.9 82h6.3M1018.6 86.6h6.3M1028.9 90.1h6.3M1038.8 95h6.3M1048.4 97.5h6.3M1057.8 100.2h6.3M1066.8 103.5h6.3M1075.6 105.9h6.3M1084.2 108.1h6.3M1092.5 109.8h6.3M1100.6 110.8h6.3M1108.5 111.5h6.3M1116.1 111.8h6.3M1123.6 110.9h6.3M1131 110.1h6.3M1138.1 109.8h6.3M1145.1 109.1h6.3M1151.9 108.2h6.3M1158.6 107.6h6.3M1165.1 106.8h6.3M1171.5 106.5h6.3M1177.7 106.1h6.3M1183.8 106.1h6.3M1189.9 106.7h6.3M1195.7 107.9h6.3M1201.5 109.5h6.3M1207.2 111.4h6.3M1212.8 114.4h6.3M1218.2 117.5h6.3M1223.6 122.6h6.3M1228.9 127.3h6.3M1234.1 133.1h6.3M1239.2 138.2h6.3M1244.2 145.2h6.3M1249.1 154.1h6.3M1254 161.5h6.3M1258.7 172.3h6.3M1263.5 183.2h6.3M1268.1 194.5h6.3M1272.6 209.6h6.3M1277.1 223.8h6.3M1281.6 242.6h6.3M1285.9 260.9h6.3M1290.2 281.4h6.3M1294.5 300.5h6.3M1298.7 323.6h6.3M1302.8 348.1h6.3M1306.9 371.5h6.3M1310.9 397.1h6.3M1314.9 421.3h6.3M1318.8 447.2h6.3M1322.6 473.8h6.3M1326.4 498h6.3M1330.2 521.5h6.3M1333.9 543.1h6.3M1337.6 565.8h6.3M812.8 0.6v5.8M841.4 6.7v5.8M856.8 11.6v5.8M875.2 18.8v5.8M891 23.9v5.8M909.1 29.9v5.8M923.8 36.6v5.8M936.8 42.6v5.8M949.6 48.8v5.8M964.3 56.7v5.8M976.7 61.6v5.8M988.6 66.7v5.8M1000.1 72.7v5.8M1011.1 77.7v5.8M1021.7 82.3v5.8M1032 85.9v5.8M1042 90.7v5.8M1051.6 93.2v5.8M1060.9 95.9v5.8M1070 99.3v5.8M1078.8 101.6v5.8M1087.3 103.9v5.8M1095.6 105.5v5.8M1103.7 106.6v5.8M1111.6 107.3v5.8M1119.3 107.6v5.8M1126.8 106.6v5.8M1134.1 105.8v5.8M1141.2 105.6v5.8M1148.2 104.9v5.8M1155 103.9v5.8M1161.7 103.3v5.8M1168.2 102.6v5.8M1174.6 102.3v5.8M1180.9 101.9v5.8M1187 101.9v5.8M1193 102.5v5.8M1198.9 103.7v5.8M1204.7 105.2v5.8M1210.4 107.2v5.8M1215.9 110.1v5.8M1221.4 113.2v5.8M1226.8 118.3v5.8M1232 123v5.8M1237.2 128.8v5.8M1242.3 133.9v5.8M1247.3 140.9v5.8M1252.3 149.8v5.8M1257.1 157.3v5.8M1261.9 168v5.8M1266.6 178.9v5.8M1271.2 190.2v5.8M1275.8 205.4v5.8M1280.3 219.5v5.8M1284.7 238.3v5.8M1289.1 256.7v5.8M1293.4 277.2v5.8M1297.6 296.2v5.8M1301.8 319.3v5.8M1305.9 343.9v5.8M1310 367.2v5.8M1314 392.8v5.8M1318 417v5.8M1321.9 442.9v5.8M1325.8 469.5v5.8M1329.6 493.7v5.8M1333.4 517.2v5.8M1337.1 538.8v5.8M1340.8 561.5v5.8" fill="none" stroke="#000" stroke-width="0.64"/>
</g>
<g>
<path d="M808.9 632.9h7.8M812.8 629.7v6.2M809.6 630.4h6.4M809.6 635.4h6.4M837.5 643.8h7.8M841.4 640.7v6.2M838.2 641.3h6.4M838.2 646.3h6.4M852.9 644.6h7.8M856.8 641.4v6.2M853.6 642.1h6.4M853.6 647.1h6.4M871.3 657.8h7.8M875.2 654.7v6.2M872 655.3h6.4M872 660.3h6.4M887.1 662.7h7.8M891 659.6v6.2M887.8 660.2h6.4M887.8 665.2h6.4M905.2 672.3h7.8M909.1 669.2v6.2M905.9 669.8h6.4M905.9 674.9h6.4M919.9 681.2h7.8M923.8 678.1v6.2M920.6 678.7h6.4M920.6 683.7h6.4M932.9 688.9h7.8M936.8 685.8v6.2M933.6 686.4h6.4M933.6 691.5h6.4M945.7 696.7h7.8M949.6 693.6v6.2M946.4 694.2h6.4M946.4 699.3h6.4M960.4 706.6h7.8M964.3 703.5v6.2M961.1 704.1h6.4M961.1 709.2h6.4M972.8 713.9h7.8M976.7 710.7v6.2M973.5 711.3h6.4M973.5 716.4h6.4M984.7 722.3h7.8M988.6 719.2v6.2M985.4 719.7h6.4M985.4 724.9h6.4M996.2 729.3h7.8M1000.1 726.2v6.2M996.9 726.7h6.4M996.9 731.9h6.4M1007.2 736.5h7.8M1011.1 733.4v6.2M1007.9 733.9h6.4M1007.9 739.1h6.4M1017.8 742.7h7.8M1021.7 739.6v6.2M1018.5 740.1h6.4M1018.5 745.3h6.4M1028.1 750.6h7.8M1032 747.5v6.2M1028.8 748h6.4M1028.8 753.3h6.4M1038.1 756.8h7.8M1042 753.7v6.2M1038.8 754.2h6.4M1038.8 759.5h6.4M1047.7 763.5h7.8M1051.6 760.4v6.2M1048.4 760.8h6.4M1048.4 766.2h6.4M1057 770.2h7.8M1060.9 767v6.2M1057.7 767.4h6.4M1057.7 772.9h6.4M1066.1 775.6h7.8M1070 772.5v6.2M1066.8 772.9h6.4M1066.8 778.4h6.4M1074.9 781h7.8M1078.8 777.9v6.2M1075.6 778.3h6.4M1075.6 783.8h6.4M1083.4 787h7.8M1087.3 783.9v6.2M1084.1 784.2h6.4M1084.1 789.8h6.4M1091.7 791.1h7.8M1095.6 788v6.2M1092.4 788.3h6.4M1092.4 793.9h6.4M1099.8 797.5h7.8M1103.7 794.4v6.2M1100.5 794.7h6.4M1100.5 800.4h6.4M1107.7 802.6h7.8M1111.6 799.5v6.2M1108.4 799.8h6.4M1108.4 805.5h6.4M1115.4 807.6h7.8M1119.3 804.5v6.2M1116.1 804.8h6.4M1116.1 810.5h6.4M1122.9 814.5h7.8M1126.8 811.4v6.2M1123.6 811.6h6.4M1123.6 817.4h6.4M1130.2 819.7h7.8M1134.1 816.6v6.2M1130.9 816.8h6.4M1130.9 822.6h6.4M1137.3 823.2h7.8M1141.2 820v6.2M1138 820.2h6.4M1138 826.1h6.4M1144.3 827.5h7.8M1148.2 824.3v6.2M1145 824.5h6.4M1145 830.4h6.4M1151.1 831.9h7.8M1155 828.8v6.2M1151.8 828.9h6.4M1151.8 834.9h6.4M1157.8 836h7.8M1161.7 832.9v6.2M1158.5 833h6.4M1158.5 839h6.4M1164.3 840.3h7.8M1168.2 837.1v6.2M1165 837.2h6.4M1165 843.3h6.4M1170.7 843.7h7.8M1174.6 840.5v6.2M1171.4 840.6h6.4M1171.4 846.7h6.4M1177 848.5h7.8M1180.9 845.4v6.2M1177.7 845.4h6.4M1177.7 851.6h6.4M1183.1 851.7h7.8M1187 848.6v6.2M1183.8 848.6h6.4M1183.8 854.8h6.4M1189.1 854.7h7.8M1193 851.6v6.2M1189.8 851.6h6.4M1189.8 857.8h6.4M1195 858.6h7.8M1198.9 855.5v6.3M1195.7 855.5h6.4M1195.7 861.8h6.4M1200.8 861.4h7.8M1204.7 858.2v6.3M1201.5 858.2h6.4M1201.5 864.5h6.4M1206.5 864.9h7.8M1210.4 861.7v6.4M1207.2 861.7h6.4M1207.2 868.1h6.4M1212 866.6h7.8M1215.9 863.4v6.4M1212.7 863.4h6.4M1212.7 869.8h6.4M1217.5 870.3h7.8M1221.4 867.1v6.5M1218.2 867.1h6.4M1218.2 873.6h6.4M1222.9 872.6h7.8M1226.8 869.3v6.5M1223.6 869.3h6.4M1223.6 875.9h6.4M1228.1 874.9h7.8M1232 871.6v6.6M1228.8 871.6h6.4M1228.8 878.1h6.4M1233.3 877.4h7.8M1237.2 874.1v6.6M1234 874.1h6.4M1234 880.7h6.4M1238.4 879.5h7.8M1242.3 876.2v6.6M1239.1 876.2h6.4M1239.1 882.9h6.4M1243.4 882.8h7.8M1247.3 879.5v6.7M1244.1 879.5h6.4M1244.1 886.2h6.4M1248.4 884.8h7.8M1252.3 881.4v6.7M1249.1 881.4h6.4M1249.1 888.1h6.4M1253.2 885.3h7.8M1257.1 881.9v6.8M1253.9 881.9h6.4M1253.9 888.7h6.4M1258 889.4h7.8M1261.9 886v6.8M1258.7 886h6.4M1258.7 892.8h6.4M1262.7 893.3h7.8M1266.6 889.9v6.9M1263.4 889.9h6.4M1263.4 896.7h6.4M1267.3 894.1h7.8M1271.2 890.7v6.9M1268 890.7h6.4M1268 897.6h6.4M1271.9 898.7h7.8M1275.8 895.2v7M1272.6 895.2h6.4M1272.6 902.1h6.4M1276.4 899.7h7.8M1280.3 896.2v7M1277.1 896.2h6.4M1277.1 903.2h6.4M1280.8 902.4h7.8M1284.7 898.9v7M1281.5 898.9h6.4M1281.5 906h6.4M1285.2 908.6h7.8M1289.1 905.1v7.1M1285.9 905.1h6.4M1285.9 912.2h6.4M1289.5 910.4h7.8M1293.4 906.8v7.1M1290.2 906.8h6.4M1290.2 913.9h6.4M1293.7 911.7h7.8M1297.6 908.1v7.2M1294.4 908.1h6.4M1294.4 915.3h6.4M1297.9 914.9h7.8M1301.8 911.3v7.2M1298.6 911.3h6.4M1298.6 918.6h6.4M1302 914.7h7.8M1305.9 911.1v7.3M1302.7 911.1h6.4M1302.7 918.4h6.4M1306.1 919.7h7.8M1310 916.1v7.3M1306.8 916.1h6.4M1306.8 923.4h6.4M1310.1 920.5h7.8M1314 916.8v7.4M1310.8 916.8h6.4M1310.8 924.1h6.4M1314.1 924.7h7.8M1318 921v7.4M1314.8 921h6.4M1314.8 928.4h6.4M1318 928.3h7.8M1321.9 924.5v7.4M1318.7 924.5h6.4M1318.7 932h6.4M1321.9 933.2h7.8M1325.8 929.5v7.5M1322.6 929.5h6.4M1322.6 937h6.4M1325.7 935.3h7.8M1329.6 931.6v7.5M1326.4 931.6h6.4M1326.4 939.1h6.4M1329.5 935.7h7.8M1333.4 931.9v7.6M1330.2 931.9h6.4M1330.2 939.5h6.4M1333.2 940.9h7.8M1337.1 937.1v7.6M1333.9 937.1h6.4M1333.9 944.8h6.4M1336.9 942.9h7.8M1340.8 939.1v7.7M1337.6 939.1h6.4M1337.6 946.7h6.4M1340.5 941.2h7.8M1344.4 937.4v7.7M1341.2 937.4h6.4M1341.2 945.1h6.4M1344.1 935.9h7.8M1348 932.1v7.7M1344.8 932.1h6.4M1344.8 939.8h6.4M1347.6 932.6h7.8M1351.5 928.7v7.8M1348.3 928.7h6.4M1348.3 936.5h6.4M1351.2 929.3h7.8M1355.1 925.4v7.8M1351.9 925.4h6.4M1351.9 933.2h6.4M1354.6 928.2h7.8M1358.5 924.3v7.9M1355.3 924.3h6.4M1355.3 932.2h6.4M1358 926.6h7.8M1361.9 922.6v7.9M1358.7 922.6h6.4M1358.7 930.5h6.4M1361.4 923.7h7.8M1365.3 919.8v8M1362.1 919.8h6.4M1362.1 927.7h6.4M1364.8 917.2h7.8M1368.7 913.2v8M1365.5 913.2h6.4M1365.5 921.2h6.4M1368.1 912.6h7.8M1372 908.6v8M1368.8 908.6h6.4M1368.8 916.6h6.4M1371.4 908.6h7.8M1375.3 904.5v8.1M1372.1 904.5h6.4M1372.1 912.6h6.4M1374.6 904.1h7.8M1378.5 900.1v8.1M1375.3 900.1h6.4M1375.3 908.2h6.4M1377.8 896.7h7.8M1381.7 892.6v8.2M1378.5 892.6h6.4M1378.5 900.7h6.4M1381 889.9h7.8M1384.9 885.8v8.2M1381.7 885.8h6.4M1381.7 894h6.4M1384.2 876.9h7.8M1388.1 872.8v8.2M1384.9 872.8h6.4M1384.9 881h6.4M1387.3 867.1h7.8M1391.2 863v8.3M1388 863h6.4M1388 871.3h6.4M1390.4 855.8h7.8M1394.3 851.7v8.3M1391.1 851.7h6.4M1391.1 860h6.4M1393.4 846.4h7.8M1397.3 842.2v8.4M1394.1 842.2h6.4M1394.1 850.6h6.4M1396.4 829.1h7.8M1400.3 824.9v8.4M1397.1 824.9h6.4M1397.1 833.3h6.4M1399.4 823h7.8M1403.3 818.8v8.5M1400.1 818.8h6.4M1400.1 827.3h6.4M1402.4 813.4h7.8M1406.3 809.1v8.5M1403.1 809.1h6.4M1403.1 817.6h6.4M1405.3 801.9h7.8M1409.2 797.6v8.5M1406 797.6h6.4M1406 806.1h6.4M1408.2 792.1h7.8M1412.1 787.9v8.6M1408.9 787.9h6.4M1408.9 796.4h6.4M1411.1 780.5h7.8M1415 776.2v8.6M1411.8 776.2h6.4M1411.8 784.8h6.4M1413.9 763.2h7.8M1417.8 758.8v8.6M1414.6 758.8h6.4M1414.6 767.5h6.4M1416.8 756.4h7.8M1420.7 752.1v8.7M1417.5 752.1h6.4M1417.5 760.7h6.4M1419.5 754.9h7.8M1423.4 750.6v8.7M1420.2 750.6h6.4M1420.2 759.3h6.4M1422.3 753.4h7.8M1426.2 749v8.8M1423 749h6.4M1423 757.8h6.4M1425.1 757.5h7.8M1429 753.1v8.8M1425.8 753.1h6.4M1425.8 761.9h6.4M1427.8 764h7.8M1431.7 759.6v8.8M1428.5 759.6h6.4M1428.5 768.5h6.4M1430.5 781.9h7.8M1434.4 777.5v8.9M1431.2 777.5h6.4M1431.2 786.3h6.4M1433.2 803.1h7.8M1437.1 798.6v8.9M1433.9 798.6h6.4M1433.9 807.6h6.4M1435.8 829.5h7.8M1439.7 825.1v9M1436.5 825.1h6.4M1436.5 834h6.4M1438.4 858.1h7.8M1442.3 853.6v9M1439.1 853.6h6.4M1439.1 862.6h6.4" fill="none" stroke="#9400d3" stroke-width="0.85"/>
<path d="M809 631.5l7.7 7.7m0 -7.7l-7.7 7.7M812.8 634.6v1.6M809.7 634.6h6.2M809.7 636.2h6.2M837.6 642.5l7.7 7.7m0 -7.7l-7.7 7.7M841.4 645.5v1.6M838.3 645.5h6.2M838.3 647.1h6.2M853 643.2l7.7 7.7m0 -7.7l-7.7 7.7M856.8 646.2v1.6M853.7 646.2h6.2M853.7 647.8h6.2M871.4 656.4l7.7 7.7m0 -7.7l-7.7 7.7M875.2 659.5v1.6M872.1 659.5h6.2M872.1 661.1h6.2M887.1 661.6l7.7 7.7m0 -7.7l-7.7 7.7M891 664.6v1.6M887.9 664.6h6.2M887.9 666.2h6.2M905.2 670.9l7.7 7.7m0 -7.7l-7.7 7.7M909.1 673.9v1.6M906 673.9h6.2M906 675.5h6.2M920 679.8l7.7 7.7m0 -7.7l-7.7 7.7M923.8 682.8v1.6M920.7 682.8h6.2M920.7 684.4h6.2M933 687.3l7.7 7.7m0 -7.7l-7.7 7.7M936.8 690.3v1.6M933.7 690.3h6.2M933.7 691.9h6.2M945.8 695.2l7.7 7.7m0 -7.7l-7.7 7.7M949.6 698.3v1.6M946.5 698.3h6.2M946.5 699.9h6.2M960.5 704.8l7.7 7.7m0 -7.7l-7.7 7.7M964.3 707.9v1.6M961.2 707.9h6.2M961.2 709.5h6.2M972.9 712l7.7 7.7m0 -7.7l-7.7 7.7M976.7 715.1v1.6M973.6 715.1h6.2M973.6 716.7h6.2M984.8 721.2l7.7 7.7m0 -7.7l-7.7 7.7M988.6 724.3v1.6M985.5 724.3h6.2M985.5 725.9h6.2M996.2 727.7l7.7 7.7m0 -7.7l-7.7 7.7M1000.1 730.8v1.6M997 730.8h6.2M997 732.4h6.2M1007.2 735l7.7 7.7m0 -7.7l-7.7 7.7M1011.1 738v1.6M1008 738h6.2M1008 739.6h6.2M1017.9 741.2l7.7 7.7m0 -7.7l-7.7 7.7M1021.7 744.3v1.6M1018.6 744.3h6.2M1018.6 745.9h6.2M1028.2 748.4l7.7 7.7m0 -7.7l-7.7 7.7M1032 751.4v1.6M1028.9 751.4h6.2M1028.9 753h6.2M1038.1 755.3l7.7 7.7m0 -7.7l-7.7 7.7M1042 758.4v1.6M1038.9 758.4h6.2M1038.9 760h6.2M1047.8 763l7.7 7.7m0 -7.7l-7.7 7.7M1051.6 766.1v1.6M1048.5 766.1h6.2M1048.5 767.7h6.2M1057.1 768.2l7.7 7.7m0 -7.7l-7.7 7.7M1060.9 771.2v1.7M1057.8 771.2h6.2M1057.8 772.9h6.2M1066.1 774.9l7.7 7.7m0 -7.7l-7.7 7.7M1070 777.9v1.7M1066.9 777.9h6.2M1066.9 779.6h6.2M1074.9 780.2l7.7 7.7m0 -7.7l-7.7 7.7M1078.8 783.2v1.8M1075.7 783.2h6.2M1075.7 784.9h6.2M1083.5 784.9l7.7 7.7m0 -7.7l-7.7 7.7M1087.3 787.9v1.8M1084.2 787.9h6.2M1084.2 789.7h6.2M1091.8 790l7.7 7.7m0 -7.7l-7.7 7.7M1095.6 792.9v1.9M1092.5 792.9h6.2M1092.5 794.8h6.2M1099.9 796.5l7.7 7.7m0 -7.7l-7.7 7.7M1103.7 799.4v2M1100.6 799.4h6.2M1100.6 801.3h6.2M1107.8 801.3l7.7 7.7m0 -7.7l-7.7 7.7M1111.6 804.1v2M1108.5 804.1h6.2M1108.5 806.2h6.2M1115.5 806.8l7.7 7.7m0 -7.7l-7.7 7.7M1119.3 809.6v2.1M1116.2 809.6h6.2M1116.2 811.7h6.2M1122.9 813.1l7.7 7.7m0 -7.7l-7.7 7.7M1126.8 815.9v2.2M1123.7 815.9h6.2M1123.7 818.1h6.2M1130.3 817.4l7.7 7.7m0 -7.7l-7.7 7.7M1134.1 820.1v2.2M1131 820.1h6.2M1131 822.4h6.2M1137.4 821.7l7.7 7.7m0 -7.7l-7.7 7.7M1141.2 824.4v2.3M1138.1 824.4h6.2M1138.1 826.7h6.2M1144.4 826.2l7.7 7.7m0 -7.7l-7.7 7.7M1148.2 828.8v2.4M1145.1 828.8h6.2M1145.1 831.2h6.2M1151.2 831.5l7.7 7.7m0 -7.7l-7.7 7.7M1155 834.1v2.4M1151.9 834.1h6.2M1151.9 836.6h6.2M1157.9 835.8l7.7 7.7m0 -7.7l-7.7 7.7M1161.7 838.4v2.5M1158.6 838.4h6.2M1158.6 840.9h6.2M1164.4 839.8l7.7 7.7m0 -7.7l-7.7 7.7M1168.2 842.3v2.6M1165.1 842.3h6.2M1165.1 844.9h6.2M1170.8 842.4l7.7 7.7m0 -7.7l-7.7 7.7M1174.6 845v2.6M1171.5 845h6.2M1171.5 847.6h6.2M1177 846.3l7.7 7.7m0 -7.7l-7.7 7.7M1180.9 848.8v2.7M1177.8 848.8h6.2M1177.8 851.5h6.2M1183.2 850.1l7.7 7.7m0 -7.7l-7.7 7.7M1187 852.6v2.8M1183.9 852.6h6.2M1183.9 855.4h6.2M1189.2 853.4l7.7 7.7m0 -7.7l-7.7 7.7M1193 855.8v2.8M1189.9 855.8h6.2M1189.9 858.7h6.2M1195.1 854.2l7.7 7.7m0 -7.7l-7.7 7.7M1198.9 856.6v2.9M1195.8 856.6h6.2M1195.8 859.5h6.2M1200.8 857.4l7.7 7.7m0 -7.7l-7.7 7.7M1204.7 859.7v3M1201.6 859.7h6.2M1201.6 862.7h6.2M1206.5 860.2l7.7 7.7m0 -7.7l-7.7 7.7M1210.4 862.6v3.1M1207.3 862.6h6.2M1207.3 865.6h6.2M1212.1 863l7.7 7.7m0 -7.7l-7.7 7.7M1215.9 865.2v3.1M1212.8 865.2h6.2M1212.8 868.4h6.2M1217.5 864.3l7.7 7.7m0 -7.7l-7.7 7.7M1221.4 866.5v3.2M1218.3 866.5h6.2M1218.3 869.7h6.2M1222.9 867.7l7.7 7.7m0 -7.7l-7.7 7.7M1226.8 870v3.3M1223.7 870h6.2M1223.7 873.2h6.2M1228.2 868.8l7.7 7.7m0 -7.7l-7.7 7.7M1232 870.9v3.3M1228.9 870.9h6.2M1228.9 874.3h6.2M1233.4 872.9l7.7 7.7m0 -7.7l-7.7 7.7M1237.2 875v3.4M1234.1 875h6.2M1234.1 878.4h6.2M1238.5 876.3l7.7 7.7m0 -7.7l-7.7 7.7M1242.3 878.4v3.5M1239.2 878.4h6.2M1239.2 881.9h6.2M1243.5 878.3l7.7 7.7m0 -7.7l-7.7 7.7M1247.3 880.4v3.5M1244.2 880.4h6.2M1244.2 883.9h6.2M1248.4 881l7.7 7.7m0 -7.7l-7.7 7.7M1252.3 883v3.6M1249.2 883h6.2M1249.2 886.6h6.2M1253.3 881.4l7.7 7.7m0 -7.7l-7.7 7.7M1257.1 883.5v3.7M1254 883.5h6.2M1254 887.1h6.2M1258.1 884.8l7.7 7.7m0 -7.7l-7.7 7.7M1261.9 886.8v3.7M1258.8 886.8h6.2M1258.8 890.5h6.2M1262.8 888.5l7.7 7.7m0 -7.7l-7.7 7.7M1266.6 890.5v3.8M1263.5 890.5h6.2M1263.5 894.3h6.2M1267.4 888.9l7.7 7.7m0 -7.7l-7.7 7.7M1271.2 890.9v3.9M1268.1 890.9h6.2M1268.1 894.7h6.2M1271.9 895.2l7.7 7.7m0 -7.7l-7.7 7.7M1275.8 897.1v3.9M1272.7 897.1h6.2M1272.7 901h6.2M1276.4 894.9l7.7 7.7m0 -7.7l-7.7 7.7M1280.3 896.7v4M1277.2 896.7h6.2M1277.2 900.7h6.2M1280.9 897.9l7.7 7.7m0 -7.7l-7.7 7.7M1284.7 899.7v4.1M1281.6 899.7h6.2M1281.6 903.8h6.2M1285.2 900.9l7.7 7.7m0 -7.7l-7.7 7.7M1289.1 902.7v4.1M1286 902.7h6.2M1286 906.8h6.2M1289.5 902l7.7 7.7m0 -7.7l-7.7 7.7M1293.4 903.7v4.2M1290.3 903.7h6.2M1290.3 907.9h6.2M1293.8 902.8l7.7 7.7m0 -7.7l-7.7 7.7M1297.6 904.5v4.3M1294.5 904.5h6.2M1294.5 908.8h6.2M1298 908.1l7.7 7.7m0 -7.7l-7.7 7.7M1301.8 909.8v4.3M1298.7 909.8h6.2M1298.7 914.1h6.2M1302.1 909.6l7.7 7.7m0 -7.7l-7.7 7.7M1305.9 911.2v4.4M1302.8 911.2h6.2M1302.8 915.6h6.2M1306.2 911.2l7.7 7.7m0 -7.7l-7.7 7.7M1310 912.9v4.5M1306.9 912.9h6.2M1306.9 917.3h6.2M1310.2 912.5l7.7 7.7m0 -7.7l-7.7 7.7M1314 914.1v4.5M1310.9 914.1h6.2M1310.9 918.7h6.2M1314.2 912.4l7.7 7.7m0 -7.7l-7.7 7.7M1318 914v4.6M1314.9 914h6.2M1314.9 918.6h6.2M1318.1 918.4l7.7 7.7m0 -7.7l-7.7 7.7M1321.9 919.9v4.7M1318.8 919.9h6.2M1318.8 924.6h6.2M1321.9 919l7.7 7.7m0 -7.7l-7.7 7.7M1325.8 920.5v4.7M1322.7 920.5h6.2M1322.7 925.2h6.2M1325.8 917.3l7.7 7.7m0 -7.7l-7.7 7.7M1329.6 918.8v4.8M1326.5 918.8h6.2M1326.5 923.5h6.2M1329.5 916.5l7.7 7.7m0 -7.7l-7.7 7.7M1333.4 917.9v4.9M1330.3 917.9h6.2M1330.3 922.8h6.2M1333.2 915.4l7.7 7.7m0 -7.7l-7.7 7.7M1337.1 916.8v4.9M1334 916.8h6.2M1334 921.7h6.2M1336.9 917.2l7.7 7.7m0 -7.7l-7.7 7.7M1340.8 918.6v5M1337.7 918.6h6.2M1337.7 923.6h6.2M1340.6 922.5l7.7 7.7m0 -7.7l-7.7 7.7M1344.4 923.9v5.1M1341.3 923.9h6.2M1341.3 928.9h6.2M1344.1 917.5l7.7 7.7m0 -7.7l-7.7 7.7M1348 918.8v5.1M1344.9 918.8h6.2M1344.9 923.9h6.2M1347.7 911.5l7.7 7.7m0 -7.7l-7.7 7.7M1351.5 912.7v5.2M1348.4 912.7h6.2M1348.4 917.9h6.2M1351.2 915.2l7.7 7.7m0 -7.7l-7.7 7.7M1355.1 916.4v5.2M1352 916.4h6.2M1352 921.7h6.2M1354.7 916.4l7.7 7.7m0 -7.7l-7.7 7.7M1358.5 917.6v5.3M1355.4 917.6h6.2M1355.4 922.9h6.2M1358.1 913.2l7.7 7.7m0 -7.7l-7.7 7.7M1361.9 914.4v5.4M1358.8 914.4h6.2M1358.8 919.8h6.2M1361.5 912.1l7.7 7.7m0 -7.7l-7.7 7.7M1365.3 913.2v5.4M1362.2 913.2h6.2M1362.2 918.6h6.2M1364.8 898.4l7.7 7.7m0 -7.7l-7.7 7.7M1368.7 899.5v5.5M1365.6 899.5h6.2M1365.6 905h6.2M1368.2 894.5l7.7 7.7m0 -7.7l-7.7 7.7M1372 895.5v5.6M1368.9 895.5h6.2M1368.9 901.1h6.2M1371.4 889.9l7.7 7.7m0 -7.7l-7.7 7.7M1375.3 891v5.6M1372.2 891h6.2M1372.2 896.6h6.2M1374.7 883.2l7.7 7.7m0 -7.7l-7.7 7.7M1378.5 884.2v5.7M1375.4 884.2h6.2M1375.4 889.9h6.2M1377.9 877.1l7.7 7.7m0 -7.7l-7.7 7.7M1381.7 878v5.7M1378.6 878h6.2M1378.6 883.8h6.2M1381.1 871.8l7.7 7.7m0 -7.7l-7.7 7.7M1384.9 872.7v5.8M1381.8 872.7h6.2M1381.8 878.5h6.2M1384.2 864.1l7.7 7.7m0 -7.7l-7.7 7.7M1388.1 865v5.9M1385 865h6.2M1385 870.9h6.2M1387.3 853.1l7.7 7.7m0 -7.7l-7.7 7.7M1391.2 854v5.9M1388.1 854h6.2M1388.1 859.9h6.2M1390.4 847l7.7 7.7m0 -7.7l-7.7 7.7M1394.3 847.9v6M1391.2 847.9h6.2M1391.2 853.9h6.2M1393.5 838.8l7.7 7.7m0 -7.7l-7.7 7.7M1397.3 839.6v6.1M1394.2 839.6h6.2M1394.2 845.6h6.2M1396.5 820.9l7.7 7.7m0 -7.7l-7.7 7.7M1400.3 821.7v6.1M1397.2 821.7h6.2M1397.2 827.8h6.2M1399.5 815.9l7.7 7.7m0 -7.7l-7.7 7.7M1403.3 816.6v6.2M1400.2 816.6h6.2M1400.2 822.8h6.2M1402.4 803.5l7.7 7.7m0 -7.7l-7.7 7.7M1406.3 804.3v6.2M1403.2 804.3h6.2M1403.2 810.5h6.2M1405.4 787.7l7.7 7.7m0 -7.7l-7.7 7.7M1409.2 788.4v6.3M1406.1 788.4h6.2M1406.1 794.7h6.2M1408.3 778.3l7.7 7.7m0 -7.7l-7.7 7.7M1412.1 779v6.4M1409 779h6.2M1409 785.3h6.2M1411.1 769l7.7 7.7m0 -7.7l-7.7 7.7M1415 769.7v6.4M1411.9 769.7h6.2M1411.9 776.1h6.2M1414 764.7l7.7 7.7m0 -7.7l-7.7 7.7M1417.8 765.3v6.5M1414.7 765.3h6.2M1414.7 771.8h6.2M1416.8 770.9l7.7 7.7m0 -7.7l-7.7 7.7M1420.7 771.5v6.5M1417.6 771.5h6.2M1417.6 778h6.2M1419.6 772.5l7.7 7.7m0 -7.7l-7.7 7.7M1423.4 773v6.6M1420.3 773h6.2M1420.3 779.6h6.2M1422.4 775.9l7.7 7.7m0 -7.7l-7.7 7.7M1426.2 776.4v6.7M1423.1 776.4h6.2M1423.1 783h6.2M1425.1 780.5l7.7 7.7m0 -7.7l-7.7 7.7M1429 781v6.7M1425.9 781h6.2M1425.9 787.7h6.2M1427.8 787.2l7.7 7.7m0 -7.7l-7.7 7.7M1431.7 787.7v6.8M1428.6 787.7h6.2M1428.6 794.4h6.2M1430.5 800.3l7.7 7.7m0 -7.7l-7.7 7.7M1434.4 800.8v6.8M1431.3 800.8h6.2M1431.3 807.6h6.2M1433.2 810.5l7.7 7.7m0 -7.7l-7.7 7.7M1437.1 810.9v6.9M1434 810.9h6.2M1434 817.8h6.2M1435.9 819.8l7.7 7.7m0 -7.7l-7.7 7.7M1439.7 820.1v6.9M1436.6 820.1h6.2M1436.6 827.1h6.2M1438.5 829l7.7 7.7m0 -7.7l-7.7 7.7M1442.3 829.3v7M1439.2 829.3h6.2M1439.2 836.3h6.2" fill="none" stroke="#009e73" stroke-width="0.85"/>
<path d="M809.6 633l6.4 6.4m0 -6.4l-6.4 6.4M809.1 636.2h7.4M812.8 633v6.4M809.7 635.3h6.2M809.7 637.1h6.2M838.2 643.9l6.4 6.4m0 -6.4l-6.4 6.4M837.7 647.1h7.4M841.4 643.9v6.4M838.3 646.2h6.2M838.3 648h6.2M853.6 644.6l6.4 6.4m0 -6.4l-6.4 6.4M853.1 647.8h7.4M856.8 644.6v6.4M853.7 646.9h6.2M853.7 648.7h6.2M872 657.9l6.4 6.4m0 -6.4l-6.4 6.4M871.5 661.1h7.4M875.2 657.9v6.4M872.1 660.2h6.2M872.1 662h6.2M887.8 663l6.4 6.4m0 -6.4l-6.4 6.4M887.3 666.2h7.4M891 663v6.4M887.9 665.3h6.2M887.9 667.1h6.2M905.9 672.2l6.4 6.4m0 -6.4l-6.4 6.4M905.4 675.4h7.4M909.1 672.2v6.4M906 674.5h6.2M906 676.3h6.2M920.6 681.4l6.4 6.4m0 -6.4l-6.4 6.4M920.1 684.6h7.4M923.8 681.4v6.4M920.7 683.7h6.2M920.7 685.5h6.2M933.6 689.1l6.4 6.4m0 -6.4l-6.4 6.4M933.1 692.3h7.4M936.8 689.1v6.4M933.7 691.4h6.2M933.7 693.2h6.2M946.4 697l6.4 6.4m0 -6.4l-6.4 6.4M945.9 700.2h7.4M949.6 697v6.4M946.5 699.3h6.2M946.5 701.1h6.2M961.1 706.4l6.4 6.4m0 -6.4l-6.4 6.4M960.6 709.6h7.4M964.3 706.4v6.4M961.2 708.7h6.2M961.2 710.5h6.2M973.5 714.4l6.4 6.4m0 -6.4l-6.4 6.4M973 717.6h7.4M976.7 714.4v6.4M973.6 716.7h6.2M973.6 718.5h6.2M985.4 722.6l6.4 6.4m0 -6.4l-6.4 6.4M984.9 725.8h7.4M988.6 722.6v6.4M985.5 724.9h6.2M985.5 726.7h6.2M996.9 728.9l6.4 6.4m0 -6.4l-6.4 6.4M996.4 732.1h7.4M1000.1 728.9v6.4M997 731.2h6.2M997 733h6.2M1007.9 736.8l6.4 6.4m0 -6.4l-6.4 6.4M1007.4 740h7.4M1011.1 736.8v6.4M1008 739.1h6.2M1008 740.9h6.2M1018.5 742.6l6.4 6.4m0 -6.4l-6.4 6.4M1018.1 745.8h7.4M1021.7 742.6v6.4M1018.6 744.9h6.2M1018.6 746.7h6.2M1028.8 750.6l6.4 6.4m0 -6.4l-6.4 6.4M1028.3 753.8h7.4M1032 750.6v6.4M1028.9 752.9h6.2M1028.9 754.7h6.2M1038.8 756.6l6.4 6.4m0 -6.4l-6.4 6.4M1038.3 759.8h7.4M1042 756.6v6.4M1038.9 758.9h6.2M1038.9 760.7h6.2M1048.4 764.1l6.4 6.4m0 -6.4l-6.4 6.4M1047.9 767.3h7.4M1051.6 764.1v6.4M1048.5 766.4h6.2M1048.5 768.2h6.2M1057.7 770.2l6.4 6.4m0 -6.4l-6.4 6.4M1057.3 773.4h7.4M1060.9 770.2v6.4M1057.8 772.5h6.2M1057.8 774.3h6.2M1066.8 776.7l6.4 6.4m0 -6.4l-6.4 6.4M1066.3 779.9h7.4M1070 776.7v6.4M1066.9 779h6.2M1066.9 780.8h6.2M1075.6 781.6l6.4 6.4m0 -6.4l-6.4 6.4M1075.1 784.8h7.4M1078.8 781.6v6.4M1075.7 783.9h6.2M1075.7 785.7h6.2M1084.1 786.5l6.4 6.4m0 -6.4l-6.4 6.4M1083.7 789.7h7.4M1087.3 786.5v6.4M1084.2 788.8h6.2M1084.2 790.6h6.2M1092.4 791.6l6.4 6.4m0 -6.4l-6.4 6.4M1092 794.8h7.4M1095.6 791.6v6.4M1092.5 793.9h6.2M1092.5 795.7h6.2M1100.5 798.1l6.4 6.4m0 -6.4l-6.4 6.4M1100.1 801.3h7.4M1103.7 798.1v6.4M1100.6 800.4h6.2M1100.6 802.2h6.2M1108.4 802.4l6.4 6.4m0 -6.4l-6.4 6.4M1107.9 805.6h7.4M1111.6 802.4v6.4M1108.5 804.7h6.2M1108.5 806.5h6.2M1116.1 808.2l6.4 6.4m0 -6.4l-6.4 6.4M1115.6 811.4h7.4M1119.3 808.2v6.4M1116.2 810.5h6.2M1116.2 812.3h6.2M1123.6 814.1l6.4 6.4m0 -6.4l-6.4 6.4M1123.1 817.3h7.4M1126.8 814.1v6.4M1123.7 816.4h6.2M1123.7 818.2h6.2M1130.9 819.6l6.4 6.4m0 -6.4l-6.4 6.4M1130.4 822.8h7.4M1134.1 819.6v6.4M1131 821.9h6.2M1131 823.8h6.2M1138 824l6.4 6.4m0 -6.4l-6.4 6.4M1137.6 827.2h7.4M1141.2 824v6.4M1138.1 826.2h6.2M1138.1 828.1h6.2M1145 829.4l6.4 6.4m0 -6.4l-6.4 6.4M1144.5 832.6h7.4M1148.2 829.4v6.4M1145.1 831.7h6.2M1145.1 833.6h6.2M1151.8 832.5l6.4 6.4m0 -6.4l-6.4 6.4M1151.4 835.7h7.4M1155 832.5v6.4M1151.9 834.7h6.2M1151.9 836.7h6.2M1158.5 837l6.4 6.4m0 -6.4l-6.4 6.4M1158 840.2h7.4M1161.7 837v6.4M1158.6 839.2h6.2M1158.6 841.2h6.2M1165 840.9l6.4 6.4m0 -6.4l-6.4 6.4M1164.6 844.1h7.4M1168.2 840.9v6.4M1165.1 843.1h6.2M1165.1 845.2h6.2M1171.4 845.1l6.4 6.4m0 -6.4l-6.4 6.4M1170.9 848.3h7.4M1174.6 845.1v6.4M1171.5 847.3h6.2M1171.5 849.4h6.2M1177.7 847.3l6.4 6.4m0 -6.4l-6.4 6.4M1177.2 850.5h7.4M1180.9 847.3v6.4M1177.8 849.4h6.2M1177.8 851.5h6.2M1183.8 852.4l6.4 6.4m0 -6.4l-6.4 6.4M1183.3 855.6h7.4M1187 852.4v6.4M1183.9 854.5h6.2M1183.9 856.7h6.2M1189.8 854.2l6.4 6.4m0 -6.4l-6.4 6.4M1189.3 857.4h7.4M1193 854.2v6.4M1189.9 856.3h6.2M1189.9 858.5h6.2M1195.7 855.1l6.4 6.4m0 -6.4l-6.4 6.4M1195.2 858.3h7.4M1198.9 855.1v6.4M1195.8 857.1h6.2M1195.8 859.4h6.2M1201.5 858.9l6.4 6.4m0 -6.4l-6.4 6.4M1201 862.1h7.4M1204.7 858.9v6.4M1201.6 861h6.2M1201.6 863.3h6.2M1207.2 862.6l6.4 6.4m0 -6.4l-6.4 6.4M1206.7 865.8h7.4M1210.4 862.6v6.4M1207.3 864.6h6.2M1207.3 867h6.2M1212.7 864.9l6.4 6.4m0 -6.4l-6.4 6.4M1212.2 868.1h7.4M1215.9 864.9v6.4M1212.8 866.9h6.2M1212.8 869.3h6.2M1218.2 867.1l6.4 6.4m0 -6.4l-6.4 6.4M1217.7 870.3h7.4M1221.4 867.1v6.4M1218.3 869h6.2M1218.3 871.5h6.2M1223.6 869.6l6.4 6.4m0 -6.4l-6.4 6.4M1223.1 872.8h7.4M1226.8 869.6v6.4M1223.7 871.5h6.2M1223.7 874h6.2M1228.8 870.6l6.4 6.4m0 -6.4l-6.4 6.4M1228.4 873.8h7.4M1232 870.6v6.4M1228.9 872.5h6.2M1228.9 875h6.2M1234 872.6l6.4 6.4m0 -6.4l-6.4 6.4M1233.5 875.8h7.4M1237.2 872.6v6.4M1234.1 874.5h6.2M1234.1 877.1h6.2M1239.1 873l6.4 6.4m0 -6.4l-6.4 6.4M1238.6 876.2h7.4M1242.3 873v6.4M1239.2 874.9h6.2M1239.2 877.6h6.2M1244.1 875.9l6.4 6.4m0 -6.4l-6.4 6.4M1243.7 879.1h7.4M1247.3 875.9v6.4M1244.2 877.8h6.2M1244.2 880.5h6.2M1249.1 876.9l6.4 6.4m0 -6.4l-6.4 6.4M1248.6 880.1h7.4M1252.3 876.9v6.4M1249.2 878.8h6.2M1249.2 881.5h6.2M1253.9 876.4l6.4 6.4m0 -6.4l-6.4 6.4M1253.4 879.6h7.4M1257.1 876.4v6.4M1254 878.2h6.2M1254 880.9h6.2M1258.7 876.3l6.4 6.4m0 -6.4l-6.4 6.4M1258.2 879.5h7.4M1261.9 876.3v6.4M1258.8 878.1h6.2M1258.8 881h6.2M1263.4 878.3l6.4 6.4m0 -6.4l-6.4 6.4M1262.9 881.5h7.4M1266.6 878.3v6.4M1263.5 880.1h6.2M1263.5 883h6.2M1268 882.1l6.4 6.4m0 -6.4l-6.4 6.4M1267.6 885.3h7.4M1271.2 882.1v6.4M1268.1 883.9h6.2M1268.1 886.8h6.2M1272.6 882.5l6.4 6.4m0 -6.4l-6.4 6.4M1272.1 885.7h7.4M1275.8 882.5v6.4M1272.7 884.2h6.2M1272.7 887.1h6.2M1277.1 884.8l6.4 6.4m0 -6.4l-6.4 6.4M1276.6 888h7.4M1280.3 884.8v6.4M1277.2 886.5h6.2M1277.2 889.5h6.2M1281.5 888.2l6.4 6.4m0 -6.4l-6.4 6.4M1281 891.4h7.4M1284.7 888.2v6.4M1281.6 889.9h6.2M1281.6 892.9h6.2M1285.9 891.7l6.4 6.4m0 -6.4l-6.4 6.4M1285.4 894.9h7.4M1289.1 891.7v6.4M1286 893.4h6.2M1286 896.5h6.2M1290.2 892.2l6.4 6.4m0 -6.4l-6.4 6.4M1289.7 895.4h7.4M1293.4 892.2v6.4M1290.3 893.8h6.2M1290.3 896.9h6.2M1294.4 892.6l6.4 6.4m0 -6.4l-6.4 6.4M1294 895.8h7.4M1297.6 892.6v6.4M1294.5 894.2h6.2M1294.5 897.4h6.2M1298.6 892.5l6.4 6.4m0 -6.4l-6.4 6.4M1298.1 895.7h7.4M1301.8 892.5v6.4M1298.7 894.1h6.2M1298.7 897.4h6.2M1302.7 894.1l6.4 6.4m0 -6.4l-6.4 6.4M1302.3 897.3h7.4M1305.9 894.1v6.4M1302.8 895.6h6.2M1302.8 898.9h6.2M1306.8 897.8l6.4 6.4m0 -6.4l-6.4 6.4M1306.3 901h7.4M1310 897.8v6.4M1306.9 899.3h6.2M1306.9 902.6h6.2M1310.8 899.2l6.4 6.4m0 -6.4l-6.4 6.4M1310.4 902.4h7.4M1314 899.2v6.4M1310.9 900.7h6.2M1310.9 904.1h6.2M1314.8 900l6.4 6.4m0 -6.4l-6.4 6.4M1314.3 903.2h7.4M1318 900v6.4M1314.9 901.5h6.2M1314.9 904.9h6.2M1318.7 899.8l6.4 6.4m0 -6.4l-6.4 6.4M1318.2 903h7.4M1321.9 899.8v6.4M1318.8 901.2h6.2M1318.8 904.7h6.2M1322.6 901.5l6.4 6.4m0 -6.4l-6.4 6.4M1322.1 904.7h7.4M1325.8 901.5v6.4M1322.7 903h6.2M1322.7 906.4h6.2M1326.4 903.3l6.4 6.4m0 -6.4l-6.4 6.4M1325.9 906.5h7.4M1329.6 903.3v6.4M1326.5 904.8h6.2M1326.5 908.3h6.2M1330.2 905.2l6.4 6.4m0 -6.4l-6.4 6.4M1329.7 908.4h7.4M1333.4 905.2v6.4M1330.3 906.6h6.2M1330.3 910.2h6.2M1333.9 908.2l6.4 6.4m0 -6.4l-6.4 6.4M1333.4 911.4h7.4M1337.1 908.2v6.4M1334 909.6h6.2M1334 913.2h6.2M1337.6 903.6l6.4 6.4m0 -6.4l-6.4 6.4M1337.1 906.8h7.4M1340.8 903.6v6.4M1337.7 904.9h6.2M1337.7 908.6h6.2M1341.2 896.6l6.4 6.4m0 -6.4l-6.4 6.4M1340.7 899.8h7.4M1344.4 896.6v6.4M1341.3 898h6.2M1341.3 901.7h6.2M1344.8 895l6.4 6.4m0 -6.4l-6.4 6.4M1344.3 898.2h7.4M1348 895v6.4M1344.9 896.4h6.2M1344.9 900.1h6.2M1348.3 893.9l6.4 6.4m0 -6.4l-6.4 6.4M1347.9 897.1h7.4M1351.5 893.9v6.4M1348.4 895.2h6.2M1348.4 899h6.2M1351.9 893.7l6.4 6.4m0 -6.4l-6.4 6.4M1351.4 896.9h7.4M1355.1 893.7v6.4M1352 895h6.2M1352 898.8h6.2M1355.3 891.8l6.4 6.4m0 -6.4l-6.4 6.4M1354.8 895h7.4M1358.5 891.8v6.4M1355.4 893h6.2M1355.4 896.9h6.2M1358.7 884l6.4 6.4m0 -6.4l-6.4 6.4M1358.3 887.2h7.4M1361.9 884v6.4M1358.8 885.2h6.2M1358.8 889.1h6.2M1362.1 875.8l6.4 6.4m0 -6.4l-6.4 6.4M1361.7 879h7.4M1365.3 875.8v6.4M1362.2 877h6.2M1362.2 881h6.2M1365.5 871.5l6.4 6.4m0 -6.4l-6.4 6.4M1365 874.7h7.4M1368.7 871.5v6.4M1365.6 872.7h6.2M1365.6 876.7h6.2M1368.8 869.8l6.4 6.4m0 -6.4l-6.4 6.4M1368.3 873h7.4M1372 869.8v6.4M1368.9 871h6.2M1368.9 875.1h6.2M1372.1 863.4l6.4 6.4m0 -6.4l-6.4 6.4M1371.6 866.6h7.4M1375.3 863.4v6.4M1372.2 864.6h6.2M1372.2 868.7h6.2M1375.3 859.7l6.4 6.4m0 -6.4l-6.4 6.4M1374.9 862.9h7.4M1378.5 859.7v6.4M1375.4 860.9h6.2M1375.4 865h6.2M1378.5 847.2l6.4 6.4m0 -6.4l-6.4 6.4M1378.1 850.4h7.4M1381.7 847.2v6.4M1378.6 848.3h6.2M1378.6 852.5h6.2M1381.7 835.8l6.4 6.4m0 -6.4l-6.4 6.4M1381.2 839h7.4M1384.9 835.8v6.4M1381.8 836.9h6.2M1381.8 841.1h6.2M1384.9 824.9l6.4 6.4m0 -6.4l-6.4 6.4M1384.4 828.1h7.4M1388.1 824.9v6.4M1385 826h6.2M1385 830.3h6.2M1388 821.3l6.4 6.4m0 -6.4l-6.4 6.4M1387.5 824.5h7.4M1391.2 821.3v6.4M1388.1 822.4h6.2M1388.1 826.7h6.2M1391.1 813.1l6.4 6.4m0 -6.4l-6.4 6.4M1390.6 816.3h7.4M1394.3 813.1v6.4M1391.2 814.1h6.2M1391.2 818.5h6.2M1394.1 807.5l6.4 6.4m0 -6.4l-6.4 6.4M1393.6 810.7h7.4M1397.3 807.5v6.4M1394.2 808.5h6.2M1394.2 812.9h6.2M1397.1 803.3l6.4 6.4m0 -6.4l-6.4 6.4M1396.6 806.5h7.4M1400.3 803.3v6.4M1397.2 804.3h6.2M1397.2 808.7h6.2M1400.1 798.7l6.4 6.4m0 -6.4l-6.4 6.4M1399.6 801.9h7.4M1403.3 798.7v6.4M1400.2 799.7h6.2M1400.2 804.1h6.2M1403.1 796.2l6.4 6.4m0 -6.4l-6.4 6.4M1402.6 799.4h7.4M1406.3 796.2v6.4M1403.2 797.1h6.2M1403.2 801.6h6.2M1406 794.1l6.4 6.4m0 -6.4l-6.4 6.4M1405.5 797.3h7.4M1409.2 794.1v6.4M1406.1 795.1h6.2M1406.1 799.6h6.2M1408.9 794.2l6.4 6.4m0 -6.4l-6.4 6.4M1408.4 797.4h7.4M1412.1 794.2v6.4M1409 795.1h6.2M1409 799.7h6.2M1411.8 797.6l6.4 6.4m0 -6.4l-6.4 6.4M1411.3 800.8h7.4M1415 797.6v6.4M1411.9 798.5h6.2M1411.9 803.1h6.2M1414.6 806.7l6.4 6.4m0 -6.4l-6.4 6.4M1414.2 809.9h7.4M1417.8 806.7v6.4M1414.7 807.5h6.2M1414.7 812.2h6.2M1417.5 814.2l6.4 6.4m0 -6.4l-6.4 6.4M1417 817.4h7.4M1420.7 814.2v6.4M1417.6 815.1h6.2M1417.6 819.8h6.2M1420.2 825.4l6.4 6.4m0 -6.4l-6.4 6.4M1419.8 828.6h7.4M1423.4 825.4v6.4M1420.3 826.2h6.2M1420.3 830.9h6.2M1423 836.6l6.4 6.4m0 -6.4l-6.4 6.4M1422.5 839.8h7.4M1426.2 836.6v6.4M1423.1 837.4h6.2M1423.1 842.2h6.2M1425.8 850.7l6.4 6.4m0 -6.4l-6.4 6.4M1425.3 853.9h7.4M1429 850.7v6.4M1425.9 851.5h6.2M1425.9 856.3h6.2M1428.5 866.2l6.4 6.4m0 -6.4l-6.4 6.4M1428 869.4h7.4M1431.7 866.2v6.4M1428.6 867h6.2M1428.6 871.8h6.2M1431.2 876.3l6.4 6.4m0 -6.4l-6.4 6.4M1430.7 879.5h7.4M1434.4 876.3v6.4M1431.3 877.1h6.2M1431.3 882h6.2M1433.9 876.6l6.4 6.4m0 -6.4l-6.4 6.4M1433.4 879.8h7.4M1437.1 876.6v6.4M1434 877.3h6.2M1434 882.2h6.2M1436.5 878.2l6.4 6.4m0 -6.4l-6.4 6.4M1436 881.4h7.4M1439.7 878.2v6.4M1436.6 879h6.2M1436.6 883.9h6.2M1439.1 882.5l6.4 6.4m0 -6.4l-6.4 6.4M1438.7 885.7h7.4M1442.3 882.5v6.4M1439.2 883.2h6.2M1439.2 888.2h6.2" fill="none" stroke="#56b4e9" stroke-width="0.77"/>
<path d="M808.7 629.2h8.3v8.3h-8.3zM809.3 632.7h7M809.3 634.1h7M812.8 632.7v1.4M837.3 640.2h8.3v8.3h-8.3zM837.9 643.6h7M837.9 645h7M841.4 643.6v1.4M852.7 640.9h8.3v8.3h-8.3zM853.3 644.3h7M853.3 645.7h7M856.8 644.3v1.4M871.1 654.1h8.3v8.3h-8.3zM871.7 657.6h7M871.7 659h7M875.2 657.6v1.4M886.9 659.2h8.3v8.3h-8.3zM887.5 662.6h7M887.5 664h7M891 662.6v1.4M905 668.6h8.3v8.3h-8.3zM905.6 672.1h7M905.6 673.5h7M909.1 672.1v1.4M919.7 677.6h8.3v8.3h-8.3zM920.3 681.1h7M920.3 682.5h7M923.8 681.1v1.4M932.7 685.2h8.3v8.3h-8.3zM933.3 688.7h7M933.3 690.1h7M936.8 688.7v1.4M945.5 693.1h8.3v8.3h-8.3zM946.1 696.5h7M946.1 697.9h7M949.6 696.5v1.4M960.2 702.8h8.3v8.3h-8.3zM960.8 706.2h7M960.8 707.6h7M964.3 706.2v1.4M972.6 710.2h8.3v8.3h-8.3zM973.2 713.6h7M973.2 715h7M976.7 713.6v1.4M984.5 718.8h8.3v8.3h-8.3zM985.1 722.2h7M985.1 723.6h7M988.6 722.2v1.4M995.9 725.4h8.3v8.3h-8.3zM996.6 728.8h7M996.6 730.2h7M1000.1 728.8v1.4M1006.9 732.8h8.3v8.3h-8.3zM1007.6 736.2h7M1007.6 737.6h7M1011.1 736.2v1.4M1017.6 739.2h8.3v8.3h-8.3zM1018.3 742.6h7M1018.3 744h7M1021.7 742.6v1.4M1027.9 746.6h8.3v8.3h-8.3zM1028.5 750h7M1028.5 751.4h7M1032 750v1.4M1037.8 753.3h8.3v8.3h-8.3zM1038.5 756.8h7M1038.5 758.2h7M1042 756.8v1.4M1047.5 760.1h8.3v8.3h-8.3zM1048.1 763.5h7M1048.1 764.9h7M1051.6 763.5v1.4M1056.8 766.7h8.3v8.3h-8.3zM1057.5 770.2h7M1057.5 771.6h7M1060.9 770.2v1.4M1065.9 772.6h8.3v8.3h-8.3zM1066.5 776h7M1066.5 777.4h7M1070 776v1.4M1074.6 777.6h8.3v8.3h-8.3zM1075.3 781.1h7M1075.3 782.5h7M1078.8 781.1v1.4M1083.2 782.6h8.3v8.3h-8.3zM1083.9 786h7M1083.9 787.4h7M1087.3 786v1.4M1091.5 787.5h8.3v8.3h-8.3zM1092.2 791h7M1092.2 792.4h7M1095.6 791v1.4M1099.6 794.2h8.3v8.3h-8.3zM1100.3 797.6h7M1100.3 799h7M1103.7 797.6v1.4M1107.5 798.5h8.3v8.3h-8.3zM1108.1 801.9h7M1108.1 803.4h7M1111.6 801.9v1.4M1115.2 803.3h8.3v8.3h-8.3zM1115.8 806.7h7M1115.8 808.2h7M1119.3 806.7v1.5M1122.7 807.3h8.3v8.3h-8.3zM1123.3 810.6h7M1123.3 812.1h7M1126.8 810.6v1.5M1130 812.6h8.3v8.3h-8.3zM1130.6 816h7M1130.6 817.5h7M1134.1 816v1.5M1137.1 815.8h8.3v8.3h-8.3zM1137.8 819.2h7M1137.8 820.8h7M1141.2 819.2v1.6M1144.1 819.1h8.3v8.3h-8.3zM1144.7 822.5h7M1144.7 824.1h7M1148.2 822.5v1.6M1150.9 822.4h8.3v8.3h-8.3zM1151.6 825.8h7M1151.6 827.4h7M1155 825.8v1.6M1157.6 826.3h8.3v8.3h-8.3zM1158.2 829.6h7M1158.2 831.2h7M1161.7 829.6v1.7M1164.1 829.1h8.3v8.3h-8.3zM1164.8 832.4h7M1164.8 834.1h7M1168.2 832.4v1.7M1170.5 832.5h8.3v8.3h-8.3zM1171.1 835.8h7M1171.1 837.5h7M1174.6 835.8v1.7M1176.7 834.2h8.3v8.3h-8.3zM1177.4 837.5h7M1177.4 839.2h7M1180.9 837.5v1.7M1182.9 835.8h8.3v8.3h-8.3zM1183.5 839h7M1183.5 840.8h7M1187 839v1.8M1188.9 838.9h8.3v8.3h-8.3zM1189.5 842.2h7M1189.5 844h7M1193 842.2v1.8M1194.8 840.2h8.3v8.3h-8.3zM1195.4 843.4h7M1195.4 845.2h7M1198.9 843.4v1.8M1200.5 841h8.3v8.3h-8.3zM1201.2 844.2h7M1201.2 846.1h7M1204.7 844.2v1.9M1206.2 842.3h8.3v8.3h-8.3zM1206.9 845.5h7M1206.9 847.4h7M1210.4 845.5v1.9M1211.8 844.8h8.3v8.3h-8.3zM1212.4 847.9h7M1212.4 849.9h7M1215.9 847.9v1.9M1217.2 846.9h8.3v8.3h-8.3zM1217.9 850.1h7M1217.9 852.1h7M1221.4 850.1v1.9M1222.6 848h8.3v8.3h-8.3zM1223.3 851.2h7M1223.3 853.1h7M1226.8 851.2v2M1227.9 848.3h8.3v8.3h-8.3zM1228.6 851.4h7M1228.6 853.4h7M1232 851.4v2M1233.1 848.7h8.3v8.3h-8.3zM1233.7 851.8h7M1233.7 853.8h7M1237.2 851.8v2M1238.2 849.2h8.3v8.3h-8.3zM1238.8 852.4h7M1238.8 854.4h7M1242.3 852.4v2.1M1243.2 850.2h8.3v8.3h-8.3zM1243.9 853.3h7M1243.9 855.4h7M1247.3 853.3v2.1M1248.1 850.7h8.3v8.3h-8.3zM1248.8 853.8h7M1248.8 855.9h7M1252.3 853.8v2.1M1253 850.9h8.3v8.3h-8.3zM1253.6 853.9h7M1253.6 856.1h7M1257.1 853.9v2.2M1257.8 850.5h8.3v8.3h-8.3zM1258.4 853.6h7M1258.4 855.8h7M1261.9 853.6v2.2M1262.5 850.1h8.3v8.3h-8.3zM1263.1 853.1h7M1263.1 855.3h7M1266.6 853.1v2.2M1267.1 850.5h8.3v8.3h-8.3zM1267.8 853.5h7M1267.8 855.8h7M1271.2 853.5v2.2M1271.7 851.5h8.3v8.3h-8.3zM1272.3 854.5h7M1272.3 856.8h7M1275.8 854.5v2.3M1276.2 853.5h8.3v8.3h-8.3zM1276.8 856.5h7M1276.8 858.8h7M1280.3 856.5v2.3M1280.6 857h8.3v8.3h-8.3zM1281.2 860h7M1281.2 862.3h7M1284.7 860v2.3M1284.9 859.4h8.3v8.3h-8.3zM1285.6 862.3h7M1285.6 864.7h7M1289.1 862.3v2.4M1289.3 860.9h8.3v8.3h-8.3zM1289.9 863.8h7M1289.9 866.2h7M1293.4 863.8v2.4M1293.5 862.9h8.3v8.3h-8.3zM1294.2 865.8h7M1294.2 868.3h7M1297.6 865.8v2.4M1297.7 865.3h8.3v8.3h-8.3zM1298.3 868.2h7M1298.3 870.6h7M1301.8 868.2v2.4M1301.8 868h8.3v8.3h-8.3zM1302.5 870.9h7M1302.5 873.4h7M1305.9 870.9v2.5M1305.9 870h8.3v8.3h-8.3zM1306.5 872.9h7M1306.5 875.4h7M1310 872.9v2.5M1309.9 870.8h8.3v8.3h-8.3zM1310.6 873.7h7M1310.6 876.2h7M1314 873.7v2.5M1313.9 870.2h8.3v8.3h-8.3zM1314.5 873.1h7M1314.5 875.7h7M1318 873.1v2.6M1317.8 870.3h8.3v8.3h-8.3zM1318.4 873.1h7M1318.4 875.7h7M1321.9 873.1v2.6M1321.6 871.1h8.3v8.3h-8.3zM1322.3 873.9h7M1322.3 876.6h7M1325.8 873.9v2.6M1325.5 871h8.3v8.3h-8.3zM1326.1 873.8h7M1326.1 876.5h7M1329.6 873.8v2.6M1329.2 870.5h8.3v8.3h-8.3zM1329.9 873.4h7M1329.9 876h7M1333.4 873.4v2.7M1333 869.6h8.3v8.3h-8.3zM1333.6 872.4h7M1333.6 875.1h7M1337.1 872.4v2.7M1336.6 867.5h8.3v8.3h-8.3zM1337.3 870.3h7M1337.3 873h7M1340.8 870.3v2.7M1340.3 862.7h8.3v8.3h-8.3zM1340.9 865.5h7M1340.9 868.3h7M1344.4 865.5v2.8M1343.9 860h8.3v8.3h-8.3zM1344.5 862.7h7M1344.5 865.5h7M1348 862.7v2.8M1347.4 857.3h8.3v8.3h-8.3zM1348.1 860.1h7M1348.1 862.9h7M1351.5 860.1v2.8M1350.9 851.2h8.3v8.3h-8.3zM1351.6 853.9h7M1351.6 856.7h7M1355.1 853.9v2.8M1354.4 845.5h8.3v8.3h-8.3zM1355 848.2h7M1355 851.1h7M1358.5 848.2v2.9M1357.8 840.2h8.3v8.3h-8.3zM1358.5 842.8h7M1358.5 845.7h7M1361.9 842.8v2.9M1361.2 833.6h8.3v8.3h-8.3zM1361.9 836.3h7M1361.9 839.2h7M1365.3 836.3v2.9M1364.5 828.5h8.3v8.3h-8.3zM1365.2 831.2h7M1365.2 834.1h7M1368.7 831.2v3M1367.9 824.4h8.3v8.3h-8.3zM1368.5 827.1h7M1368.5 830h7M1372 827.1v3M1371.1 820.2h8.3v8.3h-8.3zM1371.8 822.9h7M1371.8 825.9h7M1375.3 822.9v3M1374.4 818.5h8.3v8.3h-8.3zM1375.1 821.1h7M1375.1 824.2h7M1378.5 821.1v3M1377.6 816.1h8.3v8.3h-8.3zM1378.3 818.7h7M1378.3 821.8h7M1381.7 818.7v3.1M1380.8 812.6h8.3v8.3h-8.3zM1381.4 815.2h7M1381.4 818.3h7M1384.9 815.2v3.1M1383.9 817.7h8.3v8.3h-8.3zM1384.6 820.2h7M1384.6 823.3h7M1388.1 820.2v3.1M1387 823.1h8.3v8.3h-8.3zM1387.7 825.7h7M1387.7 828.8h7M1391.2 825.7v3.1M1390.1 828.7h8.3v8.3h-8.3zM1390.8 831.2h7M1390.8 834.4h7M1394.3 831.2v3.2M1393.2 835.7h8.3v8.3h-8.3zM1393.8 838.3h7M1393.8 841.5h7M1397.3 838.3v3.2M1396.2 836.6h8.3v8.3h-8.3zM1396.8 839.1h7M1396.8 842.3h7M1400.3 839.1v3.2M1399.2 844.6h8.3v8.3h-8.3zM1399.8 847.2h7M1399.8 850.4h7M1403.3 847.2v3.2M1402.1 852.7h8.3v8.3h-8.3zM1402.8 855.3h7M1402.8 858.5h7M1406.3 855.3v3.3M1405.1 872.7h8.3v8.3h-8.3zM1405.7 875.2h7M1405.7 878.5h7M1409.2 875.2v3.3M1408 884.6h8.3v8.3h-8.3zM1408.6 887.1h7M1408.6 890.4h7M1412.1 887.1v3.3M1410.8 897.9h8.3v8.3h-8.3zM1411.5 900.4h7M1411.5 903.7h7M1415 900.4v3.3M1413.7 914.4h8.3v8.3h-8.3zM1414.4 916.9h7M1414.4 920.3h7M1417.8 916.9v3.4M1416.5 931.9h8.3v8.3h-8.3zM1417.2 934.4h7M1417.2 937.8h7M1420.7 934.4v3.4M1419.3 957h8.3v8.3h-8.3zM1420 959.4h7M1420 962.8h7M1423.4 959.4v3.4M1422.1 975.5h8.3v8.3h-8.3zM1422.7 977.9h7M1422.7 981.4h7M1426.2 977.9v3.4M1424.8 995.4h8.3v8.3h-8.3zM1425.5 997.8h7M1425.5 1001.3h7M1429 997.8v3.5M1427.5 1011.2h8.3v8.3h-8.3zM1428.2 1013.6h7M1428.2 1017.1h7M1431.7 1013.6v3.5M1430.2 1031.4h8.3v8.3h-8.3zM1430.9 1033.8h7M1430.9 1037.3h7M1434.4 1033.8v3.5M1432.9 1048.9h8.3v8.3h-8.3zM1433.6 1051.2h7M1433.6 1054.8h7M1437.1 1051.2v3.6M1435.6 1065.2h8.3v8.3h-8.3zM1436.2 1067.5h7M1436.2 1071.1h7M1439.7 1067.5v3.6M1438.2 1081.3h8.3v8.3h-8.3zM1438.9 1083.7h7M1438.9 1087.3h7M1442.3 1083.7v3.6" fill="none" stroke="#e69f00" stroke-width="0.85"/>
<path d="M808.7 621.6h8.3v8.3h-8.3zM837.3 630.2h8.3v8.3h-8.3zM852.7 632.6h8.3v8.3h-8.3zM871.1 640.8h8.3v8.3h-8.3zM886.9 647.6h8.3v8.3h-8.3zM905 655.9h8.3v8.3h-8.3zM919.7 664.9h8.3v8.3h-8.3zM932.7 672.6h8.3v8.3h-8.3zM945.5 679.1h8.3v8.3h-8.3zM960.2 687.7h8.3v8.3h-8.3zM972.6 694.2h8.3v8.3h-8.3zM984.5 702h8.3v8.3h-8.3zM995.9 708.8h8.3v8.3h-8.3zM1006.9 715.4h8.3v8.3h-8.3zM1017.6 721.9h8.3v8.3h-8.3zM1027.9 728.6h8.3v8.3h-8.3zM1037.8 734h8.3v8.3h-8.3zM1047.5 739.1h8.3v8.3h-8.3zM1056.8 746h8.3v8.3h-8.3zM1065.9 750.9h8.3v8.3h-8.3zM1074.6 755.9h8.3v8.3h-8.3zM1083.2 760.9h8.3v8.3h-8.3zM1091.5 765.8h8.3v8.3h-8.3zM1099.6 770.9h8.3v8.3h-8.3zM1107.5 774.1h8.3v8.3h-8.3zM1115.2 777.4h8.3v8.3h-8.3zM1122.7 779.7h8.3v8.3h-8.3zM1130 782.6h8.3v8.3h-8.3zM1137.1 785.9h8.3v8.3h-8.3zM1144.1 785.9h8.3v8.3h-8.3zM1150.9 786.6h8.3v8.3h-8.3zM1157.6 786.6h8.3v8.3h-8.3zM1164.1 787.6h8.3v8.3h-8.3zM1170.5 788.2h8.3v8.3h-8.3zM1176.7 787.9h8.3v8.3h-8.3zM1182.9 788.1h8.3v8.3h-8.3zM1188.9 789h8.3v8.3h-8.3zM1194.8 791h8.3v8.3h-8.3zM1200.5 792.5h8.3v8.3h-8.3zM1206.2 793.2h8.3v8.3h-8.3zM1211.8 793.6h8.3v8.3h-8.3zM1217.2 794.9h8.3v8.3h-8.3zM1222.6 796.7h8.3v8.3h-8.3zM1227.9 798.3h8.3v8.3h-8.3zM1233.1 800.4h8.3v8.3h-8.3zM1238.2 801.7h8.3v8.3h-8.3zM1243.2 801.3h8.3v8.3h-8.3zM1248.1 801.7h8.3v8.3h-8.3zM1253 803.6h8.3v8.3h-8.3zM1257.8 803.2h8.3v8.3h-8.3zM1262.5 802.4h8.3v8.3h-8.3zM1267.1 801.9h8.3v8.3h-8.3zM1271.7 801.7h8.3v8.3h-8.3zM1276.2 801.9h8.3v8.3h-8.3zM1280.6 802.2h8.3v8.3h-8.3zM1284.9 802.4h8.3v8.3h-8.3zM1289.3 802.6h8.3v8.3h-8.3zM1293.5 802.8h8.3v8.3h-8.3zM1297.7 802.6h8.3v8.3h-8.3zM1301.8 801.7h8.3v8.3h-8.3zM1305.9 802.1h8.3v8.3h-8.3zM1309.9 802.5h8.3v8.3h-8.3zM1313.9 801.5h8.3v8.3h-8.3zM1317.8 801.2h8.3v8.3h-8.3zM1321.6 801.7h8.3v8.3h-8.3zM1325.5 804.7h8.3v8.3h-8.3zM1329.2 807.6h8.3v8.3h-8.3zM1333 811.5h8.3v8.3h-8.3zM1336.6 816.2h8.3v8.3h-8.3zM1340.3 822.3h8.3v8.3h-8.3zM1343.9 828.5h8.3v8.3h-8.3zM1347.4 838.4h8.3v8.3h-8.3zM1350.9 849.3h8.3v8.3h-8.3zM1354.4 860.8h8.3v8.3h-8.3zM1357.8 872h8.3v8.3h-8.3zM1361.2 886.8h8.3v8.3h-8.3zM1364.5 903.6h8.3v8.3h-8.3zM1367.9 918.8h8.3v8.3h-8.3zM1371.1 934.4h8.3v8.3h-8.3zM1374.4 953.1h8.3v8.3h-8.3zM1377.6 969.6h8.3v8.3h-8.3zM1380.8 984.4h8.3v8.3h-8.3zM1383.9 1003.2h8.3v8.3h-8.3zM1387 1021.5h8.3v8.3h-8.3zM1390.1 1034.9h8.3v8.3h-8.3zM1393.2 1045.4h8.3v8.3h-8.3zM1396.2 1057.2h8.3v8.3h-8.3zM1399.2 1084.4h8.3v8.3h-8.3zM1402.1 1101.1h8.3v8.3h-8.3zM1405.1 1120h8.3v8.3h-8.3zM1408 1134.6h8.3v8.3h-8.3zM1410.8 1150.4h8.3v8.3h-8.3z" fill="#f0e442"/>
<path d="M812.8 579.1l4.4 7.4h-8.8zM841.4 585.2l4.4 7.4h-8.8zM856.8 589.1l4.4 7.4h-8.8zM875.2 595.7l4.4 7.4h-8.8zM891 600.8l4.4 7.4h-8.8zM909.1 608.4l4.4 7.4h-8.8zM923.8 614.4l4.4 7.4h-8.8zM936.8 621.1l4.4 7.4h-8.8zM949.6 627.7l4.4 7.4h-8.8zM964.3 637l4.4 7.4h-8.8zM976.7 642.8l4.4 7.4h-8.8zM988.6 647.9l4.4 7.4h-8.8zM1000.1 654.3l4.4 7.4h-8.8zM1011.1 659.6l4.4 7.4h-8.8zM1021.7 664.1l4.4 7.4h-8.8zM1032 668.4l4.4 7.4h-8.8zM1042 671.7l4.4 7.4h-8.8zM1051.6 674.1l4.4 7.4h-8.8zM1060.9 676.8l4.4 7.4h-8.8zM1070 679.4l4.4 7.4h-8.8zM1078.8 681.8l4.4 7.4h-8.8zM1087.3 685.1l4.4 7.4h-8.8zM1095.6 687.1l4.4 7.4h-8.8zM1103.7 689.1l4.4 7.4h-8.8zM1111.6 690.1l4.4 7.4h-8.8zM1119.3 691l4.4 7.4h-8.8zM1126.8 691.7l4.4 7.4h-8.8zM1134.1 692.4l4.4 7.4h-8.8zM1141.2 693.4l4.4 7.4h-8.8zM1148.2 692.8l4.4 7.4h-8.8zM1155 693.4l4.4 7.4h-8.8zM1161.7 693.4l4.4 7.4h-8.8zM1168.2 694.1l4.4 7.4h-8.8zM1174.6 692.6l4.4 7.4h-8.8zM1180.9 693.4l4.4 7.4h-8.8zM1187 693.4l4.4 7.4h-8.8zM1193 694l4.4 7.4h-8.8zM1198.9 694.3l4.4 7.4h-8.8zM1204.7 694.9l4.4 7.4h-8.8zM1210.4 697l4.4 7.4h-8.8zM1215.9 698.8l4.4 7.4h-8.8zM1221.4 702.7l4.4 7.4h-8.8zM1226.8 705.7l4.4 7.4h-8.8zM1232 710.5l4.4 7.4h-8.8zM1237.2 715.7l4.4 7.4h-8.8zM1242.3 721.1l4.4 7.4h-8.8zM1247.3 728.4l4.4 7.4h-8.8zM1252.3 734.8l4.4 7.4h-8.8zM1257.1 742.5l4.4 7.4h-8.8zM1261.9 750.2l4.4 7.4h-8.8zM1266.6 759.9l4.4 7.4h-8.8zM1271.2 769.9l4.4 7.4h-8.8zM1275.8 780.9l4.4 7.4h-8.8zM1280.3 793.6l4.4 7.4h-8.8zM1284.7 808.5l4.4 7.4h-8.8zM1289.1 826.3l4.4 7.4h-8.8zM1293.4 843.3l4.4 7.4h-8.8zM1297.6 861.8l4.4 7.4h-8.8zM1301.8 882l4.4 7.4h-8.8zM1305.9 903.7l4.4 7.4h-8.8zM1310 926.6l4.4 7.4h-8.8zM1314 948.6l4.4 7.4h-8.8zM1318 971.3l4.4 7.4h-8.8zM1321.9 995l4.4 7.4h-8.8zM1325.8 1019.5l4.4 7.4h-8.8zM1329.6 1044.4l4.4 7.4h-8.8zM1333.4 1068.9l4.4 7.4h-8.8zM1337.1 1093l4.4 7.4h-8.8zM1340.8 1115.9l4.4 7.4h-8.8zM1344.4 1137.5l4.4 7.4h-8.8z" fill="#000" fill-opacity=".03" stroke="#000" stroke-width="0.61"/>
<path d="M809.6 584.9h6.3M838.2 590.9h6.3M853.6 594.9h6.3M872 601.5h6.3M887.8 606.5h6.3M905.9 614.2h6.3M920.6 620.2h6.3M933.6 626.9h6.3M946.4 633.5h6.3M961.2 642.7h6.3M973.5 648.5h6.3M985.4 653.7h6.3M996.9 660h6.3M1007.9 665.3h6.3M1018.6 669.9h6.3M1028.9 674.1h6.3M1038.8 677.4h6.3M1048.4 679.8h6.3M1057.8 682.6h6.3M1066.8 685.1h6.3M1075.6 687.6h6.3M1084.2 690.9h6.3M1092.5 692.8h6.3M1100.6 694.8h6.3M1108.5 695.8h6.3M1116.1 696.8h6.3M1123.6 697.5h6.3M1131 698.2h6.3M1138.1 699.1h6.3M1145.1 698.5h6.3M1151.9 699.1h6.3M1158.6 699.1h6.3M1165.1 699.8h6.3M1171.5 698.3h6.3M1177.7 699.1h6.3M1183.8 699.1h6.3M1189.9 699.8h6.3M1195.7 700.1h6.3M1201.5 700.7h6.3M1207.2 702.8h6.3M1212.8 704.5h6.3M1218.2 708.5h6.3M1223.6 711.5h6.3M1228.9 716.3h6.3M1234.1 721.5h6.3M1239.2 726.9h6.3M1244.2 734.2h6.3M1249.1 740.5h6.3M1254 748.2h6.3M1258.7 756h6.3M1263.5 765.6h6.3M1268.1 775.7h6.3M1272.6 786.6h6.3M1277.1 799.4h6.3M1281.6 814.3h6.3M1285.9 832.1h6.3M1290.2 849.1h6.3M1294.5 867.6h6.3M1298.7 887.7h6.3M1302.8 909.5h6.3M1306.9 932.3h6.3M1310.9 954.4h6.3M1314.9 977.1h6.3M1318.8 1000.8h6.3M1322.6 1025.3h6.3M1326.4 1050.2h6.3M1330.2 1074.6h6.3M1333.9 1098.8h6.3M1337.6 1121.7h6.3M1341.3 1143.3h6.3M812.8 580.6v5.8M841.4 586.6v5.8M856.8 590.6v5.8M875.2 597.2v5.8M891 602.3v5.8M909.1 609.9v5.8M923.8 615.9v5.8M936.8 622.6v5.8M949.6 629.2v5.8M964.3 638.4v5.8M976.7 644.3v5.8M988.6 649.4v5.8M1000.1 655.7v5.8M1011.1 661v5.8M1021.7 665.6v5.8M1032 669.9v5.8M1042 673.2v5.8M1051.6 675.5v5.8M1060.9 678.3v5.8M1070 680.9v5.8M1078.8 683.3v5.8M1087.3 686.6v5.8M1095.6 688.5v5.8M1103.7 690.6v5.8M1111.6 691.5v5.8M1119.3 692.5v5.8M1126.8 693.2v5.8M1134.1 693.9v5.8M1141.2 694.9v5.8M1148.2 694.3v5.8M1155 694.9v5.8M1161.7 694.9v5.8M1168.2 695.6v5.8M1174.6 694.1v5.8M1180.9 694.9v5.8M1187 694.9v5.8M1193 695.5v5.8M1198.9 695.8v5.8M1204.7 696.4v5.8M1210.4 698.5v5.8M1215.9 700.2v5.8M1221.4 704.2v5.8M1226.8 707.2v5.8M1232 712v5.8M1237.2 717.2v5.8M1242.3 722.6v5.8M1247.3 729.9v5.8M1252.3 736.2v5.8M1257.1 743.9v5.8M1261.9 751.7v5.8M1266.6 761.4v5.8M1271.2 771.4v5.8M1275.8 782.4v5.8M1280.3 795.1v5.8M1284.7 810v5.8M1289.1 827.8v5.8M1293.4 844.8v5.8M1297.6 863.3v5.8M1301.8 883.4v5.8M1305.9 905.2v5.8M1310 928.1v5.8M1314 950.1v5.8M1318 972.8v5.8M1321.9 996.5v5.8M1325.8 1021v5.8M1329.6 1045.9v5.8M1333.4 1070.4v5.8M1337.1 1094.5v5.8M1340.8 1117.4v5.8M1344.4 1139v5.8" fill="none" stroke="#000" stroke-width="0.64"/>
</g>
<g>
<path d="M808.9 1219.6h7.8M812.8 1216.5v6.2M809.6 1216.6h6.4M809.6 1222.6h6.4M837.5 1231.2h7.8M841.4 1228.1v6.2M838.2 1228.2h6.4M838.2 1234.2h6.4M852.9 1230.5h7.8M856.8 1227.4v6.2M853.6 1227.5h6.4M853.6 1233.5h6.4M871.3 1245.4h7.8M875.2 1242.3v6.2M872 1242.4h6.4M872 1248.4h6.4M887.1 1251.3h7.8M891 1248.2v6.2M887.8 1248.3h6.4M887.8 1254.3h6.4M905.2 1259.8h7.8M909.1 1256.6v6.2M905.9 1256.7h6.4M905.9 1262.8h6.4M919.9 1269.4h7.8M923.8 1266.3v6.2M920.6 1266.4h6.4M920.6 1272.5h6.4M932.9 1278.1h7.8M936.8 1274.9v6.2M933.6 1275h6.4M933.6 1281.1h6.4M945.7 1285.3h7.8M949.6 1282.1v6.2M946.4 1282.2h6.4M946.4 1288.3h6.4M960.4 1294.5h7.8M964.3 1291.4v6.2M961.1 1291.4h6.4M961.1 1297.6h6.4M972.8 1303.6h7.8M976.7 1300.4v6.2M973.5 1300.4h6.4M973.5 1306.7h6.4M984.7 1311.5h7.8M988.6 1308.3v6.3M985.4 1308.3h6.4M985.4 1314.6h6.4M996.2 1318.9h7.8M1000.1 1315.7v6.3M996.9 1315.7h6.4M996.9 1322h6.4M1007.2 1326.7h7.8M1011.1 1323.5v6.4M1007.9 1323.5h6.4M1007.9 1329.9h6.4M1017.8 1333h7.8M1021.7 1329.8v6.4M1018.5 1329.8h6.4M1018.5 1336.2h6.4M1028.1 1340.9h7.8M1032 1337.7v6.5M1028.8 1337.7h6.4M1028.8 1344.2h6.4M1038.1 1347.1h7.8M1042 1343.9v6.5M1038.8 1343.9h6.4M1038.8 1350.4h6.4M1047.7 1356.4h7.8M1051.6 1353.1v6.6M1048.4 1353.1h6.4M1048.4 1359.7h6.4M1057 1361.7h7.8M1060.9 1358.3v6.7M1057.7 1358.3h6.4M1057.7 1365h6.4M1066.1 1368.1h7.8M1070 1364.7v6.7M1066.8 1364.7h6.4M1066.8 1371.4h6.4M1074.9 1374h7.8M1078.8 1370.6v6.8M1075.6 1370.6h6.4M1075.6 1377.4h6.4M1083.4 1381.3h7.8M1087.3 1377.9v6.9M1084.1 1377.9h6.4M1084.1 1384.7h6.4M1091.7 1388h7.8M1095.6 1384.5v6.9M1092.4 1384.5h6.4M1092.4 1391.4h6.4M1099.8 1392h7.8M1103.7 1388.5v7M1100.5 1388.5h6.4M1100.5 1395.5h6.4M1107.7 1397.3h7.8M1111.6 1393.8v7.1M1108.4 1393.8h6.4M1108.4 1400.9h6.4M1115.4 1404.5h7.8M1119.3 1400.9v7.1M1116.1 1400.9h6.4M1116.1 1408.1h6.4M1122.9 1411.2h7.8M1126.8 1407.6v7.2M1123.6 1407.6h6.4M1123.6 1414.8h6.4M1130.2 1416.4h7.8M1134.1 1412.8v7.3M1130.9 1412.8h6.4M1130.9 1420h6.4M1137.3 1421.5h7.8M1141.2 1417.8v7.3M1138 1417.8h6.4M1138 1425.1h6.4M1144.3 1426.3h7.8M1148.2 1422.6v7.4M1145 1422.6h6.4M1145 1430h6.4M1151.1 1431.1h7.8M1155 1427.4v7.5M1151.8 1427.4h6.4M1151.8 1434.8h6.4M1157.8 1435.1h7.8M1161.7 1431.3v7.5M1158.5 1431.3h6.4M1158.5 1438.8h6.4M1164.3 1438.9h7.8M1168.2 1435.1v7.6M1165 1435.1h6.4M1165 1442.7h6.4M1170.7 1443.3h7.8M1174.6 1439.5v7.7M1171.4 1439.5h6.4M1171.4 1447.1h6.4M1177 1446.6h7.8M1180.9 1442.8v7.7M1177.7 1442.8h6.4M1177.7 1450.5h6.4M1183.1 1451.6h7.8M1187 1447.7v7.8M1183.8 1447.7h6.4M1183.8 1455.5h6.4M1189.1 1452.7h7.8M1193 1448.7v7.9M1189.8 1448.7h6.4M1189.8 1456.6h6.4M1195 1455.2h7.8M1198.9 1451.2v7.9M1195.7 1451.2h6.4M1195.7 1459.2h6.4M1200.8 1456.8h7.8M1204.7 1452.8v8M1201.5 1452.8h6.4M1201.5 1460.8h6.4M1206.5 1458.2h7.8M1210.4 1454.1v8.1M1207.2 1454.1h6.4M1207.2 1462.2h6.4M1212 1460h7.8M1215.9 1456v8.2M1212.7 1456h6.4M1212.7 1464.1h6.4M1217.5 1463h7.8M1221.4 1458.9v8.2M1218.2 1458.9h6.4M1218.2 1467.1h6.4M1222.9 1465h7.8M1226.8 1460.9v8.3M1223.6 1460.9h6.4M1223.6 1469.1h6.4M1228.1 1468h7.8M1232 1463.8v8.4M1228.8 1463.8h6.4M1228.8 1472.2h6.4M1233.3 1469.1h7.8M1237.2 1464.9v8.4M1234 1464.9h6.4M1234 1473.3h6.4M1238.4 1472.8h7.8M1242.3 1468.5v8.5M1239.1 1468.5h6.4M1239.1 1477h6.4M1243.4 1477.1h7.8M1247.3 1472.8v8.6M1244.1 1472.8h6.4M1244.1 1481.4h6.4M1248.4 1478.7h7.8M1252.3 1474.4v8.6M1249.1 1474.4h6.4M1249.1 1483h6.4M1253.2 1482.1h7.8M1257.1 1477.8v8.7M1253.9 1477.8h6.4M1253.9 1486.5h6.4M1258 1484.4h7.8M1261.9 1480v8.8M1258.7 1480h6.4M1258.7 1488.8h6.4M1262.7 1486.4h7.8M1266.6 1482v8.8M1263.4 1482h6.4M1263.4 1490.8h6.4M1267.3 1489h7.8M1271.2 1484.5v8.9M1268 1484.5h6.4M1268 1493.4h6.4M1271.9 1490.8h7.8M1275.8 1486.3v9M1272.6 1486.3h6.4M1272.6 1495.3h6.4M1276.4 1496.3h7.8M1280.3 1491.8v9.1M1277.1 1491.8h6.4M1277.1 1500.8h6.4M1280.8 1497.8h7.8M1284.7 1493.2v9.1M1281.5 1493.2h6.4M1281.5 1502.4h6.4M1285.2 1501.2h7.8M1289.1 1496.6v9.2M1285.9 1496.6h6.4M1285.9 1505.8h6.4M1289.5 1506.6h7.8M1293.4 1502v9.3M1290.2 1502h6.4M1290.2 1511.2h6.4M1293.7 1508.2h7.8M1297.6 1503.5v9.3M1294.4 1503.5h6.4M1294.4 1512.8h6.4M1297.9 1514h7.8M1301.8 1509.3v9.4M1298.6 1509.3h6.4M1298.6 1518.7h6.4M1302 1516.8h7.8M1305.9 1512.1v9.5M1302.7 1512.1h6.4M1302.7 1521.5h6.4M1306.1 1520.1h7.8M1310 1515.3v9.5M1306.8 1515.3h6.4M1306.8 1524.8h6.4M1310.1 1522.3h7.8M1314 1517.5v9.6M1310.8 1517.5h6.4M1310.8 1527.1h6.4M1314.1 1524h7.8M1318 1519.2v9.7M1314.8 1519.2h6.4M1314.8 1528.8h6.4M1318 1526.3h7.8M1321.9 1521.5v9.7M1318.7 1521.5h6.4M1318.7 1531.2h6.4M1321.9 1531.6h7.8M1325.8 1526.7v9.8M1322.6 1526.7h6.4M1322.6 1536.5h6.4M1325.7 1530.3h7.8M1329.6 1525.4v9.9M1326.4 1525.4h6.4M1326.4 1535.2h6.4M1329.5 1529.5h7.8M1333.4 1524.5v9.9M1330.2 1524.5h6.4M1330.2 1534.5h6.4M1333.2 1530.7h7.8M1337.1 1525.7v10M1333.9 1525.7h6.4M1333.9 1535.7h6.4M1336.9 1529.1h7.8M1340.8 1524.1v10.1M1337.6 1524.1h6.4M1337.6 1534.1h6.4M1340.5 1531.4h7.8M1344.4 1526.4v10.1M1341.2 1526.4h6.4M1341.2 1536.5h6.4M1344.1 1534.5h7.8M1348 1529.4v10.2M1344.8 1529.4h6.4M1344.8 1539.6h6.4M1347.6 1540.7h7.8M1351.5 1535.6v10.2M1348.3 1535.6h6.4M1348.3 1545.9h6.4M1351.2 1543.8h7.8M1355.1 1538.6v10.3M1351.9 1538.6h6.4M1351.9 1548.9h6.4M1354.6 1546.5h7.8M1358.5 1541.4v10.4M1355.3 1541.4h6.4M1355.3 1551.7h6.4M1358 1551.5h7.8M1361.9 1546.3v10.4M1358.7 1546.3h6.4M1358.7 1556.7h6.4M1361.4 1555.3h7.8M1365.3 1550.1v10.5M1362.1 1550.1h6.4M1362.1 1560.6h6.4M1364.8 1558.6h7.8M1368.7 1553.3v10.6M1365.5 1553.3h6.4M1365.5 1563.9h6.4M1368.1 1564.6h7.8M1372 1559.3v10.6M1368.8 1559.3h6.4M1368.8 1569.9h6.4M1371.4 1568.6h7.8M1375.3 1563.3v10.7M1372.1 1563.3h6.4M1372.1 1574h6.4M1374.6 1565.6h7.8M1378.5 1560.2v10.8M1375.3 1560.2h6.4M1375.3 1571h6.4M1377.8 1566h7.8M1381.7 1560.6v10.8M1378.5 1560.6h6.4M1378.5 1571.4h6.4M1381 1571.1h7.8M1384.9 1565.6v10.9M1381.7 1565.6h6.4M1381.7 1576.5h6.4M1384.2 1562.7h7.8M1388.1 1557.2v10.9M1384.9 1557.2h6.4M1384.9 1568.1h6.4M1387.3 1563.4h7.8M1391.2 1557.9v11M1388 1557.9h6.4M1388 1568.9h6.4M1390.4 1558.8h7.8M1394.3 1553.3v11.1M1391.1 1553.3h6.4M1391.1 1564.4h6.4M1393.4 1557.6h7.8M1397.3 1552v11.1M1394.1 1552h6.4M1394.1 1563.1h6.4M1396.4 1552.1h7.8M1400.3 1546.5v11.2M1397.1 1546.5h6.4M1397.1 1557.7h6.4M1399.4 1551.7h7.8M1403.3 1546.1v11.3M1400.1 1546.1h6.4M1400.1 1557.3h6.4M1402.4 1544.6h7.8M1406.3 1539v11.3M1403.1 1539h6.4M1403.1 1550.3h6.4M1405.3 1541.3h7.8M1409.2 1535.6v11.4M1406 1535.6h6.4M1406 1546.9h6.4M1408.2 1544.9h7.8M1412.1 1539.1v11.4M1408.9 1539.1h6.4M1408.9 1550.6h6.4M1411.1 1539.6h7.8M1415 1533.8v11.5M1411.8 1533.8h6.4M1411.8 1545.3h6.4M1413.9 1534.4h7.8M1417.8 1528.6v11.6M1414.6 1528.6h6.4M1414.6 1540.2h6.4M1416.8 1531.4h7.8M1420.7 1525.6v11.6M1417.5 1525.6h6.4M1417.5 1537.2h6.4M1419.5 1522.7h7.8M1423.4 1516.9v11.7M1420.2 1516.9h6.4M1420.2 1528.5h6.4M1422.3 1518.3h7.8M1426.2 1512.4v11.7M1423 1512.4h6.4M1423 1524.1h6.4M1425.1 1520h7.8M1429 1514.1v11.8M1425.8 1514.1h6.4M1425.8 1525.9h6.4M1427.8 1518.7h7.8M1431.7 1512.8v11.9M1428.5 1512.8h6.4M1428.5 1524.6h6.4M1430.5 1495.1h7.8M1434.4 1489.1v11.9M1431.2 1489.1h6.4M1431.2 1501.1h6.4M1433.2 1487.6h7.8M1437.1 1481.7v12M1433.9 1481.7h6.4M1433.9 1493.6h6.4M1435.8 1478.4h7.8M1439.7 1472.4v12M1436.5 1472.4h6.4M1436.5 1484.4h6.4M1438.4 1454.2h7.8M1442.3 1448.2v12.1M1439.1 1448.2h6.4M1439.1 1460.3h6.4M1441 1447.8h7.8M1444.9 1441.7v12.1M1441.7 1441.7h6.4M1441.7 1453.8h6.4M1443.6 1420.3h7.8M1447.5 1414.2v12.2M1444.3 1414.2h6.4M1444.3 1426.4h6.4M1446.2 1408.6h7.8M1450.1 1402.5v12.3M1446.9 1402.5h6.4M1446.9 1414.7h6.4M1448.7 1395.4h7.8M1452.6 1389.3v12.3M1449.4 1389.3h6.4M1449.4 1401.6h6.4M1451.2 1388.4h7.8M1455.1 1382.2v12.4M1451.9 1382.2h6.4M1451.9 1394.6h6.4M1453.7 1377.5h7.8M1457.6 1371.2v12.4M1454.4 1371.2h6.4M1454.4 1383.7h6.4M1456.2 1361.7h7.8M1460.1 1355.5v12.5M1456.9 1355.5h6.4M1456.9 1368h6.4M1458.7 1353.6h7.8M1462.6 1347.3v12.6M1459.4 1347.3h6.4M1459.4 1359.8h6.4M1461.1 1343.2h7.8M1465 1336.9v12.6M1461.8 1336.9h6.4M1461.8 1349.5h6.4M1463.5 1351.4h7.8M1467.4 1345v12.7M1464.2 1345h6.4M1464.2 1357.7h6.4M1465.9 1356.2h7.8M1469.8 1349.8v12.7M1466.6 1349.8h6.4M1466.6 1362.6h6.4M1468.3 1372.4h7.8M1472.2 1366v12.8M1469 1366h6.4M1469 1378.8h6.4M1470.7 1378.3h7.8M1474.6 1371.9v12.8M1471.4 1371.9h6.4M1471.4 1384.7h6.4M1473 1403.7h7.8M1476.9 1397.3v12.9M1473.7 1397.3h6.4M1473.7 1410.2h6.4M1475.3 1444h7.8M1479.2 1437.5v12.9M1476 1437.5h6.4M1476 1450.4h6.4M1477.6 1488.9h7.8M1481.5 1482.4v13M1478.3 1482.4h6.4M1478.3 1495.4h6.4" fill="none" stroke="#9400d3" stroke-width="0.85"/>
<path d="M809 1214.2l7.7 7.7m0 -7.7l-7.7 7.7M812.8 1217.3v1.6M809.7 1217.3h6.2M809.7 1218.9h6.2M837.6 1225.8l7.7 7.7m0 -7.7l-7.7 7.7M841.4 1228.9v1.6M838.3 1228.9h6.2M838.3 1230.5h6.2M853 1225.1l7.7 7.7m0 -7.7l-7.7 7.7M856.8 1228.2v1.6M853.7 1228.2h6.2M853.7 1229.8h6.2M871.4 1240.1l7.7 7.7m0 -7.7l-7.7 7.7M875.2 1243.2v1.6M872.1 1243.2h6.2M872.1 1244.8h6.2M887.1 1245.9l7.7 7.7m0 -7.7l-7.7 7.7M891 1248.9v1.6M887.9 1248.9h6.2M887.9 1250.5h6.2M905.2 1254.1l7.7 7.7m0 -7.7l-7.7 7.7M909.1 1257.2v1.6M906 1257.2h6.2M906 1258.8h6.2M920 1264.3l7.7 7.7m0 -7.7l-7.7 7.7M923.8 1267.3v1.6M920.7 1267.3h6.2M920.7 1268.9h6.2M933 1272.7l7.7 7.7m0 -7.7l-7.7 7.7M936.8 1275.8v1.6M933.7 1275.8h6.2M933.7 1277.4h6.2M945.8 1280l7.7 7.7m0 -7.7l-7.7 7.7M949.6 1283v1.6M946.5 1283h6.2M946.5 1284.6h6.2M960.5 1289.2l7.7 7.7m0 -7.7l-7.7 7.7M964.3 1292.3v1.6M961.2 1292.3h6.2M961.2 1293.9h6.2M972.9 1297.9l7.7 7.7m0 -7.7l-7.7 7.7M976.7 1300.9v1.6M973.6 1300.9h6.2M973.6 1302.5h6.2M984.8 1306.1l7.7 7.7m0 -7.7l-7.7 7.7M988.6 1309.1v1.6M985.5 1309.1h6.2M985.5 1310.7h6.2M996.2 1313.9l7.7 7.7m0 -7.7l-7.7 7.7M1000.1 1316.9v1.6M997 1316.9h6.2M997 1318.5h6.2M1007.2 1321.3l7.7 7.7m0 -7.7l-7.7 7.7M1011.1 1324.3v1.6M1008 1324.3h6.2M1008 1325.9h6.2M1017.9 1328.4l7.7 7.7m0 -7.7l-7.7 7.7M1021.7 1331.4v1.6M1018.6 1331.4h6.2M1018.6 1333h6.2M1028.2 1336.2l7.7 7.7m0 -7.7l-7.7 7.7M1032 1339.3v1.6M1028.9 1339.3h6.2M1028.9 1340.9h6.2M1038.1 1342.2l7.7 7.7m0 -7.7l-7.7 7.7M1042 1345.3v1.6M1038.9 1345.3h6.2M1038.9 1346.9h6.2M1047.8 1351l7.7 7.7m0 -7.7l-7.7 7.7M1051.6 1354.1v1.6M1048.5 1354.1h6.2M1048.5 1355.7h6.2M1057.1 1355.7l7.7 7.7m0 -7.7l-7.7 7.7M1060.9 1358.7v1.7M1057.8 1358.7h6.2M1057.8 1360.4h6.2M1066.1 1362.2l7.7 7.7m0 -7.7l-7.7 7.7M1070 1365.2v1.8M1066.9 1365.2h6.2M1066.9 1367h6.2M1074.9 1369.3l7.7 7.7m0 -7.7l-7.7 7.7M1078.8 1372.2v1.8M1075.7 1372.2h6.2M1075.7 1374.1h6.2M1083.5 1375.6l7.7 7.7m0 -7.7l-7.7 7.7M1087.3 1378.5v1.9M1084.2 1378.5h6.2M1084.2 1380.4h6.2M1091.8 1382.6l7.7 7.7m0 -7.7l-7.7 7.7M1095.6 1385.5v2M1092.5 1385.5h6.2M1092.5 1387.4h6.2M1099.9 1387.9l7.7 7.7m0 -7.7l-7.7 7.7M1103.7 1390.8v2.1M1100.6 1390.8h6.2M1100.6 1392.8h6.2M1107.8 1392.5l7.7 7.7m0 -7.7l-7.7 7.7M1111.6 1395.3v2.1M1108.5 1395.3h6.2M1108.5 1397.4h6.2M1115.5 1398.5l7.7 7.7m0 -7.7l-7.7 7.7M1119.3 1401.3v2.2M1116.2 1401.3h6.2M1116.2 1403.5h6.2M1122.9 1405.2l7.7 7.7m0 -7.7l-7.7 7.7M1126.8 1407.9v2.3M1123.7 1407.9h6.2M1123.7 1410.1h6.2M1130.3 1411.4l7.7 7.7m0 -7.7l-7.7 7.7M1134.1 1414.1v2.3M1131 1414.1h6.2M1131 1416.5h6.2M1137.4 1415.5l7.7 7.7m0 -7.7l-7.7 7.7M1141.2 1418.1v2.4M1138.1 1418.1h6.2M1138.1 1420.6h6.2M1144.4 1420.8l7.7 7.7m0 -7.7l-7.7 7.7M1148.2 1423.4v2.5M1145.1 1423.4h6.2M1145.1 1425.9h6.2M1151.2 1425.6l7.7 7.7m0 -7.7l-7.7 7.7M1155 1428.1v2.6M1151.9 1428.1h6.2M1151.9 1430.7h6.2M1157.9 1429.8l7.7 7.7m0 -7.7l-7.7 7.7M1161.7 1432.3v2.6M1158.6 1432.3h6.2M1158.6 1435h6.2M1164.4 1434.6l7.7 7.7m0 -7.7l-7.7 7.7M1168.2 1437.1v2.7M1165.1 1437.1h6.2M1165.1 1439.8h6.2M1170.8 1437.9l7.7 7.7m0 -7.7l-7.7 7.7M1174.6 1440.3v2.8M1171.5 1440.3h6.2M1171.5 1443.1h6.2M1177 1440.9l7.7 7.7m0 -7.7l-7.7 7.7M1180.9 1443.3v2.9M1177.8 1443.3h6.2M1177.8 1446.2h6.2M1183.2 1445.4l7.7 7.7m0 -7.7l-7.7 7.7M1187 1447.7v2.9M1183.9 1447.7h6.2M1183.9 1450.7h6.2M1189.2 1447.3l7.7 7.7m0 -7.7l-7.7 7.7M1193 1449.6v3M1189.9 1449.6h6.2M1189.9 1452.6h6.2M1195.1 1450.2l7.7 7.7m0 -7.7l-7.7 7.7M1198.9 1452.5v3.1M1195.8 1452.5h6.2M1195.8 1455.6h6.2M1200.8 1451.6l7.7 7.7m0 -7.7l-7.7 7.7M1204.7 1453.9v3.2M1201.6 1453.9h6.2M1201.6 1457h6.2M1206.5 1453.3l7.7 7.7m0 -7.7l-7.7 7.7M1210.4 1455.5v3.2M1207.3 1455.5h6.2M1207.3 1458.7h6.2M1212.1 1455.5l7.7 7.7m0 -7.7l-7.7 7.7M1215.9 1457.7v3.3M1212.8 1457.7h6.2M1212.8 1461h6.2M1217.5 1457.9l7.7 7.7m0 -7.7l-7.7 7.7M1221.4 1460.1v3.4M1218.3 1460.1h6.2M1218.3 1463.5h6.2M1222.9 1459.5l7.7 7.7m0 -7.7l-7.7 7.7M1226.8 1461.7v3.4M1223.7 1461.7h6.2M1223.7 1465.1h6.2M1228.2 1461.8l7.7 7.7m0 -7.7l-7.7 7.7M1232 1463.9v3.5M1228.9 1463.9h6.2M1228.9 1467.5h6.2M1233.4 1464.4l7.7 7.7m0 -7.7l-7.7 7.7M1237.2 1466.5v3.6M1234.1 1466.5h6.2M1234.1 1470.1h6.2M1238.5 1467.4l7.7 7.7m0 -7.7l-7.7 7.7M1242.3 1469.4v3.7M1239.2 1469.4h6.2M1239.2 1473h6.2M1243.5 1471.9l7.7 7.7m0 -7.7l-7.7 7.7M1247.3 1473.8v3.7M1244.2 1473.8h6.2M1244.2 1477.6h6.2M1248.4 1474.7l7.7 7.7m0 -7.7l-7.7 7.7M1252.3 1476.7v3.8M1249.2 1476.7h6.2M1249.2 1480.5h6.2M1253.3 1476.7l7.7 7.7m0 -7.7l-7.7 7.7M1257.1 1478.6v3.9M1254 1478.6h6.2M1254 1482.5h6.2M1258.1 1481l7.7 7.7m0 -7.7l-7.7 7.7M1261.9 1482.9v4M1258.8 1482.9h6.2M1258.8 1486.8h6.2M1262.8 1484l7.7 7.7m0 -7.7l-7.7 7.7M1266.6 1485.8v4M1263.5 1485.8h6.2M1263.5 1489.9h6.2M1267.4 1487.2l7.7 7.7m0 -7.7l-7.7 7.7M1271.2 1489v4.1M1268.1 1489h6.2M1268.1 1493.1h6.2M1271.9 1490.9l7.7 7.7m0 -7.7l-7.7 7.7M1275.8 1492.6v4.2M1272.7 1492.6h6.2M1272.7 1496.8h6.2M1276.4 1493.2l7.7 7.7m0 -7.7l-7.7 7.7M1280.3 1494.9v4.3M1277.2 1494.9h6.2M1277.2 1499.1h6.2M1280.9 1495l7.7 7.7m0 -7.7l-7.7 7.7M1284.7 1496.7v4.3M1281.6 1496.7h6.2M1281.6 1501.1h6.2M1285.2 1498.3l7.7 7.7m0 -7.7l-7.7 7.7M1289.1 1499.9v4.4M1286 1499.9h6.2M1286 1504.3h6.2M1289.5 1500.8l7.7 7.7m0 -7.7l-7.7 7.7M1293.4 1502.4v4.5M1290.3 1502.4h6.2M1290.3 1506.9h6.2M1293.8 1506.1l7.7 7.7m0 -7.7l-7.7 7.7M1297.6 1507.7v4.6M1294.5 1507.7h6.2M1294.5 1512.2h6.2M1298 1509.8l7.7 7.7m0 -7.7l-7.7 7.7M1301.8 1511.4v4.6M1298.7 1511.4h6.2M1298.7 1516h6.2M1302.1 1514l7.7 7.7m0 -7.7l-7.7 7.7M1305.9 1515.5v4.7M1302.8 1515.5h6.2M1302.8 1520.2h6.2M1306.2 1517.7l7.7 7.7m0 -7.7l-7.7 7.7M1310 1519.2v4.8M1306.9 1519.2h6.2M1306.9 1524h6.2M1310.2 1520.9l7.7 7.7m0 -7.7l-7.7 7.7M1314 1522.3v4.8M1310.9 1522.3h6.2M1310.9 1527.2h6.2M1314.2 1522.4l7.7 7.7m0 -7.7l-7.7 7.7M1318 1523.7v4.9M1314.9 1523.7h6.2M1314.9 1528.7h6.2M1318.1 1525.7l7.7 7.7m0 -7.7l-7.7 7.7M1321.9 1527v5M1318.8 1527h6.2M1318.8 1532h6.2M1321.9 1526.6l7.7 7.7m0 -7.7l-7.7 7.7M1325.8 1527.9v5.1M1322.7 1527.9h6.2M1322.7 1533h6.2M1325.8 1531.1l7.7 7.7m0 -7.7l-7.7 7.7M1329.6 1532.3v5.1M1326.5 1532.3h6.2M1326.5 1537.5h6.2M1329.5 1534.3l7.7 7.7m0 -7.7l-7.7 7.7M1333.4 1535.6v5.2M1330.3 1535.6h6.2M1330.3 1540.8h6.2M1333.2 1538.8l7.7 7.7m0 -7.7l-7.7 7.7M1337.1 1540v5.3M1334 1540h6.2M1334 1545.3h6.2M1336.9 1539.8l7.7 7.7m0 -7.7l-7.7 7.7M1340.8 1541v5.3M1337.7 1541h6.2M1337.7 1546.4h6.2M1340.6 1539.6l7.7 7.7m0 -7.7l-7.7 7.7M1344.4 1540.7v5.4M1341.3 1540.7h6.2M1341.3 1546.1h6.2M1344.1 1539.7l7.7 7.7m0 -7.7l-7.7 7.7M1348 1540.8v5.5M1344.9 1540.8h6.2M1344.9 1546.3h6.2M1347.7 1543.8l7.7 7.7m0 -7.7l-7.7 7.7M1351.5 1544.8v5.5M1348.4 1544.8h6.2M1348.4 1550.4h6.2M1351.2 1541.5l7.7 7.7m0 -7.7l-7.7 7.7M1355.1 1542.5v5.6M1352 1542.5h6.2M1352 1548.1h6.2M1354.7 1541.3l7.7 7.7m0 -7.7l-7.7 7.7M1358.5 1542.3v5.7M1355.4 1542.3h6.2M1355.4 1547.9h6.2M1358.1 1539.8l7.7 7.7m0 -7.7l-7.7 7.7M1361.9 1540.8v5.7M1358.8 1540.8h6.2M1358.8 1546.5h6.2M1361.5 1544.8l7.7 7.7m0 -7.7l-7.7 7.7M1365.3 1545.7v5.8M1362.2 1545.7h6.2M1362.2 1551.5h6.2M1364.8 1545.6l7.7 7.7m0 -7.7l-7.7 7.7M1368.7 1546.5v5.9M1365.6 1546.5h6.2M1365.6 1552.4h6.2M1368.2 1544.8l7.7 7.7m0 -7.7l-7.7 7.7M1372 1545.6v5.9M1368.9 1545.6h6.2M1368.9 1551.6h6.2M1371.4 1546.8l7.7 7.7m0 -7.7l-7.7 7.7M1375.3 1547.6v6M1372.2 1547.6h6.2M1372.2 1553.6h6.2M1374.7 1550.6l7.7 7.7m0 -7.7l-7.7 7.7M1378.5 1551.4v6.1M1375.4 1551.4h6.2M1375.4 1557.4h6.2M1377.9 1547.1l7.7 7.7m0 -7.7l-7.7 7.7M1381.7 1547.8v6.2M1378.6 1547.8h6.2M1378.6 1554h6.2M1381.1 1546.3l7.7 7.7m0 -7.7l-7.7 7.7M1384.9 1547v6.2M1381.8 1547h6.2M1381.8 1553.2h6.2M1384.2 1544.7l7.7 7.7m0 -7.7l-7.7 7.7M1388.1 1545.4v6.3M1385 1545.4h6.2M1385 1551.7h6.2M1387.3 1534.8l7.7 7.7m0 -7.7l-7.7 7.7M1391.2 1535.5v6.4M1388.1 1535.5h6.2M1388.1 1541.9h6.2M1390.4 1537.7l7.7 7.7m0 -7.7l-7.7 7.7M1394.3 1538.3v6.4M1391.2 1538.3h6.2M1391.2 1544.7h6.2M1393.5 1538l7.7 7.7m0 -7.7l-7.7 7.7M1397.3 1538.6v6.5M1394.2 1538.6h6.2M1394.2 1545.1h6.2M1396.5 1538.7l7.7 7.7m0 -7.7l-7.7 7.7M1400.3 1539.2v6.5M1397.2 1539.2h6.2M1397.2 1545.8h6.2M1399.5 1533.7l7.7 7.7m0 -7.7l-7.7 7.7M1403.3 1534.3v6.6M1400.2 1534.3h6.2M1400.2 1540.9h6.2M1402.4 1526.4l7.7 7.7m0 -7.7l-7.7 7.7M1406.3 1526.9v6.7M1403.2 1526.9h6.2M1403.2 1533.6h6.2M1405.4 1526.7l7.7 7.7m0 -7.7l-7.7 7.7M1409.2 1527.2v6.7M1406.1 1527.2h6.2M1406.1 1533.9h6.2M1408.3 1518.4l7.7 7.7m0 -7.7l-7.7 7.7M1412.1 1518.9v6.8M1409 1518.9h6.2M1409 1525.7h6.2M1411.1 1510l7.7 7.7m0 -7.7l-7.7 7.7M1415 1510.4v6.9M1411.9 1510.4h6.2M1411.9 1517.3h6.2M1414 1502.8l7.7 7.7m0 -7.7l-7.7 7.7M1417.8 1503.1v6.9M1414.7 1503.1h6.2M1414.7 1510.1h6.2M1416.8 1495.3l7.7 7.7m0 -7.7l-7.7 7.7M1420.7 1495.6v7M1417.6 1495.6h6.2M1417.6 1502.6h6.2M1419.6 1482.7l7.7 7.7m0 -7.7l-7.7 7.7M1423.4 1483v7.1M1420.3 1483h6.2M1420.3 1490.1h6.2M1422.4 1467.6l7.7 7.7m0 -7.7l-7.7 7.7M1426.2 1467.9v7.1M1423.1 1467.9h6.2M1423.1 1475h6.2M1425.1 1462.8l7.7 7.7m0 -7.7l-7.7 7.7M1429 1463v7.2M1425.9 1463h6.2M1425.9 1470.2h6.2M1427.8 1456.9l7.7 7.7m0 -7.7l-7.7 7.7M1431.7 1457.1v7.3M1428.6 1457.1h6.2M1428.6 1464.4h6.2M1430.5 1455.1l7.7 7.7m0 -7.7l-7.7 7.7M1434.4 1455.3v7.3M1431.3 1455.3h6.2M1431.3 1462.6h6.2M1433.2 1449.6l7.7 7.7m0 -7.7l-7.7 7.7M1437.1 1449.7v7.4M1434 1449.7h6.2M1434 1457.1h6.2M1435.9 1446.5l7.7 7.7m0 -7.7l-7.7 7.7M1439.7 1446.6v7.4M1436.6 1446.6h6.2M1436.6 1454.1h6.2M1438.5 1432.5l7.7 7.7m0 -7.7l-7.7 7.7M1442.3 1432.6v7.5M1439.2 1432.6h6.2M1439.2 1440.1h6.2M1441.1 1422.7l7.7 7.7m0 -7.7l-7.7 7.7M1444.9 1422.8v7.6M1441.8 1422.8h6.2M1441.8 1430.3h6.2M1443.7 1411.7l7.7 7.7m0 -7.7l-7.7 7.7M1447.5 1411.7v7.6M1444.4 1411.7h6.2M1444.4 1419.4h6.2M1446.2 1405.6l7.7 7.7m0 -7.7l-7.7 7.7M1450.1 1405.6v7.7M1447 1405.6h6.2M1447 1413.3h6.2M1448.8 1400l7.7 7.7m0 -7.7l-7.7 7.7M1452.6 1400v7.8M1449.5 1400h6.2M1449.5 1407.7h6.2M1451.3 1398.4l7.7 7.7m0 -7.7l-7.7 7.7M1455.1 1398.3v7.8M1452 1398.3h6.2M1452 1406.2h6.2M1453.8 1398.7l7.7 7.7m0 -7.7l-7.7 7.7M1457.6 1398.6v7.9M1454.5 1398.6h6.2M1454.5 1406.5h6.2M1456.3 1400.4l7.7 7.7m0 -7.7l-7.7 7.7M1460.1 1400.3v7.9M1457 1400.3h6.2M1457 1408.2h6.2M1458.7 1411.1l7.7 7.7m0 -7.7l-7.7 7.7M1462.6 1411v8M1459.5 1411h6.2M1459.5 1419h6.2" fill="none" stroke="#009e73" stroke-width="0.85"/>
<path d="M809.6 1212.4l6.4 6.4m0 -6.4l-6.4 6.4M809.1 1215.6h7.4M812.8 1212.4v6.4M809.7 1214.7h6.2M809.7 1216.5h6.2M838.2 1224l6.4 6.4m0 -6.4l-6.4 6.4M837.7 1227.2h7.4M841.4 1224v6.4M838.3 1226.3h6.2M838.3 1228.1h6.2M853.6 1223.3l6.4 6.4m0 -6.4l-6.4 6.4M853.1 1226.5h7.4M856.8 1223.3v6.4M853.7 1225.6h6.2M853.7 1227.4h6.2M872 1238.2l6.4 6.4m0 -6.4l-6.4 6.4M871.5 1241.4h7.4M875.2 1238.2v6.4M872.1 1240.5h6.2M872.1 1242.3h6.2M887.8 1244.1l6.4 6.4m0 -6.4l-6.4 6.4M887.3 1247.3h7.4M891 1244.1v6.4M887.9 1246.4h6.2M887.9 1248.2h6.2M905.9 1252.3l6.4 6.4m0 -6.4l-6.4 6.4M905.4 1255.5h7.4M909.1 1252.3v6.4M906 1254.6h6.2M906 1256.4h6.2M920.6 1262.3l6.4 6.4m0 -6.4l-6.4 6.4M920.1 1265.5h7.4M923.8 1262.3v6.4M920.7 1264.6h6.2M920.7 1266.4h6.2M933.6 1270.7l6.4 6.4m0 -6.4l-6.4 6.4M933.1 1273.9h7.4M936.8 1270.7v6.4M933.7 1273h6.2M933.7 1274.8h6.2M946.4 1278.1l6.4 6.4m0 -6.4l-6.4 6.4M945.9 1281.3h7.4M949.6 1278.1v6.4M946.5 1280.4h6.2M946.5 1282.2h6.2M961.1 1287.7l6.4 6.4m0 -6.4l-6.4 6.4M960.6 1290.9h7.4M964.3 1287.7v6.4M961.2 1290h6.2M961.2 1291.8h6.2M973.5 1295.9l6.4 6.4m0 -6.4l-6.4 6.4M973 1299.1h7.4M976.7 1295.9v6.4M973.6 1298.2h6.2M973.6 1300h6.2M985.4 1304.5l6.4 6.4m0 -6.4l-6.4 6.4M984.9 1307.7h7.4M988.6 1304.5v6.4M985.5 1306.8h6.2M985.5 1308.6h6.2M996.9 1311.7l6.4 6.4m0 -6.4l-6.4 6.4M996.4 1314.9h7.4M1000.1 1311.7v6.4M997 1314h6.2M997 1315.8h6.2M1007.9 1319l6.4 6.4m0 -6.4l-6.4 6.4M1007.4 1322.2h7.4M1011.1 1319v6.4M1008 1321.3h6.2M1008 1323.1h6.2M1018.5 1326.4l6.4 6.4m0 -6.4l-6.4 6.4M1018.1 1329.6h7.4M1021.7 1326.4v6.4M1018.6 1328.7h6.2M1018.6 1330.5h6.2M1028.8 1333.6l6.4 6.4m0 -6.4l-6.4 6.4M1028.3 1336.8h7.4M1032 1333.6v6.4M1028.9 1335.9h6.2M1028.9 1337.7h6.2M1038.8 1340.5l6.4 6.4m0 -6.4l-6.4 6.4M1038.3 1343.7h7.4M1042 1340.5v6.4M1038.9 1342.8h6.2M1038.9 1344.6h6.2M1048.4 1349.1l6.4 6.4m0 -6.4l-6.4 6.4M1047.9 1352.3h7.4M1051.6 1349.1v6.4M1048.5 1351.4h6.2M1048.5 1353.2h6.2M1057.7 1354l6.4 6.4m0 -6.4l-6.4 6.4M1057.3 1357.2h7.4M1060.9 1354v6.4M1057.8 1356.3h6.2M1057.8 1358.1h6.2M1066.8 1360.5l6.4 6.4m0 -6.4l-6.4 6.4M1066.3 1363.7h7.4M1070 1360.5v6.4M1066.9 1362.8h6.2M1066.9 1364.6h6.2M1075.6 1367.7l6.4 6.4m0 -6.4l-6.4 6.4M1075.1 1370.9h7.4M1078.8 1367.7v6.4M1075.7 1370h6.2M1075.7 1371.8h6.2M1084.1 1373.8l6.4 6.4m0 -6.4l-6.4 6.4M1083.7 1377h7.4M1087.3 1373.8v6.4M1084.2 1376.1h6.2M1084.2 1377.9h6.2M1092.4 1380.6l6.4 6.4m0 -6.4l-6.4 6.4M1092 1383.8h7.4M1095.6 1380.6v6.4M1092.5 1382.9h6.2M1092.5 1384.7h6.2M1100.5 1385.7l6.4 6.4m0 -6.4l-6.4 6.4M1100.1 1388.9h7.4M1103.7 1385.7v6.4M1100.6 1388h6.2M1100.6 1389.8h6.2M1108.4 1391.1l6.4 6.4m0 -6.4l-6.4 6.4M1107.9 1394.3h7.4M1111.6 1391.1v6.4M1108.5 1393.4h6.2M1108.5 1395.2h6.2M1116.1 1396.8l6.4 6.4m0 -6.4l-6.4 6.4M1115.6 1400h7.4M1119.3 1396.8v6.4M1116.2 1399h6.2M1116.2 1400.9h6.2M1123.6 1403.6l6.4 6.4m0 -6.4l-6.4 6.4M1123.1 1406.8h7.4M1126.8 1403.6v6.4M1123.7 1405.8h6.2M1123.7 1407.8h6.2M1130.9 1409.5l6.4 6.4m0 -6.4l-6.4 6.4M1130.4 1412.7h7.4M1134.1 1409.5v6.4M1131 1411.7h6.2M1131 1413.7h6.2M1138 1413l6.4 6.4m0 -6.4l-6.4 6.4M1137.6 1416.2h7.4M1141.2 1413v6.4M1138.1 1415.2h6.2M1138.1 1417.2h6.2M1145 1418.8l6.4 6.4m0 -6.4l-6.4 6.4M1144.5 1422h7.4M1148.2 1418.8v6.4M1145.1 1421h6.2M1145.1 1423.1h6.2M1151.8 1423.1l6.4 6.4m0 -6.4l-6.4 6.4M1151.4 1426.3h7.4M1155 1423.1v6.4M1151.9 1425.2h6.2M1151.9 1427.3h6.2M1158.5 1427.2l6.4 6.4m0 -6.4l-6.4 6.4M1158 1430.4h7.4M1161.7 1427.2v6.4M1158.6 1429.3h6.2M1158.6 1431.4h6.2M1165 1433.1l6.4 6.4m0 -6.4l-6.4 6.4M1164.6 1436.3h7.4M1168.2 1433.1v6.4M1165.1 1435.2h6.2M1165.1 1437.4h6.2M1171.4 1436.3l6.4 6.4m0 -6.4l-6.4 6.4M1170.9 1439.5h7.4M1174.6 1436.3v6.4M1171.5 1438.4h6.2M1171.5 1440.7h6.2M1177.7 1440.3l6.4 6.4m0 -6.4l-6.4 6.4M1177.2 1443.5h7.4M1180.9 1440.3v6.4M1177.8 1442.4h6.2M1177.8 1444.7h6.2M1183.8 1442.8l6.4 6.4m0 -6.4l-6.4 6.4M1183.3 1446h7.4M1187 1442.8v6.4M1183.9 1444.8h6.2M1183.9 1447.1h6.2M1189.8 1445.6l6.4 6.4m0 -6.4l-6.4 6.4M1189.3 1448.8h7.4M1193 1445.6v6.4M1189.9 1447.5h6.2M1189.9 1450h6.2M1195.7 1447.8l6.4 6.4m0 -6.4l-6.4 6.4M1195.2 1451h7.4M1198.9 1447.8v6.4M1195.8 1449.8h6.2M1195.8 1452.2h6.2M1201.5 1449.5l6.4 6.4m0 -6.4l-6.4 6.4M1201 1452.7h7.4M1204.7 1449.5v6.4M1201.6 1451.4h6.2M1201.6 1454h6.2M1207.2 1451l6.4 6.4m0 -6.4l-6.4 6.4M1206.7 1454.2h7.4M1210.4 1451v6.4M1207.3 1452.9h6.2M1207.3 1455.5h6.2M1212.7 1453.1l6.4 6.4m0 -6.4l-6.4 6.4M1212.2 1456.3h7.4M1215.9 1453.1v6.4M1212.8 1455h6.2M1212.8 1457.6h6.2M1218.2 1456.1l6.4 6.4m0 -6.4l-6.4 6.4M1217.7 1459.3h7.4M1221.4 1456.1v6.4M1218.3 1458h6.2M1218.3 1460.7h6.2M1223.6 1457.7l6.4 6.4m0 -6.4l-6.4 6.4M1223.1 1460.9h7.4M1226.8 1457.7v6.4M1223.7 1459.5h6.2M1223.7 1462.3h6.2M1228.8 1460.4l6.4 6.4m0 -6.4l-6.4 6.4M1228.4 1463.6h7.4M1232 1460.4v6.4M1228.9 1462.2h6.2M1228.9 1465h6.2M1234 1462.3l6.4 6.4m0 -6.4l-6.4 6.4M1233.5 1465.5h7.4M1237.2 1462.3v6.4M1234.1 1464.1h6.2M1234.1 1466.9h6.2M1239.1 1465.3l6.4 6.4m0 -6.4l-6.4 6.4M1238.6 1468.5h7.4M1242.3 1465.3v6.4M1239.2 1467h6.2M1239.2 1469.9h6.2M1244.1 1468l6.4 6.4m0 -6.4l-6.4 6.4M1243.7 1471.2h7.4M1247.3 1468v6.4M1244.2 1469.7h6.2M1244.2 1472.7h6.2M1249.1 1471.4l6.4 6.4m0 -6.4l-6.4 6.4M1248.6 1474.6h7.4M1252.3 1471.4v6.4M1249.2 1473.1h6.2M1249.2 1476.2h6.2M1253.9 1471.9l6.4 6.4m0 -6.4l-6.4 6.4M1253.4 1475.1h7.4M1257.1 1471.9v6.4M1254 1473.6h6.2M1254 1476.6h6.2M1258.7 1474.3l6.4 6.4m0 -6.4l-6.4 6.4M1258.2 1477.5h7.4M1261.9 1474.3v6.4M1258.8 1475.9h6.2M1258.8 1479h6.2M1263.4 1476.6l6.4 6.4m0 -6.4l-6.4 6.4M1262.9 1479.8h7.4M1266.6 1476.6v6.4M1263.5 1478.2h6.2M1263.5 1481.4h6.2M1268 1479.6l6.4 6.4m0 -6.4l-6.4 6.4M1267.6 1482.8h7.4M1271.2 1479.6v6.4M1268.1 1481.2h6.2M1268.1 1484.5h6.2M1272.6 1481.7l6.4 6.4m0 -6.4l-6.4 6.4M1272.1 1484.9h7.4M1275.8 1481.7v6.4M1272.7 1483.2h6.2M1272.7 1486.5h6.2M1277.1 1483.5l6.4 6.4m0 -6.4l-6.4 6.4M1276.6 1486.7h7.4M1280.3 1483.5v6.4M1277.2 1485.1h6.2M1277.2 1488.4h6.2M1281.5 1486.1l6.4 6.4m0 -6.4l-6.4 6.4M1281 1489.3h7.4M1284.7 1486.1v6.4M1281.6 1487.6h6.2M1281.6 1491h6.2M1285.9 1489.2l6.4 6.4m0 -6.4l-6.4 6.4M1285.4 1492.4h7.4M1289.1 1489.2v6.4M1286 1490.7h6.2M1286 1494.2h6.2M1290.2 1492.7l6.4 6.4m0 -6.4l-6.4 6.4M1289.7 1495.9h7.4M1293.4 1492.7v6.4M1290.3 1494.2h6.2M1290.3 1497.7h6.2M1294.4 1496l6.4 6.4m0 -6.4l-6.4 6.4M1294 1499.2h7.4M1297.6 1496v6.4M1294.5 1497.5h6.2M1294.5 1501h6.2M1298.6 1499.7l6.4 6.4m0 -6.4l-6.4 6.4M1298.1 1502.9h7.4M1301.8 1499.7v6.4M1298.7 1501.1h6.2M1298.7 1504.7h6.2M1302.7 1502.8l6.4 6.4m0 -6.4l-6.4 6.4M1302.3 1506h7.4M1305.9 1502.8v6.4M1302.8 1504.2h6.2M1302.8 1507.8h6.2M1306.8 1505.2l6.4 6.4m0 -6.4l-6.4 6.4M1306.3 1508.4h7.4M1310 1505.2v6.4M1306.9 1506.6h6.2M1306.9 1510.3h6.2M1310.8 1507.4l6.4 6.4m0 -6.4l-6.4 6.4M1310.4 1510.6h7.4M1314 1507.4v6.4M1310.9 1508.7h6.2M1310.9 1512.5h6.2M1314.8 1512l6.4 6.4m0 -6.4l-6.4 6.4M1314.3 1515.2h7.4M1318 1512v6.4M1314.9 1513.3h6.2M1314.9 1517.1h6.2M1318.7 1514.3l6.4 6.4m0 -6.4l-6.4 6.4M1318.2 1517.5h7.4M1321.9 1514.3v6.4M1318.8 1515.6h6.2M1318.8 1519.4h6.2M1322.6 1514.4l6.4 6.4m0 -6.4l-6.4 6.4M1322.1 1517.6h7.4M1325.8 1514.4v6.4M1322.7 1515.6h6.2M1322.7 1519.5h6.2M1326.4 1515.5l6.4 6.4m0 -6.4l-6.4 6.4M1325.9 1518.7h7.4M1329.6 1515.5v6.4M1326.5 1516.7h6.2M1326.5 1520.7h6.2M1330.2 1515.5l6.4 6.4m0 -6.4l-6.4 6.4M1329.7 1518.7h7.4M1333.4 1515.5v6.4M1330.3 1516.7h6.2M1330.3 1520.7h6.2M1333.9 1518.5l6.4 6.4m0 -6.4l-6.4 6.4M1333.4 1521.7h7.4M1337.1 1518.5v6.4M1334 1519.7h6.2M1334 1523.7h6.2M1337.6 1518.4l6.4 6.4m0 -6.4l-6.4 6.4M1337.1 1521.6h7.4M1340.8 1518.4v6.4M1337.7 1519.6h6.2M1337.7 1523.7h6.2M1341.2 1521.2l6.4 6.4m0 -6.4l-6.4 6.4M1340.7 1524.4h7.4M1344.4 1521.2v6.4M1341.3 1522.3h6.2M1341.3 1526.5h6.2M1344.8 1519.2l6.4 6.4m0 -6.4l-6.4 6.4M1344.3 1522.4h7.4M1348 1519.2v6.4M1344.9 1520.3h6.2M1344.9 1524.5h6.2M1348.3 1520.8l6.4 6.4m0 -6.4l-6.4 6.4M1347.9 1524h7.4M1351.5 1520.8v6.4M1348.4 1521.9h6.2M1348.4 1526.2h6.2M1351.9 1519.7l6.4 6.4m0 -6.4l-6.4 6.4M1351.4 1522.9h7.4M1355.1 1519.7v6.4M1352 1520.8h6.2M1352 1525.1h6.2M1355.3 1513.6l6.4 6.4m0 -6.4l-6.4 6.4M1354.8 1516.8h7.4M1358.5 1513.6v6.4M1355.4 1514.6h6.2M1355.4 1519h6.2M1358.7 1516.5l6.4 6.4m0 -6.4l-6.4 6.4M1358.3 1519.7h7.4M1361.9 1516.5v6.4M1358.8 1517.5h6.2M1358.8 1521.9h6.2M1362.1 1522.6l6.4 6.4m0 -6.4l-6.4 6.4M1361.7 1525.8h7.4M1365.3 1522.6v6.4M1362.2 1523.6h6.2M1362.2 1528h6.2M1365.5 1520.9l6.4 6.4m0 -6.4l-6.4 6.4M1365 1524.1h7.4M1368.7 1520.9v6.4M1365.6 1521.8h6.2M1365.6 1526.3h6.2M1368.8 1517l6.4 6.4m0 -6.4l-6.4 6.4M1368.3 1520.2h7.4M1372 1517v6.4M1368.9 1517.9h6.2M1368.9 1522.5h6.2M1372.1 1516.6l6.4 6.4m0 -6.4l-6.4 6.4M1371.6 1519.8h7.4M1375.3 1516.6v6.4M1372.2 1517.5h6.2M1372.2 1522.1h6.2M1375.3 1520.9l6.4 6.4m0 -6.4l-6.4 6.4M1374.9 1524.1h7.4M1378.5 1520.9v6.4M1375.4 1521.7h6.2M1375.4 1526.4h6.2M1378.5 1524l6.4 6.4m0 -6.4l-6.4 6.4M1378.1 1527.2h7.4M1381.7 1524v6.4M1378.6 1524.9h6.2M1378.6 1529.6h6.2M1381.7 1529.7l6.4 6.4m0 -6.4l-6.4 6.4M1381.2 1532.9h7.4M1384.9 1529.7v6.4M1381.8 1530.5h6.2M1381.8 1535.3h6.2M1384.9 1516.5l6.4 6.4m0 -6.4l-6.4 6.4M1384.4 1519.7h7.4M1388.1 1516.5v6.4M1385 1517.3h6.2M1385 1522h6.2M1388 1514.8l6.4 6.4m0 -6.4l-6.4 6.4M1387.5 1518h7.4M1391.2 1514.8v6.4M1388.1 1515.6h6.2M1388.1 1520.4h6.2M1391.1 1511.1l6.4 6.4m0 -6.4l-6.4 6.4M1390.6 1514.3h7.4M1394.3 1511.1v6.4M1391.2 1511.9h6.2M1391.2 1516.7h6.2M1394.1 1505.1l6.4 6.4m0 -6.4l-6.4 6.4M1393.6 1508.3h7.4M1397.3 1505.1v6.4M1394.2 1505.8h6.2M1394.2 1510.7h6.2M1397.1 1497.8l6.4 6.4m0 -6.4l-6.4 6.4M1396.6 1501h7.4M1400.3 1497.8v6.4M1397.2 1498.6h6.2M1397.2 1503.5h6.2M1400.1 1495.8l6.4 6.4m0 -6.4l-6.4 6.4M1399.6 1499h7.4M1403.3 1495.8v6.4M1400.2 1496.5h6.2M1400.2 1501.5h6.2M1403.1 1486.1l6.4 6.4m0 -6.4l-6.4 6.4M1402.6 1489.3h7.4M1406.3 1486.1v6.4M1403.2 1486.8h6.2M1403.2 1491.8h6.2M1406 1479.5l6.4 6.4m0 -6.4l-6.4 6.4M1405.5 1482.7h7.4M1409.2 1479.5v6.4M1406.1 1480.2h6.2M1406.1 1485.3h6.2M1408.9 1474l6.4 6.4m0 -6.4l-6.4 6.4M1408.4 1477.2h7.4M1412.1 1474v6.4M1409 1474.6h6.2M1409 1479.8h6.2M1411.8 1470.3l6.4 6.4m0 -6.4l-6.4 6.4M1411.3 1473.5h7.4M1415 1470.3v6.4M1411.9 1470.9h6.2M1411.9 1476.1h6.2M1414.6 1467.2l6.4 6.4m0 -6.4l-6.4 6.4M1414.2 1470.4h7.4M1417.8 1467.2v6.4M1414.7 1467.8h6.2M1414.7 1473h6.2M1417.5 1463.9l6.4 6.4m0 -6.4l-6.4 6.4M1417 1467.1h7.4M1420.7 1463.9v6.4M1417.6 1464.5h6.2M1417.6 1469.8h6.2M1420.2 1463.8l6.4 6.4m0 -6.4l-6.4 6.4M1419.8 1467h7.4M1423.4 1463.8v6.4M1420.3 1464.3h6.2M1420.3 1469.7h6.2M1423 1463.6l6.4 6.4m0 -6.4l-6.4 6.4M1422.5 1466.8h7.4M1426.2 1463.6v6.4M1423.1 1464.1h6.2M1423.1 1469.5h6.2M1425.8 1460.1l6.4 6.4m0 -6.4l-6.4 6.4M1425.3 1463.3h7.4M1429 1460.1v6.4M1425.9 1460.6h6.2M1425.9 1466h6.2M1428.5 1462.2l6.4 6.4m0 -6.4l-6.4 6.4M1428 1465.4h7.4M1431.7 1462.2v6.4M1428.6 1462.7h6.2M1428.6 1468.1h6.2M1431.2 1462.3l6.4 6.4m0 -6.4l-6.4 6.4M1430.7 1465.5h7.4M1434.4 1462.3v6.4M1431.3 1462.7h6.2M1431.3 1468.2h6.2M1433.9 1463.1l6.4 6.4m0 -6.4l-6.4 6.4M1433.4 1466.3h7.4M1437.1 1463.1v6.4M1434 1463.6h6.2M1434 1469.1h6.2M1436.5 1462.4l6.4 6.4m0 -6.4l-6.4 6.4M1436 1465.6h7.4M1439.7 1462.4v6.4M1436.6 1462.8h6.2M1436.6 1468.4h6.2M1439.1 1462.8l6.4 6.4m0 -6.4l-6.4 6.4M1438.7 1466h7.4M1442.3 1462.8v6.4M1439.2 1463.2h6.2M1439.2 1468.9h6.2M1441.7 1459.7l6.4 6.4m0 -6.4l-6.4 6.4M1441.3 1462.9h7.4M1444.9 1459.7v6.4M1441.8 1460h6.2M1441.8 1465.7h6.2M1444.3 1459.7l6.4 6.4m0 -6.4l-6.4 6.4M1443.8 1462.9h7.4M1447.5 1459.7v6.4M1444.4 1460.1h6.2M1444.4 1465.8h6.2M1446.9 1456.7l6.4 6.4m0 -6.4l-6.4 6.4M1446.4 1459.9h7.4M1450.1 1456.7v6.4M1447 1457h6.2M1447 1462.8h6.2M1449.4 1444.7l6.4 6.4m0 -6.4l-6.4 6.4M1448.9 1447.9h7.4M1452.6 1444.7v6.4M1449.5 1445h6.2M1449.5 1450.8h6.2M1451.9 1441.5l6.4 6.4m0 -6.4l-6.4 6.4M1451.5 1444.7h7.4M1455.1 1441.5v6.4M1452 1441.7h6.2M1452 1447.6h6.2M1454.4 1436l6.4 6.4m0 -6.4l-6.4 6.4M1454 1439.2h7.4M1457.6 1436v6.4M1454.5 1436.3h6.2M1454.5 1442.2h6.2M1456.9 1422.2l6.4 6.4m0 -6.4l-6.4 6.4M1456.4 1425.4h7.4M1460.1 1422.2v6.4M1457 1422.4h6.2M1457 1428.4h6.2M1459.4 1410.6l6.4 6.4m0 -6.4l-6.4 6.4M1458.9 1413.8h7.4M1462.6 1410.6v6.4M1459.5 1410.8h6.2M1459.5 1416.8h6.2" fill="none" stroke="#56b4e9" stroke-width="0.77"/>
<path d="M808.7 1209.6h8.3v8.3h-8.3zM809.3 1213.1h7M809.3 1214.5h7M812.8 1213.1v1.4M837.3 1220.6h8.3v8.3h-8.3zM837.9 1224h7M837.9 1225.4h7M841.4 1224v1.4M852.7 1221.2h8.3v8.3h-8.3zM853.3 1224.6h7M853.3 1226h7M856.8 1224.6v1.4M871.1 1232.8h8.3v8.3h-8.3zM871.7 1236.2h7M871.7 1237.6h7M875.2 1236.2v1.4M886.9 1240.2h8.3v8.3h-8.3zM887.5 1243.6h7M887.5 1245h7M891 1243.6v1.4M905 1249.6h8.3v8.3h-8.3zM905.6 1253.1h7M905.6 1254.5h7M909.1 1253.1v1.4M919.7 1258.9h8.3v8.3h-8.3zM920.3 1262.4h7M920.3 1263.8h7M923.8 1262.4v1.4M932.7 1266.2h8.3v8.3h-8.3zM933.3 1269.7h7M933.3 1271.1h7M936.8 1269.7v1.4M945.5 1274.5h8.3v8.3h-8.3zM946.1 1277.9h7M946.1 1279.3h7M949.6 1277.9v1.4M960.2 1283.8h8.3v8.3h-8.3zM960.8 1287.2h7M960.8 1288.6h7M964.3 1287.2v1.4M972.6 1291.2h8.3v8.3h-8.3zM973.2 1294.6h7M973.2 1296h7M976.7 1294.6v1.4M984.5 1299.8h8.3v8.3h-8.3zM985.1 1303.2h7M985.1 1304.6h7M988.6 1303.2v1.4M995.9 1307.1h8.3v8.3h-8.3zM996.6 1310.5h7M996.6 1311.9h7M1000.1 1310.5v1.4M1006.9 1315.4h8.3v8.3h-8.3zM1007.6 1318.9h7M1007.6 1320.3h7M1011.1 1318.9v1.4M1017.6 1322.9h8.3v8.3h-8.3zM1018.3 1326.3h7M1018.3 1327.7h7M1021.7 1326.3v1.4M1027.9 1329.6h8.3v8.3h-8.3zM1028.5 1333h7M1028.5 1334.4h7M1032 1333v1.4M1037.8 1335.3h8.3v8.3h-8.3zM1038.5 1338.8h7M1038.5 1340.2h7M1042 1338.8v1.4M1047.5 1342.1h8.3v8.3h-8.3zM1048.1 1345.5h7M1048.1 1346.9h7M1051.6 1345.5v1.4M1056.8 1348h8.3v8.3h-8.3zM1057.5 1351.5h7M1057.5 1352.9h7M1060.9 1351.5v1.4M1065.9 1355.6h8.3v8.3h-8.3zM1066.5 1359h7M1066.5 1360.4h7M1070 1359v1.4M1074.6 1361.2h8.3v8.3h-8.3zM1075.3 1364.7h7M1075.3 1366.1h7M1078.8 1364.7v1.4M1083.2 1367.9h8.3v8.3h-8.3zM1083.9 1371.3h7M1083.9 1372.7h7M1087.3 1371.3v1.4M1091.5 1372.8h8.3v8.3h-8.3zM1092.2 1376.2h7M1092.2 1377.7h7M1095.6 1376.2v1.5M1099.6 1378.6h8.3v8.3h-8.3zM1100.3 1382h7M1100.3 1383.5h7M1103.7 1382v1.5M1107.5 1382.8h8.3v8.3h-8.3zM1108.1 1386.2h7M1108.1 1387.7h7M1111.6 1386.2v1.5M1115.2 1386h8.3v8.3h-8.3zM1115.8 1389.3h7M1115.8 1390.9h7M1119.3 1389.3v1.6M1122.7 1390.9h8.3v8.3h-8.3zM1123.3 1394.2h7M1123.3 1395.8h7M1126.8 1394.2v1.6M1130 1394.6h8.3v8.3h-8.3zM1130.6 1397.9h7M1130.6 1399.6h7M1134.1 1397.9v1.6M1137.1 1398.5h8.3v8.3h-8.3zM1137.8 1401.8h7M1137.8 1403.5h7M1141.2 1401.8v1.7M1144.1 1402.1h8.3v8.3h-8.3zM1144.7 1405.4h7M1144.7 1407.1h7M1148.2 1405.4v1.7M1150.9 1404.4h8.3v8.3h-8.3zM1151.6 1407.7h7M1151.6 1409.4h7M1155 1407.7v1.7M1157.6 1408.5h8.3v8.3h-8.3zM1158.2 1411.7h7M1158.2 1413.5h7M1161.7 1411.7v1.8M1164.1 1412.8h8.3v8.3h-8.3zM1164.8 1416.1h7M1164.8 1417.8h7M1168.2 1416.1v1.8M1170.5 1417.1h8.3v8.3h-8.3zM1171.1 1420.3h7M1171.1 1422.2h7M1174.6 1420.3v1.8M1176.7 1419.6h8.3v8.3h-8.3zM1177.4 1422.9h7M1177.4 1424.7h7M1180.9 1422.9v1.9M1182.9 1422.7h8.3v8.3h-8.3zM1183.5 1425.9h7M1183.5 1427.8h7M1187 1425.9v1.9M1188.9 1425.9h8.3v8.3h-8.3zM1189.5 1429.1h7M1189.5 1431h7M1193 1429.1v1.9M1194.8 1427.6h8.3v8.3h-8.3zM1195.4 1430.8h7M1195.4 1432.8h7M1198.9 1430.8v2M1200.5 1429.3h8.3v8.3h-8.3zM1201.2 1432.4h7M1201.2 1434.4h7M1204.7 1432.4v2M1206.2 1430.9h8.3v8.3h-8.3zM1206.9 1434h7M1206.9 1436h7M1210.4 1434v2M1211.8 1432.6h8.3v8.3h-8.3zM1212.4 1435.7h7M1212.4 1437.8h7M1215.9 1435.7v2.1M1217.2 1434.3h8.3v8.3h-8.3zM1217.9 1437.4h7M1217.9 1439.5h7M1221.4 1437.4v2.1M1222.6 1436h8.3v8.3h-8.3zM1223.3 1439.1h7M1223.3 1441.2h7M1226.8 1439.1v2.1M1227.9 1436.9h8.3v8.3h-8.3zM1228.6 1439.9h7M1228.6 1442.1h7M1232 1439.9v2.2M1233.1 1436.9h8.3v8.3h-8.3zM1233.7 1439.9h7M1233.7 1442.1h7M1237.2 1439.9v2.2M1238.2 1437.9h8.3v8.3h-8.3zM1238.8 1440.9h7M1238.8 1443.1h7M1242.3 1440.9v2.2M1243.2 1438.6h8.3v8.3h-8.3zM1243.9 1441.6h7M1243.9 1443.8h7M1247.3 1441.6v2.3M1248.1 1439.2h8.3v8.3h-8.3zM1248.8 1442.2h7M1248.8 1444.4h7M1252.3 1442.2v2.3M1253 1439.2h8.3v8.3h-8.3zM1253.6 1442.1h7M1253.6 1444.5h7M1257.1 1442.1v2.3M1257.8 1439.4h8.3v8.3h-8.3zM1258.4 1442.3h7M1258.4 1444.7h7M1261.9 1442.3v2.4M1262.5 1440h8.3v8.3h-8.3zM1263.1 1443h7M1263.1 1445.4h7M1266.6 1443v2.4M1267.1 1440.9h8.3v8.3h-8.3zM1267.8 1443.9h7M1267.8 1446.3h7M1271.2 1443.9v2.4M1271.7 1445.2h8.3v8.3h-8.3zM1272.3 1448.1h7M1272.3 1450.6h7M1275.8 1448.1v2.5M1276.2 1450.4h8.3v8.3h-8.3zM1276.8 1453.2h7M1276.8 1455.7h7M1280.3 1453.2v2.5M1280.6 1452.3h8.3v8.3h-8.3zM1281.2 1455.1h7M1281.2 1457.7h7M1284.7 1455.1v2.5M1284.9 1454.1h8.3v8.3h-8.3zM1285.6 1457h7M1285.6 1459.5h7M1289.1 1457v2.6M1289.3 1457.6h8.3v8.3h-8.3zM1289.9 1460.5h7M1289.9 1463.1h7M1293.4 1460.5v2.6M1293.5 1460.4h8.3v8.3h-8.3zM1294.2 1463.2h7M1294.2 1465.8h7M1297.6 1463.2v2.6M1297.7 1463.9h8.3v8.3h-8.3zM1298.3 1466.7h7M1298.3 1469.4h7M1301.8 1466.7v2.7M1301.8 1466.5h8.3v8.3h-8.3zM1302.5 1469.3h7M1302.5 1472h7M1305.9 1469.3v2.7M1305.9 1468.3h8.3v8.3h-8.3zM1306.5 1471h7M1306.5 1473.8h7M1310 1471v2.7M1309.9 1469.7h8.3v8.3h-8.3zM1310.6 1472.5h7M1310.6 1475.2h7M1314 1472.5v2.8M1313.9 1471.1h8.3v8.3h-8.3zM1314.5 1473.9h7M1314.5 1476.7h7M1318 1473.9v2.8M1317.8 1472.7h8.3v8.3h-8.3zM1318.4 1475.4h7M1318.4 1478.2h7M1321.9 1475.4v2.8M1321.6 1474.6h8.3v8.3h-8.3zM1322.3 1477.3h7M1322.3 1480.1h7M1325.8 1477.3v2.9M1325.5 1476.5h8.3v8.3h-8.3zM1326.1 1479.2h7M1326.1 1482.1h7M1329.6 1479.2v2.9M1329.2 1478.5h8.3v8.3h-8.3zM1329.9 1481.2h7M1329.9 1484.1h7M1333.4 1481.2v2.9M1333 1479.8h8.3v8.3h-8.3zM1333.6 1482.5h7M1333.6 1485.5h7M1337.1 1482.5v3M1336.6 1480.9h8.3v8.3h-8.3zM1337.3 1483.5h7M1337.3 1486.5h7M1340.8 1483.5v3M1340.3 1482.1h8.3v8.3h-8.3zM1340.9 1484.8h7M1340.9 1487.8h7M1344.4 1484.8v3M1343.9 1482.6h8.3v8.3h-8.3zM1344.5 1485.2h7M1344.5 1488.2h7M1348 1485.2v3.1M1347.4 1482.6h8.3v8.3h-8.3zM1348.1 1485.2h7M1348.1 1488.2h7M1351.5 1485.2v3.1M1350.9 1482.1h8.3v8.3h-8.3zM1351.6 1484.7h7M1351.6 1487.8h7M1355.1 1484.7v3.1M1354.4 1481.1h8.3v8.3h-8.3zM1355 1483.7h7M1355 1486.8h7M1358.5 1483.7v3.2M1357.8 1479.3h8.3v8.3h-8.3zM1358.5 1481.9h7M1358.5 1485.1h7M1361.9 1481.9v3.2M1361.2 1476.4h8.3v8.3h-8.3zM1361.9 1478.9h7M1361.9 1482.1h7M1365.3 1478.9v3.2M1364.5 1473.1h8.3v8.3h-8.3zM1365.2 1475.6h7M1365.2 1478.8h7M1368.7 1475.6v3.3M1367.9 1469.5h8.3v8.3h-8.3zM1368.5 1472h7M1368.5 1475.3h7M1372 1472v3.3M1371.1 1467.1h8.3v8.3h-8.3zM1371.8 1469.6h7M1371.8 1472.9h7M1375.3 1469.6v3.3M1374.4 1465.1h8.3v8.3h-8.3zM1375.1 1467.6h7M1375.1 1470.9h7M1378.5 1467.6v3.3M1377.6 1462.5h8.3v8.3h-8.3zM1378.3 1465h7M1378.3 1468.4h7M1381.7 1465v3.4M1380.8 1460.5h8.3v8.3h-8.3zM1381.4 1462.9h7M1381.4 1466.3h7M1384.9 1462.9v3.4M1383.9 1459.2h8.3v8.3h-8.3zM1384.6 1461.6h7M1384.6 1465h7M1388.1 1461.6v3.4M1387 1458.3h8.3v8.3h-8.3zM1387.7 1460.7h7M1387.7 1464.1h7M1391.2 1460.7v3.5M1390.1 1457.5h8.3v8.3h-8.3zM1390.8 1459.9h7M1390.8 1463.4h7M1394.3 1459.9v3.5M1393.2 1456.8h8.3v8.3h-8.3zM1393.8 1459.2h7M1393.8 1462.7h7M1397.3 1459.2v3.5M1396.2 1456.2h8.3v8.3h-8.3zM1396.8 1458.6h7M1396.8 1462.2h7M1400.3 1458.6v3.6M1399.2 1455.8h8.3v8.3h-8.3zM1399.8 1458.2h7M1399.8 1461.8h7M1403.3 1458.2v3.6M1402.1 1455.5h8.3v8.3h-8.3zM1402.8 1457.8h7M1402.8 1461.5h7M1406.3 1457.8v3.6M1405.1 1455.2h8.3v8.3h-8.3zM1405.7 1457.5h7M1405.7 1461.2h7M1409.2 1457.5v3.6M1408 1454.9h8.3v8.3h-8.3zM1408.6 1457.2h7M1408.6 1460.9h7M1412.1 1457.2v3.7M1410.8 1454.6h8.3v8.3h-8.3zM1411.5 1456.9h7M1411.5 1460.6h7M1415 1456.9v3.7M1413.7 1463h8.3v8.3h-8.3zM1414.4 1465.3h7M1414.4 1469h7M1417.8 1465.3v3.7M1416.5 1465.2h8.3v8.3h-8.3zM1417.2 1467.5h7M1417.2 1471.2h7M1420.7 1467.5v3.8M1419.3 1471.9h8.3v8.3h-8.3zM1420 1474.2h7M1420 1478h7M1423.4 1474.2v3.8M1422.1 1482.6h8.3v8.3h-8.3zM1422.7 1484.9h7M1422.7 1488.7h7M1426.2 1484.9v3.8M1424.8 1494.8h8.3v8.3h-8.3zM1425.5 1497h7M1425.5 1500.9h7M1429 1497v3.9M1427.5 1506.6h8.3v8.3h-8.3zM1428.2 1508.8h7M1428.2 1512.7h7M1431.7 1508.8v3.9M1430.2 1521.8h8.3v8.3h-8.3zM1430.9 1524h7M1430.9 1527.9h7M1434.4 1524v3.9M1432.9 1540.8h8.3v8.3h-8.3zM1433.6 1543h7M1433.6 1546.9h7M1437.1 1543v3.9M1435.6 1552.9h8.3v8.3h-8.3zM1436.2 1555.1h7M1436.2 1559h7M1439.7 1555.1v4M1438.2 1573.4h8.3v8.3h-8.3zM1438.9 1575.6h7M1438.9 1579.6h7M1442.3 1575.6v4" fill="none" stroke="#e69f00" stroke-width="0.85"/>
<path d="M808.7 1200.6h8.3v8.3h-8.3zM837.3 1209.7h8.3v8.3h-8.3zM852.7 1212.9h8.3v8.3h-8.3zM871.1 1221.1h8.3v8.3h-8.3zM886.9 1227.9h8.3v8.3h-8.3zM905 1236.2h8.3v8.3h-8.3zM919.7 1243.6h8.3v8.3h-8.3zM932.7 1250.6h8.3v8.3h-8.3zM945.5 1257.8h8.3v8.3h-8.3zM960.2 1266.3h8.3v8.3h-8.3zM972.6 1273.6h8.3v8.3h-8.3zM984.5 1280.3h8.3v8.3h-8.3zM995.9 1286.4h8.3v8.3h-8.3zM1006.9 1293.8h8.3v8.3h-8.3zM1017.6 1298.9h8.3v8.3h-8.3zM1027.9 1304.6h8.3v8.3h-8.3zM1037.8 1309.4h8.3v8.3h-8.3zM1047.5 1317.1h8.3v8.3h-8.3zM1056.8 1322h8.3v8.3h-8.3zM1065.9 1327.2h8.3v8.3h-8.3zM1074.6 1332.9h8.3v8.3h-8.3zM1083.2 1338.9h8.3v8.3h-8.3zM1091.5 1344.5h8.3v8.3h-8.3zM1099.6 1349.6h8.3v8.3h-8.3zM1107.5 1354.5h8.3v8.3h-8.3zM1115.2 1357.7h8.3v8.3h-8.3zM1122.7 1360.9h8.3v8.3h-8.3zM1130 1364.6h8.3v8.3h-8.3zM1137.1 1365.6h8.3v8.3h-8.3zM1144.1 1366.8h8.3v8.3h-8.3zM1150.9 1368.5h8.3v8.3h-8.3zM1157.6 1370h8.3v8.3h-8.3zM1164.1 1371.8h8.3v8.3h-8.3zM1170.5 1372.9h8.3v8.3h-8.3zM1176.7 1372.9h8.3v8.3h-8.3zM1182.9 1371.7h8.3v8.3h-8.3zM1188.9 1374.8h8.3v8.3h-8.3zM1194.8 1377h8.3v8.3h-8.3zM1200.5 1377.7h8.3v8.3h-8.3zM1206.2 1379.8h8.3v8.3h-8.3zM1211.8 1381.9h8.3v8.3h-8.3zM1217.2 1383.5h8.3v8.3h-8.3zM1222.6 1385.9h8.3v8.3h-8.3zM1227.9 1387.8h8.3v8.3h-8.3zM1233.1 1388.8h8.3v8.3h-8.3zM1238.2 1390.2h8.3v8.3h-8.3zM1243.2 1391.2h8.3v8.3h-8.3zM1248.1 1392.2h8.3v8.3h-8.3zM1253 1393.1h8.3v8.3h-8.3zM1257.8 1394.4h8.3v8.3h-8.3zM1262.5 1395.8h8.3v8.3h-8.3zM1267.1 1396.8h8.3v8.3h-8.3zM1271.7 1397.8h8.3v8.3h-8.3zM1276.2 1399.1h8.3v8.3h-8.3zM1280.6 1400.6h8.3v8.3h-8.3zM1284.9 1402.1h8.3v8.3h-8.3zM1289.3 1402.5h8.3v8.3h-8.3zM1293.5 1402.6h8.3v8.3h-8.3zM1297.7 1402.4h8.3v8.3h-8.3zM1301.8 1402h8.3v8.3h-8.3zM1305.9 1400.5h8.3v8.3h-8.3zM1309.9 1398.9h8.3v8.3h-8.3zM1313.9 1397.4h8.3v8.3h-8.3zM1317.8 1396.7h8.3v8.3h-8.3zM1321.6 1397.6h8.3v8.3h-8.3zM1325.5 1399h8.3v8.3h-8.3zM1329.2 1399.9h8.3v8.3h-8.3zM1333 1401.1h8.3v8.3h-8.3zM1336.6 1406.6h8.3v8.3h-8.3zM1340.3 1412h8.3v8.3h-8.3zM1343.9 1417.2h8.3v8.3h-8.3zM1347.4 1420.9h8.3v8.3h-8.3zM1350.9 1429.5h8.3v8.3h-8.3zM1354.4 1435.8h8.3v8.3h-8.3zM1357.8 1444.9h8.3v8.3h-8.3zM1361.2 1456.6h8.3v8.3h-8.3zM1364.5 1466.6h8.3v8.3h-8.3zM1367.9 1476.6h8.3v8.3h-8.3zM1371.1 1491.3h8.3v8.3h-8.3zM1374.4 1508h8.3v8.3h-8.3zM1377.6 1519.4h8.3v8.3h-8.3zM1380.8 1534.1h8.3v8.3h-8.3zM1383.9 1550.3h8.3v8.3h-8.3zM1387 1566.4h8.3v8.3h-8.3zM1390.1 1582h8.3v8.3h-8.3zM1393.2 1603.6h8.3v8.3h-8.3zM1396.2 1618.7h8.3v8.3h-8.3zM1399.2 1639.2h8.3v8.3h-8.3zM1402.1 1656.7h8.3v8.3h-8.3zM1405.1 1674.6h8.3v8.3h-8.3zM1408 1691.4h8.3v8.3h-8.3zM1410.8 1709.1h8.3v8.3h-8.3zM1413.7 1724.9h8.3v8.3h-8.3z" fill="#f0e442"/>
<path d="M812.8 1162.1l4.4 7.4h-8.8zM841.4 1168.9l4.4 7.4h-8.8zM856.8 1172.1l4.4 7.4h-8.8zM875.2 1178l4.4 7.4h-8.8zM891 1183.8l4.4 7.4h-8.8zM909.1 1189.4l4.4 7.4h-8.8zM923.8 1195.4l4.4 7.4h-8.8zM936.8 1201.4l4.4 7.4h-8.8zM949.6 1207l4.4 7.4h-8.8zM964.3 1213.2l4.4 7.4h-8.8zM976.7 1218.1l4.4 7.4h-8.8zM988.6 1223.9l4.4 7.4h-8.8zM1000.1 1228.9l4.4 7.4h-8.8zM1011.1 1234l4.4 7.4h-8.8zM1021.7 1238.8l4.4 7.4h-8.8zM1032 1242.8l4.4 7.4h-8.8zM1042 1247.6l4.4 7.4h-8.8zM1051.6 1251.3l4.4 7.4h-8.8zM1060.9 1256.2l4.4 7.4h-8.8zM1070 1258.8l4.4 7.4h-8.8zM1078.8 1261.4l4.4 7.4h-8.8zM1087.3 1265.4l4.4 7.4h-8.8zM1095.6 1268.8l4.4 7.4h-8.8zM1103.7 1271.4l4.4 7.4h-8.8zM1111.6 1272.8l4.4 7.4h-8.8zM1119.3 1275.3l4.4 7.4h-8.8zM1126.8 1277l4.4 7.4h-8.8zM1134.1 1278.1l4.4 7.4h-8.8zM1141.2 1278.1l4.4 7.4h-8.8zM1148.2 1278.1l4.4 7.4h-8.8zM1155 1277.8l4.4 7.4h-8.8zM1161.7 1277.4l4.4 7.4h-8.8zM1168.2 1277.4l4.4 7.4h-8.8zM1174.6 1277.4l4.4 7.4h-8.8zM1180.9 1277.4l4.4 7.4h-8.8zM1187 1277.4l4.4 7.4h-8.8zM1193 1277.7l4.4 7.4h-8.8zM1198.9 1278l4.4 7.4h-8.8zM1204.7 1278.7l4.4 7.4h-8.8zM1210.4 1279.3l4.4 7.4h-8.8zM1215.9 1279.7l4.4 7.4h-8.8zM1221.4 1281l4.4 7.4h-8.8zM1226.8 1284l4.4 7.4h-8.8zM1232 1288.5l4.4 7.4h-8.8zM1237.2 1293.7l4.4 7.4h-8.8zM1242.3 1298.1l4.4 7.4h-8.8zM1247.3 1303.8l4.4 7.4h-8.8zM1252.3 1311.3l4.4 7.4h-8.8zM1257.1 1319.1l4.4 7.4h-8.8zM1261.9 1328.6l4.4 7.4h-8.8zM1266.6 1338.2l4.4 7.4h-8.8zM1271.2 1347.4l4.4 7.4h-8.8zM1275.8 1358.8l4.4 7.4h-8.8zM1280.3 1373.1l4.4 7.4h-8.8zM1284.7 1388.5l4.4 7.4h-8.8zM1289.1 1401.4l4.4 7.4h-8.8zM1293.4 1419.6l4.4 7.4h-8.8zM1297.6 1435.6l4.4 7.4h-8.8zM1301.8 1455l4.4 7.4h-8.8zM1305.9 1475.8l4.4 7.4h-8.8zM1310 1497.8l4.4 7.4h-8.8zM1314 1518.4l4.4 7.4h-8.8zM1318 1540.6l4.4 7.4h-8.8zM1321.9 1564.2l4.4 7.4h-8.8zM1325.8 1587.9l4.4 7.4h-8.8zM1329.6 1613.1l4.4 7.4h-8.8zM1333.4 1635.5l4.4 7.4h-8.8zM1337.1 1657.9l4.4 7.4h-8.8zM1340.8 1679.5l4.4 7.4h-8.8zM1344.4 1701.4l4.4 7.4h-8.8zM1348 1721.1l4.4 7.4h-8.8z" fill="#000" fill-opacity=".13" stroke="#000" stroke-width="0.61"/>
<path d="M809.6 1167.9h6.3M838.2 1174.6h6.3M853.6 1177.9h6.3M872 1183.8h6.3M887.8 1189.5h6.3M905.9 1195.2h6.3M920.6 1201.2h6.3M933.6 1207.2h6.3M946.4 1212.8h6.3M961.2 1219h6.3M973.5 1223.8h6.3M985.4 1229.7h6.3M996.9 1234.7h6.3M1007.9 1239.7h6.3M1018.6 1244.6h6.3M1028.9 1248.5h6.3M1038.8 1253.4h6.3M1048.4 1257.1h6.3M1057.8 1261.9h6.3M1066.8 1264.5h6.3M1075.6 1267.2h6.3M1084.2 1271.2h6.3M1092.5 1274.5h6.3M1100.6 1277.1h6.3M1108.5 1278.5h6.3M1116.1 1281h6.3M1123.6 1282.7h6.3M1131 1283.8h6.3M1138.1 1283.8h6.3M1145.1 1283.8h6.3M1151.9 1283.6h6.3M1158.6 1283.1h6.3M1165.1 1283.1h6.3M1171.5 1283.1h6.3M1177.7 1283.1h6.3M1183.8 1283.1h6.3M1189.9 1283.5h6.3M1195.7 1283.8h6.3M1201.5 1284.4h6.3M1207.2 1285.1h6.3M1212.8 1285.5h6.3M1218.2 1286.8h6.3M1223.6 1289.8h6.3M1228.9 1294.3h6.3M1234.1 1299.5h6.3M1239.2 1303.9h6.3M1244.2 1309.6h6.3M1249.1 1317.1h6.3M1254 1324.9h6.3M1258.7 1334.3h6.3M1263.5 1343.9h6.3M1268.1 1353.2h6.3M1272.6 1364.5h6.3M1277.1 1378.9h6.3M1281.6 1394.2h6.3M1285.9 1407.2h6.3M1290.2 1425.4h6.3M1294.5 1441.4h6.3M1298.7 1460.8h6.3M1302.8 1481.5h6.3M1306.9 1503.6h6.3M1310.9 1524.2h6.3M1314.9 1546.3h6.3M1318.8 1569.9h6.3M1322.6 1593.7h6.3M1326.4 1618.8h6.3M1330.2 1641.3h6.3M1333.9 1663.7h6.3M1337.6 1685.3h6.3M1341.3 1707.1h6.3M1344.8 1726.8h6.3" fill="none" stroke="#000" stroke-width="0.64"/>
</g>
<text transform="matrix(0.3456 0 0 0.3721 56.20 60.24)" font-size="100">0.03</text>
<text transform="matrix(0.3487 0 0 0.3721 56.19 291.09)" font-size="100">0.02</text>
<text transform="matrix(0.3455 0 0 0.3721 56.20 521.94)" font-size="100">0.01</text>
<text transform="matrix(0.3456 0 0 0.3721 56.20 637.44)" font-size="100">0.03</text>
<text transform="matrix(0.3487 0 0 0.3721 56.19 868.29)" font-size="100">0.02</text>
<text transform="matrix(0.3455 0 0 0.3721 56.20 1099.14)" font-size="100">0.01</text>
<text transform="matrix(0.3456 0 0 0.3721 56.20 1214.54)" font-size="100">0.03</text>
<text transform="matrix(0.3487 0 0 0.3721 56.19 1445.39)" font-size="100">0.02</text>
<text transform="matrix(0.3455 0 0 0.3721 56.20 1676.24)" font-size="100">0.01</text>
<text transform="matrix(0.3553 0 0 0.3623 135.29 1770.00)" font-size="100">2</text>
<text transform="matrix(0.2409 0 0 0.2433 152.12 1757.00)" font-size="100">4</text>
<text transform="matrix(0.3553 0 0 0.3623 345.79 1770.00)" font-size="100">2</text>
<text transform="matrix(0.2635 0 0 0.2415 362.11 1757.06)" font-size="100">8</text>
<text transform="matrix(0.3453 0 0 0.3623 550.23 1770.00)" font-size="100">2</text>
<text transform="matrix(0.2436 0 0 0.2424 566.67 1757.06)" font-size="100">16</text>
<text transform="matrix(0.3453 0 0 0.3623 760.73 1770.00)" font-size="100">2</text>
<text transform="matrix(0.2396 0 0 0.2424 778.16 1757.06)" font-size="100">32</text>
<text transform="matrix(0.3553 0 0 0.3623 825.99 1770.00)" font-size="100">2</text>
<text transform="matrix(0.2409 0 0 0.2433 842.82 1757.00)" font-size="100">4</text>
<text transform="matrix(0.3553 0 0 0.3623 1036.39 1770.00)" font-size="100">2</text>
<text transform="matrix(0.2635 0 0 0.2415 1052.71 1757.06)" font-size="100">8</text>
<text transform="matrix(0.3453 0 0 0.3623 1240.83 1770.00)" font-size="100">2</text>
<text transform="matrix(0.2436 0 0 0.2424 1257.27 1757.06)" font-size="100">16</text>
<text transform="matrix(0.3453 0 0 0.3623 1451.23 1770.00)" font-size="100">2</text>
<text transform="matrix(0.2396 0 0 0.2424 1468.66 1757.06)" font-size="100">32</text>
<text transform="matrix(0.4950 0 0 0.4713 807.47 1803.13)" font-size="100" font-style="italic">t</text>
<g transform="translate(40.6 0) rotate(-90)">
<text transform="matrix(0.5362 0 0 0.4803 -976.07 0.82)" font-size="100" font-style="italic">S</text>
<text transform="matrix(0.3767 0 0 0.4804 -946.80 0.79)" font-size="100">(</text>
<text transform="matrix(0.5030 0 0 0.4765 -935.16 -0.08)" font-size="100" font-style="italic">t</text>
<text transform="matrix(0.2667 0 0 0.4893 -915.90 0.72)" font-size="100">,</text>
<text transform="matrix(0.5386 0 0 0.4765 -901.32 -0.08)" font-size="100" font-style="italic">t</text>
<text transform="matrix(0.2871 0 0 0.2872 -883.60 6.91)" font-size="100">w</text>
<text transform="matrix(0.3067 0 0 0.4893 -859.25 0.72)" font-size="100">,</text>
<text transform="matrix(0.4990 0 0 0.4765 -844.05 -0.08)" font-size="100" font-style="italic">t</text>
<text transform="matrix(0.4750 0 0 0.5362 -828.88 -5.48)" font-size="100">′</text>
<text transform="matrix(0.3067 0 0 0.4400 -817.11 1.48)" font-size="100">;</text>
<text transform="matrix(0.4630 0 0 0.4519 -798.14 0.00)" font-size="100" font-style="italic">H</text>
<text transform="matrix(0.3612 0 0 0.4760 -761.17 0.48)" font-size="100">)</text>
</g>
<text transform="matrix(0.4295 0 0 0.4511 140.52 53.65)" font-size="100">Run</text>
<text transform="matrix(0.3262 0 0 0.4333 227.05 53.80)" font-size="100">1</text>
<text transform="matrix(0.4085 0 0 0.3814 246.13 53.23)" font-size="100">:</text>
<text transform="matrix(0.5145 0 0 0.4397 273.26 53.80)" font-size="100" font-style="italic">T</text>
<text transform="matrix(0.5849 0 0 0.4640 316.88 58.83)" font-size="100">=</text>
<text transform="matrix(0.4162 0 0 0.4309 360.64 53.85)" font-size="100">0.9</text>
<text transform="matrix(0.2867 0 0 0.4893 415.53 54.52)" font-size="100">,</text>
<text transform="matrix(0.4752 0 0 0.4765 444.06 53.72)" font-size="100" font-style="italic">t</text>
<text transform="matrix(0.3122 0 0 0.2660 459.00 60.13)" font-size="100">w</text>
<text transform="matrix(0.6022 0 0 0.4640 492.79 58.83)" font-size="100">=</text>
<text transform="matrix(0.4174 0 0 0.4317 537.23 53.80)" font-size="100">2</text>
<text transform="matrix(0.3047 0 0 0.3140 557.10 38.80)" font-size="100">22</text>
<text transform="matrix(0.4295 0 0 0.4511 140.52 630.85)" font-size="100">Run</text>
<text transform="matrix(0.3851 0 0 0.4317 226.36 631.00)" font-size="100">2</text>
<text transform="matrix(0.4085 0 0 0.3814 246.13 630.43)" font-size="100">:</text>
<text transform="matrix(0.5145 0 0 0.4397 273.26 631.00)" font-size="100" font-style="italic">T</text>
<text transform="matrix(0.5849 0 0 0.4640 316.88 636.03)" font-size="100">=</text>
<text transform="matrix(0.4162 0 0 0.4309 360.64 631.05)" font-size="100">0.9</text>
<text transform="matrix(0.2867 0 0 0.4893 415.53 631.72)" font-size="100">,</text>
<text transform="matrix(0.4752 0 0 0.4765 444.06 630.92)" font-size="100" font-style="italic">t</text>
<text transform="matrix(0.3122 0 0 0.2660 459.00 637.33)" font-size="100">w</text>
<text transform="matrix(0.6022 0 0 0.4640 492.79 636.03)" font-size="100">=</text>
<text transform="matrix(0.4174 0 0 0.4317 537.23 631.00)" font-size="100">2</text>
<text transform="matrix(0.2975 0 0 0.3070 557.14 615.54)" font-size="100">26.5</text>
<text transform="matrix(0.4295 0 0 0.4511 140.52 1208.05)" font-size="100">Run</text>
<text transform="matrix(0.3758 0 0 0.4357 226.22 1208.46)" font-size="100">3</text>
<text transform="matrix(0.4085 0 0 0.3814 246.13 1207.63)" font-size="100">:</text>
<text transform="matrix(0.5145 0 0 0.4397 273.26 1208.20)" font-size="100" font-style="italic">T</text>
<text transform="matrix(0.5849 0 0 0.4640 316.88 1213.23)" font-size="100">=</text>
<text transform="matrix(0.4162 0 0 0.4309 360.64 1208.25)" font-size="100">0.9</text>
<text transform="matrix(0.2867 0 0 0.4893 415.53 1208.92)" font-size="100">,</text>
<text transform="matrix(0.4752 0 0 0.4765 444.06 1208.12)" font-size="100" font-style="italic">t</text>
<text transform="matrix(0.3122 0 0 0.2660 459.00 1214.53)" font-size="100">w</text>
<text transform="matrix(0.6022 0 0 0.4640 492.79 1213.23)" font-size="100">=</text>
<text transform="matrix(0.4174 0 0 0.4317 537.23 1208.20)" font-size="100">2</text>
<text transform="matrix(0.2978 0 0 0.3070 556.99 1192.74)" font-size="100">31.25</text>
<text transform="matrix(0.4295 0 0 0.4511 996.72 53.65)" font-size="100">Run</text>
<text transform="matrix(0.3333 0 0 0.4350 1083.53 53.80)" font-size="100">4</text>
<text transform="matrix(0.4085 0 0 0.3814 1102.33 53.23)" font-size="100">:</text>
<text transform="matrix(0.5145 0 0 0.4397 1129.46 53.80)" font-size="100" font-style="italic">T</text>
<text transform="matrix(0.5849 0 0 0.4640 1173.08 58.83)" font-size="100">=</text>
<text transform="matrix(0.4124 0 0 0.4309 1217.19 53.85)" font-size="100">1.0</text>
<text transform="matrix(0.2867 0 0 0.4893 1271.73 54.52)" font-size="100">,</text>
<text transform="matrix(0.4752 0 0 0.4765 1300.26 53.72)" font-size="100" font-style="italic">t</text>
<text transform="matrix(0.3122 0 0 0.2660 1315.20 60.13)" font-size="100">w</text>
<text transform="matrix(0.6022 0 0 0.4640 1348.99 58.83)" font-size="100">=</text>
<text transform="matrix(0.4174 0 0 0.4317 1393.43 53.80)" font-size="100">2</text>
<text transform="matrix(0.2971 0 0 0.3070 1413.34 38.34)" font-size="100">23.75</text>
<text transform="matrix(0.4295 0 0 0.4511 996.72 630.85)" font-size="100">Run</text>
<text transform="matrix(0.3851 0 0 0.4406 1081.99 631.26)" font-size="100">5</text>
<text transform="matrix(0.4085 0 0 0.3814 1102.33 630.43)" font-size="100">:</text>
<text transform="matrix(0.5145 0 0 0.4397 1129.46 631.00)" font-size="100" font-style="italic">T</text>
<text transform="matrix(0.5849 0 0 0.4640 1173.08 636.03)" font-size="100">=</text>
<text transform="matrix(0.4124 0 0 0.4309 1217.19 631.05)" font-size="100">1.0</text>
<text transform="matrix(0.2867 0 0 0.4893 1271.73 631.72)" font-size="100">,</text>
<text transform="matrix(0.4752 0 0 0.4765 1300.26 630.92)" font-size="100" font-style="italic">t</text>
<text transform="matrix(0.3122 0 0 0.2660 1315.20 637.33)" font-size="100">w</text>
<text transform="matrix(0.6022 0 0 0.4640 1348.99 636.03)" font-size="100">=</text>
<text transform="matrix(0.4174 0 0 0.4317 1393.43 631.00)" font-size="100">2</text>
<text transform="matrix(0.2969 0 0 0.3070 1413.34 615.54)" font-size="100">27.625</text>
<text transform="matrix(0.4295 0 0 0.4511 996.72 1208.05)" font-size="100">Run</text>
<text transform="matrix(0.3626 0 0 0.4357 1082.66 1208.46)" font-size="100">6</text>
<text transform="matrix(0.4085 0 0 0.3814 1102.33 1207.63)" font-size="100">:</text>
<text transform="matrix(0.5145 0 0 0.4397 1129.46 1208.20)" font-size="100" font-style="italic">T</text>
<text transform="matrix(0.5849 0 0 0.4640 1173.08 1213.23)" font-size="100">=</text>
<text transform="matrix(0.4124 0 0 0.4309 1217.19 1208.25)" font-size="100">1.0</text>
<text transform="matrix(0.2867 0 0 0.4893 1271.73 1208.92)" font-size="100">,</text>
<text transform="matrix(0.4752 0 0 0.4765 1300.26 1208.12)" font-size="100" font-style="italic">t</text>
<text transform="matrix(0.3122 0 0 0.2660 1315.20 1214.53)" font-size="100">w</text>
<text transform="matrix(0.6022 0 0 0.4640 1348.99 1213.23)" font-size="100">=</text>
<text transform="matrix(0.4174 0 0 0.4317 1393.43 1208.20)" font-size="100">2</text>
<text transform="matrix(0.2978 0 0 0.3070 1413.19 1192.74)" font-size="100">31.75</text>
<path d="M836.4 852.7H863.6M836.4 849.5v6.4M863.6 849.5v6.4" stroke="#000000" stroke-width=".9" fill="none" stroke-opacity=".45"/>
<path d="M850.1 847.8l4.35 7.4h-8.7z" fill="#d0d0d0" stroke="#444" stroke-width=".8"/>
<text transform="matrix(0.4566 0 0 0.4443 890.46 863.10)" font-size="100" font-style="italic">H</text>
<text transform="matrix(0.5957 0 0 0.4640 937.32 868.13)" font-size="100">=</text>
<text transform="matrix(0.4077 0 0 0.4279 981.57 863.26)" font-size="100">0.16</text>
<path d="M836.4 890.3H863.6M836.4 887.1v6.4M863.6 887.1v6.4" stroke="#e51e10" stroke-width=".9" fill="none" stroke-opacity=".5"/>
<circle cx="850.1" cy="890.3" r="4.15" fill="#e51e10"/>
<text transform="matrix(0.4566 0 0 0.4443 890.46 900.73)" font-size="100" font-style="italic">H</text>
<text transform="matrix(0.5957 0 0 0.4640 937.32 905.76)" font-size="100">=</text>
<text transform="matrix(0.4139 0 0 0.4279 981.55 900.89)" font-size="100">0.12</text>
<path d="M836.4 928H863.6M836.4 924.8v6.4M863.6 924.8v6.4" stroke="#0072b2" stroke-width=".9" fill="none" stroke-opacity=".5"/>
<circle cx="850.1" cy="928" r="3.8" fill="#fff" stroke="#0072b2" stroke-width=".85"/>
<text transform="matrix(0.4566 0 0 0.4443 890.46 938.36)" font-size="100" font-style="italic">H</text>
<text transform="matrix(0.5957 0 0 0.4640 937.32 943.39)" font-size="100">=</text>
<text transform="matrix(0.4087 0 0 0.4279 981.57 938.52)" font-size="100">0.1</text>
<path d="M836.4 965.6H863.6M836.4 962.4v6.4M863.6 962.4v6.4" stroke="#f0e442" stroke-width=".9" fill="none" stroke-opacity=".5"/>
<rect x="846.0" y="961.5" width="8.2" height="8.2" fill="#f0e442"/>
<text transform="matrix(0.4566 0 0 0.4443 890.46 975.99)" font-size="100" font-style="italic">H</text>
<text transform="matrix(0.5957 0 0 0.4640 937.32 981.02)" font-size="100">=</text>
<text transform="matrix(0.4096 0 0 0.4279 981.56 976.15)" font-size="100">0.08</text>
<path d="M836.4 1003.2H863.6M836.4 1000v6.4M863.6 1000v6.4" stroke="#e69f00" stroke-width=".9" fill="none" stroke-opacity=".5"/>
<rect x="846.1" y="999.2" width="8" height="8" fill="#fff" stroke="#e69f00" stroke-width=".85"/>
<text transform="matrix(0.4566 0 0 0.4443 890.46 1013.62)" font-size="100" font-style="italic">H</text>
<text transform="matrix(0.5957 0 0 0.4640 937.32 1018.65)" font-size="100">=</text>
<text transform="matrix(0.4041 0 0 0.4279 981.58 1013.78)" font-size="100">0.04</text>
<path d="M836.4 1040.9H863.6M836.4 1037.7v6.4M863.6 1037.7v6.4" stroke="#56b4e9" stroke-width=".9" fill="none" stroke-opacity=".5"/>
<path d="M846.5 1037.3l7.2 7.2m0 -7.2l-7.2 7.2M850.1 1036.7v8.4" stroke="#56b4e9" stroke-width=".8" fill="none"/>
<text transform="matrix(0.4566 0 0 0.4443 890.46 1051.25)" font-size="100" font-style="italic">H</text>
<text transform="matrix(0.5957 0 0 0.4640 937.32 1056.28)" font-size="100">=</text>
<text transform="matrix(0.4139 0 0 0.4279 981.55 1051.41)" font-size="100">0.02</text>
<path d="M836.4 1078.5H863.6M836.4 1075.3v6.4M863.6 1075.3v6.4" stroke="#009e73" stroke-width=".9" fill="none" stroke-opacity=".5"/>
<path d="M845.8000000000001 1074.2l8.6 8.6m0 -8.6l-8.6 8.6" stroke="#009e73" stroke-width=".85" fill="none"/>
<text transform="matrix(0.4566 0 0 0.4443 890.46 1088.88)" font-size="100" font-style="italic">H</text>
<text transform="matrix(0.5957 0 0 0.4640 937.32 1093.91)" font-size="100">=</text>
<text transform="matrix(0.4079 0 0 0.4279 981.57 1089.04)" font-size="100">0.01</text>
<path d="M836.4 1116.1H863.6M836.4 1112.9v6.4M863.6 1112.9v6.4" stroke="#9400d3" stroke-width=".9" fill="none" stroke-opacity=".5"/>
<path d="M850.1 1111.9v8.4" stroke="#9400d3" stroke-width=".85" fill="none" stroke-opacity=".6"/>
<text transform="matrix(0.4566 0 0 0.4443 890.46 1126.51)" font-size="100" font-style="italic">H</text>
<text transform="matrix(0.5957 0 0 0.4640 937.32 1131.54)" font-size="100">=</text>
<text transform="matrix(0.4046 0 0 0.4279 981.58 1126.67)" font-size="100">0.005</text>
</svg>
</body></html>
